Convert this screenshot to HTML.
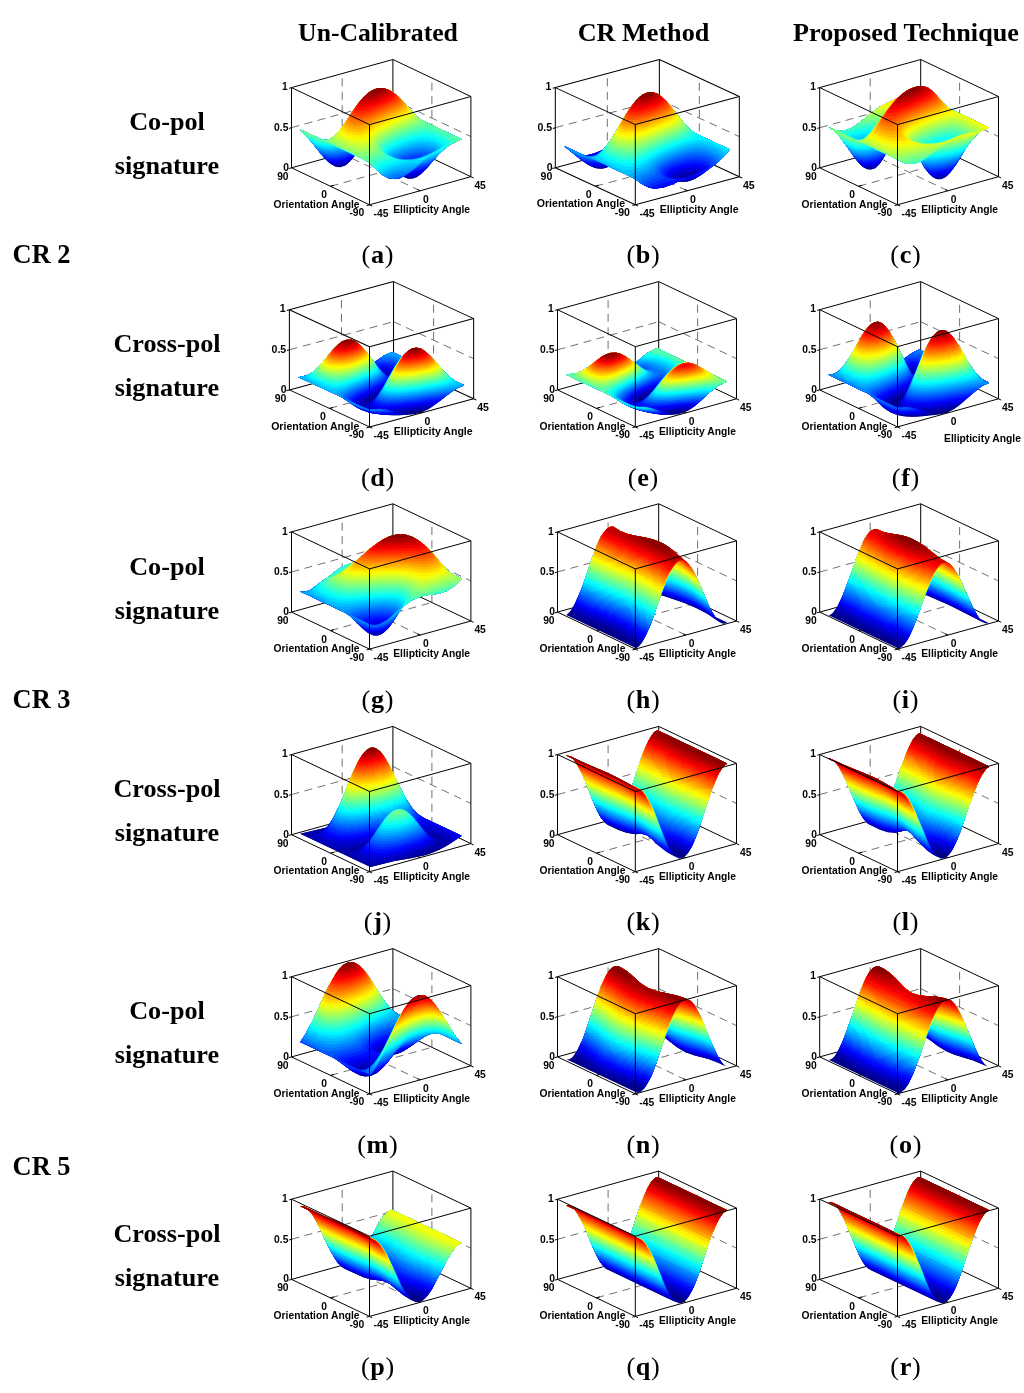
<!DOCTYPE html>
<html><head><meta charset="utf-8"><title>Polarization signatures</title>
<style>
html,body{margin:0;padding:0;background:#fff}
svg{display:block}
.ax path{stroke:#000;stroke-width:1;fill:none}
.ax path.d{stroke:#333;stroke-width:.7;stroke-dasharray:8 5.5}
.tk text{font:bold 10.3px "Liberation Sans",Arial,sans-serif;fill:#000}
.hd text{font:bold 26.2px "Liberation Serif","Times New Roman",serif;fill:#000}
.hd tspan.n{font-weight:normal}
</style></head><body>
<svg width="1024" height="1393" viewBox="0 0 1024 1393">
<rect width="1024" height="1393" fill="#fff"/>

<g class="hd">
<text x="378" y="41.3" text-anchor="middle" style="font-size:25.7px">Un-Calibrated</text>
<text x="643.5" y="41.3" text-anchor="middle">CR Method</text>
<text x="906" y="41.3" text-anchor="middle">Proposed Technique</text>
<text x="167" y="129.9" text-anchor="middle">Co-pol</text>
<text x="167" y="173.8" text-anchor="middle">signature</text>
<text x="167" y="352.3" text-anchor="middle">Cross-pol</text>
<text x="167" y="396.2" text-anchor="middle">signature</text>
<text x="167" y="574.6" text-anchor="middle">Co-pol</text>
<text x="167" y="618.5" text-anchor="middle">signature</text>
<text x="167" y="797" text-anchor="middle">Cross-pol</text>
<text x="167" y="840.9" text-anchor="middle">signature</text>
<text x="167" y="1019.3" text-anchor="middle">Co-pol</text>
<text x="167" y="1063.2" text-anchor="middle">signature</text>
<text x="167" y="1241.7" text-anchor="middle">Cross-pol</text>
<text x="167" y="1285.6" text-anchor="middle">signature</text>
<text x="12.6" y="263.2" style="font-size:26.4px">CR 2</text>
<text x="12.6" y="707.5" style="font-size:26.4px">CR 3</text>
<text x="12.6" y="1175.1" style="font-size:26.4px">CR 5</text>
<text x="377.8" y="263.2" text-anchor="middle" style="letter-spacing:.6px"><tspan class="n">(</tspan>a<tspan class="n">)</tspan></text>
<text x="643.3" y="263.2" text-anchor="middle" style="letter-spacing:.6px"><tspan class="n">(</tspan>b<tspan class="n">)</tspan></text>
<text x="905.8" y="263.2" text-anchor="middle" style="letter-spacing:.6px"><tspan class="n">(</tspan>c<tspan class="n">)</tspan></text>
<text x="377.8" y="485.6" text-anchor="middle" style="letter-spacing:.6px"><tspan class="n">(</tspan>d<tspan class="n">)</tspan></text>
<text x="643.3" y="485.6" text-anchor="middle" style="letter-spacing:.6px"><tspan class="n">(</tspan>e<tspan class="n">)</tspan></text>
<text x="905.8" y="485.6" text-anchor="middle" style="letter-spacing:.6px"><tspan class="n">(</tspan>f<tspan class="n">)</tspan></text>
<text x="377.8" y="707.9" text-anchor="middle" style="letter-spacing:.6px"><tspan class="n">(</tspan>g<tspan class="n">)</tspan></text>
<text x="643.3" y="707.9" text-anchor="middle" style="letter-spacing:.6px"><tspan class="n">(</tspan>h<tspan class="n">)</tspan></text>
<text x="905.8" y="707.9" text-anchor="middle" style="letter-spacing:.6px"><tspan class="n">(</tspan>i<tspan class="n">)</tspan></text>
<text x="377.8" y="930.3" text-anchor="middle" style="letter-spacing:.6px"><tspan class="n">(</tspan>j<tspan class="n">)</tspan></text>
<text x="643.3" y="930.3" text-anchor="middle" style="letter-spacing:.6px"><tspan class="n">(</tspan>k<tspan class="n">)</tspan></text>
<text x="905.8" y="930.3" text-anchor="middle" style="letter-spacing:.6px"><tspan class="n">(</tspan>l<tspan class="n">)</tspan></text>
<text x="377.8" y="1152.6" text-anchor="middle" style="letter-spacing:.6px"><tspan class="n">(</tspan>m<tspan class="n">)</tspan></text>
<text x="643.3" y="1152.6" text-anchor="middle" style="letter-spacing:.6px"><tspan class="n">(</tspan>n<tspan class="n">)</tspan></text>
<text x="905.8" y="1152.6" text-anchor="middle" style="letter-spacing:.6px"><tspan class="n">(</tspan>o<tspan class="n">)</tspan></text>
<text x="377.8" y="1375" text-anchor="middle" style="letter-spacing:.6px"><tspan class="n">(</tspan>p<tspan class="n">)</tspan></text>
<text x="643.3" y="1375" text-anchor="middle" style="letter-spacing:.6px"><tspan class="n">(</tspan>q<tspan class="n">)</tspan></text>
<text x="905.8" y="1375" text-anchor="middle" style="letter-spacing:.6px"><tspan class="n">(</tspan>r<tspan class="n">)</tspan></text>
</g>
<!-- plot a -->
<g>
<g class="ax">
<path d="M291.5 167.8L392.9 139.7"/>
<path d="M392.9 139.7L470.9 176.7"/>
<path d="M392.9 139.7L392.9 59.5"/>
<path d="M291.5 87.6L392.9 59.5"/>
<path d="M392.9 59.5L470.9 96.5"/>
<path d="M291.5 127.7L392.9 99.6" class="d"/>
<path d="M392.9 99.6L470.9 136.6" class="d"/>
<path d="M342.2 153.8L342.2 73.5" class="d"/>
<path d="M431.9 158.2L431.9 78" class="d"/>
<path d="M420.2 190.8L342.2 153.8" class="d"/>
<path d="M330.5 186.3L431.9 158.2" class="d"/>
</g>
<g transform="translate(298 86) scale(.25)" fill-rule="evenodd">
<path fill="#00008c" d="M9 174l45 50 48 60 23 23 20 13 11 4 13 1 18-6 9-6 16-16 16-20 36 17 19 12 55 50 25 13 11 3 23 0 11-3 13-7 20 9 18 0 17-7 17-13 21-21 47-55 30-28 19-13 45-21-162-77-14-10-22-22-37-43-27-26-21-15-28-11-22 0-18 5-19 11-16 13-19 20-17 22-50 75-21 28-20 20-14 9-14 4-18-2z"/>
<path fill="#0000a6" d="M9 174l45 50 48 60 23 23 20 13 8 3 29-3 8-3 22-20 16-20 36 17 19 12 55 50 25 13 11 3 23 0 11-3 13-7 16 8 18-1 21-5 17-13 21-21 47-55 30-28 19-13 45-21-162-77-14-10-22-22-37-43-27-26-21-15-28-11-22 0-18 5-19 11-16 13-19 20-17 22-50 75-21 28-20 20-14 9-14 4-18-2z"/>
<path fill="#0000bf" d="M9 174l45 50 48 60 23 23 11 8 12 3 21-1 32-9 27-31 36 17 19 12 55 50 25 13 11 3 23 0 11-3 13-7 5 3 13 0 31-4 17-5 27-26 47-55 17-17 32-24 45-21-162-77-14-10-22-22-37-43-27-26-21-15-28-11-22 0-18 5-19 11-16 13-19 20-17 22-50 75-21 28-20 20-14 9-14 4-18-2z"/>
<path fill="#0000d9" d="M9 174l45 50 48 60 27 26 30 2 32-6 21-9 16-20 36 17 19 12 55 50 25 13 11 3 23 0 11-3 13-7 4 1 10-4 27-2 35-10 81-89 32-24 45-21-162-77-14-10-22-22-37-43-27-26-21-15-28-11-22 0-18 5-19 11-16 13-19 20-17 22-50 75-21 28-20 20-14 9-14 4-18-2z"/>
<path fill="#0000f2" d="M9 174l45 50 48 60 19 19 12 3 28 0 33-7 25-11 9-11 36 17 19 12 55 50 25 13 11 3 23 0 8-2 16-8 2 1 19-10 40-6 23-8 56-64 30-28 19-13 45-21-162-77-14-10-22-22-37-43-27-26-21-15-28-11-22 0-18 5-19 11-16 13-19 20-17 22-50 75-21 28-20 20-14 9-14 4-18-2z"/>
<path fill="#000dff" d="M9 174l45 50 27 35 32 36 18 5 26 0 15-2 32-9 19-10 2 1 3-3 36 17 19 12 55 50 25 13 11 3 23 0 8-2 29-13 18-11 26-4 36-12 47-55 30-28 19-13 45-21-162-77-14-10-22-22-37-43-27-26-21-15-28-11-22 0-18 5-19 11-16 13-19 20-17 22-50 75-21 28-20 20-14 9-14 4-18-2z"/>
<path fill="#0026ff" d="M9 174l45 50 51 63 17 6 30 1 32-5 31-12 7 0 3 2 3-2 36 17 19 12 55 50 25 13 11 3 23 0 11-3 25-12 28-19 29-5 31-11 40-47 30-28 19-13 45-21-162-77-14-10-22-22-37-43-27-26-21-15-28-11-22 0-18 5-19 11-16 13-19 20-17 22-50 75-21 28-20 20-14 9-14 4-18-2z"/>
<path fill="#0040ff" d="M9 174l45 50 45 56 21 7 29 1 47-9 12-6 16 5 4-1 36 17 19 12 55 50 25 13 11 3 23 0 11-3 27-14 36-25 40-9 19-9 31-37 30-28 19-13 45-21-162-77-14-10-22-22-37-43-27-26-21-15-28-11-22 0-18 5-19 11-16 13-19 20-17 22-50 75-21 28-20 20-14 9-14 4-18-2z"/>
<path fill="#0059ff" d="M503 278l-9 6-4 0-8 4-25 5-28 0-8-3 3-3 18-3 12-5 9 0 16-4 19 0zM9 174l45 50 38 48 14 6 10 1 2 2 6-1 10 2 34-3 31-9 8 0 18 8 3-1 36 17 19 12 55 50 25 13 11 3 23 0 11-3 24-13 44-32 7-3 25-5 27-11 26-30 30-28 19-13 45-21-162-77-14-10-22-22-37-43-27-26-21-15-28-11-22 0-18 5-19 11-16 13-19 20-17 22-50 75-21 28-20 20-14 9-14 4-18-2z"/>
<path fill="#0073ff" d="M523 270l-2 3-27 12-34 8-38 1-20-6 4-1 3-4 6 0 4-4 16-2 4-3 13-2 9-4 25-3 22 0 5 3 5-2zM9 174l45 50 32 40 22 9 4-1 11 3 33-1 30-6 7-3 11 3 21 10 3-1 48 24 27 22 32 31 15 9 24 9 13 0 0-2 4-3 22-6 5 1 32-19 35-27 30-8 26-10 20-23 34-31 15-10 45-21-162-77-14-10-22-22-37-43-27-26-21-15-28-11-22 0-18 5-19 11-16 13-19 20-17 22-50 75-21 28-20 20-14 9-14 4-18-2z"/>
<path fill="#008cff" d="M539 263l-15 10-41 16-25 5-39 0-23-5-7-4 5-4 3 0 2-3 4 0 2-3 8-1 2-4 10 0 8-6 45-9 25-1 3 2 5-1 5 3 5-2 8 6 6-2zM9 174l45 50 25 32 20 7 4 3 7 0 3 2 6-1 18 2 27-3 15-4 11 0 36 16 2-1 48 24 27 22 32 31 31 16-1-2 7-5 19-7 52-11 11-6 40-31 10-4 12-2 32-12 30-32 17-14 15-10 45-21-162-77-14-10-22-22-37-43-27-26-21-15-28-11-22 0-18 5-19 11-16 13-19 20-17 22-50 75-21 28-20 20-14 9-14 4-18-2z"/>
<path fill="#00a6ff" d="M550 257l-8 7-37 18-24 8-20 4-48 0-23-6-12-7 13-9 4 0 2-3 5 0 2-4 6 0 2-3 11-1 4-5 12-1 19-7 6 1 21-5 28 0 4 3 4-2 9 6 7-2zM9 174l45 50 20 25 25 10 8 0 11 3 6-1 10 2 36-6 9 0 14 5 33 16 2-1 48 24 27 22 32 31 18 10 0-2 5-4 21-9 29-8 51-9 46-33 34-10 16-7 23-24 17-14 15-10 45-21-162-77-14-10-22-22-37-43-27-26-21-15-28-11-22 0-18 5-19 11-16 13-19 20-17 22-50 75-21 28-20 20-14 9-14 4-18-2z"/>
<path fill="#00bfff" d="M561 251l-17 13-30 15-31 11-24 5-37 1-12-2-30-9-11-8 11-9 7-2 2-3 7-3 3 1 2-4 7 0 2-4 10 0 0-3 3-2 27-5 15-6 7 0 10-3 33 0 4 3 4-2 9 5 5-2zM9 174l59 67 29 12 9 0 11 3 21 0 30-4 26 10 45 20 37 19 27 22 32 31 7 4 9-9 22-9 54-14 46-6 41-29 33-10 16-7 15-16 32-24 45-21-162-77-14-10-22-22-37-43-27-26-21-15-28-11-22 0-18 5-19 11-16 13-19 20-17 22-50 75-21 28-20 20-14 9-14 4-18-2z"/>
<path fill="#00d9ff" d="M571 244l-8 9-41 23-27 11-37 9-39 0-17-3-26-9-15-10 0-2 7-7 14-8 3 0 2-3 3 1 2-4 5 0 2-3 7 0 2-4 9 0 2-5 15-1 9-6 17-2 11-4 37-3 4 2 6-1 2 2 7-1 5 4 4 0 2-2zM9 174l48 55 11 7 13 6 26 7 23 1 29-3 27 11 90 43 27 22 30 29 1-3 12-10 38-14 51-12 53-6 38-25 42-14 23-21 19-13 45-21-162-77-14-10-22-22-37-43-27-26-21-15-28-11-22 0-18 5-19 11-16 13-19 20-17 22-50 75-21 28-20 20-14 9-14 4-18-2z"/>
<path fill="#00f2ff" d="M9 174l45 50 20 10 13 3 8 4 26 3 26-2 49 20 80 39 27 22 22 22 2-6 4-4 19-10 47-15 43-11-28-3-20-5-23-10-15-10 0-4 14-12 21-10 1-2 6 0 1-4 7 0 2-4 8 0 3-4 12-1 5-5 25-7 10 0 13-4 14 0 6-2 5 2 12-1 5 3 3-2 8 5 6-2 9 6 27 12 4 7-29 19-37 19-39 14 26 1 29-19 44-15 16-14 19-13 45-21-162-77-14-10-22-22-37-43-27-26-21-15-28-11-22 0-18 5-19 11-16 13-19 20-17 22-50 75-21 28-20 20-14 9-14 4-18-2z"/>
<path fill="#0dfff2" d="M9 174l37 41 29 14 11 2 5 3 10 1 3 2 26-1 14 3 53 23 79 39 18 14 24 23 0-7 13-10 68-25-3-3-15-5-23-12-12-12 18-17 14-8 9-2 2-4 5 0 2-3 6 0 2-4 8 0 3-4 12-1 4-5 11-1 32-10 15-1 4-2 35 1 8 5 6-2 29 16 16 6 2 5 4 3-49 31-25 12-2 2 3 0 27-15 38-13 25-19 45-21-162-77-14-10-22-22-37-43-27-26-21-15-28-11-22 0-18 5-19 11-16 13-19 20-17 22-50 75-21 28-20 20-14 9-14 4-18-2z"/>
<path fill="#26ffd9" d="M9 174l18 21 13 12 33 16 30 8 21 0 7 2 67 29 78 39 18 14 16 16-1-8 6-7 23-11 33-12 6-4-4-4-18-10-13-12-1-6 5-6 17-14 11-4 2-3 4 0 1-3 5 0 1-3 6 0 2-4 6 1 2-4 8 0 3-5 10 0 4-5 13-1 7-5 35-8 36-2 4 2 5-1 7 4 5-2 21 12 8-1 7 3 5 7 13 5 9 9 0 3-3 3-38 22 29-10 19-13 45-21-162-77-14-10-22-22-37-43-27-26-21-15-28-11-22 0-18 5-19 11-16 13-19 20-17 22-50 75-21 28-20 20-14 9-14 4-18-2z"/>
<path fill="#40ffbf" d="M9 174l20 23 45 21 17 5 28 4 105 47 6 5 41 19 16 11 15 14 1-1-4-9 6-6 15-8 30-11 9-6 0-2-10-8-13-15 1-8 10-11 9-7 3 0 13-7 3-4 3 1 2-3 5 0 1-3 6 0 2-4 6 0 2-4 8 0 3-4 8 1 3-5 12-1 6-5 11-1 20-7 25-5 29 0 5 3 8 0 18 9 7-1 27 13 5 7 12 5 6 7 0 5-23 14 9-2 9-6 45-21-162-77-14-10-22-22-37-43-27-26-21-15-28-11-22 0-18 5-19 11-16 13-19 20-17 22-50 75-21 28-20 20-14 9-14 4-18-2z"/>
<path fill="#59ffa6" d="M9 174l12 14 51 24 48 14 105 48 5 5 41 19 25 19-7-14 5-5 21-10 8-2 20-11 1-5-11-13-3-9 5-11 9-8 19-12 8-2 2-3 4 0 1-3 6 0 2-4 5 1 1-4 7 0 2-4 7 1 3-5 8 0 2-3 10-1 5-5 11-1 7-5 9-1 35-10 25-1 4 2 8 0 14 7 10 1 52 25 6 7 9 4 4 5-2 6-5 4 32-15-162-77-14-10-22-22-37-43-27-26-21-15-28-11-22 0-18 5-19 11-16 13-19 20-17 22-50 75-21 28-20 20-14 9-14 4-18-2z"/>
<path fill="#73ff8c" d="M515 147l-22-11-14-10-22-22-37-43-19-19-21-17-20-11-12-4-26-1-18 5-13 7-15 11-18 17-33 42-42 64-21 28-20 20-10 7-18 6-18-2-87-40 6 7 29 14 74 29 104 48 8 7 34 15 22 15 4 1-1-3-11-6-4-7 4-4 49-21 4-4 0-6-6-12 0-9 2-4 17-16 4-1 9-7 7-2 2-3 4 0 2-3 3 1 3-4 4 0 3-3 4 1 2-4 7 0 2-4 6 1 2-4 8 0 3-5 9 0 1-3 8-1 20-9 51-16z"/>
<path fill="#8cff73" d="M491 138l-1-4-11-8-22-22-37-43-19-19-21-17-20-11-16-5-29 1-11 4-19 11-27 24-33 42-42 64-21 28-20 20-14 9-9 2-3 3 0 3 40 21 70 31 6 7 2-2 10 3 16-1 38-11 19-10 3-5 0-23 10-12 14-10 9-4 2-3 3 1 12-9 4 1 2-3 5 0 2-4 6 0 2-4 5 1 2-4 7 1 2-4 8-1 2-4 8 0 1-3 9-1 3-3 8-1 2-3 5 0 6-4 17-6 12-7z"/>
<path fill="#a6ff59" d="M479 126l-22-22-37-43-19-19-21-17-20-11-16-5-29 1-11 4-19 11-16 13-19 20-25 33-47 71-16 21-27 25 0 6 4 5 16 7 3 5 8 5 29 13 11 1 19 10 19 3 16 0 18-3 18-6 10-6 4-6 2-13 4-9 16-15 4-1 9-7 11-4 3-4 2 1 8-6 5 0 1-3 5 0 2-3 6 0 2-4 5 1 2-4 7 0 1-3 8 0 1-4 6 0 3-4 7 0 3-3 6-1 3-3 5 0 3-3 11-4 17-11z"/>
<path fill="#bfff40" d="M470 117l-50-56-19-19-21-17-20-11-16-5-29 1-11 4-19 11-16 13-19 20-25 33-47 71-16 21-17 17 2 8 7 7 39 17 22 12 8 0 7 4 5-1 5 2 26 0 13-3 17-8 6-7 9-19 16-14 11-7 7-2 2-3 8-2 1-4 10-2 2-3 5 0 1-4 5 1 2-4 5 1 2-4 6 1 2-4 6 0 3-4 4 1 4-4 6 0 2-4 13-3 2-3 4 0 21-11 8-7z"/>
<path fill="#d9ff26" d="M463 110l-43-49-19-19-21-17-20-11-16-5-29 1-11 4-19 11-16 13-19 20-25 33-47 71-24 29 0 6 3 5 6 3 0 3 20 8 27 14 5-1 11 5 4-1 11 3 30-2 16-7 22-26 24-18 15-6 2-3 9-2 2-4 4 1 1-3 5 0 3-4 4 1 2-4 6 0 1-3 6 0 1-3 7 0 2-4 5 0 2-3 13-3 1-3 6-1 1-2 15-6 14-10 3-6z"/>
<path fill="#f2ff0d" d="M455 101l-35-40-19-19-24-19-17-9-16-5-29 1-11 4-19 11-16 13-19 20-25 33-42 64-21 27 0 7 3 5 6 2 6 8 27 12 6-1 11 6 6-1 11 3 30-2 13-6 24-23 24-17 29-13 2-3 4 1 1-4 6 0 1-3 5 0 2-3 5 0 2-3 6 0 1-3 5 0 2-3 6 0 2-4 5 0 1-2 27-12 13-11 2-4z"/>
<path fill="#fff200" d="M448 93l-47-51-24-19-17-9-16-5-29 1-11 4-19 11-16 13-19 20-25 33-42 64-14 18 0 6 5 8 8 3 6 7 9 4 6-1 13 7 7 0 4 2 5-1 4 2 27-2 14-6 32-25 20-10 3-4 7-2 2-3 3 1 2-3 5 0 1-3 5 0 1-3 5 0 8-6 5 0 1-3 6 0 1-3 6 0 1-3 5 0 3-4 10-2 2-3 10-3 16-9 10-9 2-4z"/>
<path fill="#ffd900" d="M442 86l-41-44-29-22-28-11-29 1-11 4-19 11-16 13-19 20-25 33-49 73 0 7 7 9 30 14 5-1 5 3 27 1 15-3 59-37 8-2 2-3 8-2 8-6 11-2 2-4 5 0 1-3 6 0 1-3 5 0 2-3 5 0 2-3 4 0 2-3 5 0 1-3 10-3 17-9 10-8 4-8z"/>
<path fill="#ffbf00" d="M437 81l-36-39-29-22-28-11-29 1-11 4-19 11-16 13-19 20-25 33-42 63-1 8 9 8 1 3 16 7 4-1 8 4 25 2 21-5 34-20 24-11 7-6 16-5 1-3 5 0 2-3 5 0 8-6 5 0 2-3 5 0 1-3 5 0 2-3 4 0 2-3 4 0 5-2 2-3 7-2 19-13 5-7z"/>
<path fill="#ffa600" d="M430 73l-29-31-29-22-28-11-29 1-11 4-19 11-27 24-33 42-36 54-1 6 4 5 0 3 10 3 14 8 7 0 3 2 29-1 14-5 30-16 3 0 6-5 3 0 7-5 15-6 1-2 5 0 8-6 5 0 2-4 3 1 3-3 5 0 1-3 4 0 3-4 11-2 2-3 4 0 8-6 15-6 16-14z"/>
<path fill="#ff8c00" d="M424 66l-23-24-29-22-28-11-29 1-11 4-19 11-27 24-33 42-30 45-1 4 2 5 8 8 7 3 7 0 5 3 22 1 25-6 32-15 2-3 8-2 3-3 4 0 2-3 10-2 1-3 11-3 2-4 11-2 2-4 5 0 8-5 5 0 1-3 4 0 3-3 4 0 2-3 6-1 19-12 7-7z"/>
<path fill="#ff7300" d="M417 58l-29-27-28-17-16-5-22 0-10 2-27 14-27 24-33 42-24 36 0 6 4 6 15 7 7 0 3 2 22-1 12-3 39-16 2-3 16-5 2-3 11-3 2-3 5 0 2-3 5 0 2-3 4 0 2-3 5 0 1-3 5 0 2-3 4 0 2-3 4 0 1-2 9-3 2-3 7-2 11-7 8-10z"/>
<path fill="#ff5900" d="M411 52l-31-27-20-11-16-5-22 0-10 2-27 14-27 24-25 31-26 38 1 7 12 7 16 4 21-2 21-6 36-17 4 0 3-3 4 0 2-3 5 0 2-3 5 0 8-6 5 0 3-4 3 1 2-3 4 0 3-3 19-8 15-9 8-8z"/>
<path fill="#ff4000" d="M404 45l-24-20-20-11-16-5-22 0-10 2-27 14-27 24-33 42-12 18 1 5 6 6 5 2 29 1 35-10 13-7 5 0 2-3 4 0 4-4 5 0 2-3 5 0 2-3 5 0 2-3 5 0 2-3 11-3 2-3 28-12 15-12 4-7z"/>
<path fill="#ff2600" d="M398 40l-18-15-20-11-16-5-22 0-10 2-21 10-22 17-23 25-21 28-5 10 5 7 15 4 18-1 29-8 7-4 6-1 3-3 6 0 3-4 5 0 3-3 4 0 3-4 14-3 9-6 14-5 2-3 3 0 21-13 6-6z"/>
<path fill="#ff0d00" d="M390 33l-18-13-24-10-26-1-10 2-21 10-22 17-19 20-23 32 2 4 7 5 6-1 11 2 17-3 34-11 2-2 7-1 3-4 13-3 3-4 4 0 19-8 25-14 10-10z"/>
<path fill="#f20000" d="M382 27l-22-13-16-5-22 0-10 2-21 10-22 17-19 20-15 21 2 5 5 3 20 0 41-11 6-4 6 0 4-4 11-3 4-4 5 0 8-6 4 0 20-11 10-9z"/>
<path fill="#d90000" d="M374 22l-14-8-16-5-22 0-10 2-16 7-20 14-18 17-15 20 4 4 6 2 14 0 40-11 4-3 16-5 1-2 5-1 29-15 10-8 2-3z"/>
<path fill="#bf0000" d="M365 17l-21-8-22 0-18 5-19 11-16 13-17 18 1 4 3 2 19 0 43-13 22-10 24-16z"/>
<path fill="#a60000" d="M355 13l-11-4-22 0-10 2-27 14-22 20 4 4 13 0 21-5 40-17 10-7z"/>
<path fill="#8c0000" d="M340 9l-18 0-18 5-19 11-7 6 0 2 2 2 8 0 17-4 27-12 8-7z"/>
</g>
<g class="ax">
<path d="M291.5 167.8L369.5 204.8"/>
<path d="M369.5 204.8L470.9 176.7"/>
<path d="M291.5 167.8L291.5 87.6"/>
<path d="M470.9 176.7L470.9 96.5"/>
<path d="M291.5 87.6L369.5 124.6"/>
<path d="M369.5 124.6L470.9 96.5"/>
<path d="M369.5 204.8L369.5 124.6"/>
<path d="M330.5 186.3L334 185.3"/>
<path d="M420.2 190.8L417.4 189.4"/>
<path d="M369.5 204.8L366.6 205.6"/>
<path d="M369.5 204.8L372.2 206.1"/>
<path d="M291.5 167.8L288.6 168.6"/>
<path d="M470.9 176.7L473.6 178"/>
<path d="M291.5 127.7L289.1 128.4"/>
<path d="M291.5 87.6L289.1 88.3"/>
</g>
<g class="tk"><text x="288.9" y="170.8" text-anchor="end">0</text><text x="288.4" y="130.9" text-anchor="end">0.5</text><text x="287.8" y="90.3" text-anchor="end">1</text><text x="288.6" y="179.6" text-anchor="end">90</text><text x="324.1" y="198.3" text-anchor="middle">0</text><text x="364.3" y="216.2" text-anchor="end">-90</text><text x="373.5" y="216.6">-45</text><text x="425.8" y="202.7" text-anchor="middle">0</text><text x="474.4" y="188.7">45</text><text x="359.6" y="207.5" text-anchor="end">Orientation Angle</text><text x="393.2" y="212.6">Ellipticity Angle</text></g>
</g>
<!-- plot b -->
<g transform="translate(635.3 0) scale(1.028 1) translate(-635.3 0)">
<g class="ax">
<path d="M557.5 167.8L658.7 139.7"/>
<path d="M658.7 139.7L736.5 176.7"/>
<path d="M658.7 139.7L658.7 59.5"/>
<path d="M557.5 87.6L658.7 59.5"/>
<path d="M658.7 59.5L736.5 96.5"/>
<path d="M557.5 127.7L658.7 99.6" class="d"/>
<path d="M658.7 99.6L736.5 136.6" class="d"/>
<path d="M608.1 153.8L608.1 73.5" class="d"/>
<path d="M697.6 158.2L697.6 78" class="d"/>
<path d="M685.9 190.8L608.1 153.8" class="d"/>
<path d="M596.4 186.3L697.6 158.2" class="d"/>
</g>
<g transform="translate(564 90) scale(.25)" fill-rule="evenodd">
<path fill="#00008c" d="M653 237l-67-31-22-12-14-5-35-18-12-9-15-14-17-20-27-37-38-47-29-25-10-6-14-4-20 1-18 8-12 9-15 15-29 39-72 123-27 35-36 15-24 6-14 1-77-37 10 10 60 49 23 16 15 8 16 6 24 2 16-4 9-5 86 41 19 11 22 17 24 13 11 4 17 2 31-3 36-13 25-12 11 2 22-1 28-10 30-19 63-49 32-33z"/>
<path fill="#0000a6" d="M653 237l-67-31-22-12-14-5-35-18-12-9-15-14-17-20-27-37-38-47-29-25-10-6-14-4-20 1-18 8-12 9-15 15-29 39-72 123-27 35-36 15-24 6-14 1-77-37 10 10 60 49 23 16 15 8 16 6 17 2 20-3 12-6 86 41 19 11 22 17 24 13 11 4 17 2 31-3 36-13 25-12 11 2 18-1 15-3 17-7 30-19 63-49 32-33z"/>
<path fill="#0000bf" d="M516 335l-10 6-31 9-18 2-12-1-2-2 11-7 29-8 16-2 10 2 5-1zM653 237l-67-31-22-12-14-5-35-18-12-9-15-14-17-20-27-37-38-47-29-25-10-6-14-4-20 1-18 8-12 9-15 15-29 39-72 123-27 35-36 15-24 6-14 1-77-37 10 10 60 49 23 16 23 11 27 0 18-4 8 2 4-2 86 41 19 11 22 17 24 13 11 4 17 2 31-3 36-13 25-12 4 1 6-3 36-4 22-7 23-15 63-49 32-33z"/>
<path fill="#0000d9" d="M535 327l-6 5-22 10-33 9-28 2-12-1-7-4 6-7 15-8 32-9 18-3 20 0 6 3 4-1zM653 237l-67-31-22-12-14-5-35-18-12-9-15-14-17-20-27-37-38-47-29-25-10-6-14-4-20 1-18 8-12 9-15 15-29 39-72 123-27 35-36 15-24 6-14 1-77-37 57 49 43 30 20 3 39-3 10 4 4-1 86 41 19 11 22 17 24 13 11 4 17 2 31-3 36-13 36-16 39-7 23-6 8-4 73-56 32-33z"/>
<path fill="#0000f2" d="M549 319l-5 7-18 9-35 13-26 5-33 0-13-4-3-3 1-5 6-6 12-7 3 0 15-8 13-2 9-4 30-4 20 0 5 3 9 0zM653 237l-67-31-22-12-14-5-35-18-12-9-15-14-17-20-27-37-38-47-29-25-10-6-14-4-20 1-18 8-12 9-15 15-29 39-72 123-27 35-36 15-24 6-14 1-77-37 57 49 32 23 24 5 38-2 19 8 3-1 86 41 19 11 22 17 24 13 11 4 17 2 31-3 36-13 33-16 17-6 41-9 22-7 66-51 32-33z"/>
<path fill="#000dff" d="M561 314l-8 8-25 13-19 8-32 9-13 2-32 0-15-4-7-4-4-5 3-7 6-6 18-10 23-9 32-8 14 0 4-2 30 2 5 3 7 0 7 3zM653 237l-67-31-22-12-14-5-35-18-12-9-15-14-17-20-27-37-38-47-29-25-10-6-14-4-20 1-18 8-12 9-15 15-29 39-51 89-27 43-21 26-12 5-2 4-11 9-7 4-12 3-11 0-10-4-9 1-77-37 10 10 67 54 33 8 33-1 28 12 2-1 86 41 19 11 22 17 24 13 11 4 17 2 17-1 3-4 30-8 6 1 23-9 18-11 11-3 12-6 69-20 57-44 32-33z"/>
<path fill="#0026ff" d="M653 237l-67-31-22-12-14-5-35-18-12-9-15-14-17-20-27-37-38-47-29-25-10-6-14-4-20 1-18 8-12 9-15 15-29 39-51 89-27 43-18 23-9 5-14 14-13 7-12 3-15-1-9-4-5 1-77-37 10 10 58 47 31 9 33 0 17 6 110 51 19 11 30 22 27 12 6 0 5-6 16-7 74-21-24-5-14-6-8-7-1-7 8-10 12-8 12-5 3-3 19-5 10-5 50-9 7 0 3 2 3-2 4 2 4-1 6 3 5-1 23 11 5 7-5 6-38 21 32-11 46-36 32-33z"/>
<path fill="#0040ff" d="M653 237l-67-31-22-12-14-5-35-18-12-9-15-14-17-20-27-37-38-47-29-25-10-6-14-4-20 1-18 8-12 9-15 15-29 39-51 89-27 43-18 23-8 5-14 14-13 7-10 3-20-1-19-6-70-34 54 46 26 11 17 4 27 1 24 9 111 52 19 11 22 17 24 13 4-6 9-6 51-20 5-7-13-15 2-9 9-10 36-19 6 0 4-4 9-1 28-9 8 0 10-3 26-1 3 2 15 0 7 4 8 0 12 6 8 8 0 8-18 14 8-2 37-29 32-33z"/>
<path fill="#0059ff" d="M653 237l-67-31-22-12-14-5-35-18-12-9-15-14-17-20-27-37-38-47-29-25-10-6-14-4-20 1-18 8-12 9-15 15-29 39-51 89-27 43-18 23-26 22-21 8-12 0-12-3-37-16-46-23 47 40 33 13 37 5 39 16 16 9 1-1 86 41 16 9 22 17 15 9 3-7 6-5 47-22 5-6-2-16 5-10 10-9 20-12 14-6 5 0 5-4 9-1 4-4 27-7 30-5 4 1 15-2 3 2 6-1 2 2 6-1 4 3 7-1 29 14 6 11-8 12 24-19 24-24z"/>
<path fill="#0073ff" d="M653 237l-67-31-22-12-14-5-35-18-12-9-15-14-17-20-27-37-38-47-29-25-10-6-14-4-20 1-18 8-12 9-15 15-29 39-51 89-27 43-18 23-22 20-13 7-11 3-19-1-43-18-46-23 35 30 28 13 23 7 18 2 40 16 39 20 3 0 73 35 19 11 24 18 0-8 7-7 44-22 6-7 2-10 4-8 7-8 19-13 21-9 3-3 4 0 5-4 7 0 5-4 41-10 6-3 22-3 23 0 3 2 5-1 5 3 6-1 11 6 5-2 15 8 2 4 7 4 4 6 0 5-3 6 34-32z"/>
<path fill="#008cff" d="M653 237l-67-31-22-12-14-5-35-18-12-9-15-14-17-20-27-37-38-47-29-25-10-6-14-4-20 1-18 8-12 9-15 15-29 39-51 89-27 43-18 23-26 23-10 5-12 3-11 0-13-3-3-3-33-14-46-23 24 21 42 19 40 11 52 23 25 14 3 0 73 35 16 9 19 14-4-7 0-5 12-9 38-18 7-6 13-21 8-7 24-15 9-3 2-3 5 0 2-3 7-1 2-3 6 0 4-3 11-2 6-5 14-2 20-7 33-4 15 0 3 2 5-1 3 2 8 0 7 4 6-1 31 15 1 3 7 6 2 10 29-30z"/>
<path fill="#00a6ff" d="M653 237l-67-31-22-12-14-5-35-18-12-9-15-14-17-20-27-37-38-47-29-25-10-6-14-4-20 1-18 8-12 9-15 15-29 39-51 89-27 43-18 23-22 21-13 7-10 3-18 0-10-2-3-4-78-37 15 13 5 1 33 17 41 14 63 28 26 15 3 0 73 35 25 16 0-2-8-8 0-4 5-5 48-22 31-31 40-23 11-3 5-4 6 0 2-3 10-2 2-3 15-2 15-7 26-6 23-3 20 0 5 3 5-1 6 4 10 0 17 10 24 10 10 14 18-19z"/>
<path fill="#00bfff" d="M107 269l73 34 6 6 86 41-7-7 0-3 3-3 55-21 13-8 21-20 23-15 15-8 8-2 2-3 5 0 2-3 5 0 4-4 6 0 3-4 6 0 9-5 7 0 6-5 11-1 34-11 41-3 3 2 7 0 5 3 6-1 16 9 7-1 19 9 3 5 13 6 8 9 22-28-138-66-19-15-15-16-58-76-25-28-18-15-13-8-14-4-15 0-11 3-17 9-22 21-12 15-25 37-64 110-29 38-24 20-16 6z"/>
<path fill="#00d9ff" d="M130 269l9 8 70 34 27 9 18 2 21-3 33-10 23-12 11-10 25-17 28-15 4 0 3-3 5-1 2-3 6 0 2-3 7 0 2-4 8 0 2-4 11-1 3-4 12-2 10-5 30-8 21-4 27 0 5 3 5-1 14 7 7-1 45 22 3 5 11 6 13-17-138-66-19-15-15-16-58-76-25-28-18-15-13-8-14-4-15 0-11 3-17 9-22 21-29 39-51 89-27 43-25 32-13 12-13 9z"/>
<path fill="#00f2ff" d="M143 261l4 6 9 4 9 8 37 17 9 1 12 6 6 0 7 3 30 1 25-5 17-6 12-6 41-27 8-3 12-8 10-3 1-3 5 0 2-3 5 0 3-4 6 0 1-3 7 0 4-4 3 1 5-4 7 0 6-5 9-1 5-4 9-1 9-5 41-11 12-2 27 2 7 4 12 2 70 35 2 0 4-6-138-66-19-15-15-16-58-76-25-28-18-15-13-8-14-4-15 0-11 3-17 9-22 21-12 15-25 37-64 110-28 38-14 14z"/>
<path fill="#0dfff2" d="M529 181l-2-4-12-6-27-23-25-30-44-59-21-23-18-15-13-8-14-4-15 0-11 3-17 9-22 21-12 15-25 37-59 102-11 17-18 22-3 7-7 8 0 4 6 8 15 6 8 8 9 4 8 0 17 9 8 0 8 4 5-1 3 2 29 0 16-3 37-15 24-15 15-7 6-5 14-5 2-3 4 0 3-3 4 0 3-4 4 0 2-3 7 0 2-3 6 0 3-4 7 0 3-4 7 0 3-4 9-1 1-2 10-2 5-4 9-1 5-4 38-12 10-5z"/>
<path fill="#26ffd9" d="M512 171l-2-4-14-11-15-16-62-81-31-32-24-15-11-3-20 1-18 8-12 9-15 15-21 27-34 55-25 46-21 34-24 31-2 11 9 10 14 5 31 16 5-1 7 4 5-1 3 2 31 1 18-3 28-10 47-26 26-11 2-3 5 0 2-3 5 0 3-4 5 0 3-3 6 1 3-5 5 1 3-4 6 0 5-4 6 0 4-4 8-1 3-3 4 0 6-4 5 0 6-4 4 0 24-12 4-5z"/>
<path fill="#40ffbf" d="M502 161l-14-13-17-20-57-75-26-26-24-15-11-3-20 1-18 8-12 9-15 15-21 27-34 55-28 51-24 38-13 16-1 4 4 9 4 2 3 5 32 15 7-1 9 5 5-1 13 4 24-1 17-3 30-11 29-16 8-2 2-3 4 0 7-5 11-3 8-6 5 0 2-3 6-1 2-3 6 0 2-3 6 0 2-4 8 0 2-4 7 0 2-3 8-1 1-3 7 0 3-4 7-1 37-18 4-6z"/>
<path fill="#59ffa6" d="M494 154l-31-36-49-65-26-26-24-15-11-3-20 1-18 8-12 9-15 15-21 27-34 55-28 51-30 45-1 7 4 8 7 2 2 5 20 9 7 0 10 5 5-1 5 3 5-1 3 2 19 0 21-3 26-8 36-18 16-6 3-3 4 0 2-3 11-3 2-3 6 0 1-3 7 0 1-3 6 0 2-4 6 0 2-3 7 0 2-4 7 0 3-4 6 0 1-3 6 0 4-4 5 0 3-3 4 0 3-3 21-10 7-7z"/>
<path fill="#73ff8c" d="M485 144l-22-26-44-59-31-32-24-15-11-3-20 1-18 8-12 9-15 15-21 27-34 55-28 51-24 37-1 6 5 7-1 1 10 4 4 6 5 2 8 0 10 6 6-1 6 4 4-2 4 2 15 1 26-3 41-14 16-9 11-3 2-3 12-3 1-3 5 0 2-3 5 0 5-4 2 1 3-4 6 0 2-3 6 0 2-3 6 0 3-5 4 1 4-4 6 0 2-3 6 0 3-3 6-1 2-3 11-3 26-16 4-5z"/>
<path fill="#8cff73" d="M479 137l-60-78-31-32-24-15-11-3-20 1-18 8-12 9-15 15-21 27-34 55-25 46-20 31-2 9 6 9 16 6 13 8 7-1 4 3 6-1 3 2 5-1 10 2 35-5 13-6 18-5 3-3 13-4 3-3 12-3 1-3 6-1 2-3 6 0 2-2 4 0 4-4 6 0 1-3 6 0 2-4 6 1 4-5 3 1 4-4 6 0 1-3 6 0 2-3 6-1 2-3 5 0 3-3 4 0 3-3 9-3 19-13 3-4z"/>
<path fill="#a6ff59" d="M473 130l-54-71-31-32-24-15-11-3-20 1-18 8-12 9-15 15-21 27-76 128 1 6 6 5 0 3 23 11 4-2 8 4 6-1 2 2 28 0 18-3 26-8 4-3 4 0 6-4 14-4 3-3 5 0 2-3 5 0 5-4 4 0 3-4 5 1 2-4 6 0 2-3 5 0 5-4 3 1 4-4 6 0 2-3 5 0 2-3 6-1 2-3 5 0 3-3 4 0 1-2 11-4 18-11 6-6z"/>
<path fill="#bfff40" d="M468 124l-49-65-31-32-24-15-11-3-20 1-18 8-12 9-15 15-21 27-34 55-25 46-11 17 0 5 2 5 6 3-1 3 15 7 7-1 7 4 6-1 11 3 35-3 16-6 12-2 9-5 5 0 2-3 8-1 3-3 5 0 3-4 6 0 2-3 7 0 1-4 6 0 3-3 6 0 2-3 6 0 4-5 5 1 2-4 6 0 1-3 6 0 2-3 6 0 1-3 11-3 2-3 13-5 14-9 6-7z"/>
<path fill="#d9ff26" d="M462 116l-43-57-31-32-24-15-11-3-20 1-23 11-22 21-29 39-56 96-1 7 2 5 7 2 4 6 9 0 9 5 5-1 6 3 21 0 29-5 28-10 9-1 5-4 5 0 4-4 6 0 3-4 6 0 4-4 4 1 3-4 6 0 4-4 4 1 3-4 6 0 2-3 5 0 2-3 6-1 2-3 5 0 3-3 3 1 3-4 8-2 20-12 8-9z"/>
<path fill="#f2ff0d" d="M456 108l-42-55-26-26-24-15-11-3-20 1-23 11-22 21-29 39-26 43-26 47 1 5 3 5 13 4 8 6 8 0 3 2 37-1 24-6 6-3 15-3 5-4 7 0 3-4 8-1 2-3 7 0 3-4 7 0 2-4 7 0 2-3 6 0 2-4 6 0 2-3 6 0 1-3 6 0 2-3 5 0 1-3 10-3 25-15 5-7z"/>
<path fill="#fff200" d="M450 100l-36-47-26-26-24-15-11-3-20 1-23 11-22 21-29 39-47 81 1 6 4 5 18 8 4-2 5 3 5-1 4 2 31-2 27-6 6-4 15-3 4-4 6 0 6-5 7 0 2-3 8-1 1-3 8 0 2-4 6 0 2-3 6 0 2-3 6-1 1-3 5 0 2-3 5 0 8-5 3 0 2-3 7-2 16-12 3-5z"/>
<path fill="#ffd900" d="M445 93l-39-49-26-23-13-8-14-4-20 1-23 11-22 21-29 39-34 57-8 17 6 7 0 3 9 4 7-1 6 4 5-2 3 2 29-1 44-11 2-3 11-1 3-4 10-1 2-4 8 0 2-3 7-1 2-3 7 0 2-4 6 0 2-3 5 0 2-3 5 0 3-4 9-2 7-5 3 0 17-13 4-8z"/>
<path fill="#ffbf00" d="M441 88l-35-44-26-23-13-8-14-4-20 1-23 11-22 21-29 39-37 64 4 7 20 9 34 0 28-6 12-5 14-2 5-5 9 0 3-4 8 0 3-4 7-1 3-3 5 0 3-4 6 0 2-3 5 0 2-3 10-2 2-3 3 0 2-3 7-2 15-10z"/>
<path fill="#ffa600" d="M435 80l-29-36-26-23-13-8-14-4-20 1-23 11-22 21-29 39-32 55 4 7 5 1 10 6 6-1 3 2 25 0 46-10 5-4 13-2 4-5 9 0 3-4 7 0 3-4 6 0 2-3 6 0 1-3 11-3 3-3 9-3 2-3 6-1 16-13z"/>
<path fill="#ff8c00" d="M429 72l-23-28-29-25-10-6-14-4-20 1-23 11-22 21-29 39-26 43 0 4 4 7 9 4 5-1 6 3 21 0 11-3 5 1 31-10 14-2 6-5 8 0 3-4 7 0 3-4 7 0 3-4 5 0 2-3 5 0 2-3 4 0 15-7 16-12 4-7z"/>
<path fill="#ff7300" d="M424 66l-26-30-29-22-16-5-20 1-23 11-22 21-29 39-21 37 3 5 17 8 3-2 5 2 18-1 3-2 6 1 39-9 7-5 11-2 3-4 8 0 2-3 7 0 2-4 6 0 2-3 5 0 2-3 4 0 3-3 14-6 13-10z"/>
<path fill="#ff5900" d="M419 60l-21-24-29-22-16-5-20 1-23 11-22 21-29 39-12 20-3 9 3 4 12 6 22 0 21-3 28-9 14-2 3-4 7 0 5-4 8-1 2-3 6 0 2-3 16-6 12-7 10-8z"/>
<path fill="#ff4000" d="M413 52l-25-25-19-13-16-5-20 1-23 11-22 21-21 27-18 30 6 8 8 0 5 3 30-2 4-2 12-1 17-6 6 0 6-5 9-1 4-4 6 0 3-3 12-3 4-4 13-5 16-12z"/>
<path fill="#ff2600" d="M407 46l-19-19-21-14-14-4-20 1-23 11-22 21-21 27-12 21 3 4 10 5 37-2 16-4 12-5 15-3 4-4 6 0 3-3 5 0 4-4 4 0 10-5 19-13 4-6z"/>
<path fill="#ff0d00" d="M401 39l-13-12-21-14-14-4-20 1-18 8-12 9-15 15-27 37 4 5 10 4 28-1 34-8 7-5 6 0 7-4 5 0 3-3 5-1 2-3 3 0 15-8 9-8z"/>
<path fill="#f20000" d="M395 34l-7-7-21-14-14-4-20 1-18 8-12 9-27 30-7 10 0 5 4 4 18 2 21-3 33-9 4-3 16-5 20-11 5-4z"/>
<path fill="#d90000" d="M386 26l-22-14-11-3-20 1-23 11-22 21-13 17 4 6 10 2 23-2 17-4 8-4 11-2 26-12 11-9z"/>
<path fill="#bf0000" d="M378 20l-11-7-14-4-20 1-23 11-22 21-5 8 5 5 20 0 21-4 10-5 10-2 20-10 9-8z"/>
<path fill="#a60000" d="M370 15l-17-6-20 1-23 11-18 18 6 4 20 0 15-4 29-13 6-5z"/>
<path fill="#8c0000" d="M358 11l-5-2-20 1-18 8-11 9 7 4 23-4 17-7 6-5z"/>
</g>
<g class="ax">
<path d="M557.5 167.8L635.3 204.8"/>
<path d="M635.3 204.8L736.5 176.7"/>
<path d="M557.5 167.8L557.5 87.6"/>
<path d="M736.5 176.7L736.5 96.5"/>
<path d="M557.5 87.6L635.3 124.6"/>
<path d="M635.3 124.6L736.5 96.5"/>
<path d="M635.3 204.8L635.3 124.6"/>
<path d="M596.4 186.3L599.9 185.3"/>
<path d="M685.9 190.8L683.1 189.4"/>
<path d="M635.3 204.8L632.4 205.6"/>
<path d="M635.3 204.8L638 206.1"/>
<path d="M557.5 167.8L554.6 168.6"/>
<path d="M736.5 176.7L739.2 178"/>
<path d="M557.5 127.7L555.1 128.4"/>
<path d="M557.5 87.6L555.1 88.3"/>
</g>
<g class="tk"><text x="554.9" y="170.8" text-anchor="end">0</text><text x="554.4" y="130.9" text-anchor="end">0.5</text><text x="553.8" y="90.3" text-anchor="end">1</text><text x="554.6" y="179.6" text-anchor="end">90</text><text x="590" y="198.3" text-anchor="middle">0</text><text x="630.1" y="216.2" text-anchor="end">-90</text><text x="639.3" y="216.6">-45</text><text x="691.5" y="202.7" text-anchor="middle">0</text><text x="740" y="188.7">45</text><text x="625.4" y="207.5" text-anchor="end">Orientation Angle</text><text x="659" y="212.6">Ellipticity Angle</text></g>
</g>
<!-- plot c -->
<g>
<g class="ax">
<path d="M819.7 167.8L920.7 139.7"/>
<path d="M920.7 139.7L998.5 176.7"/>
<path d="M920.7 139.7L920.7 59.5"/>
<path d="M819.7 87.6L920.7 59.5"/>
<path d="M920.7 59.5L998.5 96.5"/>
<path d="M819.7 127.7L920.7 99.6" class="d"/>
<path d="M920.7 99.6L998.5 136.6" class="d"/>
<path d="M870.2 153.8L870.2 73.5" class="d"/>
<path d="M959.6 158.2L959.6 78" class="d"/>
<path d="M948 190.8L870.2 153.8" class="d"/>
<path d="M858.6 186.3L959.6 158.2" class="d"/>
</g>
<g transform="translate(826 84) scale(.25)" fill-rule="evenodd">
<path fill="#00008c" d="M653 174l-159-76-25-22-32-37-17-16-12-8-20-6-28 2-34 14-20 14-20 18-5 1-57 28-24 15-75 60-15 10-23 11-23 5-19-1-11-3-24-12 23 17 22 23 20 26 36 53 19 24 18 18 17 9 15 2 18-7 16-16 24-38 4-1 68 34 19 5 19 0 32-10 14 24 18 24 21 18 12 5 17 0 19-11 17-17 27-38 39-65 23-31 24-24 13-8z"/>
<path fill="#0000a6" d="M653 174l-159-76-25-22-32-37-17-16-12-8-20-6-28 2-34 14-20 14-20 18-5 1-57 28-24 15-75 60-15 10-23 11-23 5-19-1-11-3-24-12 23 17 22 23 20 26 36 53 19 24 18 18 17 9 29-3 4-2 16-16 24-38 4-1 68 34 19 5 19 0 32-10 14 24 18 24 14 13 16 9 30-4 9-6 17-17 27-38 39-65 23-31 24-24 13-8z"/>
<path fill="#0000bf" d="M653 174l-159-76-25-22-32-37-17-16-12-8-20-6-28 2-34 14-20 14-20 18-5 1-57 28-24 15-75 60-15 10-23 11-23 5-19-1-11-3-24-12 23 17 22 23 62 87 13 16 23 21 31-1 23-7 13-15 18-30 4-1 68 34 19 5 19 0 32-10 14 24 14 19 14 15 9 6 26-1 28-7 23-26 17-25 39-65 23-31 24-24 13-8z"/>
<path fill="#0000d9" d="M653 174l-159-76-25-22-32-37-17-16-12-8-20-6-28 2-34 14-20 14-20 18-5 1-57 28-24 15-75 60-15 10-23 11-23 5-19-1-11-3-24-12 23 17 22 23 62 87 26 29 13 3 22-1 19-4 19-8 22-35 4-1 68 34 19 5 19 0 32-10 14 24 18 24 9 9 7 1 37-2 29-9 27-36 43-71 23-31 24-24 13-8z"/>
<path fill="#0000f2" d="M653 174l-159-76-25-22-32-37-17-16-12-8-20-6-28 2-34 14-20 14-20 18-5 1-57 28-24 15-75 60-15 10-23 11-23 5-19-1-11-3-24-12 23 17 22 23 20 26 36 53 26 31 18 3 14 0 36-8 17-8 16-26 4-1 68 34 19 5 19 0 32-10 14 24 20 26 12 2 19 0 27-4 29-10 24-33 39-65 23-31 24-24 13-8z"/>
<path fill="#000dff" d="M653 174l-159-76-25-22-32-37-17-16-12-8-20-6-28 2-34 14-20 14-20 18-5 1-57 28-24 15-75 60-15 10-23 11-23 5-19-1-11-3-24-12 23 17 22 23 62 87 12 14 6 3 27 3 33-5 33-14 10-17 4-1 68 34 19 5 19 0 32-10 14 24 14 19 16 3 14 0 30-4 24-6 16-7 17-24 39-65 23-31 24-24 13-8z"/>
<path fill="#0026ff" d="M653 174l-159-76-25-22-32-37-17-16-12-8-20-6-28 2-34 14-20 14-20 18-5 1-57 28-24 15-75 60-15 10-23 11-23 5-19-1-11-3-24-12 23 17 22 23 69 95 18 5 5-1 3 2 20-1 23-4 16-5 24-12 5-8 4-1 68 34 19 5 19 0 32-10 21 34 12 5 28 0 24-3 29-7 19-8 12-16 39-65 23-31 24-24 13-8z"/>
<path fill="#0040ff" d="M653 174l-159-76-25-22-32-37-17-16-12-8-20-6-28 2-34 14-20 14-20 18-5 1-57 28-24 15-75 60-15 10-23 11-23 5-19-1-11-3-24-12 10 6 26 24 29 36 39 57 16 9 7 0 3 2 5-1 3 2 32-3 27-7 15-6 13-8 3 1 1-2 3 0 68 34 19 5 19 0 32-10 16 27 16 6 21 0 40-5 6-3 23-5 18-8 44-72 23-31 24-24 13-8z"/>
<path fill="#0059ff" d="M653 174l-159-76-25-22-32-37-17-16-12-8-20-6-28 2-34 14-20 14-20 18-5 1-57 28-24 15-75 60-15 10-23 11-23 5-19-1-11-3-24-12 23 17 22 23 20 26 36 53 19 7 25 2 35-5 28-9 8-5 8 0 3 2 5-1 68 34 19 5 19 0 32-10 14 22 12 2 2 2 27 0 34-4 6-3 13-1 19-6 18-9 39-63 32-41 21-18z"/>
<path fill="#0073ff" d="M653 174l-159-76-25-22-32-37-17-16-12-8-20-6-28 2-34 14-20 14-20 18-5 1-57 28-24 15-75 60-15 10-23 11-23 5-19-1-11-3-24-12 23 17 22 23 50 70 19 9 8 0 2 2 28 0 22-3 17-4 19-9 4 0 14 6 4-1 71 35 16 4 19 0 32-10 9 15 9 3 4-1 3 2 33 0 41-6 32-9 19-9 34-55 32-41 21-18z"/>
<path fill="#008cff" d="M653 174l-159-76-25-22-32-37-17-16-12-8-20-6-28 2-34 14-20 14-20 18-5 1-57 28-24 15-75 60-15 10-23 11-23 5-19-1-11-3-24-12 23 17 22 23 45 63 20 9 8 0 3 2 6-1 3 2 26-1 26-5 23-8 22 9 5 0 71 35 16 4 19 0 32-10 4 7 8 4 15 0 2 2 32-1 5-2 22-2 3-2 8 0 37-10 19-9 29-47 32-41 21-18z"/>
<path fill="#00a6ff" d="M653 174l-159-76-25-22-32-37-17-16-12-8-20-6-28 2-34 14-20 14-20 18-5 1-57 28-24 15-75 60-15 10-23 11-23 5-19-1-11-3-24-12 23 17 22 23 20 26 19 29 14 5 7 5 7 0 6 3 14-1 2 2 36-4 22-7 8 0 28 12 4 0 68 34 19 5 19 0 31-10 9 4 17 2 44-2 2-2 12 0 7-3 23-3 38-12 10-6 23-38 23-31 14-15 16-13z"/>
<path fill="#00bfff" d="M653 174l-159-76-25-22-32-37-17-16-12-8-20-6-28 2-34 14-20 14-20 18-5 1-57 28-24 15-75 60-15 10-23 11-23 5-19-1-11-3-24-12 10 6 26 24 20 24 22 32 9 5 10 3 5 4 9 0 4 3 7-1 3 2 36-2 30-6 29 11 8 5 4 0 68 34 19 5 19 0 42-13 12 2 21 0 26-2 3-2 4 1 4-2 34-5 37-11 16-9 17-29 23-31 14-15 16-13z"/>
<path fill="#00d9ff" d="M156 211l-8 7-13 4-6 0-7-3 1-2 6-2 6 1 9-4 6 0 3-2zM653 174l-159-76-25-22-32-37-17-16-12-8-20-6-28 2-34 14-20 14-20 18-5 1-57 28-24 15-75 60-15 10-23 11-23 5-19-1-11-3-24-12 10 6 26 24 37 48 22 10 3 3 11 1 4 3 37 0 23-4 3-2 8 1 48 20 68 34 19 5 19 0 16-4 33-14 45-1 8-3 6 1 3-2 17-1 2-2 13-1 5-3 23-4 21-8 12-7 12-21 13-18 24-28 16-13z"/>
<path fill="#00f2ff" d="M168 199l-3 6-11 10-8 5-12 3-16-3-12-7 1-2 14-2 12-5 21-2 2-2 6 1 4-3zM653 174l-159-76-25-22-32-37-17-16-12-8-20-6-28 2-34 14-20 14-20 18-5 1-57 28-24 15-75 60-15 10-23 11-23 5-19-1-11-3-24-12 10 6 26 24 31 40 26 13 13 2 3 3 7-1 2 2 27 0 22-4 10 1 55 24 27 14 3 0 38 20 19 5 19 0 28-8 30-16 27-1 3-2 3 1 25-3 2-2 9 0 2-2 29-4 37-12 13-7 8-14 19-26 28-29 13-8z"/>
<path fill="#0dfff2" d="M475 225l-29 8-16 0 23-7 8 1 9-4zM474 224l3-2 1 1-1 2zM178 189l-2 5-17 18-12 8-11 3-18-2-17-8-8-6 3-3 24-7 10 0 5-3 9 0 15-5 3 2 6-3zM653 174l-159-76-25-22-32-37-17-16-12-8-20-6-28 2-34 14-20 14-20 18-5 1-57 28-24 15-75 60-15 10-23 11-23 5-19-1-11-3-24-12 10 6 26 24 24 31 29 15 13 2 4 3 18 2 25-1 5-2 11 1 55 23 9 6 33 14 38 20 19 5 19 0 28-8 39-23 57-6 5-3 24-3 46-14 14-7 26-37 24-24 13-8z"/>
<path fill="#26ffd9" d="M510 212l-7 5-45 15-38 5-13 0-4-2 1-2 8 0 0-2 4-3 12 0 2-5 29-8 3 2 9-4 6 1 23-4 5 2 3-2zM187 178l-9 15-17 18-13 9-9 3-11 1-14-4-28-14-7-6 4-3 5 0 38-11 10 0 6-3 3 1 6-3 6 1 14-4zM653 174l-159-76-25-22-32-37-17-16-12-8-20-6-28 2-34 14-20 14-20 18-5 1-57 28-24 15-75 60-15 10-23 11-23 5-19-1-11-3-24-12 23 17 32 36 33 17 12 2 6 3 4-1 3 2 10 1 25-2 7 1 65 28 80 40 19 5 19 0 28-8 50-31 25-2 4-2 38-5 15-5 15-2 32-11 13-8 19-27 24-24 13-8z"/>
<path fill="#40ffbf" d="M525 205l-3 4-19 9-21 8-31 8-31 4-25-1-8-3 1-3 5 0 2-4 6 1 2-5 9 1 2-5 14-1 1-5 17-2 16-6 4 1 8-3 5 1 8-3 21 1 3-2 3 3 5-2zM195 168l-18 27-19 19-11 7-11 3-10 0-11-3-31-15-18-12 9-5 43-11 7 0 8-3 4 1 17-5 5 1 4-3 5 1 16-3zM653 174l-159-76-25-22-32-37-17-16-12-8-20-6-28 2-34 14-20 14-20 18-5 1-57 28-24 15-75 60-15 10-23 11-23 5-19-1-11-3-24-12 23 17 27 29 34 17 28 7 29 0 7 2 73 32 9 6 29 14 3 0 38 20 19 5 19 0 28-8 6-6 18-9 33-23 45-6 21-6 8 0 49-14 15-7 16-22 24-24 13-8z"/>
<path fill="#59ffa6" d="M542 200l-31 15-28 11-39 10-49 2-20-4-4-3 4-1 2-3 3 0 2-3 3 1 2-4 6 0 1-3 6 1 2-5 10 0 2-5 11 1 6-7 12-1 20-7 7 1 9-4 25 0 2-2 5 2 2-2 6 3 3-2 6 4 5-2zM653 174l-159-76-25-22-32-37-17-16-12-8-20-6-28 2-34 14-20 14-20 18-5 1-57 28-24 15-28 21-35 30-21 14-1 2 4 1 6-3 6 1 17-5 6 1 3-2 5 1 9-3 26-3 5 1-5 11-18 25-18 19-13 9-16 4-16-3-56-28-9-8-17-3-24-12 23 17 19 20 36 18 35 10 17 0 11 3 85 38 4 4 29 14 3 0 38 20 19 5 9 0 2-4 49-14 54-36 61-10 44-11 28-12 20-24 15-14 13-8z"/>
<path fill="#73ff8c" d="M565 194l-14 6-16 4-53 23-36 9-26 3-24 0-22-4-13-6 2-4 5-1 7-6 4 0 1-3 5 0 2-3 5 0 2-4 7 1 1-4 9 0 2-5 13 0 1-5 17-2 26-9 6 1 6-3 12 0 2-2 14 0 10 3 5-2 8 5 4-3 15 10 5-4zM653 174l-159-76-25-22-32-37-17-16-12-8-20-6-28 2-34 14-20 14-20 18-5 1-57 28-24 15-66 53 5 1 11-3 32-3 3-2 24 0-6 13-24 34-21 21-9 6-13 4-19-2-58-28-16-10-9-2-24-12 10 6 24 22 53 25 18 5 17 2 19 7 86 39 9 7 26 11 41 21 4 0 3-4 28-10 55-11 16-9 22-17 14-8 63-11 35-9 30-12 13-16 15-14 13-8z"/>
<path fill="#8cff73" d="M572 192l-4 4-31 8-54 23-35 9-25 3-39-1-23-6-10-6 0-2 7-6 14-6 2-3 4 0 2-3 5 0 1-4 6 1 1-4 8 0 1-4 8 1 3-5 10 0 6-6 11 0 32-11 9 0 7-3 23-1 4 2 4-2 4 3 4-2 8 5 6-2 10 7 15 6zM653 174l-159-76-25-22-32-37-17-16-12-8-20-6-28 2-34 14-20 14-20 18-5 1-57 28-24 15-48 38-2 3 4 1 3-2 12 0 28-5 4 1 13-2 3 3-22 35-15 20-19 20-13 9-15 4-16-2-70-34-8-6-29-13 10 6 15 13 5 1 28 15 27 12 34 10 107 48 10 8 26 11 30 16 5-7 13-6 5 0 27-8 8 0 10-4 52-9 33-23 10-5 68-13 42-12 13-6 13-14 16-13z"/>
<path fill="#a6ff59" d="M594 189l-2 2-18 3-6 3-32 8-33 15-28 10-43 9-36 1-14-2-23-6-17-9 0-2 13-11 3 0 10-8 3 1 2-3 4 0 2-3 5 0 2-4 5 1 3-5 6 1 2-4 8 1 3-6 10 1 3-6 16-1 11-7 13-3 9 0 7-3 31-3 11 3 6-1 5 4 9-1 23 14zM653 174l-154-73-17-12-45-50-21-19-21-10-21-1-21 4-27 12-20 14-20 18-5 1-57 28-24 15-36 28 2 2 44-6 13 0 1 2-17 29-28 39-25 24-7 4-16 4 108 50 7 7 26 11 18 10-4-4 0-3 10-6 82-18 57-9 40-24 48-9 59-16 14-6 21-19z"/>
<path fill="#bfff40" d="M604 187l-5 4-25 4-37 10-54 23-29 8-24 4-36 0-20-3-27-9-10-6-3-4 20-18 16-6 2-4 4 1 2-3 5 0 2-4 5 1 3-5 7 1 0-3 3-2 7 1 3-5 10 0 2-5 13 0 7-6 15-2 21-7 25-4 10 2 6-1 4 3 4-2 9 5 5-2 28 16 28 11zM150 225l11 9 44 19 40 21 26 6 26-1 121-23 34-4 20-12 18-8 77-17 34-11 16-13 36-17-154-73-17-12-45-50-21-19-21-10-21-1-21 4-27 12-20 14-20 18-5 1-57 28-45 31 4 1 11-2 36-1 1 3-13 22-37 53-23 24-8 6z"/>
<path fill="#d9ff26" d="M618 182l-4 5-14 5-22 3-39 10-54 23-26 8-25 5-28 1-31-4-30-10-17-12 2-7 11-11 8-3 7-6 2 1 7-6 4 0 2-3 4 1 2-4 5 1 2-4 6 1 2-5 7 1 2-5 8 1 2-5 10 0 3-5 12 0 3-5 16-2 8-5 36-8 15-1 11 3 6-1 8 5 4-2 4 1 33 18 29 12 2 5zM162 217l2 4 6 2 4 6 41 18 19 11 11 1 20 7 34 0 43-6 86-18 44-4 29-14 50-11 58-16 15-10 29-13-154-73-17-12-45-50-21-19-21-10-21-1-21 4-27 12-20 14-20 18-5 1-57 28-28 18 42 0 1 3-47 72z"/>
<path fill="#f2ff0d" d="M614 190l-18 5-22 2-38 10-12 6 52-12zM171 209l4 6 6 2 5 7 23 9 21 11 8 0 11 6 8 0 5 3 36 1 37-5 36-9-1-2-25-9-11-6-11-10-1-5 10-13 17-12 3 0 3-3 2 1 2-3 3 1 2-4 4 0 2-3 5 0 2-3 5 0 2-4 6 1 2-4 7 0 1-4 9 0 2-4 9 0 2-4 9 0 4-5 11-1 6-5 13-2 18-7 23-5 20 1 9 4 6-1 44 23 37 16 10 9 0 4-3 3-13 5 6 0 31-15-154-73-17-12-45-50-21-19-21-10-21-1-21 4-27 12-20 14-20 18-5 1-65 33 19 3 11-1 2 2-52 79-24 31z"/>
<path fill="#fff200" d="M507 105l-25-16-45-50-27-23-22-7-23 1-12 3-27 12-20 14-20 18-5 1-39 20 2 3 10 1 2 4-76 111 0 5 6 7 8 3 2 5 29 14 8-1 12 7 6-1 7 4 6-1 11 3 26-1 27-4 16-6-22-16-5-8 0-6 5-8 14-12 10-4 3-4 7-1 2-4 9-2 2-4 5 1 1-3 7 0 1-4 6 1 2-5 7 1 2-4 8 0 1-4 9 0 2-4 10-1 2-4 8 0 5-4 9-1 5-4 5 0 18-8 9-2 16-8z"/>
<path fill="#ffd900" d="M490 95l-21-19-39-44-20-16-22-7-23 1-12 3-27 12-20 14-20 18-22 10 3 5-33 45-45 68-2 7 8 10 13 5 5 5 9 2 17 9 8 0 16 5 5-1 11 2 33-3 10-5 0-3-10-13 0-13 16-16 14-9 7-2 2-3 3 1 2-3 4 0 1-3 5 0 2-3 5 0 2-4 6 0 1-3 7 0 1-4 8 0 3-4 5 1 3-4 7 0 2-4 8 0 2-4 8 0 3-4 8-1 13-7 11-3 13-7 5-5z"/>
<path fill="#ffbf00" d="M480 87l-43-48-27-23-22-7-23 1-15 4-24 11-20 14-20 18-7 2-50 66-33 51-2 8 2 4 6 4 0 2 35 16 5-1 7 4 6-1 11 3 25 0 10-3 4-4-1-17 2-6 11-12 11-8 6-2 2-3 6-1 2-3 9-2 2-4 4 0 2-3 4 1 2-4 5 0 2-3 6 0 2-4 6 1 1-4 6 1 3-4 7 0 2-4 8 0 1-4 8 0 2-4 7 0 2-3 6 0 3-4 4 0 19-9 11-8z"/>
<path fill="#ffa600" d="M471 78l-34-39-27-23-22-7-23 1-15 4-24 11-48 37-28 34-24 34-24 38-1 7 4 6 9 4 6 6 12 2 12 6 4-1 7 3 3-1 11 2 18-3 4-3 9-19 22-19 24-11 1-3 4 0 2-3 4 1 2-4 5 0 3-3 4 1 2-4 6 0 1-3 7 0 1-4 6 1 2-4 7 0 2-4 5 0 3-3 8-1 2-3 5 0 3-3 22-9 17-12z"/>
<path fill="#ff8c00" d="M464 70l-34-38-22-17-20-6-23 1-15 4-24 11-20 14-20 18-4 1-39 48-31 47-5 11 9 11 19 8 19 4 15 0 7-2 7-4 8-10 15-13 24-15 3 0 13-8 3 1 2-4 5 0 2-3 4 1 3-4 5 0 1-3 7 0 1-4 7 0 1-3 6 0 2-3 5 0 4-4 6 0 1-3 6 0 2-3 4 0 28-14 12-11z"/>
<path fill="#ff7300" d="M457 62l-27-30-22-17-20-6-23 1-15 4-24 11-44 34-40 49-24 37-4 10 5 7 22 9 2-1 7 3 8 0 17-4 31-23 16-9 7-2 3-3 3 0 3-3 3 0 2-3 10-2 3-4 5 0 2-3 6 0 2-4 5 1 2-4 6 1 1-4 7 0 2-4 5 1 2-4 6 0 3-3 4 0 1-2 21-9 18-13 3-5z"/>
<path fill="#ff5900" d="M449 53l-29-30-10-7-12-5-24-2-24 5-24 11-12 8-36 31-35 43-17 26-5 11 4 6 14 7 23 1 12-4 26-16 16-7 1-2 17-8 4 0 3-4 4 0 3-3 3 1 5-4 3 1 2-4 5 0 3-4 5 1 2-3 6 0 1-3 7-1 1-3 5 0 3-3 5 0 1-3 10-3 21-11 13-12z"/>
<path fill="#ff4000" d="M443 46l-23-23-10-7-15-6-30 0-20 6-19 9-12 8-31 26-40 49-11 17-3 10 3 4 8 4 23 1 12-4 33-17 8-2 8-6 4 0 3-4 11-2 2-3 4 0 4-4 4 1 3-3 5 0 3-4 5 0 2-3 6-1 1-3 6 0 3-3 4 0 3-3 10-3 2-3 8-2 23-16 3-4z"/>
<path fill="#ff2600" d="M436 38l-20-18-21-10-30 0-20 6-19 9-12 8-29 24-37 45-8 12-3 10 9 5 11 2 20-4 36-17 10-3 3-3 13-4 2-3 5 0 3-4 5 0 2-3 5 1 11-7 4 0 3-4 4 1 4-4 4 0 1-2 10-3 20-11 13-12z"/>
<path fill="#ff0d00" d="M429 32l-19-16-15-6-30 0-20 6-19 9-12 8-29 24-36 45-4 10 5 4 20 0 21-6 6-4 30-11 3-3 5 0 2-3 13-3 3-4 5 0 2-3 5 0 3-4 11-2 3-3 16-6 2-3 3 0 14-8 11-11z"/>
<path fill="#f20000" d="M421 25l-13-10-20-6-23 1-20 6-19 9-33 25-26 29-12 17-1 4 6 3 22-2 27-9 6-4 5 0 4-3 6-1 2-3 7-1 2-3 5 0 12-7 11-3 3-3 22-9 19-12 9-11z"/>
<path fill="#d90000" d="M412 19l-2-3-15-6-21-1-21 4-19 8-20 12-21 17-24 28-5 9 3 2 13 0 20-5 30-11 4-3 7-1 3-3 4 0 12-7 4 0 3-3 25-11 13-9 8-9z"/>
<path fill="#bf0000" d="M402 13l-14-4-23 1-15 4-16 7-20 12-21 17-16 20-1 4 7 2 19-4 23-9 7-1 39-17 17-9 15-13 1-4z"/>
<path fill="#a60000" d="M392 12l-4-3-23 1-15 4-16 7-33 22-13 12 1 5 7 1 14-3 39-14 34-18 8-7z"/>
<path fill="#8c0000" d="M377 10l-12 0-20 6-19 9-23 17 2 2 14-1 37-14 14-8 7-7z"/>
</g>
<g class="ax">
<path d="M819.7 167.8L897.5 204.8"/>
<path d="M897.5 204.8L998.5 176.7"/>
<path d="M819.7 167.8L819.7 87.6"/>
<path d="M998.5 176.7L998.5 96.5"/>
<path d="M819.7 87.6L897.5 124.6"/>
<path d="M897.5 124.6L998.5 96.5"/>
<path d="M897.5 204.8L897.5 124.6"/>
<path d="M858.6 186.3L862.1 185.3"/>
<path d="M948 190.8L945.2 189.4"/>
<path d="M897.5 204.8L894.6 205.6"/>
<path d="M897.5 204.8L900.2 206.1"/>
<path d="M819.7 167.8L816.8 168.6"/>
<path d="M998.5 176.7L1001.2 178"/>
<path d="M819.7 127.7L817.3 128.4"/>
<path d="M819.7 87.6L817.3 88.3"/>
</g>
<g class="tk"><text x="817.1" y="170.8" text-anchor="end">0</text><text x="816.6" y="130.9" text-anchor="end">0.5</text><text x="816" y="90.3" text-anchor="end">1</text><text x="816.8" y="179.6" text-anchor="end">90</text><text x="852.2" y="198.3" text-anchor="middle">0</text><text x="892.3" y="216.2" text-anchor="end">-90</text><text x="901.5" y="216.6">-45</text><text x="953.6" y="202.7" text-anchor="middle">0</text><text x="1002" y="188.7">45</text><text x="887.6" y="207.5" text-anchor="end">Orientation Angle</text><text x="921.2" y="212.6">Ellipticity Angle</text></g>
</g>
<!-- plot d -->
<g transform="translate(369.5 0) scale(1.027 1) translate(-369.5 0)">
<g class="ax">
<path d="M291.5 389.9L392.9 361.8"/>
<path d="M392.9 361.8L470.9 398.8"/>
<path d="M392.9 361.8L392.9 281.6"/>
<path d="M291.5 309.7L392.9 281.6"/>
<path d="M392.9 281.6L470.9 318.6"/>
<path d="M291.5 349.8L392.9 321.7" class="d"/>
<path d="M392.9 321.7L470.9 358.7" class="d"/>
<path d="M342.2 375.8L342.2 295.6" class="d"/>
<path d="M431.9 380.3L431.9 300.1" class="d"/>
<path d="M420.2 412.8L342.2 375.8" class="d"/>
<path d="M330.5 408.4L431.9 380.3" class="d"/>
</g>
<g transform="translate(298 337) scale(.25)" fill-rule="evenodd">
<path fill="#00008c" d="M9 161l167 79 59 41 19 10 27 10 20 5 51 6 50 1 39-2 25-3 27-8 30-16 46-35 18-16 35-25 33-15-35-17-21-15-26-26-45-54-25-24-16-10-15-4-20 3-18 11-20 21-3 0-22-12-16-6-32 15-36 26-42-55-25-24-11-7-11-4-18 0-8 2-15 8-10 8-26 27-38 49-29 30-10 8-19 10z"/>
<path fill="#0000a6" d="M311 237l-7 9-13 11-10 2-2-2 4-6 15-10 10-5zM9 161l167 79 59 41 19 10 27 10 20 5 51 6 50 1 34-2-3-3-12-4 6-3 80-11 3 2 45-32 52-42 15-10 33-15-35-17-21-15-26-26-45-54-25-24-16-10-15-4-20 3-18 11-20 21-3 0-22-12-16-6-32 15-36 26-42-55-25-24-11-7-11-4-18 0-8 2-15 8-10 8-26 27-38 49-29 30-10 8-19 10z"/>
<path fill="#0000bf" d="M320 224l-6 12-20 21-26 14-8 0-3-3 0-7 13-13 44-24zM9 161l167 79 59 41 19 10 27 10 20 5 51 6 34 1 30-3 4-2-18-7-2-2 3-2 88-12 5-2 21-2 8 1 82-64 15-10 33-15-35-17-21-15-26-26-45-54-25-24-16-10-15-4-20 3-18 11-20 21-3 0-22-12-16-6-32 15-36 26-42-55-25-24-11-7-11-4-18 0-8 2-15 8-10 8-26 27-38 49-29 30-10 8-19 10z"/>
<path fill="#0000d9" d="M328 211l-2 7-12 19-10 12-22 20-2 8 4 6-1 2-25-8-17-11 5-10 13-11 33-18 19-8 3-3 13-6zM340 138l3-1 19 4 5 3-2 7-6 4-14-9-4-4zM9 161l167 79 59 41 19 10 27 10 20 5 51 6 57-5-3-3-24-8-4-3 1-1 58-6 53-9 18-1 11-3 18 0 70-55 15-10 33-15-35-17-21-15-26-26-45-54-25-24-16-10-15-4-20 3-18 11-20 21-3 0-22-12-16-6-32 15-36 26-42-55-25-24-11-7-11-4-18 0-8 2-15 8-10 8-26 27-38 49-29 30-10 8-19 10z"/>
<path fill="#0000f2" d="M336 201l-17 30-28 33 0 5 5 6 12 6 9 2 2 2-12 3-18 0-10-2-21-8-18-9-9-7 1-4 6-7 27-18 47-22 3-3 18-8zM331 129l16-1 25 5 1 3-7 15-5 6-2 0-11-7-13-13zM9 161l167 79 59 41 19 10 38 13 14 3 29 2 43-2 21-3-40-14-4-3 1-1 49-3 132-19 8 0 2 2 60-48 15-10 33-15-35-17-21-15-26-26-45-54-25-24-16-10-15-4-20 3-18 11-20 21-3 0-22-12-16-6-32 15-36 26-42-55-25-24-11-7-11-4-18 0-8 2-15 8-10 8-26 27-38 49-29 30-10 8-19 10z"/>
<path fill="#000dff" d="M324 120l31 0 4 2 17 2 2 4-12 24-7 7-25-22-8-11zM9 161l167 79 59 41 19 10 28 10 29 4 34 1 44-5-36-12-25-3-21 3-17 0-10-2-47-21-11-9 7-9 15-11 50-26 20-8 27-16 2 3-7 14-17 28-21 28 1 4 12 9 7 0 16 5 6-1 3 2 29-2 10 1 18-3 9 1 12-3 3 1 20-4 5 1 3-2 16-1 3-2 5 1 23-5 4 1 5-2 19-1 8-3 23 0 29-24 35-25 33-15-35-17-21-15-26-26-45-54-25-24-16-10-15-4-20 3-18 11-20 21-3 0-22-12-16-6-32 15-36 26-42-55-25-24-11-7-11-4-18 0-8 2-15 8-10 8-26 27-38 49-29 30-10 8-19 10z"/>
<path fill="#0026ff" d="M319 112l29-1 12 3 4-1 16 4 2 5-15 29-10 12-2-5-28-29-9-13zM9 161l167 79 68 46 32 11 41 6 44-1 18-3-6-3-31-8-20-1-13 2-21 0-9-2-40-17-21-12-4-5 7-9 17-12 83-40 16-9 14-11 1 2-10 21-23 38-12 15-2 8 3 4 16 8 19 3 5-1 4 2 19 0 8-2 10 1 18-3 4 1 18-4 14 0 19-4 5 1 4-2 15-1 3-2 4 1 39-7 14 0 11-3 8 0 2 2 20-17 35-25 33-15-35-17-21-15-26-26-45-54-25-24-16-10-15-4-20 3-18 11-20 21-3 0-22-12-16-6-32 15-36 26-42-55-25-24-11-7-11-4-18 0-8 2-15 8-10 8-26 27-38 49-29 30-10 8-19 10z"/>
<path fill="#0040ff" d="M9 161l167 79 38 27 23 14 40 14 32 5 46-1 13-3-13-5-12-2-23-1-29 2-11-2-52-23-20-12-2-5 12-12 11-7 90-43 19-12 11-11 0-9-27-31-10-16 1-3 42 0 32 6-10 23-20 33-15 30-32 51 1 4 5 5 12 5 4-1 7 4 3-2 13 3 3-2 4 2 3-2 40 0 37-6 8 1 3-2 3 1 21-3 4-2 23-2 3-2 30-3 4-2 19-1 5-2 13 1 44-33 33-15-35-17-21-15-26-26-45-54-25-24-16-10-15-4-20 3-18 11-20 21-3 0-22-12-16-6-32 15-36 26-42-55-25-24-11-7-11-4-18 0-8 2-15 8-10 8-26 27-38 49-29 30-10 8-19 10z"/>
<path fill="#0059ff" d="M655 193l-35-17-21-15-26-26-35-43-29-30-16-12-15-6-13-1-17 5-14 9-20 21-3 0-22-12-16-6-32 15-30 22 46-1 13 3 5-1 6 3 3-1 8 4-49 91-28 46 0 3 4 5 11 5 4-1 6 3 6-1 11 3 55-2 15-3 12 0 11-3 14 0 14-4 5 1 6-3 4 1 25-5 4 1 10-3 9 0 3-2 5 1 9-3 26-3 4 2 34-25zM9 161l167 79 44 31 3 0 29 14 38 11 47 1 21-3-6-3-17-1-5-2-21 2-20 0-10-2-58-26-23-15 3-7 17-13 97-46 20-13 10-11-1-7-19-22-17-27-3 0-4-4-17-25-21-26-25-24-13-8-9-3-18 0-8 2-15 8-27 25-47 59-29 30-10 8-19 10z"/>
<path fill="#0073ff" d="M655 193l-35-17-21-15-26-26-35-43-29-30-16-12-15-6-13-1-17 5-14 9-20 21-3 0-22-12-16-6-23 10-28 18 1 2 8-2 45 2 3 2 7 0 10 5-3 9-5 6-47 87-20 33-1 6 3 4 12 6 5-1 6 3 5-1 3 2 3-2 3 2 6-1 3 2 3-2 22 1 6-2 27-1 13-3 6 1 11-3 5 1 7-3 4 1 14-4 14 0 14-4 4 1 8-3 4 1 55-9 12 1 24-17zM9 161l167 79 33 23 43 20 38 12 33 0 23-3-15-3-23 2-17 0-11-2-23-9-59-30-8-7 2-6 12-10 24-13 34-14 9-6 11-3 3-3 3 0 3-3 22-10 15-9 13-15-1-4-20-25-13-21-6-4-17-25-21-26-25-24-13-8-9-3-18 0-8 2-15 8-27 25-47 59-29 30-10 8-19 10z"/>
<path fill="#008cff" d="M274 288l16 6 41-3-10-1-20 2zM334 80l39 1 14 3 14 6-7 15-10 15-42 78-17 28-1 5 3 5 10 5 6-1 5 3 6-1 2 2 6-1 3 2 4-2 3 2 9-2 21 1 3-2 26-1 40-5 4-2 5 1 3-2 15-1 4-2 6 1 17-5 5 1 3-2 29-3 31-6 18 0 11-8 33-15-35-17-21-15-26-26-45-54-25-24-16-10-15-4-20 3-18 11-20 21-3 0-22-12-16-6-23 10zM9 161l149 70 25 13 18 13 29 14 39 15-79-39-7-6-1-7 7-7 23-13 25-10 5-4 25-9 5-4 36-16 23-16 5-6 0-5-20-27-10-17-1 1-4-4-17-25-21-26-18-18-20-14-9-3-18 0-12 4-21 14-26 27-38 49-29 30-10 8-19 10z"/>
<path fill="#00a6ff" d="M350 70l31 3 11 5 13 3 1 3-11 20-7 9-59 108-1 4 2 4 12 6 7-1 4 3 4-2 5 3 2-2 4 2 28 0 29-4 19 0 11-4 14 0 3-2 6 1 14-4 6 1 6-3 4 1 106-18 11 1 30-14-35-17-21-15-26-26-45-54-25-24-16-10-15-4-20 3-18 11-20 21-3 0-37-18zM332 140l-26-39-5-4-17-25-21-26-18-18-20-14-9-3-18 0-12 4-21 14-26 27-38 49-29 30-10 8-19 10-34 8 79 38 3 0 22 12 20 8 49 25-11-11 1-4 4-4 31-16 35-14 5-4 11-3 3-3 11-3 3-3 26-11 24-15 6-7z"/>
<path fill="#00bfff" d="M332 219l2 4 12 6 6-1 5 3 4-2 4 2 5-1 3 2 16-2 4 2 2-2 26 0 3-2 3 1 11-3 4 2 2-2 6 1 9-3 17-1 15-4 5 1 7-3 4 1 26-6 6 1 18-5 20-2 4-2 58-10 10-4-29-14-21-15-26-26-45-54-25-24-16-10-9-3-13-1-13 3-18 11-20 21-4 0-48 82zM328 135l-44-63-21-26-18-18-20-14-9-3-18 0-12 4-21 14-26 27-38 49-29 30-10 8-19 10-34 8 134 64 5 0 38-14 24-11 6-1 26-11 3-3 20-6 9-6 16-6 27-15 8-8 3-5z"/>
<path fill="#00d9ff" d="M625 182l-4-6-22-15-26-26-35-43-29-30-22-15-9-3-13-1-13 3-18 11-20 21-3 0-23 36-24 43-28 56 1 3 14 7 6-2 5 4 3-2 4 2 6-1 3 2 2-2 23 1 7-2 4 1 2-2 4 2 22-4 4 1 6-3 3 2 13-4 14 0 14-4 10 0 3-2 5 1 34-8 3 1 27-5 39-10 6-3zM324 131l-40-59-21-26-18-18-20-14-9-3-18 0-12 4-21 14-26 27-48 60-29 27-10 6-14 5-2 6 8 8 31 14 39 20 14 3 9 4 22 1 24-6 25-9 6-4 18-5 12-7 12-3 6-4 10-3 3-3 3 0 3-3 14-5 21-13 7-8z"/>
<path fill="#00f2ff" d="M614 173l-15-12-26-26-35-43-29-30-22-15-9-3-13-1-13 3-14 8-24 24-4 2-21 33-27 48-21 41-1 7 17 8 5-2 5 4 2-2 5 2 4-2 3 2 4-2 3 2 15-2 14 1 3-2 18 0 3-2 3 2 12-4 6 1 5-3 2 2 11-2 5-3 4 2 4-2 9 0 6-3 5 1 7-3 5 1 7-3 8 0 3-2 45-9 23-8 3-3zM321 128l-16-27-21-29-21-26-18-18-20-14-9-3-18 0-12 4-21 14-26 27-48 60-29 27-14 7-2 5 1 3 9 8 22 9 39 20 10 1 5 3 7 0 4 2 16 0 44-11 28-12 6-1 6-4 14-4 9-6 11-3 34-19 5-4z"/>
<path fill="#0dfff2" d="M605 165l-32-30-35-43-29-30-22-15-9-3-13-1-13 3-18 11-20 21-2 0-23 35-37 68-9 21 19 9 14 0 3 2 3-2 4 2 13 0 3-2 9 1 7-2 4 1 17-3 14 0 2-2 13 0 3-2 7 1 6-3 4 1 6-3 3 2 7-4 7 1 6-3 19-2 8-3 8 0 15-5 10-1 24-9 4-4zM317 123l-13-23-20-28-21-26-18-18-20-14-9-3-18 0-12 4-21 14-26 27-48 60-19 19-17 12 0 5 5 7 38 17 22 12 7 0 17 5 13 0 15-2 37-10 9-5 8-1 5-4 16-4 5-4 5 0 2-3 4 0 3-3 16-6 18-10 16-13z"/>
<path fill="#26ffd9" d="M598 160l-25-25-35-43-29-30-22-15-9-3-13-1-13 3-18 11-20 21-2 0-24 37-32 59-9 22 4 5 5 2 4-2 6 4 5-2 4 3 4-2 4 3 4-2 3 2 3-2 22 1 2-2 24-1 2-2 7 1 3-2 13 0 2-2 17 0 5-3 19-2 7-3 4 1 7-3 10 0 45-12 10-4 6-6zM313 117l-9-17-20-28-21-26-18-18-20-14-9-3-18 0-8 2-15 8-27 25-47 59-29 30-10 8 0 5 4 6 9 3 9 9 12 6 12 1 14 8 9 0 5 3 5-1 3 2 24-1 38-9 31-11 2-3 8-1 10-4 1-2 6-1 2-3 4 0 3-3 14-5 18-11 8-9z"/>
<path fill="#40ffbf" d="M593 155l-20-20-35-43-29-30-22-15-9-3-13-1-13 3-14 8-27 26-22 34-36 67-2 9 1 4 8 3 7-1 4 3 5-2 4 3 15 0 2-2 3 2 4-2 15 1 3-2 4 1 10-2 5 1 11-3 3 1 2-2 5 2 5-3 14 0 6-3 6 1 5-3 6 1 10-4 5 1 6-3 9 0 18-6 7 0 29-11 3-3zM310 113l-7-14-19-27-21-26-18-18-20-14-9-3-18 0-8 2-15 8-27 25-47 59-29 30-4 2 0 5 3 6 6 2 5 7 26 12 8-1 7 5 10 1 3 2 6-1 4 2 19 0 15-2 34-11 5 0 9-5 19-5 2-3 7-1 3-3 22-8 2-3 7-2 2-3 4-1 12-9z"/>
<path fill="#59ffa6" d="M587 149l-14-14-35-43-29-30-22-15-9-3-13-1-13 3-14 8-26 25-23 35-23 42-12 25 0 5 13 6 4-2 5 3 6-1 3 2 2-2 5 2 3-2 3 2 3-2 29 0 11-3 3 2 13-4 2 2 6-3 4 2 6-3 4 2 16-6 8 1 7-3 6 1 6-3 22-4 27-8 12-6zM307 110l-4-7 0-4-19-27-21-26-18-18-20-14-9-3-18 0-12 4-21 14-26 27-38 49-28 29 2 7 4 2 4 6 20 8 12 7 7-1 9 5 3-2 5 3 32 0 14-2 36-10 6-4 8-1 5-4 6 0 4-4 6 0 2-3 18-6 2-3 3 0 6-5 6-2 9-7z"/>
<path fill="#73ff8c" d="M582 144l-44-52-29-30-22-15-9-3-13-1-13 3-14 8-25 24-32 51-17 31-7 19 10 3 5 4 5-2 5 3 3-2 3 2 28 0 7-2 18 0 3-2 4 1 5-2 6 1 10-3 7 1 6-3 5 1 5-3 8 0 7-3 3 2 13-5 8 0 34-10 9-4 7-7zM302 98l-39-52-25-24-11-7-11-4-18 0-8 2-15 8-27 25-47 59-22 23 0 6 6 7 22 9 13 8 7-1 6 4 7-1 11 3 40-4 31-9 4-3 10-2 3-3 8-1 2-3 7-1 2-3 5 0 3-3 4 0 10-5 21-14 2-4z"/>
<path fill="#8cff73" d="M577 140l-39-48-29-30-22-15-9-3-13-1-13 3-14 8-25 24-28 44-21 39-3 11 16 8 5-2 5 3 3-2 3 2 15 0 28-3 5 1 2-2 12 1 4-3 12 0 6-3 5 2 8-4 6 1 6-3 10 0 9-4 9 0 16-4 25-11 5-5zM301 96l-38-50-25-24-11-7-11-4-18 0-8 2-15 8-27 25-47 59-17 18 0 5 5 7 9 3 6 6 9 1 14 8 5-2 4 3 6-1 2 2 28 0 46-10 8-5 10-1 4-4 8-1 2-3 6 0 2-3 11-3 23-13 6-6z"/>
<path fill="#a6ff59" d="M572 133l-34-41-29-30-22-15-9-3-13-1-13 3-14 8-25 24-24 37-25 50 2 5 7 3 4-3 5 4 5-2 4 3 3-2 4 2 19 0 3-2 26-1 20-4 3 2 7-4 3 2 20-6 7 1 10-4 9 0 21-6 21-10 4-4zM298 92l-35-46-25-24-11-7-11-4-18 0-12 4-21 14-26 27-51 64 3 7 7 4 0 3 16 8 5-2 11 6 5-1 6 3 4-2 3 2 5-1 4 2 23-2 34-7 9-5 13-3 3-3 8-1 3-3 4 0 6-4 3 0 1-2 10-3 16-10 6-7z"/>
<path fill="#bfff40" d="M567 127l-39-46-25-24-16-10-9-3-13-1-13 3-14 8-25 24-27 43-18 35-1 6 10 5 6-2 4 3 7-1 3 2 2-2 4 2 4-2 3 2 2-2 9 1 3-2 14 1 8-3 3 2 5-2 5 1 11-4 7 1 5-3 7 1 6-3 12-1 9-4 7 1 9-2 13-6 7-1 12-7 3-5zM295 88l-32-42-25-24-11-7-11-4-18 0-8 2-15 8-27 25-55 67 0 4 7 10 22 10 5-2 7 5 7-1 2 2 7-1 2 2 4-2 4 2 18-1 31-6 18-8 10-1 4-4 15-4 2-3 4 0 22-12 7-6z"/>
<path fill="#d9ff26" d="M563 123l-25-31-35-35-16-10-9-3-13-1-13 3-11 6-24 22-27 40-18 35-1 6 13 7 4-3 4 3 6-1 2 2 3-2 4 2 2-2 11 1 8-2 19 0 3-2 6 1 3-2 6 1 14-5 5 2 8-4 8 1 9-4 14-1 10-3 8-5 7-1 13-8zM291 83l-28-37-25-24-11-7-11-4-18 0-12 4-21 14-26 27-42 53 1 5 4 5 9 3 18 10 4-2 7 4 6-1 3 2 3-2 4 2 26-3 4 1 8-3 17-2 9-3 3-3 14-3 3-3 8-1 3-3 10-3 24-14 3-3z"/>
<path fill="#f2ff0d" d="M559 118l-31-37-25-24-16-10-9-3-13-1-13 3-11 6-24 22-26 39-17 35 7 2 7 5 5-2 4 3 22 0 2-2 10 1 9-1 3-2 4 2 11-4 4 2 6-3 3 2 5-3 6 1 7-3 7 0 13-4 3 1 21-6 22-11zM288 78l-25-32-25-24-11-7-11-4-18 0-12 4-21 14-26 27-38 48 3 8 10 3 20 11 4-2 7 4 2-2 5 2 29-1 4-2 28-4 11-6 14-2 3-4 5 0 4-3 6-1 2-3 8-2 15-9 5-6z"/>
<path fill="#fff200" d="M555 113l-27-32-25-24-16-10-9-3-13-1-13 3-11 6-24 22-27 41-12 24 1 7 6 1 2-2 7 4 5-1 4 2 3-2 3 2 7 0 2-2 16 1 12-3 4 2 21-5 22-2 10-4 9 0 27-9 9-5 5-5zM285 74l-22-28-25-24-11-7-11-4-18 0-12 4-21 14-26 27-31 39-2 6 3 5 5 2 1 4 9 4 4-2 11 6 3-2 6 3 27 0 16-2 7-3 14-1 49-19 1-2 16-8 5-6z"/>
<path fill="#ffd900" d="M550 107l-22-26-25-24-16-10-9-3-13-1-13 3-11 6-24 22-26 40-9 18-1 6 8 4 5-2 5 3 12-1 3 2 3-2 10 1 23-3 7 1 4-3 4 2 16-5 8 1 9-4 8 0 28-9 12-7 4-5zM282 70l-19-24-25-24-11-7-11-4-18 0-12 4-21 14-26 27-27 34-2 5 7 10 13 6 6-2 6 4 6-1 3 2 38-1 8-3 17-2 9-3 5-4 10-1 4-4 5 0 5-4 8-2 12-7 8-8z"/>
<path fill="#ffbf00" d="M546 102l-18-21-29-27-21-10-13-1-13 3-11 6-24 22-27 42-6 15 10 5 5-2 5 3 11-1 3 2 8-3 21 1 10-3 5 1 6-3 4 2 7-4 7 1 8-4 12 0 15-5 20-10 4-4zM278 65l-15-19-25-24-11-7-11-4-18 0-12 4-21 14-26 27-25 32 4 9 5 1 12 7 7-1 5 3 12-1 3 2 30-2 6-3 10 0 11-3 9-5 10-1 4-4 11-3 18-11 5-5z"/>
<path fill="#ffa600" d="M542 97l-14-16-29-27-21-10-13-1-13 3-11 6-24 22-17 26-12 24 11 6 6-1 3 2 15 0 2-2 26 0 15-4 5 1 4-2 9 0 12-4 9 0 26-10 10-8zM274 60l-11-14-18-18-13-10-16-7-18 0-12 4-21 14-26 27-18 23-2 6 3 5 19 9 6-1 4 3 4-2 4 2 34-2 31-7 2-3 21-6 1-2 18-8 7-7z"/>
<path fill="#ff8c00" d="M537 91l-28-29-10-8-21-10-13-1-13 3-11 6-24 22-25 41 0 3 11 6 7-1 3 2 3-2 3 2 4-2 3 2 9-3 3 2 2-2 9 1 5-2 5 1 3-2 9 0 3-2 5 1 11-4 8 0 16-5 4-3 4 0 13-8 2-3zM271 56l-26-28-13-10-16-7-18 0-12 4-21 14-26 27-15 19-1 4 2 4 21 10 6-1 2 2 6-1 3 2 9-2 20 0 7-3 9 0 7-3 5 0 8-5 24-8 15-10z"/>
<path fill="#ff7300" d="M533 87l-24-25-16-12-15-6-13-1-13 3-11 6-24 22-15 24-6 15 2 3 4-2 6 4 5-2 3 2 15 0 37-4 3-2 6 1 11-4 9 0 23-8 12-9zM267 51l-22-23-18-13-11-4-18 0-12 4-21 14-26 27-12 17 8 10 6-1 10 5 3-2 5 3 20 0 31-5 27-9 23-12 5-5z"/>
<path fill="#ff5900" d="M529 83l-20-21-16-12-15-6-13-1-13 3-18 11-17 17-2 6-12 17-3 11 3 2 5-1 6 3 2-2 5 2 3-2 4 2 24-3 4 1 13-4 6 1 11-4 13-1 13-5 14-8zM263 46l-18-18-18-13-11-4-18 0-12 4-21 14-26 27-8 11 7 9 4 2 7-1 6 4 3-2 5 2 19 0 8-3 6 1 40-11 21-11 5-6z"/>
<path fill="#ff4000" d="M524 77l-15-15-16-12-15-6-13-1-13 3-18 11-17 17-14 27 5 3 6-1 3 2 26 0 13-3 10 0 4-2 4 1 36-10 9-5 4-4zM259 42l-21-20-11-7-11-4-18 0-12 4-21 14-26 27-3 6 4 7 8 3 6-1 5 3 27 0 20-5 7 0 11-5 10-2 19-10 5-6z"/>
<path fill="#ff2600" d="M519 72l-16-15-16-10-15-4-20 3-18 11-19 20 1 2-9 16 6 3 5-1 4 2 3-2 3 2 8 0 7-2 20-1 5-2 5 1 32-9 11-6 3-4zM255 38l-17-16-13-8-9-3-18 0-12 4-21 14-24 25 0 3 3 5 9 4 3-2 5 3 27 0 3-2 9 0 16-4 22-8 11-6 5-5z"/>
<path fill="#ff0d00" d="M515 68l-12-11-16-10-15-4-20 3-18 11-17 17-5 15 4 2 5-1 3 2 15 0 40-5 23-7 10-6zM251 34l-13-12-13-8-9-3-18 0-8 2-15 8-30 29 4 6 6 3 6-1 4 2 5-1 3 2 15-2 4 1 36-9 14-7z"/>
<path fill="#f20000" d="M510 63l-23-16-15-4-20 3-18 11-17 17 0 9 9 1 3 2 4-2 4 2 7-2 5 1 25-3 13-5 5 0 12-6 5-4zM246 29l-21-15-9-3-18 0-8 2-15 8-25 23 4 6 9 1 5 3 4-2 9 2 13-1 22-5 16-6 11-7z"/>
<path fill="#d90000" d="M504 58l-17-11-9-3-13-1-13 3-18 11-14 14 0 2 3 3 9 3 31-2 20-4 18-8zM241 25l-14-10-11-4-18 0-8 2-15 8-19 18 4 4 11 4 25-1 17-4 20-8z"/>
<path fill="#bf0000" d="M497 53l-19-9-13-1-13 3-11 6-16 14 8 5 27 0 29-8 7-4zM235 20l-19-9-18 0-8 2-15 8-13 12 10 6 28-1 29-10z"/>
<path fill="#a60000" d="M490 49l-12-5-18 0-8 2-19 12 0 3 8 3 15 0 16-3 14-5 4-4zM228 16l-12-5-18 0-8 2-15 8-5 6 2 3 7 0 4 2 16-1 26-9z"/>
<path fill="#8c0000" d="M481 45l-9-2-12 1-12 4-5 3-1 3 4 2 23-2 10-4zM180 21l8 3 11-1 18-6 2-5-26 0-12 6z"/>
</g>
<g class="ax">
<path d="M291.5 389.9L369.5 426.9"/>
<path d="M369.5 426.9L470.9 398.8"/>
<path d="M291.5 389.9L291.5 309.7"/>
<path d="M470.9 398.8L470.9 318.6"/>
<path d="M291.5 309.7L369.5 346.7"/>
<path d="M369.5 346.7L470.9 318.6"/>
<path d="M369.5 426.9L369.5 346.7"/>
<path d="M330.5 408.4L334 407.4"/>
<path d="M420.2 412.8L417.4 411.5"/>
<path d="M369.5 426.9L366.6 427.7"/>
<path d="M369.5 426.9L372.2 428.2"/>
<path d="M291.5 389.9L288.6 390.7"/>
<path d="M470.9 398.8L473.6 400.1"/>
<path d="M291.5 349.8L289.1 350.5"/>
<path d="M291.5 309.7L289.1 310.4"/>
</g>
<g class="tk"><text x="288.9" y="392.9" text-anchor="end">0</text><text x="288.4" y="353" text-anchor="end">0.5</text><text x="287.8" y="312.4" text-anchor="end">1</text><text x="288.6" y="401.7" text-anchor="end">90</text><text x="324.1" y="420.4" text-anchor="middle">0</text><text x="364.3" y="438.3" text-anchor="end">-90</text><text x="373.5" y="438.7">-45</text><text x="425.8" y="424.7" text-anchor="middle">0</text><text x="474.4" y="410.8">45</text><text x="359.6" y="429.6" text-anchor="end">Orientation Angle</text><text x="393.2" y="434.7">Ellipticity Angle</text></g>
</g>
<!-- plot e -->
<g>
<g class="ax">
<path d="M557.5 389.9L658.7 361.8"/>
<path d="M658.7 361.8L736.5 398.8"/>
<path d="M658.7 361.8L658.7 281.6"/>
<path d="M557.5 309.7L658.7 281.6"/>
<path d="M658.7 281.6L736.5 318.6"/>
<path d="M557.5 349.8L658.7 321.7" class="d"/>
<path d="M658.7 321.7L736.5 358.7" class="d"/>
<path d="M608.1 375.8L608.1 295.6" class="d"/>
<path d="M697.6 380.3L697.6 300.1" class="d"/>
<path d="M685.9 412.8L608.1 375.8" class="d"/>
<path d="M596.4 408.4L697.6 380.3" class="d"/>
</g>
<g transform="translate(564 346) scale(.25)" fill-rule="evenodd">
<path fill="#00008c" d="M653 143l-55-27-70-41-22-7-15-2-117-57-17 6-23 13-29 22-20 19-33-24-24-13-18-5-27 1-28 12-57 43-23 15-23 10-43 7 176 83 48 30 31 16 20 8 38 11 41 8 34 4 43 0 17-2 19-5 18-8 32-22 55-51 29-23 27-16z"/>
<path fill="#0000a6" d="M338 193l-9 11-13 10-9 4-8 0-2-2 1-4 11-9 25-11zM653 143l-55-27-70-41-22-7-15-2-117-57-17 6-23 13-29 22-20 19-33-24-24-13-18-5-27 1-28 12-57 43-23 15-23 10-43 7 176 83 48 30 31 16 20 8 38 11 41 8 34 4 42 0-19-5-3-3 42-7 35 0 32-22 55-51 29-23 27-16z"/>
<path fill="#0000bf" d="M349 182l-8 11-25 22-18 7-10 0-4-3 1-6 12-11 30-15 18-6zM653 143l-55-27-70-41-22-7-15-2-117-57-17 6-23 13-29 22-20 19-33-24-24-13-18-5-27 1-28 12-57 43-23 15-23 10-43 7 176 83 48 30 31 16 20 8 38 11 41 8 34 4 27-1-19-8-3-3 7-3 57-7 39 0 21-15 55-51 29-23 27-16z"/>
<path fill="#0000d9" d="M358 172l-18 23-26 22-8 4-19 5-8-1-6-5 2-8 8-8 19-12 42-18 11-3zM653 143l-55-27-70-41-22-7-15-2-117-57-17 6-23 13-29 22-20 19-33-24-24-13-18-5-27 1-28 12-57 43-23 15-23 10-43 7 176 83 48 30 31 16 20 8 38 11 64 11 29-2-24-11-2-3 5-2 86-10 34 1 28-23 47-44 21-16 27-16z"/>
<path fill="#0000f2" d="M366 163l-3 6-28 32-23 18-25 10-12 0-10-7-1-5 2-6 17-15 30-16 26-11 19-6zM653 143l-55-27-70-41-22-7-15-2-117-57-17 6-23 13-29 22-20 19-33-24-24-13-18-5-27 1-28 12-57 43-23 15-23 10-43 7 176 83 48 30 31 16 39 14 67 14 37-2-8-5-19-7-5-4 1-2 84-10 14 0 6-2 39-1 3 2 59-54 29-23 27-16z"/>
<path fill="#000dff" d="M373 154l-2 5-17 22-25 26-38 27-6 2-10-1-8-3-9-8-2-4 2-10 6-7 15-11 59-29 31-10zM653 143l-55-27-70-41-22-7-15-2-117-57-17 6-23 13-29 22-20 19-33-24-24-13-18-5-27 1-28 12-57 43-23 15-23 10-43 7 176 83 70 42 48 18 49 11 48-1-40-18-2-2 1-1 147-14 20 0 3 2 52-48 29-23 27-16z"/>
<path fill="#0026ff" d="M653 143l-55-27-70-41-22-7-15-2-117-57-17 6-23 13-29 22-20 19-33-24-24-13-18-5-27 1-28 12-57 43-23 15-23 10-43 7 176 83 70 42 48 18 34 8 13 1 44-1-11-6-36-14-6 0-10-4-18-1-8 2-28-5-25-12-4-9 3-9 10-10 14-10 69-34 26-9 11 0-9 14-22 27-19 20-19 15-3 5 0 4 3 4 9 4 16 2 40 0 60-5 23-4 8 1 14-3 4 1 29-3 18 0 3 2 45-42 29-23 27-16z"/>
<path fill="#0040ff" d="M653 143l-55-27-70-41-22-7-15-2-117-57-17 6-23 13-29 22-20 19-33-24-24-13-18-5-27 1-28 12-57 43-23 15-23 10-43 7 176 83 48 30 31 16 20 8 38 11 29 2 32 0 4-1-4-3-35-14-6 0-12-4-38-1-23-6-22-11-5-5-1-7 4-8 23-19 45-24 44-20 30-8 1 3-34 45-35 36 0 6 3 3 24 7 68-2 7-2 41-3 6-2 4 1 34-4 5 1 7-2 21 0 4 2 38-36 29-23 27-16z"/>
<path fill="#0059ff" d="M653 143l-55-27-70-41-22-7-15-2-117-57-17 6-23 13-29 22-20 19-33-24-24-13-18-5-27 1-28 12-57 43-23 15-23 10-43 7 176 83 48 30 31 16 20 8 28 8 3-1 38 4 27-1-5-4-29-11-26-4-26 0-26-7-28-14-5-5 0-8 11-14 28-19 93-46 22-6 6 0 2 2-35 47-36 40 1 6 4 3 25 6 33 0 8-2 9 1 24-3 3 1 14-3 7 1 7-2 14 0 41-5 9 1 14-2 10 2 40-37 21-16 27-16z"/>
<path fill="#0073ff" d="M305 80l7-1 16 4 10 5 2 4-4 3-10-1-10-5zM653 143l-55-27-70-41-22-7-15-2-117-57-17 6-23 13-29 22-20 19-33-24-24-13-18-5-27 1-28 12-57 43-23 15-23 10-43 7 176 83 70 42 39 15 38 5 41 0 1-1-7-4-38-11-37-1-25-7-35-18-4-5 1-7 15-17 13-9 90-46 32-20 18-1 8 4-41 54-32 37 1 5 4 3 20 6 63-1 77-9 19 0 26-3 11 1 2 2 34-32 21-16 27-16z"/>
<path fill="#008cff" d="M653 143l-55-27-70-41-22-7-15-2-117-57-17 6-23 13-29 22-20 19-33-24-24-13-18-5-27 1-28 12-57 43-23 15-23 10-43 7 176 83 70 42 25 10 50 8 35 0 2-1-4-3-31-9-27 0-31-6-39-18-9-6-4-5 4-12 21-18 95-50 11-8 8-9 1-8-3-3-9-3-22-3-22-13-10-9 1-3 28 3 20 5 35 16 17 5 15 7-1 4-73 91 0 5 3 3 19 6 52 0 48-4 13-3 9 1 12-3 4 1 24-3 9 1 7-2 21 0 2 2 28-26 21-16 27-16z"/>
<path fill="#00a6ff" d="M9 115l176 83 48 30 29 15 29 8 40 5 30-1-14-6-17-4-27 0-30-6-39-18-16-10-2-7 3-7 13-13 29-18 53-26 20-12 13-11 4-7-3-7-19-6-12-6-17-12-13-12-3 2-32-24-24-13-18-5-21 0-17 5-23 12-51 39-23 15-23 10zM290 64l6 2 5-1 32 3 22 5 44 16 21 12-75 93-2 7 5 5 13 4 6-1 3 2 6-1 9 2 25-1 7-2 11 1 103-11 32-1 4 2 22-20 24-18 24-14 16-5-55-27-70-41-22-7-15-2-117-57-17 6-20 11-20 14z"/>
<path fill="#00bfff" d="M9 115l176 83 65 39 40 13 26 3 37 0-7-4-6 0-12-4-26 0-27-5-40-18-23-14-2-4 1-7 13-14 30-19 63-32 15-10 11-13-3-7-24-11-29-23-3 1-32-24-24-13-18-5-21 0-17 5-23 12-51 39-23 15-23 10zM296 59l36 2 5 2 4-1 18 5 6 0 37 13 24 14-4 7-30 34-44 57 0 4 3 3 15 6 65 0 55-7 51-3 4-2 8 1 16-2 9 2 15-14 24-18 24-14 16-5-55-27-70-41-22-7-15-2-117-57-17 6-20 11-20 14z"/>
<path fill="#00d9ff" d="M9 115l176 83 58 35 46 16 49 3 9-1-16-5-27 0-30-6-40-18-22-12-7-6 0-10 16-16 55-31 31-15 21-14 8-10 0-5-3-3-25-14-22-18-2 1-32-24-24-13-18-5-21 0-17 5-23 12-51 39-23 15-23 10zM302 53l13 2 12-1 36 5 39 12 31 17-1 3-40 44-39 52 0 4 15 8 5-1 4 2 4-1 11 2 32-1 7-2 4 1 44-5 3 1 3-2 5 1 37-5 27-2 26 1 30-24 19-12 24-9-55-27-70-41-22-7-15-2-117-57-29 12-24 16z"/>
<path fill="#00f2ff" d="M9 115l176 83 47 29 56 21 48 1-18-4-24 0-27-7-48-23-16-10-5-6 2-10 11-11 29-18 62-31 22-15 6-8 0-5-24-16-20-17-2 1-32-24-24-13-18-5-21 0-17 5-23 12-51 39-23 15-23 10zM309 47l43 3 21 4 7 3 6 0 18 8 9 2 27 16-45 49-36 47-2 7 16 8 53 1 137-14 21 0 2 2 24-19 19-12 24-9-55-27-70-41-22-7-15-2-117-57-29 12z"/>
<path fill="#0dfff2" d="M268 239l21 9 12-2zM9 115l139 65 16 9 3 0 27 14 30 19 41 16-63-32-10-9 0-9 5-7 23-16 87-45 16-13 2-7-4-5-77-55-16-8-13-4-26-1-17 5-17 8-64 48-24 14-19 7-28 3zM316 41l40 3 18 3 3 2 7 0 41 16 14 7 7 6-43 45-41 54 0 5 13 6 8 0 3 2 34 0 7-2 10 1 6-2 26-1 6-2 10 1 11-3 4 1 6-2 50-5 39 0 34-24 24-9-55-27-70-41-22-7-15-2-117-57-29 12z"/>
<path fill="#26ffd9" d="M277 242l11 5 9-1zM9 115l139 65 16 9 3 0 27 14 15 10 30 13-47-25-8-9 2-10 23-17 86-43 18-13 6-6 1-6-34-28-42-29-16-8-13-4-26-1-17 5-17 8-64 48-24 14-19 7-28 3zM325 35l31 2 29 5 7 4 15 3 43 21 3 3-43 42-38 48-6 10 0 3 13 7 14 0 11 3 3-2 15 1 25-3 4 1 14-3 7 1 6-2 15 0 28-5 7 1 40-5 35 0 26-18 24-9-55-27-70-41-22-7-15-2-117-57-29 12z"/>
<path fill="#40ffbf" d="M315 94l-26-22-45-32-16-8-13-4-26-1-17 5-17 8-64 48-24 14-19 7-28 3-11 3 139 65 16 9 3 0 22 12-14-13 0-6 7-7 28-17 15-6 3-3 9-3 58-30 17-13 3-4zM334 28l7 2 7-1 35 5 8 4 5 0 38 16 28 16-25 18-24 24-28 34-15 22 2 5 10 5 15 0 3 2 32 0 3-2 8 1 3-2 30-1 10-3 4 1 4-2 24-1 12-3 5 1 5-2 14 0 17-3 40 0 18-12 24-9-55-27-70-41-22-7-15-2-117-57-17 6z"/>
<path fill="#59ffa6" d="M311 92l-26-23-41-29-16-8-13-4-26-1-17 5-17 8-64 48-24 14-19 7-28 3-11 3 157 74-5-5 0-4 4-4 49-26 63-29 31-21zM345 21l3 2 18 0 28 6 11 6 30 11 35 20-2 3-19 10-18 15-38 42-19 27 0 4 11 5 11 2 5-1 3 2 20 0 20-3 29-1 4-2 5 1 30-5 40-3 13-3 36-3 21 1 15-9 16-5-55-27-70-41-22-7-15-2-117-57z"/>
<path fill="#73ff8c" d="M378 161l14 7 6-1 2 2 5-1 3 2 4-2 4 2 8-2 27 0 28-4 15 0 11-3 25-3 4 1 9-3 12 0 12-3 3 1 33-5 23-2 13 1 14-5-55-27-70-41-22-7-12-1-9-4-29 12-26 20-36 40-14 20zM306 88l-21-19-41-29-16-8-13-4-26-1-17 5-17 8-73 54-27 13-16 3-5 6 7 7 79 38 21 7 16 0 38-14 79-37 25-16 6-6zM363 13l15 2 15 6 6 0-3 0-22-12z"/>
<path fill="#8cff73" d="M382 156l14 7 6-1 4 2 66-3 132-18 17-4 4-3 0-3-6-7-21-10-56-34-22-10-14-4-12-1-6-3-21 6-17 9-13 10-26 26-27 35zM302 85l-17-16-41-29-16-8-13-4-26-1-17 5-17 8-73 54-15 8-17 6-3 7 8 8 65 31 20 5 20 0 49-17 62-29 27-18 4-5z"/>
<path fill="#a6ff59" d="M386 151l12 6 8 0 4 2 32 0 39-5 4 1 12-3 3 1 69-10 29-6 12-5 1-5-6-8-63-37-25-11-30-6-13 3-17 7-16 11-32 32-15 18zM298 82l-17-16-37-26-16-8-13-4-26-1-17 5-17 8-64 48-16 10-17 7-2 7 6 7 34 19 8 1 17 8 9 1 6 3 28 0 46-15 41-18 31-17 16-14z"/>
<path fill="#bfff40" d="M601 123l-7-10-52-31-25-11-28-6-25 7-25 16-29 29-16 20-4 8 4 5 6 0 5 3 5-1 3 2 27 0 19-3 14 0 95-14 26-7zM294 80l-13-14-37-26-16-8-13-4-26-1-17 5-17 8-64 48-25 14-2 8 3 4 16 11 42 17 19 3 19-1 20-4 20-7 53-23 29-17 8-8z"/>
<path fill="#d9ff26" d="M592 117l-5-8-45-27-25-11-27-6-14 3-18 7-20 14-27 27-14 18-3 7 3 4 6 0 5 3 6-1 4 2 3-2 11 2 8-2 10 1 33-3 34-6 9 0 50-10 13-6zM290 77l-9-11-37-26-16-8-18-5-21 0-17 5-17 8-64 48-19 11-2 6 12 12 28 14 7 0 19 6 28 1 31-8 54-22 30-17 10-9z"/>
<path fill="#f2ff0d" d="M584 113l-4-8-52-30-22-7-18-2-25 7-21 13-26 25-13 16-5 9 4 4 6 0 6 3 13-1 14 2 30-4 5 1 84-14 20-8zM286 74l-5-8-37-26-16-8-18-5-21 0-17 5-23 12-51 39-21 14 0 6 9 9 27 13 24 6 23 1 30-6 26-9 32-14 23-12 15-13z"/>
<path fill="#fff200" d="M576 106l-7-8-41-23-22-7-17-2-21 5-23 13-34 33-6 8-2 8 6 3 12 0 3 2 27 0 32-3 18-4 5 1 34-6 22-6 11-5 3-4zM282 67l-30-22-24-13-18-5-21 0-17 5-23 12-51 39-15 10 0 6 7 8 29 14 7 0 6 3 35 1 39-10 35-14 24-12 17-14z"/>
<path fill="#ffd900" d="M570 104l-3-7-39-22-22-7-16-2-21 5-21 11-17 14-16 17-8 11 0 3 6 4 13 0 3 2 37-1 30-4 52-10 17-7zM279 65l-27-20-24-13-18-5-21 0-17 5-17 8-65 48-2 6 6 8 30 14 26 4 19-1 42-11 29-12 20-10 17-13z"/>
<path fill="#ffbf00" d="M563 99l-4-7-31-17-22-7-15-2-22 5-22 12-27 25-9 13 4 4 30 3 51-5 51-11 15-8zM275 62l-23-17-24-13-18-5-21 0-17 5-23 12-55 41 0 7 4 5 31 14 4-1 13 4 25-1 30-7 49-20 17-11 7-7z"/>
<path fill="#ffa600" d="M556 93l-2-4-26-14-18-6-18-3-22 5-24 13-20 18-10 12 0 3 4 3 3-1 7 3 27 0 50-6 39-10 9-6zM271 59l-19-14-24-13-18-5-21 0-17 5-17 8-56 42 0 5 3 5 11 7 10 2 7 4 18 3 29-2 32-8 29-12 27-16 4-4z"/>
<path fill="#ff8c00" d="M550 90l-3-5-19-10-18-6-17-3-25 6-16 8-13 10-15 15-3 6 7 4 11 2 21 0 40-5 37-9 8-4 5-5zM267 56l-23-16-16-8-18-5-21 0-17 5-17 8-50 37-1 4 1 4 9 8 7 3 6 0 8 4 4-1 12 3 25-1 26-6 40-16 21-14z"/>
<path fill="#ff7300" d="M543 85l-3-4-12-6-18-6-12-2-27 4-20 10-21 18-4 8 10 4 38-1 24-3 19-4 20-7 6-5zM263 53l-19-13-16-8-18-5-21 0-17 5-17 8-45 33-1 4 1 4 6 6 8 4 7 0 7 4 37 0 21-4 39-14 20-12 7-7z"/>
<path fill="#ff5900" d="M536 82l-2-4-28-10-14-1-23 5-19 10-17 15-2 5 7 3 22 1 40-5 17-4 15-6 4-4zM259 50l-15-10-25-11-9-2-21 0-17 5-17 8-31 22-9 8-1 3 1 4 9 7 7 2 2-1 8 4 6-1 4 2 15 0 20-2 47-16 21-13z"/>
<path fill="#ff4000" d="M530 80l-2-5-22-7-13-1-12 2-16 5-13 7-14 12-1 4 12 3 36-2 36-9 5-3zM254 47l-10-7-25-11-9-2-21 0-17 5-17 8-31 22-5 7 6 8 19 6 36 0 23-5 26-10 23-14z"/>
<path fill="#ff2600" d="M522 75l-2-3-22-5-20 3-22 9-7 5-5 7 12 3 10 0 35-5 17-6 4-4zM249 44l-21-12-13-4-32 0-28 12-30 22 0 4 5 6 15 4 2 2 37-1 17-4 27-10 18-11 3-4z"/>
<path fill="#ff0d00" d="M513 72l-3-3-12-2-18 3-21 8-7 7 15 3 28-4 16-6 2-2zM244 40l-16-8-18-5-27 1-18 7-16 9-18 13 0 6 6 5 13 4 5-1 12 2 28-4 29-10 13-7 6-5z"/>
<path fill="#f20000" d="M502 70l-1-2-4-1-6 3-12 1-10 3-6 5 22 0 15-5zM239 38l-11-6-18-5-27 1-18 7-16 9-12 9 0 6 15 7 6-1 10 2 33-5 27-11 10-8z"/>
<path fill="#d90000" d="M233 35l-23-8-27 1-28 12-13 9 2 6 11 5 32-1 17-4 18-7 10-8z"/>
<path fill="#bf0000" d="M227 32l-17-5-27 1-28 12-6 4 3 7 6 2 24 1 20-4 16-7 8-6z"/>
<path fill="#a60000" d="M219 29l-9-2-27 1-24 10-1 6 13 4 29-4 19-10z"/>
<path fill="#8c0000" d="M210 29l-1-2-26 1-15 6 0 4 4 2 25-2 11-5z"/>
</g>
<g class="ax">
<path d="M557.5 389.9L635.3 426.9"/>
<path d="M635.3 426.9L736.5 398.8"/>
<path d="M557.5 389.9L557.5 309.7"/>
<path d="M736.5 398.8L736.5 318.6"/>
<path d="M557.5 309.7L635.3 346.7"/>
<path d="M635.3 346.7L736.5 318.6"/>
<path d="M635.3 426.9L635.3 346.7"/>
<path d="M596.4 408.4L599.9 407.4"/>
<path d="M685.9 412.8L683.1 411.5"/>
<path d="M635.3 426.9L632.4 427.7"/>
<path d="M635.3 426.9L638 428.2"/>
<path d="M557.5 389.9L554.6 390.7"/>
<path d="M736.5 398.8L739.2 400.1"/>
<path d="M557.5 349.8L555.1 350.5"/>
<path d="M557.5 309.7L555.1 310.4"/>
</g>
<g class="tk"><text x="554.9" y="392.9" text-anchor="end">0</text><text x="554.4" y="353" text-anchor="end">0.5</text><text x="553.8" y="312.4" text-anchor="end">1</text><text x="554.6" y="401.7" text-anchor="end">90</text><text x="590" y="420.4" text-anchor="middle">0</text><text x="630.1" y="438.3" text-anchor="end">-90</text><text x="639.3" y="438.7">-45</text><text x="691.5" y="424.7" text-anchor="middle">0</text><text x="740" y="410.8">45</text><text x="625.4" y="429.6" text-anchor="end">Orientation Angle</text><text x="659" y="434.7">Ellipticity Angle</text></g>
</g>
<!-- plot f -->
<g>
<g class="ax">
<path d="M819.7 389.9L920.7 361.8"/>
<path d="M920.7 361.8L998.5 398.8"/>
<path d="M920.7 361.8L920.7 281.6"/>
<path d="M819.7 309.7L920.7 281.6"/>
<path d="M920.7 281.6L998.5 318.6"/>
<path d="M819.7 349.8L920.7 321.7" class="d"/>
<path d="M920.7 321.7L998.5 358.7" class="d"/>
<path d="M870.2 375.8L870.2 295.6" class="d"/>
<path d="M959.6 380.3L959.6 300.1" class="d"/>
<path d="M948 412.8L870.2 375.8" class="d"/>
<path d="M858.6 408.4L959.6 380.3" class="d"/>
</g>
<g transform="translate(826 319) scale(.25)" fill-rule="evenodd">
<path fill="#00008c" d="M10 223l161 77 19 15 41 40 27 18 19 8 18 5 17 3 31 2 37-1 81-9 24-6 26-14 23-17 35-32 41-34 15-10 28-13-29-15-26-25-30-44-33-59-21-32-20-23-14-10-9-3-14 1-14 8-24 28-26 50-20-9-28 13-34 25-38-77-22-37-22-25-13-8-8-2-10 1-10 4-9 6-14 14-20 28-45 81-30 44-16 16-14 10-9 4z"/>
<path fill="#0000a6" d="M310 309l-8 15-22 24-13-4-10-8 9-7 42-22zM10 223l161 77 19 15 41 40 27 18 19 8 18 5 17 3 31 2 26-1 5-2 53-5 3-2-13-5-2-2 1-2 10 0 79-12 4 2 25-18 35-32 41-34 15-10 28-13-29-15-26-25-30-44-33-59-21-32-20-23-14-10-9-3-14 1-14 8-24 28-26 50-20-9-28 13-34 25-38-77-22-37-22-25-13-8-8-2-10 1-10 4-9 6-14 14-20 28-45 81-30 44-16 16-14 10-9 4z"/>
<path fill="#0000bf" d="M318 294l-3 9-11 20-13 17 0 7 2 2-2 2-19-4-26-15 0-2 18-12 48-24zM343 208l12 2 0 5-4 8-4-3-4-7zM10 223l161 77 19 15 41 40 27 18 22 8 35 5 38 0 62-7-2-2-18-8-2-2 2-2 30-2 3-2 54-6 34-6 10 1 84-72 15-10 28-13-29-15-26-25-30-44-33-59-21-32-20-23-14-10-9-3-14 1-14 8-24 28-26 50-20-9-28 13-34 25-38-77-22-37-22-25-13-8-8-2-10 1-10 4-9 6-14 14-20 28-45 81-30 44-16 16-14 10-9 4z"/>
<path fill="#0000d9" d="M325 280l-3 11-8 16-16 26 1 8 9 7-1 2-4 2-15 0-22-7-31-18 4-5 15-9 69-34zM336 198l22 1 2 2-3 11-6 12-3-1-9-14-4-10zM10 223l161 77 19 15 33 33 20 16 30 11 38 7 52-1 39-5-2-3-26-11-3-3 4-3 27 0 61-7 8-3 6 1 13-4 7 1 18-4 18-2 5 2 72-62 15-10 28-13-29-15-26-25-30-44-33-59-21-32-20-23-14-10-9-3-14 1-14 8-24 28-26 50-20-9-28 13-34 25-38-77-22-37-22-25-13-8-8-2-10 1-10 4-9 6-14 14-20 28-45 81-30 44-16 16-14 10-9 4z"/>
<path fill="#0000f2" d="M331 188l25 0 7 3-3 15-9 19-4-2-10-16-7-16zM10 223l52 26 3 0 75 37 26 11 24 18 40 39 44 18 19 4 22 2 37-1 38-5-1-2-38-16-15-3-21-1-12 3-14 0-22-7-38-20-4-5 16-11 42-21 16-6 3-3 27-13 2 1-1 6-26 52 0 5 4 5 19 9 6-1 4 3 6-1 3 2 3-2 5 2 11-1 3 2 3-2 4 2 2-2 33 0 11-3 9 1 10-3 6 1 2-2 7 0 3-2 14 0 11-3 5 1 14-4 12 0 4-2 17-1 11-3 4 3 60-52 15-10 28-13-29-15-26-25-30-44-33-59-21-32-20-23-14-10-9-3-14 1-14 8-24 28-26 50-20-9-28 13-34 25-38-77-22-37-22-25-13-8-8-2-10 1-10 4-9 6-14 14-20 28-45 81-30 44-16 16-14 10-9 4z"/>
<path fill="#000dff" d="M326 179l31-1 4 2 4-1 2 2-3 15-13 30-4-2-9-14-12-25zM10 223l52 26 3 0 75 37 26 11 24 18 30 30 15 8 38 15 33 5 44-1 27-3 2-2-26-11-18-4-21-1-22 3-16-4-51-25-10-8 5-5 15-9 43-19 9-6 9-2 2-3 26-12 10-7 2 0 1 3-4 12-24 53 4 6 16 8 4-2 7 4 4-2 5 3 5-2 2 2 12-1 9 2 9-2 10 1 18-3 5 1 16-3 5 1 35-6 5 1 14-4 4 1 3-2 17-1 3-2 14-1 4-2 13 0 6-2 4 2 48-41 15-10 28-13-29-15-26-25-30-44-33-59-21-32-20-23-14-10-9-3-14 1-14 8-24 28-26 50-20-9-28 13-34 25-38-77-22-37-22-25-13-8-8-2-10 1-10 4-9 6-14 14-20 28-45 81-30 44-16 16-14 10-9 4z"/>
<path fill="#0026ff" d="M321 170l30-2 10 2 5-1 5 3 0 4-18 48-4 4-10-15-19-40zM10 223l52 26 3 0 75 37 26 11 24 18 22 22 52 24 33 7 25 1 36-3 9-2-14-7-17-4-24-1-8 2-15 0-8-2-70-34-5-7 20-13 36-17 4 0 3-3 16-6 5-4 8-2 2-3 3 0 3-3 3 0 3-3 14-6 17-14 1 3-11 31-16 33-3 12 4 5 13 6 6-2 6 4 5-2 4 3 4-2 5 3 2-2 8 0 2 2 8 0 3-2 2 2 15-2 10 1 11-3 25-1 3-2 12 0 3-2 6 1 13-4 13 0 15-4 6 1 12-4 6 1 22-5 12-1 3 2 37-31 15-10 28-13-29-15-26-25-30-44-33-59-21-32-20-23-14-10-9-3-14 1-14 8-24 28-26 50-20-9-28 13-34 25-38-77-22-37-22-25-13-8-8-2-10 1-10 4-9 6-14 14-20 28-45 81-30 44-16 16-14 10-9 4z"/>
<path fill="#0040ff" d="M10 223l52 26 3 0 75 37 26 11 17 12 22 21 19 10 44 18 30 6 39-1 18-2-1-2-29-7-19 2-23-1-12-4-47-23-25-14-3-5 15-11 22-11 23-9 10-6 5 0 2-3 4 0 9-6 4 0 2-3 4 0 7-5 3 0 20-11 15-14 1-10-23-44-3-9 1-3 22-3 21 0 15 3-1 8-21 55-5 7-15 40-14 30-1 5 3 5 15 7 5-2 6 4 4-2 4 3 6-2 2 2 12-1 2 2 4-2 7 0 3 2 2-2 20 0 2-2 4 2 7-3 14 0 2-2 13 1 11-4 4 2 3-2 8 0 10-3 7 1 17-5 13 0 6-3 4 1 6-3 3 2 7-3 4 1 15-4 10 0 2 2 17-15 23-16 28-13-29-15-26-25-30-44-33-59-21-32-20-23-14-10-9-3-14 1-14 8-24 28-26 50-20-9-28 13-34 25-38-77-22-37-22-25-13-8-8-2-10 1-10 4-9 6-14 14-20 28-45 81-30 44-16 16-14 10-9 4z"/>
<path fill="#0059ff" d="M653 255l-29-15-26-25-30-44-33-59-21-32-20-23-19-12-18 0-14 8-11 11-20 29-19 38-20-9-28 13-22 16 44-2 4 2 4-1 4 3-2 10-15 41-13 27-27 68 3 5 15 7 6-2 5 4 6-2 3 3 3-2 5 2 2-2 4 2 8 0 2-2 3 2 4-2 3 2 6 0 2-2 5 1 2-2 2 2 8-2 19 0 3-3 4 2 10-3 7 1 11-4 4 2 4-3 15 0 4-3 7 1 17-5 16 0 6-3 4 1 15-4 4 1 14-4 12-1 3 2 27-20zM192 14l-13 8-14 14-12 16-53 93-30 44-16 16-14 10-9 4-21 4 52 26 3 0 75 37 26 11 11 7 19 17 46 23 26 10 21 5 29 1 22-3-13-4-38 2-17-5-78-39-8-7 1-3 7-6 14-8 15-5 3-3 16-7 4 0 2-3 13-4 3-3 4 0 2-3 6 0 2-3 4 0 2-3 4 0 7-5 4 0 2-3 16-7 17-13 4-7-1-7-20-40-4-12-3 0-37-76-22-37-10-13-17-16-16-6z"/>
<path fill="#0073ff" d="M321 355l-7-1-9 2zM281 354l8 3 6-1zM653 255l-29-15-26-25-30-44-33-59-21-32-20-23-16-11-16-2-5 1-14 8-24 28-26 50-20-9-34 17 34 0 10 4-2 11-18 48-16 35-20 52 2 7 6 1 9 6 7-2 5 4 5-2 3 3 3-2 5 2 2-2 4 2 3-2 4 2 4-2 3 2 2-2 16 1 2-2 24 0 2-2 14 0 10-3 5 2 2-2 12-3 6 1 5-3 4 2 16-5 3 2 7-4 8 1 13-4 6 1 5-3 10 0 14-4 29-4 5 2 13-9zM198 12l-19 10-14 14-12 16-53 93-30 44-16 16-14 10-9 4-21 4 52 26 3 0 75 37 26 11 21 16 72 34 17 5-5-1-89-45-6-6 0-4 7-6 17-9 22-9 4 0 3-3 6-1 2-3 5 0 3-3 6-1 4-4 4 0 2-3 6 0 3-3 9-2 3-3 9-3 2-3 4 0 14-7 2-3 7-3 10-8 4-6 0-6-21-46-3-2-37-76-22-37-10-13-17-16-16-6z"/>
<path fill="#008cff" d="M331 286l10 3 10 7 4-3 6 4 4-2 3 2 5-1 2 2 3-2 5 2 2-2 4 2 3-2 4 2 2-2 26 0 7-3 4 2 2-2 4 1 4-2 4 2 4-3 3 2 6-3 4 1 5-3 2 2 6-3 6 2 4-3 5 1 5-3 4 2 6-3 7 1 5-3 6 0 7-3 3 2 6-3 8 0 7-3 3 1 37-8 31-5 7 1 17-8-14-6-19-12-26-27-26-39-33-59-31-45-10-10-14-10-9-3-14 1-14 8-17 18-18 29-15 31-19-9-11 4 18 3 7 6-27 73-30 72zM208 11l-10 1-10 4-9 6-14 14-20 28-45 81-30 44-16 16-14 10-9 4-21 4 154 74-3-4 0-3 3-3 39-17 9-2 4-3 5 0 4-4 5 0 4-3 7-1 1-3 7-1 4-3 5 0 2-3 5 0 2-3 5 0 2-4 5 0 13-8 4 0 1-2 20-10 13-13-1-10-16-35-3-3-49-98-16-23-16-17-13-8z"/>
<path fill="#00a6ff" d="M630 244l-25-21-21-27-29-47-20-37-31-45-10-10-14-10-9-3-14 1-14 8-17 18-18 29-14 30-4 1-28 75-22 51-5 15 0 6 6 1 14 9 6-2 4 3 5-2 2 2 12-1 2 2 3-2 16 1 2-2 10 1 7-2 4 1 3-2 3 2 15-2 3-2 3 1 6-3 3 3 4-3 14 0 3-2 6 1 18-6 3 3 7-4 7 1 7-4 5 1 7-3 8 1 6-3 39-7 23-6 6-3zM327 196l-15-35-51-100-16-23-16-17-13-8-11-2-13 3-9 5-18 17-20 28-45 81-20 31-10 13-16 16-14 10-8 3 0 4 4 5 59 26 35 19 7 0 7 3 16 0 42-12 5-4 5 0 9-5 6 0 3-3 7-1 5-4 5 0 3-4 6 0 2-3 6 0 2-3 4 0 3-3 5 0 3-4 8-2 2-3 8-2 2-3 6-1 2-3 9-5 8-8z"/>
<path fill="#00bfff" d="M618 235l-20-20-14-19-29-47-20-37-31-45-10-10-14-10-9-3-14 1-14 8-17 18-18 29-14 30-3 0-28 74-16 36-7 19-2 11 4 0 0 5 5 3 6-3 7 5 4-3 6 4 2-2 5 2 5-1 2 2 2-2 18 1 2-2 9 1 2-2 4 2 2-2 10 1 10-3 4 2 2-2 5 1 12-4 5 2 4-3 5 1 4-3 5 2 4-3 8 1 6-3 3 2 7-4 7 1 8-4 4 2 9-4 8 0 6-3 10 0 6-3 33-8 9-5zM323 188l-17-39-45-88-16-23-16-17-13-8-11-2-13 3-9 5-18 17-20 28-45 81-20 31-10 13-16 16-10 7 0 5 3 2 1 4 17 6 5 4 2 5 20 10 7 2 4-2 26 13 5-1 5 3 29 0 32-10 5 0 12-6 8-1 2-3 8-1 4-4 7 0 3-4 6 1 3-5 12-2 3-4 10-2 2-3 4 0 7-6 17-8 9-9z"/>
<path fill="#00d9ff" d="M610 228l-16-18-16-23-43-75-31-45-10-10-14-10-9-3-14 1-14 8-17 18-18 29-14 30-3 0-27 72-19 45-3 14 2 5 12 5 3-4 6 5 5-2 4 3 3-2 4 2 8 0 2-2 3 2 4-2 4 2 3-2 3 2 7-3 3 2 3-2 3 2 3-2 9 1 12-4 2 2 7-3 2 2 4-2 4 1 5-3 5 2 6-4 3 3 6-3 5 1 6-4 7 2 7-4 7 1 5-3 7 1 11-5 7 1 14-5 18-3 18-7 5-5zM224 17l-16-6-10 1-15 7-18 17-20 28-45 81-30 44-19 18 4 9 11 4 3 7 38 18 3 0 3-3 16 9 6-1 5 3 4-1 4 2 18-1 29-6 17-7 6 0 6-5 9 0 4-5 8 0 2-3 5 0 4-4 6 0 2-3 6 0 2-3 5 0 2-4 3 1 2-3 4 0 18-12 3 0 10-10 1-6-9-23-46-92-24-35z"/>
<path fill="#00f2ff" d="M602 219l-24-32-43-75-27-40-23-22-10-5-13-1-13 5-17 15-9 11-15 25-14 30-5 6-27 72-14 32-3 12 2 5 6 1 7 5 5-3 5 5 3-3 6 3 3-2 3 2 4-2 5 2 2-2 17 1 6-2 3 2 5-2 2 2 2-2 3 1 4-2 5 1 3-2 10 0 6-3 3 3 5-3 5 1 5-3 4 2 7-4 3 3 7-4 6 1 6-4 7 2 9-5 6 2 8-4 13-1 6-3 19-4 18-8 3-3zM224 17l-16-6-10 1-15 7-18 17-20 28-45 81-30 44-11 11 2 9 6 1 3 3 0 4 21 8 24 13 4-3 12 7 4-2 5 3 23 1 51-11 7-5 10-1 5-5 8 1 4-5 5 1 3-5 6 1 2-4 5 1 3-4 3 1 2-3 5 0 1-3 8-2 24-18 1-8-6-17-45-90-24-35z"/>
<path fill="#0dfff2" d="M596 212l-18-25-43-75-27-40-23-22-10-5-13-1-13 5-17 15-9 11-15 25-14 30-6 9-38 98-2 10 7 1 11 8 5-3 4 4 3-2 5 2 3-2 5 2 7 0 2-2 4 2 2-2 15 1 2-2 3 2 5-2 2 2 11-4 4 2 3-3 2 2 6-2 4 1 5-3 5 2 4-3 5 1 6-3 4 2 6-4 5 2 7-4 6 2 9-5 8 1 15-6 8 1 11-3 26-12zM229 21l-16-9-15 0-15 7-18 17-20 28-45 81-20 31-15 18 1 6 6 4 1 4 21 7 25 15 7-2 7 5 5-2 5 3 11-1 4 2 20-2 8-3 20-3 11-6 14-2 0-2 4-3 8 0 2-3 9-1 1-3 7 0 1-4 6 0 3-3 3 1 2-3 4 0 2-3 11-4 16-12 3-5-3-16-37-75-22-37z"/>
<path fill="#26ffd9" d="M591 205l-23-34-33-59-31-45-10-10-14-10-9-3-9 0-13 5-17 15-9 11-15 25-25 52-27 70-4 16 5 2-1 5 4 0 3-3 8 6 6-3 4 4 3-2 3 2 4-2 3 2 4-2 4 2 2-2 16 1 2-2 4 2 2-2 10 1 10-3 4 2 5-3 4 2 4-3 4 1 5-3 4 2 6-4 5 2 8-4 3 3 9-5 6 2 10-5 8 1 15-6 26-6 12-6zM224 17l-16-6-10 1-15 7-18 17-20 28-45 81-20 31-10 12 2 6 3 2 0 3 15 4 3 3-1 4 9 4 2-3 4 0 17 11 6-2 6 4 7-1 2 2 5-1 10 2 23-3 36-11 11-1 2-4 11-1 2-4 8 0 2-3 7 0 2-4 4 1 3-4 9-2 2-3 7-2 18-13 3-4 0-10-45-90-24-35z"/>
<path fill="#40ffbf" d="M586 198l-18-27-33-59-31-45-10-10-14-10-9-3-14 1-14 8-17 18-14 22-23 45-34 91 2 6 5 1 3 3 2 0 3-4 7 6 3-3 5 3 4-2 4 3 2-2 5 1 2-2 22 1 2-2 19 0 2-2 4 1 3-2 4 2 5-3 4 2 4-3 5 1 6-4 2 3 3 0 5-4 7 2 7-4 7 1 8-4 9 1 18-7 15-3 16-7 6-6zM224 17l-16-6-10 1-15 7-18 17-20 28-45 81-25 37 3 8 10 3-1 5 26 12 4-4 12 8 5-2 6 4 5-2 4 3 2-2 27 0 5-2 8 0 19-7 14-3 3 1 6-6 9 0 3-4 8 0 2-4 6 0 2-3 6 0 1-3 4 1 3-4 8-2 19-14 5-9-44-88-24-35z"/>
<path fill="#59ffa6" d="M581 191l-26-42-20-37-31-45-10-10-14-10-9-3-14 1-14 8-17 18-14 22-18 37-2 1-25 64-9 30 4 0 11 7 2-3 3 0 5 4 2-3 5 3 3-2 3 2 3-2 4 2 3-2 3 2 5-2 3 2 7-3 11 1 10-3 4 2 2-2 4 1 6-3 3 3 5-4 4 2 5-3 5 1 7-4 4 3 9-5 4 3 12-6 6 2 15-6 16-3 23-12zM306 149l-41-81-14-22-10-13-17-16-11-5-8-1-13 3-9 5-18 17-20 28-45 81-20 31 2 6 6 2 1 5 18 6 12 8 7-3 8 6 5-2 3 3 32 0 10-3 11 0 19-7 13-1 6-6 10 0 2-4 6 0 4-4 7 0 1-3 5 0 2-3 4 1 3-4 7-2 16-12z"/>
<path fill="#73ff8c" d="M576 183l-41-71-31-45-10-10-14-10-9-3-14 1-14 8-24 28-27 51-19 47-12 36 8 2 9 7 5-3 3 3 5-2 3 3 4-3 4 3 2-2 7 0 3 2 2-2 5 1 9-2 2 2 2-2 12 0 4-3 2 3 4-2 6 1 4-3 5 1 4-3 3 2 3 0 3-3 8 1 7-4 7 2 10-6 4 3 17-6 17-4 18-9 4-6zM302 141l-37-73-14-22-10-13-17-16-11-5-8-1-13 3-9 5-18 17-20 28-60 105 1 4 4 3 0 3 13 3 23 14 4-3 8 5 3-3 7 4 2-2 4 2 14 0 12-3 13 0 25-8 9-1 5-5 10 0 4-5 8 0 2-4 5 1 2-3 5 0 1-3 4 0 2-3 11-4 9-7 6-8z"/>
<path fill="#8cff73" d="M572 176l-17-27-20-37-31-45-10-10-14-10-9-3-9 0-13 5-17 15-9 11-15 25-18 37-17 43-8 24 2 4-1 5 6 2 3-4 2 0 6 5 5-2 4 3 3-2 4 2 3-2 5 2 8-2 21 0 3-2 21 0 4-3 3 3 6-4 3 2 6-4 4 3 8-5 7 2 11-5 8 1 15-6 14-2 4-4 6-1 7-4 4-4zM224 17l-16-6-16 3-13 8-14 14-12 16-63 108 0 5 3 2 0 3 8 1 2 2 0 6 11 5 3-4 3 0 10 8 3 0 3-3 5 4 5-2 4 3 20 0 3-2 4 1 10-1 3-2 9 0 14-5 17-3 0-2 4-3 10 0 1-4 9 0 1-3 6 0 2-4 5 0 6-5 6-1 16-12 3-8-34-68-24-35z"/>
<path fill="#a6ff59" d="M567 168l-32-56-31-45-10-10-14-10-9-3-14 1-14 8-24 28-30 59-20 53-1 10 10 4 5-3 6 5 3-3 5 3 2-2 5 2 3-3 4 3 2-2 10 1 2-2 3 2 7 0 11-4 4 2 11-4 4 3 6-4 3 3 4-3 7 0 7-4 3 3 3 0 11-6 4 3 12-5 19-4 4-4 6-1 9-5 4-6zM297 132l-32-64-20-30-21-21-11-5-8-1-13 3-9 5-18 17-20 28-45 81-6 8 2 8 6 2 0 5 20 9 5-3 9 6 5-2 4 3 5-2 4 3 3-2 5 2 7-2 4 1 3-2 3 2 2-2 8 0 4-2 6 1 17-6 15-2 2-5 10 0 3-4 8 0 1-4 6 0 1-2 5 0 1-3 8-2 16-12z"/>
<path fill="#bfff40" d="M564 163l-29-51-31-45-10-10-14-10-9-3-14 1-14 8-24 28-29 57-15 39-4 17 5 0 8 6 5-3 5 4 3-3 4 3 3-2 4 2 3-2 16 1 2-2 4 2 2-2 6 1 7-1 2-2 5 2 11-4 4 2 6-4 5 3 8-5 4 2 11-5 7 2 9-4 20-4 20-11zM293 124l-28-56-20-30-21-21-11-5-8-1-13 3-9 5-18 17-20 28-47 84 1 5 3 1 1 4 10 2 17 11 4-4 7 5 5-2 3 3 4-2 4 2 24-1 2-2 7 1 5-3 7 1 13-5 14-2 4-5 12-1 1-3 7 0 3-4 5 0 2-3 3 1 2-3 3 0 2-3 11-5z"/>
<path fill="#d9ff26" d="M560 156l-25-44-31-45-10-10-14-10-9-3-14 1-14 8-24 28-26 50-19 53 7 1 10 8 3-3 5 3 3-3 4 3 2-2 5 2 3-3 2 2 8 0 7-2 13 1 3-2 11 0 3-2 5 1 5-3 6 1 5-3 7 2 9-5 7 2 30-9 3-3 6-1 8-5zM290 117l-29-56-20-28-17-16-11-5-8-1-13 3-9 5-18 17-20 28-44 78 5 7 6 0 10 4 13 10 5-3 6 4 4-2 4 3 3-2 4 2 3-2 17 1 15-4 7 1 14-6 16-2 2-5 10 0 2-4 6 1 2-4 6 0 1-2 3 0 13-8 8-7z"/>
<path fill="#f2ff0d" d="M555 148l-20-36-31-45-10-10-14-10-9-3-14 1-14 8-24 28-25 48-16 43 0 8 8 3 3-4 6 5 3-2 5 2 4-2 4 3 2-2 16 1 3-2 3 1 11-2 4 2 4-3 3 2 5-3 4 2 6-4 2 2 7-3 5 2 9-5 8 2 11-5 19-4 4-4 4 0 8-4 5-5zM286 109l-25-48-20-28-12-12-13-8-8-2-10 1-19 10-14 14-12 16-35 59-12 24 3 5 5 1 1 6 12 5 5-3 9 6 3-3 5 4 4-2 4 2 8 0 2-2 15 1 3-2 15 0 19-7 12-1 4-5 11 0 2-5 6 1 2-3 8-2 15-10 7-8z"/>
<path fill="#fff200" d="M551 141l-16-29-31-45-10-10-14-10-9-3-14 1-14 8-24 28-22 41-17 48 11 6 5-3 4 3 5-2 3 2 5-1 2 2 3-2 10 1 2-2 4 2 19-3 1 2 4-3 7 0 2-2 5 2 7-4 4 3 11-6 3 3 19-7 14-2 3-4 12-4 5-5zM283 103l-22-42-20-28-12-12-13-8-8-2-10 1-15 7-18 17-20 28-35 64 1 3 4 2 0 4 6 1 12 7 4-3 4 1 4 4 3-2 5 2 4-2 4 2 19 0 5-2 5 1 7-3 4 2 18-7 15-2 1-4 9 0 4-5 6 1 1-3 9-2 17-13z"/>
<path fill="#ffd900" d="M547 134l-12-22-31-45-10-10-14-10-9-3-14 1-14 8-24 28-22 41-12 33-1 7 4 0 8 6 5-3 4 4 3-2 5 2 2-2 5 2 2-2 9 1 3-2 13 1 8-3 7 1 4-3 4 2 4-3 6 2 8-4 8 1 12-5 20-4 2-3 13-5zM280 97l-19-36-20-28-12-12-13-8-8-2-10 1-15 7-18 17-20 28-27 47-4 10 3 3 0 3 10 2 12 9 4-3 7 4 3-2 4 2 9 0 2-2 3 2 8-2 12 1 6-3 6 1 18-7 12-1 4-5 8 0 2-3 6 0 1-3 4 0 2-3 6-1 8-6z"/>
<path fill="#ffbf00" d="M543 127l-8-15-31-45-10-10-14-10-9-3-14 1-14 8-20 22-26 47-10 30 15 8 5-2 3 3 3-2 4 2 2-2 27 0 2-2 3 2 12-4 4 2 5-3 5 1 9-4 4 3 17-7 16-3 5-4 8-2 5-5zM277 91l-16-30-20-28-17-16-11-5-8-1-13 3-9 5-18 17-20 28-27 49 2 5 5 0 7 3 13 9 4-3 6 4 2-2 4 2 5-2 3 2 3-2 11 1 12-3 8 1 21-8 9 0 4-5 8 1 2-5 10-2 14-9z"/>
<path fill="#ffa600" d="M539 119l-25-39-20-23-19-12-18 0-14 8-24 28-25 48 1 4-4 9 0 7 6 2 4-3 6 5 3-3 4 3 3-2 4 2 2-2 6 1 17-3 3 2 3-2 13 0 5-3 5 2 7-4 7 2 13-6 18-3 4-4 11-4 3-4zM273 83l-22-37-22-25-16-9-15 0-15 7-18 17-20 28-23 41 1 4 5 2 0 4 7 4 7-3 7 5 5-2 4 3 3-2 3 2 14 0 3-2 2 2 4-2 4 1 4-2 12-1 16-6 12-1 1-4 8 0 2-3 5 0 2-4 13-5 4-4z"/>
<path fill="#ff8c00" d="M535 112l-21-32-20-23-16-11-16-2-5 1-14 8-20 22-26 47-3 18 7 3 6-2 5 4 3-3 2 2 5-2 3 2 3-2 4 2 7-2 10 1 2-2 4 1 4-2 5 2 4-3 5 1 7-4 7 2 13-6 18-3 2-3 12-5zM270 78l-19-32-22-25-16-9-15 0-15 7-18 17-20 28-19 36 4 2 0 4 13 6 3-3 7 4 5-2 4 3 15 0 21-4 6 1 11-5 18-3 6-5 5 0 2-3 4 0 1-2 11-4z"/>
<path fill="#ff7300" d="M531 107l-17-27-20-23-16-11-16-2-5 1-14 8-17 18-18 29-11 22-1 7 11 7 4-3 5 3 3-2 3 2 8 0 2-2 4 2 7-3 4 2 3-2 12 0 3-2 5 2 8-4 6 1 9-4 21-4 3-3 10-4zM266 70l-21-32-16-17-16-9-15 0-15 7-18 17-20 28-15 28 2 5 9 2 7 5 4-2 7 3 2-2 4 2 20 0 2-2 5 1 4-2 5 1 16-6 16-2 2-4 13-3 13-8 4-5z"/>
<path fill="#ff5900" d="M527 100l-19-28-14-15-16-11-16-2-5 1-14 8-17 18-18 29-9 21 10 4 3 3 3-2 4 2 4-2 4 2 3-2 21 1 6-3 4 2 2-2 8 0 5-3 5 2 11-5 19-4 13-7zM262 63l-21-30-17-16-16-6-10 1-15 7-18 17-20 28-11 20 2 4 6 1 11 7 3-2 5 2 6-1 2 2 3-2 3 2 10-2 9 1 3-2 5 1 15-6 14-2 3-4 6 0 3-3 7-2 11-9z"/>
<path fill="#ff4000" d="M523 94l-15-22-14-15-16-11-16-2-13 5-17 15-13 17-17 32 6 1 7 5 5-2 3 2 5-1 2 2 3-2 11 1 11-3 3 2 5-3 15 0 36-11zM259 58l-18-25-17-16-16-6-10 1-15 7-18 17-20 28-7 13 1 3 5 0 13 8 3-2 5 2 21 0 12-3 6 1 16-6 10-1 3-4 6 0 3-3 3 0 13-10z"/>
<path fill="#ff2600" d="M518 86l-14-19-19-17-10-5-13-1-13 5-17 15-13 17-13 23 14 7 5-2 4 3 2-2 27 0 2-2 8 0 5-2 6 1 13-5 9-1 3-3 5-1 7-5zM255 52l-14-19-17-16-16-6-10 1-15 7-18 17-20 28-2 6 18 9 4-2 4 3 4-2 4 2 2-2 16 1 4-2 9 0 6-3 13-2 3-4 13-4 8-5z"/>
<path fill="#ff0d00" d="M513 79l-9-12-19-17-10-5-13-1-13 5-17 15-13 17-8 16 13 6 4-2 4 3 2-2 4 1 3-2 3 2 4-2 9 1 5-3 4 2 7-3 16-2 15-6 8-6zM250 45l-9-12-17-16-16-6-10 1-15 7-18 17-16 22-1 5 17 8 4-2 4 3 3-2 11 1 9-1 3-2 11 0 7-3 6 0 5-5 5 0 3-3 7-2 6-5z"/>
<path fill="#f20000" d="M509 74l-5-7-19-17-10-5-13-1-5 1-14 8-17 18-11 17 12 6 5-1 3 2 3-2 29-1 7-3 10 0 9-5 6-1zM246 40l-5-7-17-16-16-6-10 1-19 10-14 14-12 18 14 8 12-1 4 2 13-3 17-1 29-13z"/>
<path fill="#d90000" d="M503 66l-9-9-14-10-9-3-14 1-14 8-17 18-5 9 10 6 40-3 27-9 5-5zM241 33l-12-12-13-8-8-2-10 1-19 10-14 14-7 11 12 6 6-1 3 2 23-2 10-4 13-2 11-6z"/>
<path fill="#bf0000" d="M497 60l-19-14-16-2-5 1-14 8-17 18 3 4 5 2 20 0 11-3 9 0 19-8zM235 27l-11-10-8-4-8-2-10 1-19 10-15 16 8 6 6-1 10 2 14-3 4 1 21-8 6-4z"/>
<path fill="#a60000" d="M490 54l-12-8-16-2-13 5-16 14 9 5 27-2 15-5zM228 21l-4-4-11-5-15 0-15 7-12 11 12 6 14-1 21-5 8-5z"/>
<path fill="#8c0000" d="M481 48l-10-4-9 0-13 5-7 6 7 3 17-1 11-4zM220 15l-12-4-10 1-10 4-7 6 6 3 19-1 11-5z"/>
</g>
<g class="ax">
<path d="M819.7 389.9L897.5 426.9"/>
<path d="M897.5 426.9L998.5 398.8"/>
<path d="M819.7 389.9L819.7 309.7"/>
<path d="M998.5 398.8L998.5 318.6"/>
<path d="M819.7 309.7L897.5 346.7"/>
<path d="M897.5 346.7L998.5 318.6"/>
<path d="M897.5 426.9L897.5 346.7"/>
<path d="M858.6 408.4L862.1 407.4"/>
<path d="M948 412.8L945.2 411.5"/>
<path d="M897.5 426.9L894.6 427.7"/>
<path d="M897.5 426.9L900.2 428.2"/>
<path d="M819.7 389.9L816.8 390.7"/>
<path d="M998.5 398.8L1001.2 400.1"/>
<path d="M819.7 349.8L817.3 350.5"/>
<path d="M819.7 309.7L817.3 310.4"/>
</g>
<g class="tk"><text x="817.1" y="392.9" text-anchor="end">0</text><text x="816.6" y="353" text-anchor="end">0.5</text><text x="816" y="312.4" text-anchor="end">1</text><text x="816.8" y="401.7" text-anchor="end">90</text><text x="852.2" y="420.4" text-anchor="middle">0</text><text x="892.3" y="438.3" text-anchor="end">-90</text><text x="901.5" y="438.7">-45</text><text x="953.6" y="424.7" text-anchor="middle">0</text><text x="1002" y="410.8">45</text><text x="887.6" y="429.6" text-anchor="end">Orientation Angle</text><text x="944.1" y="442.1">Ellipticity Angle</text></g>
</g>
<!-- plot g -->
<g>
<g class="ax">
<path d="M291.5 612.1L392.9 584"/>
<path d="M392.9 584L470.9 621"/>
<path d="M392.9 584L392.9 503.8"/>
<path d="M291.5 531.9L392.9 503.8"/>
<path d="M392.9 503.8L470.9 540.8"/>
<path d="M291.5 572L392.9 543.9" class="d"/>
<path d="M392.9 543.9L470.9 580.9" class="d"/>
<path d="M342.2 598.1L342.2 517.9" class="d"/>
<path d="M431.9 602.5L431.9 522.3" class="d"/>
<path d="M420.2 635.1L342.2 598.1" class="d"/>
<path d="M330.5 630.6L431.9 602.5" class="d"/>
</g>
<g transform="translate(298 532) scale(.25)" fill-rule="evenodd">
<path fill="#00008c" d="M655 186l-36-17-17-12-24-25-42-50-27-27-28-22-25-14-25-8-37-1-27 7-40 21-37 27-65 57-30 8-36 20-39 31-16 10-53 40-22 8-20-1 178 84 12 7 18 15 44 44 18 15 23 11 19 0 18-8 24-23 23-32 30-49 17-14 23-15 35-15 21-5 43-5 25-6 15-6 29-19z"/>
<path fill="#0000a6" d="M655 186l-36-17-17-12-24-25-42-50-27-27-28-22-25-14-25-8-37-1-27 7-40 21-37 27-65 57-30 8-36 20-39 31-16 10-53 40-22 8-20-1 178 84 12 7 18 15 44 44 18 15 23 11 15 0 12-3 10-5 24-23 23-32 30-49 17-14 23-15 35-15 21-5 43-5 25-6 15-6 29-19z"/>
<path fill="#0000bf" d="M655 186l-36-17-17-12-24-25-42-50-27-27-28-22-25-14-25-8-37-1-27 7-40 21-37 27-65 57-30 8-36 20-39 31-16 10-53 40-22 8-20-1 141 66 16 9 3 0 30 16 18 15 55 54 12 8 10 3 23 0 28-8 18-18 14-19 39-62 32-24 24-13 19-7 21-5 43-5 25-6 15-6 29-19z"/>
<path fill="#0000d9" d="M655 186l-36-17-17-12-24-25-42-50-27-27-28-22-25-14-25-8-37-1-27 7-40 21-37 27-65 57-30 8-36 20-39 31-16 10-53 40-22 8-20-1 141 66 16 9 3 0 30 16 18 15 58 56 23 5 13 0 19-3 23-9 10-10 14-19 39-62 32-24 24-13 19-7 21-5 43-5 25-6 15-6 29-19z"/>
<path fill="#0000f2" d="M329 363l-17 7-14 0-6-3 2-2 10-2 4 1 19-3zM655 186l-36-17-17-12-24-25-42-50-27-27-28-22-25-14-25-8-37-1-27 7-40 21-37 27-65 57-30 8-36 20-39 31-16 10-53 40-22 8-20-1 185 88 23 18 49 48 22 7 23 1 20-3 14-5 17-9 24-32 30-49 17-14 23-15 35-15 21-5 43-5 25-6 15-6 29-19z"/>
<path fill="#000dff" d="M346 353l-2 4-12 7-20 7-15 0-7-2-15-9 4-3 32-5 32-1zM655 186l-36-17-17-12-24-25-42-50-27-27-28-22-25-14-25-8-37-1-27 7-40 21-37 27-65 57-30 8-36 20-39 31-16 10-53 40-22 8-20-1 185 88 23 18 40 40 29 10 28 1 29-7 25-13 18-24 30-49 17-14 23-15 35-15 21-5 43-5 25-6 15-6 29-19z"/>
<path fill="#0026ff" d="M362 343l-1 3-18 13-15 8-19 5-21-3-13-6-15-10 2-2 25-6 5 1 3-2 6 1 3-2 3 1 19-3 27 0 2 2 4-2zM655 186l-36-17-17-12-24-25-42-50-27-27-28-22-25-14-25-8-37-1-27 7-40 21-37 27-65 57-30 8-36 20-39 31-16 10-53 40-22 8-20-1 185 88 23 18 32 32 27 11 15 3 24 0 28-7 32-17 41-64 17-14 23-15 35-15 21-5 43-5 25-6 15-6 29-19z"/>
<path fill="#0040ff" d="M369 335l2-2 2 1-1 2zM370 336l-11 13-10 7-22 12-15 4-16 0-7-2-33-16-10-7 5-4 31-7 4 1 15-4 3 1 3-2 3 2 7-2 4 1 2-2 4 2 2-2 27 0 3 2 4-2zM655 186l-36-17-17-12-24-25-42-50-27-27-28-22-25-14-25-8-37-1-27 7-40 21-37 27-65 57-30 8-36 20-39 31-16 10-53 40-22 8-20-1 178 84 16 10 40 37 20 9 19 6 35 1 31-9 33-18 35-56 17-14 23-15 35-15 21-5 43-5 25-6 15-6 29-19z"/>
<path fill="#0059ff" d="M381 327l0 2-12 12-19 15-24 13-15 4-12 0-12-3-55-29 0-2 5-3 27-7 27-3 2-2 26-1 6-2 11 1 2-2 3 2 18-1 2 2 4-2 6 4 5-2zM655 186l-36-17-17-12-24-25-42-50-27-27-28-22-25-14-25-8-37-1-27 7-40 21-37 27-65 57-30 8-36 20-39 31-16 10-53 40-22 8-20-1 178 84 16 10 30 28 19 9 29 10 30 2 21-4 17-6 18-9 20-13 29-47 17-14 23-15 35-15 21-5 43-5 25-6 15-6 29-19z"/>
<path fill="#0073ff" d="M389 320l0 3-29 27-32 19-15 4-18 0-7-2-44-21-22-12-4-4 0-2 5-3 24-7 8 0 7-3 3 1 6-2 5 1 10-3 4 1 11-4 4 2 2-2 4 1 7-2 9 2 8-3 14 0 3 2 3-2 2 2 6-1 2 2 5-2 4 3 5-2zM655 186l-36-17-17-12-24-25-42-50-27-27-28-22-25-14-25-8-37-1-27 7-40 21-37 27-65 57-30 8-36 20-39 31-16 10-53 40-22 8-20-1 178 84 16 10 21 19 29 14 35 11 25 1 32-9 37-20 12-10 22-36 17-14 23-15 35-15 21-5 43-5 25-6 15-6 29-19z"/>
<path fill="#008cff" d="M655 186l-36-17-17-12-24-25-42-50-27-27-28-22-25-14-25-8-37-1-27 7-40 21-37 27-65 57-30 8-36 20-39 31-16 10-53 40-22 8-20-1 178 84 12 7 15 13 3 0 35 18 30 11 4 0-71-35-12-9 1-3 19-7 6 0 15-5 17-1 3-2 7 0 2-2 4 2 3-2 14-2 5 1 39-5 4 2 3-2 3 2 3-2 3 2 5-2 3 3 4-2 4 3 3-3 5 4 6-2 14 10-38 37-27 17 35-16 29-19 19-31 17-14 23-15 35-15 21-5 43-5 25-6 15-6 29-19z"/>
<path fill="#00a6ff" d="M655 186l-36-17-17-12-24-25-42-50-27-27-28-22-25-14-25-8-37-1-27 7-40 21-37 27-65 57-30 8-36 20-39 31-16 10-53 40-22 8-20-1 141 66 16 9 3 0 22 12-6-7 3-4 44-10 8 0 11-3 4 1 11-3 14-1 3-2 2 2 15-2 2-2 4 2 3-3 2 2 3-2 7 0 2 2 8-3 3 2 3-3 2 2 14 0 2-2 4 3 5-2 2 2 4-1 3 2 4-3 6 5 4-3 4 4 15 8-6 8-36 35 2 0 35-23 19-28 36-25 35-15 21-5 43-5 25-6 15-6 29-19z"/>
<path fill="#00bfff" d="M655 186l-36-17-17-12-24-25-42-50-27-27-28-22-25-14-25-8-37-1-27 7-40 21-37 27-65 57-30 8-36 20-97 74-16 9-3 8 9 9 47 21 43 22 29 7 43-3 39-6 4 1 17-4 14 0 3-2 8 1 3-2 7 1 14-3 15 1 3-2 3 2 3-2 3 2 3-2 4 2 3-2 4 2 3-2 3 3 4-2 3 3 4-3 5 4 6-2 13 9 5 1 2 6-2 4-31 32 26-18 15-21 36-25 35-15 21-5 43-5 25-6 15-6 29-19z"/>
<path fill="#00d9ff" d="M655 186l-36-17-17-12-24-25-42-50-27-27-28-22-25-14-25-8-37-1-27 7-40 21-37 27-65 57-30 8-36 20-39 31-27 18-32 25-3 8 4 8 6 3 4 5 59 29 9 0 12 6 7 0 6 3 56 0 3-2 14 0 3-2 9-1 10 1 3-2 12 0 3-2 8 1 2-2 10-1 9 1 8-3 9 1 2-2 6 0 3 2 2-2 4 2 4-2 3 2 8-3 4 3 3-2 4 2 4-2 3 3 4-3 4 3 4-2 4 4 5-3 9 7 11 4 2 11-4 7-19 19 14-10 8-11 17-14 23-15 16-8 19-7 21-5 43-5 17-4 29-11 23-16z"/>
<path fill="#00f2ff" d="M655 186l-36-17-17-12-24-25-42-50-27-27-28-22-25-14-25-8-37-1-27 7-29 14-48 34-65 57-30 8-39 22-36 29-16 10-30 23-4 8 0 5 6 9 10 4 4 6 35 17 10 0 12 7 7-1 7 4 4-1 5 3 31 1 8-2 9 2 8-3 10 1 22-4 3 2 3-2 4 1 22-4 4 1 2-2 4 2 7-3 3 2 3-2 5 1 6-2 9 1 2-2 3 2 3-2 3 2 8 0 2-2 3 2 3-2 5 2 2-2 4 3 3-3 4 3 5-2 3 3 3-3 6 5 4-3 8 6 14 6 2 10-8 16 18-16 23-15 16-8 23-8 17-4 43-5 25-6 15-6 29-19z"/>
<path fill="#0dfff2" d="M655 186l-36-17-17-12-24-25-42-50-27-27-28-22-25-14-25-8-37-1-27 7-29 14-48 34-65 57-30 8-39 22-36 29-31 21-8 11 0 8 8 10 14 6 2 4 13 7 11 1 17 9 7-1 8 5 4-2 5 3 5-1 3 2 48 1 7-2 26-1 13-3 4 2 8-3 3 2 2-2 4 1 6-2 5 1 23-3 11 1 7-2 8 0 2 2 2-2 5 2 2-2 4 2 4-2 2 2 5-1 2 2 5-3 4 4 4-3 6 5 4-3 8 6 14 6 2 5 0 9-7 15 35-25 32-14 24-6 43-5 25-6 15-6 29-19z"/>
<path fill="#26ffd9" d="M655 186l-36-17-17-12-24-25-42-50-27-27-28-22-25-14-25-8-37-1-27 7-29 14-48 34-65 57-30 8-39 22-36 29-24 16-5 9 0 7 10 12 24 10 17 10 9 0 8 5 6-1 6 4 5-2 3 2 6-1 11 3 3-2 4 2 7 0 3-2 10 2 8-2 9 1 9-3 3 2 7-2 10 1 17-3 15 0 7-3 2 2 4-2 15 1 3-2 10 2 7-2 4 1 3-2 2 2 9 0 2-2 3 3 4-2 3 3 3-3 3 2 5-2 4 4 4-3 5 4 7-2 7 6 13 5 4 7 0 11-9 18 31-22 32-14 24-6 43-5 25-6 15-6 29-19z"/>
<path fill="#40ffbf" d="M655 186l-36-17-17-12-24-25-42-50-27-27-28-22-25-14-25-8-37-1-27 7-40 21-37 27-65 57-30 8-36 20 1 3 4 2 10-2 1 1-5 5-17 9-37 15-11 10-3 5-1 7 4 5 0 3 5 2 7 7 5 1 20 11 5 1 4-2 11 7 4-2 6 4 6-2 4 3 4-2 5 3 18-1 3 2 4-2 3 2 2-2 39 0 2-2 16 0 6-2 4 2 2-2 4 1 7-3 3 2 3-2 9 1 2-2 3 2 3-2 6 0 3 2 2-2 16 1 2-2 3 2 3-2 3 2 3-2 12 2 2-2 4 3 4-3 3 3 4-2 5 4 4-3 5 4 5-3 7 6 17 8 0 3 4 5-1 22 2 1 14-10 35-15 21-5 43-5 25-6 15-6 29-19z"/>
<path fill="#59ffa6" d="M655 186l-36-17-17-12-24-25-42-50-27-27-28-22-25-14-25-8-37-1-27 7-40 21-37 27-65 57-18 4-16 6 16-2 1 1-6 6-36 26-46 21-7 7-1 7 5 9 9 4 2 4 14 7 7-1 11 7 7-1 6 4 7-1 4 3 5-2 4 3 2-2 5 2 12-1 3 2 2-2 7 0 4 2 3-2 21 1 3-2 15 1 2-2 9 1 2-2 9 1 2-2 9 1 3-2 25 0 2-2 3 2 3-2 3 2 3-2 10 1 2-2 4 3 2-2 4 2 3-2 3 2 3-2 4 2 4-2 3 3 3-3 6 3 2-3 4 4 3 0 2-3 6 5 4-3 10 7 14 5 2 5 3 2 6 16 3 3 10 2 26-11 21-5 32-4 2-5 46-13 5 0 2 3 25-17z"/>
<path fill="#73ff8c" d="M655 186l-36-17-17-12-24-25-42-50-27-27-28-22-25-14-25-8-37-1-21 5-35 16-20 13-28 21-65 57-6 1-16 15-32 23-43 21-4 4-1 5 1 4 6 7 31 15 7-1 7 4 5-1 4 3 8-1 11 3 4-2 2 2 25-1 3 2 3-2 32 0 2-2 5 1 24-3 32 0 8-3 4 3 2-2 10 1 2-2 4 3 3-3 2 2 4-2 5 2 2-2 3 3 3-2 5 2 4-2 3 3 4-3 4 4 6-2 5 4 4-3 8 6 19 8 8 12 5 4 15 3 59-15 49-16 30-6 9 1z"/>
<path fill="#8cff73" d="M135 182l1 7 8 8 15 8 8-1 10 6 4-2 7 4 4-2 4 3 5-2 4 3 5-2 2 2 5-1 3 2 2-2 5 2 3-2 3 2 4-2 4 2 2-2 15 1 4-2 3 2 2-2 9 1 2-2 4 2 7-3 4 2 13-3 2 2 5-2 14 1 3-2 13 0 2 2 3-3 2 2 4-2 12 0 3 2 2-2 5 1 3-2 3 3 4-2 4 3 2-3 4 3 4-2 4 3 3-3 5 4 5-2 5 4 5-3 12 8 5-2 4 6 8 3 5 6 16 7 17-1 33-8 35-12 5 0 39-12 19-3 9 0 3 2 18-19-36-17-17-12-24-25-42-50-27-27-18-15-16-11-19-10-32-9-30 0-27 7-29 14-48 34-65 57-5 1-11 11-22 17-25 16-23 11z"/>
<path fill="#a6ff59" d="M147 177l0 4 4 5 26 13 5-2 8 5 5-2 4 3 4-2 5 3 4-2 3 2 12-1 3 2 4-2 4 2 2-2 3 2 6 0 3-2 4 2 2-2 33 0 2-2 10 1 2-2 6 0 3 2 7-3 3 2 3-2 4 2 3-3 12 0 2 2 4-2 3 2 3-3 7 2 5-2 2 3 4-3 3 2 8 0 2-2 4 4 4-3 4 3 4-2 3 3 4-4 5 5 3-3 7 5 2-3 3 0 10 7 4-3 10 5 4 6 17 8 8 1 42-7 88-27 27-2 7 3 6-7-36-17-17-12-24-25-42-50-27-27-18-15-16-11-19-10-32-9-30 0-27 7-29 14-48 34-65 57-4 1-33 28z"/>
<path fill="#bfff40" d="M621 171l-19-14-11-11-55-64-27-27-18-15-29-18-24-9-14-3-30 0-21 5-35 16-20 13-28 21-82 71-19 15-28 18-3 5 5 6 13 7 7-1 7 5 6-2 6 4 4-2 4 3 5-2 3 2 12-1 2 2 8 0 2-2 4 2 3-2 3 2 3-2 8 0 3 2 7-3 3 2 4-2 21 1 2-2 9 1 3-2 3 2 7-3 3 2 3-2 4 2 2-2 11 1 2-2 3 2 2-2 3 2 3-2 7 0 3 2 3-2 3 2 7 0 3-2 3 3 5-3 2 3 5-2 3 3 2-2 7 2 2-3 5 5 5-3 5 4 5-2 7 5 6-2 32 16 17 1 20-3 54-15 7-4 27-8 12-6 3-3z"/>
<path fill="#d9ff26" d="M606 159l-4-2-24-25-42-50-27-27-18-15-29-18-24-9-14-3-30 0-21 5-35 16-20 13-28 21-84 73-35 26-1 4 1 2 21 10 5-2 6 4 4-2 6 4 5-2 3 2 6-1 2 2 8 0 2-2 3 2 21 0 2-2 23 1 6-2 16 1 8-2 10 1 2-2 3 2 2-2 17 1 2-2 7 0 2 2 2-2 8 0 2 2 3-2 7 0 3 2 3-3 3 3 4-2 4 3 3-3 4 3 4-2 3 3 5-2 3 3 6-2 5 4 4-3 7 5 6-2 18 10 7 0 9 4 10 1 31-4 60-19 16-9 3-4z"/>
<path fill="#f2ff0d" d="M596 151l-60-69-27-27-28-22-25-14-25-8-37-1-21 5-35 16-20 13-28 21-109 94 7 7 9 1 8 5 5-2 4 3 15 0 2 2 4-2 3 2 6-1 2 2 3-2 35 1 3-2 4 2 7-3 3 2 3-2 4 2 2-2 10 1 3-2 3 2 8-2 3 1 2-2 3 2 8-2 27 0 3 2 8-3 3 2 4-2 4 3 4-2 11 3 3-3 4 4 3-3 4 3 5-2 5 4 6-2 6 5 5-3 11 7 5-2 10 6 5-1 3 2 17 1 29-5 39-13 17-9 4-4z"/>
<path fill="#fff200" d="M587 141l-51-59-27-27-28-22-25-14-25-8-37-1-21 5-35 16-27 18-21 16-55 49-12 8-5 7-25 21 0 4 13 7 4-2 7 4 4-2 5 3 6-1 2 2 4-2 4 3 3-2 14 0 5 2 2-2 51 0 2-2 17 1 7-2 4 2 8-3 10 2 2-2 3 2 7 0 2-2 4 2 3-2 7 0 4 2 3-2 3 3 3-2 3 2 5-2 3 3 4-3 4 3 4-2 3 3 5-3 4 4 5-2 5 4 6-2 7 5 7-1 7 4 5-1 5 3 17 1 24-3 40-13 15-9 3-5z"/>
<path fill="#ffd900" d="M579 133l-43-51-35-34-26-19-19-10-25-8-37-1-21 5-35 16-20 13-28 21-66 57-1 3-20 18 0 2 16 8 5-2 4 3 6-1 2 2 7-1 3 2 2-2 8 0 2 2 15 0 2-2 4 2 3-2 3 2 2-2 17 1 2-2 3 2 3-2 4 2 7-3 3 2 7 0 2-2 16 1 2-2 4 2 2-2 13 0 2 2 3-2 20 0 3 2 3-2 4 2 4-2 2 2 5-1 2 2 4-2 4 2 5-1 4 3 5-2 4 3 5-2 4 3 5-2 7 5 4-2 5 3 6-1 5 3 19 1 30-4 26-9 16-11z"/>
<path fill="#ffbf00" d="M571 123l-35-41-27-27-34-26-19-10-25-8-37-1-21 5-35 16-20 13-28 21-60 52-16 17 0 2 17 8 6-1 4 2 3-2 4 3 4-2 11 3 2-2 12 1 2-2 3 2 7 0 3-2 3 2 2-2 7 0 3 2 2-2 11 1 2-2 6 0 3 2 2-2 4 1 8-2 3 2 7 0 2-2 4 2 8-3 3 2 3-2 3 2 4-2 4 2 2-2 3 2 10-1 3 2 3-2 9 0 2 2 4-2 11 3 4-2 3 3 3-2 7 3 4-2 4 3 5-2 5 4 5-2 4 3 6-1 11 3 16 0 23-3 21-7 11-6 5-5z"/>
<path fill="#ffa600" d="M564 115l-28-33-27-27-34-26-19-10-25-8-37-1-21 5-35 16-20 13-28 21-64 56-2 8 7 4 4-2 7 4 6-1 4 2 4-2 2 2 5-1 2 2 3-2 5 2 3-2 3 2 3-2 4 2 2-2 5 2 2-2 16 1 2-2 22 1 2-2 4 2 7-3 4 3 2-2 11 1 7-2 3 2 3-2 4 2 3-2 4 2 2-2 4 2 3-2 6 0 3 2 4-2 5 2 2-2 5 2 2-2 4 3 2-2 5 2 3-2 5 3 4-2 3 2 6-1 4 3 5-1 3 2 6-1 3 2 5-1 3 2 5-1 3 2 25-1 27-7 11-6 6-6z"/>
<path fill="#ff8c00" d="M556 105l-47-50-34-26-19-10-25-8-37-1-27 7-40 21-37 27-58 52 2 3 9 4 5-1 5 3 5-2 2 2 6-1 3 2 3-2 3 2 9 0 2-2 3 2 8 0 1-2 7 0 3 2 2-2 11 1 2-2 6 0 3 2 2-2 8 0 3 2 7-3 3 2 3-2 4 2 3-2 9 1 2-2 3 2 8 0 2-2 3 2 14 0 3-2 2 2 5-1 3 2 2-2 4 2 3-2 4 2 4-2 2 2 6-1 4 3 2-2 5 2 4-2 4 3 5-2 4 3 4-2 2 2 6-1 3 2 22 0 22-3 17-7 6-5z"/>
<path fill="#ff7300" d="M548 96l-39-41-34-26-19-10-25-8-37-1-27 7-40 21-37 27-48 43 12 7 6-1 3 2 6-1 3 2 3-2 3 2 4-2 4 2 2-2 3 2 21 0 3-2 3 2 3-2 15 1 2-2 4 2 8-2 10 1 2-2 3 2 3-2 9 2 3-2 3 2 3-2 8 0 2 2 3-2 8 0 2 2 3-2 4 2 2-2 8 0 2 2 5-1 3 2 2-2 5 2 4-2 4 3 2-2 5 2 3-2 11 3 35 1 18-3 17-7 5-5z"/>
<path fill="#ff5900" d="M252 99l14 7 3-2 6 3 3-2 5 2 2-2 11 3 2-2 29 1 3-2 3 2 2-2 5 1 2-2 3 2 6 0 2-2 11 2 2-2 22 1 2-2 4 2 2-2 4 2 10-2 2 2 17-1 4 2 2-2 8 0 3 2 19-1 2 2 41 0 16-3 9-4 6-5 1-8-39-39-20-15-19-11-31-11-37-1-27 7-29 14-48 34z"/>
<path fill="#ff4000" d="M262 90l14 7 5-2 11 3 2-2 5 2 2-2 4 2 4-2 3 2 3-2 3 2 7 0 3-2 15 1 3-2 3 2 3-2 15 1 2-2 4 2 6 0 2-2 3 2 3-2 8 0 2 2 3-2 7 0 3 2 9-3 3 2 4-2 2 2 11-1 3 2 3-2 5 2 2-2 3 2 25-1 9 2 32-5 9-6 2-8-23-23-18-15-16-11-19-10-25-8-37-1-27 7-29 14-48 34z"/>
<path fill="#ff2600" d="M273 81l13 6 12-1 3 2 14 0 3-2 3 2 9-2 7 0 4 2 2-2 15 1 3-2 3 2 3-2 28 1 2-2 13 0 2 2 4-2 7 0 3 2 2-2 4 2 2-2 5 2 2-2 11 2 26 0 33-4 7-3 4-4 1-4-1-3-13-13-18-15-16-11-19-10-25-8-37-1-27 7-29 14-35 24z"/>
<path fill="#ff0d00" d="M284 71l11 6 13-1 3 2 3-2 3 2 26 0 3-2 4 2 2-2 64 0 3-2 3 2 3-2 10 2 2-2 42 1 24-4 9-6 1-6-22-19-16-11-19-10-25-8-37-1-27 7-29 14-27 18z"/>
<path fill="#f20000" d="M295 62l10 5 11-1 4 2 39 0 2-2 22 1 3-2 9 2 2-2 23 1 2-2 34 1 8-2 9 1 15-2 11-4 4-6-1-3-27-20-19-10-25-8-37-1-27 7-29 14z"/>
<path fill="#d90000" d="M307 52l5 4 13 0 4 2 27 0 13-2 12 1 13-2 3 2 3-2 28 1 7-2 22 0 24-3 9-5 1-6-29-18-24-9-14-3-30 0-21 5-35 16z"/>
<path fill="#bf0000" d="M321 43l9 4 58 0 9-2 20 1 50-5 8-3 3-3 0-4-22-12-25-8-37-1-21 5-35 16z"/>
<path fill="#a60000" d="M337 33l6 3 42 1 8-2 15 1 45-5 9-3 2-4-8-5-25-8-37-1-27 7-29 14z"/>
<path fill="#8c0000" d="M357 23l13 3 44-2 22-3 6-2 2-4-20-5-30 0-27 7-9 4z"/>
</g>
<g class="ax">
<path d="M291.5 612.1L369.5 649.1"/>
<path d="M369.5 649.1L470.9 621"/>
<path d="M291.5 612.1L291.5 531.9"/>
<path d="M470.9 621L470.9 540.8"/>
<path d="M291.5 531.9L369.5 568.9"/>
<path d="M369.5 568.9L470.9 540.8"/>
<path d="M369.5 649.1L369.5 568.9"/>
<path d="M330.5 630.6L334 629.6"/>
<path d="M420.2 635.1L417.4 633.8"/>
<path d="M369.5 649.1L366.6 649.9"/>
<path d="M369.5 649.1L372.2 650.4"/>
<path d="M291.5 612.1L288.6 612.9"/>
<path d="M470.9 621L473.6 622.3"/>
<path d="M291.5 572L289.1 572.7"/>
<path d="M291.5 531.9L289.1 532.6"/>
</g>
<g class="tk"><text x="288.9" y="615.1" text-anchor="end">0</text><text x="288.4" y="575.2" text-anchor="end">0.5</text><text x="287.8" y="534.6" text-anchor="end">1</text><text x="288.6" y="623.9" text-anchor="end">90</text><text x="324.1" y="642.6" text-anchor="middle">0</text><text x="364.3" y="660.5" text-anchor="end">-90</text><text x="373.5" y="660.9">-45</text><text x="425.8" y="647" text-anchor="middle">0</text><text x="474.4" y="633">45</text><text x="359.6" y="651.8" text-anchor="end">Orientation Angle</text><text x="393.2" y="656.9">Ellipticity Angle</text></g>
</g>
<!-- plot h -->
<g>
<g class="ax">
<path d="M557.5 612.1L658.7 584"/>
<path d="M658.7 584L736.5 621"/>
<path d="M658.7 584L658.7 503.8"/>
<path d="M557.5 531.9L658.7 503.8"/>
<path d="M658.7 503.8L736.5 540.8"/>
<path d="M557.5 572L658.7 543.9" class="d"/>
<path d="M658.7 543.9L736.5 580.9" class="d"/>
<path d="M608.1 598.1L608.1 517.9" class="d"/>
<path d="M697.6 602.5L697.6 522.3" class="d"/>
<path d="M685.9 635.1L608.1 598.1" class="d"/>
<path d="M596.4 630.6L697.6 602.5" class="d"/>
</g>
<g transform="translate(564 524) scale(.25)" fill-rule="evenodd">
<path fill="#00008c" d="M9 364l280 133 10-7 11-13 19-35 20-46 39-112 89 30 50 21 47 24 49 34 10 5 10 1 10-5-49-23-20-33-44-104-27-54-25-30-9-6-39-35-37-27-24-12-25-9-24-6-48-8-28-7-31-13-26-16-11 0-14 8-23 29-27 61-45 132-20 50-21 43-10 15z"/>
<path fill="#0000a6" d="M23 352l1 2 64 30 22 7 10 6 24 7 15 8 16 4 58 28 12 9 46 25 11 8 16-22 29-63 41-117 89 30 50 21 47 24 51 35-13-14-4-7-4-2-17-27-27-60-20-50-23-47-16-23-13-14-9-6-55-48-32-20-38-15-100-21-31-13-26-16-11 0-14 8-23 29-15 31-15 38-49 143-28 63z"/>
<path fill="#0000bf" d="M30 342l65 32 13 2 25 13 13 2 21 11 9 1 13 5 9 6 48 22 7 7 16 7 6 6 22 10 7 7 6 3 19-34 18-41 41-117 2 1 4-2 59 20 64 25 57 31 41 28-31-49-44-104-23-47-16-23-13-14-9-6-55-48-32-20-38-15-100-21-31-13-26-16-11 0-14 8-23 29-15 31-15 38-49 143-21 49-13 25z"/>
<path fill="#0000d9" d="M37 331l89 43 6-1 24 13 10 0 33 17 6-1 25 12 12 10 24 10 4 6 21 9 4 6 22 10 12-23 20-46 37-109 2-3 2 1 3-5 60 19 61 24 44 23 46 32 4 1-24-41-44-104-23-47-16-23-13-14-9-6-55-48-32-20-38-15-100-21-31-13-26-16-11 0-14 8-23 29-15 31-15 38-49 143-21 49z"/>
<path fill="#0000f2" d="M42 322l1 2 20 8 53 27 9-1 23 13 15 2 23 13 11 0 13 8 38 17 9 9 22 9 3 6 24 10 2 5 14 6 25-55 39-114 2-3 1 1 5-9 8 1 5 3 56 18 51 21 43 23 43 30 4 1 0-3-20-32-44-104-23-47-16-23-13-14-9-6-55-48-32-20-38-15-100-21-31-13-26-16-11 0-14 8-23 29-11 22-27 69-41 121z"/>
<path fill="#000dff" d="M46 314l66 32 13 1 25 14 8-1 23 13 6 2 4-2 4 1 29 16 37 16 4 7 23 9 3 6 23 9 4 3 2 5 6 3 23-52 37-109 2-3 1 1 7-14 30 9 10 5 8 1 65 26 33 17 54 37 7 3-19-31-44-104-23-47-16-23-13-14-9-6-55-48-32-20-38-15-100-21-31-13-26-16-11 0-14 8-23 29-11 22-27 69-41 121z"/>
<path fill="#0026ff" d="M50 305l63 31 6 1 1-2 3 0 30 17 3 0 3-3 28 16 8-2 35 19 38 16 2 2 0 4 25 10 2 2-1 3 4 3 21 7 5 4 2 5 3-1 16-36 39-114 2-3 1 1 9-19 36 13 9 1 6 4 20 6 37 16 38 20 55 37-15-25-44-104-23-47-16-23-13-14-9-6-55-48-32-20-38-15-100-21-31-13-26-16-11 0-14 8-23 29-27 61-49 143z"/>
<path fill="#0040ff" d="M54 296l48 22 15 9 13 0 28 16 6-3 30 17 5-3 40 21 28 11 7 5-1 3 2 2 23 8 3 3-1 3 2 2 27 10 0 5 3 2 3-1 12-27 39-114 2-3 1 1 5-15 5-8 20 5 6 4 14 2 10 6 17 4 10 6 26 10 31 16 62 41-11-18-44-104-23-47-16-23-13-14-9-6-55-48-32-20-38-15-100-21-31-13-26-16-11 0-14 8-23 29-27 61-45 132z"/>
<path fill="#0059ff" d="M58 287l28 12 41 21 5-3 32 18 3-3 3 0 31 17 2-3 6 1 39 21 25 10 4 8 25 9 0 5 4 3 24 8 2 2-1 4 7 4 19-47 29-87 15-30 10 1 9 6 14 2 10 6 15 3 15 8 33 13 40 23 43 30-18-37-32-78-23-47-16-23-13-14-9-6-55-48-32-20-38-15-100-21-31-13-26-16-11 0-14 8-23 29-27 61-45 132z"/>
<path fill="#0073ff" d="M62 277l13 7 19 7 29 15 8 6 6 1 2-3 5 1 26 16 4-3 6 1 25 16 4 1 3-3 3 0 24 13 31 13 5 4 0 5 26 9 3 3 0 5 25 8 3 3-1 4 11 5 7-15 37-109 13-30 6-7 9 6 13 2 7 5 22 5 6 5 22 7 47 24 55 37-14-29-32-78-27-54-25-30-9-6-39-35-37-27-24-12-25-9-24-6-48-8-28-7-31-13-26-16-11 0-14 8-23 29-27 61-45 132z"/>
<path fill="#008cff" d="M66 269l22 8 29 14 25 15 3 0 3-3 5 1 21 14 7 2 2-3 3 0 32 19 6-4 45 21 4 4-1 4 4 3 25 8 3 3 0 5 25 8 2 2-1 4 3 3 14 4 39-114 11-27 8-13 17 3 6 5 20 4 6 5 35 12 43 24 51 35-43-101-27-54-25-30-9-6-39-35-37-27-24-12-25-9-24-6-48-8-28-7-31-13-26-16-11 0-14 8-23 29-27 61-45 132z"/>
<path fill="#00a6ff" d="M70 258l57 26 23 15 5 1 3-4 28 17 3 1 3-4 2 0 37 21 5 1 4-3 17 7 8 6-1 4 2 2 34 12 3 3 0 6 22 6 5 4-1 5 19 7 3-1 44-126 12-23 7 0 7 6 19 3 5 5 19 5 22 9 33 18 40 28 21 12-8-15-32-78-27-54-25-30-9-6-45-40-31-22-29-14-44-13-48-8-28-7-31-13-26-16-11 0-14 8-23 29-27 61z"/>
<path fill="#00bfff" d="M74 247l13 7 1 7 26 12 3 0 2-3 8 2 37 22 3-4 5 1 25 16 3 0 1-3 3-1 49 28 45 17 3 3 0 6 22 6 5 3-1 5 2 2 25 8 40-115 10-23 6-8 6 4 16 2 5 5 23 6 15 9 31 13 29 18 36 26 5 1-36-85-27-54-25-30-9-6-45-40-31-22-29-14-44-13-48-8-28-7-31-13-26-16-11 0-14 8-23 29-27 61z"/>
<path fill="#00d9ff" d="M77 239l0 5 2 2 22 9 24 13 10 2 2-3 5 1 29 19 4 1 3-4 2 0 28 17 3 0 2-3 4 0 36 21 42 16 3 3-1 5 2 2 26 8 0 7 32 11 36-103 17-37 14 1 4 5 24 6 10 7 22 8 26 13 63 42-33-79-27-54-25-30-9-6-45-40-31-22-29-14-44-13-48-8-28-7-31-13-26-16-11 0-14 8-23 29-27 61z"/>
<path fill="#00f2ff" d="M79 235l29 11 40 21 3-4 2 0 31 19 2 0 2-4 4 0 31 19 3-4 6 1 39 21 20 7 2 2 0 7 28 9 2 2 0 6 28 9 2 2-2 5 6 3 3-2 34-100 10-24 10-17 2 0 4 5 13 1 9 3 9 7 32 11 29 16 58 40-30-73-27-54-25-30-9-6-55-48-28-18-30-13-36-10-48-8-28-7-31-13-26-16-11 0-14 8-23 29-27 61z"/>
<path fill="#0dfff2" d="M82 224l33 13 41 24 5 1 2-4 4 0 22 15 8 3 3-4 2 0 35 21 4 0 2-4 7 2 32 16 3 3 0 6 33 11 2 2 0 7 25 7 3 3 0 6 13 5 4-6 22-68 12-31 13-28 4-4 16 3 8 7 24 6 21 10 29 17 54 37-28-66-27-54-25-30-9-6-55-48-28-18-30-13-36-10-48-8-28-7-31-13-26-16-11 0-14 8-23 29-27 61z"/>
<path fill="#26ffd9" d="M86 213l53 24 34 20 2-4 3-1 29 19 2 0 3-4 3 0 17 11 44 23 30 11 4 0 6 4 0 7 25 7 2 2 0 7 21 7 3-1 28-84 15-35 8-13 4 0 5 6 23 5 25 14 13 4 76 50-24-58-27-54-25-30-9-6-55-48-28-18-30-13-36-10-48-8-28-7-31-13-26-16-11 0-14 8-23 29-27 61z"/>
<path fill="#40ffbf" d="M90 203l6 4 0 6 43 20 3 0 2-4 5 1 34 21 3 0 1-3 3-1 30 19 2 0 3-5 4 1 39 23 41 16 2 2-1 5 2 2 26 7 2 2-1 7 25 7 5 3 29-83 13-30 9-13 20 4 9 7 22 8 30 15 52 37 7 3-20-50-27-54-25-30-9-6-55-48-28-18-30-13-36-10-48-8-28-7-31-13-26-16-11 0-14 8-23 29-27 61z"/>
<path fill="#59ffa6" d="M91 198l1 2 30 12 35 19 4-5 2 0 30 19 5 1 3-5 34 21 2 0 3-5 6 2 20 12 32 13 6 4 0 7 29 9 3 3-2 4 1 2 30 9 2 2-1 6 3 2 3-2 25-75 12-28 14-24 8 2 4 5 27 8 42 23 54 37-18-44-27-54-25-30-9-6-55-48-28-18-30-13-36-10-48-8-28-7-31-13-26-16-11 0-14 8-23 29-27 61z"/>
<path fill="#73ff8c" d="M94 189l40 16 36 21 3 0 3-5 32 20 2 0 2-4 4 0 24 16 14 7 3 0 3-4 26 11 6 4-1 5 3 3 35 12 2 2 0 7 27 8 3 3-2 4 2 2 13 5 24-70 22-48 4-4 23 5 22 10 18 10 7 6 11 5 51 36-16-38-27-54-25-30-9-6-55-48-28-18-30-13-36-10-48-8-28-7-31-13-26-16-11 0-14 8-23 29-27 61z"/>
<path fill="#8cff73" d="M98 177l48 22 36 22 4 0 1-3 3-1 31 19 2 0 2-4 4 0 27 17 25 13 22 9 18 5 5 3-1 6 2 2 25 7 4 3-1 6 23 8 9-25-1-3 11-29 18-41 12-20 11 2 15 10 30 12 57 40 12 6-12-29-23-47-16-23-13-14-9-6-55-48-28-18-30-13-36-10-48-8-28-7-31-13-26-16-11 0-14 8-23 29-27 61z"/>
<path fill="#a6ff59" d="M102 168l7 3-1 6 41 20 3 0 3-4 4 1 39 23 3-5 3 0 31 20 7-5 21 13 26 13 28 10 4 3-2 5 2 2 29 9 0 7 2 2 28 9 3-2 4-19 21-52 17-33 5-4 23 7 37 19 52 37 6 2-8-21-23-47-16-23-13-14-9-6-55-48-28-18-30-13-36-10-48-8-28-7-31-13-26-16-11 0-14 8-23 29-27 61z"/>
<path fill="#bfff40" d="M103 163l30 13 34 18 3 0 2-3 4 0 33 20 2 0 2-4 5 1 34 21 5-5 34 17 14 5 7 4-1 6 2 2 32 10 2 2 0 7 29 9 4 4-2 4 5 3 3-8-1-5 25-62 15-29 9-10 19 7 24 13 69 47-6-16-23-47-16-23-13-14-9-6-55-48-28-18-30-13-36-10-48-8-28-7-31-13-26-16-11 0-14 8-23 29-15 31z"/>
<path fill="#d9ff26" d="M107 151l1 3 24 9 47 26 5 1 3-4 2 0 32 20 3 0 2-4 3 0 24 14 4 4 23 11 4 0 18 11 34 11 6 4 0 7 29 9 3 3-2 4 12 6 30-73 10-19 14-17 13 8 21 9 71 49-26-56-20-28-73-63-28-18-30-13-36-10-48-8-28-7-31-13-26-16-11 0-14 8-23 29-15 31z"/>
<path fill="#f2ff0d" d="M110 142l56 26 30 18 4-5 11 5 23 15 3 0 0-2 4-2 54 30 37 13 5 4 0 6 30 10 2 2-1 6 15 6 5 0 21-51 14-28 15-20 11 3 16 9 7 2 60 42 8 3-27-54-16-21-63-55-31-22-24-12-25-9-34-8-43-7-32-9-22-10-26-16-11 0-14 8-23 29-15 31z"/>
<path fill="#fff200" d="M114 131l1 2 12 5 3 3-1 4 12 7 12 5 8-3 27 14 18 12 3 0 3-4 2 0 34 21 2 0 4-5 41 22 34 14 2 2-1 5 2 2 29 9 3 3 0 6 25 9 4-3 27-61 14-22 8-9 34 17 55 39 5 1-23-46-16-21-63-55-31-22-24-12-25-9-34-8-43-7-32-9-22-10-26-16-11 0-14 8-23 29-15 31z"/>
<path fill="#ffd900" d="M117 123l0 5 3 3 55 25 3-4 6 2 36 21 4-4 5 1 34 21 4 1 3-5 51 24 2 2-1 5 2 2 35 12 2 2-1 6 31 11 4 0 2-2 10-25 16-32 14-21 9-9 35 20 32 24 20 12-20-40-16-21-63-55-31-22-24-12-25-9-34-8-43-7-32-9-22-10-26-16-11 0-14 8-23 29-15 31z"/>
<path fill="#ffbf00" d="M119 119l38 16 29 16 4 0 1-3 4 0 33 20 5 1 3-4 2 0 46 27 14 5 27 14 23 7 9 6-1 4 2 2 32 11 3 3-1 4 3 2 6-9 20-44 14-22 13-14 6 1 24 15 52 37-17-34-16-21-63-55-31-22-24-12-25-9-34-8-43-7-32-9-22-10-26-16-11 0-7 3-17 16-13 18-11 22z"/>
<path fill="#ffa600" d="M123 109l42 18 30 17 6 1 4-3 38 22 4-4 3 0 52 29 49 19 3 3 0 6 32 11 3 3-1 4 9 5 3 0 19-40 23-35 9-8 13 6 63 44-14-27-16-21-63-55-31-22-24-12-25-9-34-8-43-7-32-9-22-10-26-16-14 1-11 7-7 7-16 22-15 31z"/>
<path fill="#ff8c00" d="M126 99l38 16 39 22 8 3 3-4 6 2 32 19 4 1 2-3 6 1 41 22 37 15 8 5-1 5 33 12 5 4 0 5 14 6 3 0 18-36 21-31 10-9 11 4 42 31 17 10-10-19-25-30-9-6-45-40-31-22-24-12-25-9-34-8-43-7-32-9-22-10-26-16-14 1-11 7-7 7-16 22z"/>
<path fill="#ff7300" d="M130 89l41 18 45 25 4 1 2-3 4 0 38 22 4 0 2-3 3 0 34 18 37 16 2 2-1 4 3 3 29 10 9 6-1 4 22 9 14-26 17-26 11-13 9-5 19 11 42 30-6-12-25-30-9-6-55-48-28-18-42-17-34-8-43-7-32-9-22-10-26-16-14 1-11 7-7 7-16 22z"/>
<path fill="#ff5900" d="M134 79l65 31 24 14 5 1 5-3 43 24 4 1 2-3 3 0 55 26 3 8 39 15 4 3-1 4 2 2 23 9 3-1 10-19 19-28 10-10 8-4 5 0 38 29 12 7-14-21-13-14-9-6-55-48-28-18-42-17-34-8-43-7-32-9-22-10-26-16-14 1-11 7-7 7-16 22z"/>
<path fill="#ff4000" d="M138 70l45 22 3 0 45 24 4 0 2-2 4 1 48 26 8-2 38 18 3 3 0 4 11 6 32 12 7 5 2 5 24 10 3-1 28-42 15-11 11 1 28 22 12 7-14-19-9-9-9-6-55-48-28-18-42-17-34-8-43-7-32-9-22-10-26-16-11 0-14 8-23 29z"/>
<path fill="#ff2600" d="M142 62l39 17 55 28 3-2 6 1 50 27 6 2 8-1 23 11 4 7 55 24 2 2-1 2 6 5 19 8 5-2 19-28 11-11 9-5 9-1 6 3 17 14 12 7-17-20-9-6-55-48-28-18-42-17-34-8-43-7-32-9-22-10-26-16-11 0-14 8-23 29z"/>
<path fill="#ff0d00" d="M147 52l84 42 9-1 65 33 17 3 11 6 3 5 6 4 57 25 7 8 17 8 3-1 10-15 15-17 12-6 8-1 6 2 18 14 5 2-12-13-9-6-45-40-38-26-42-17-34-8-43-7-32-9-22-10-26-16-11 0-14 8-7 7z"/>
<path fill="#f20000" d="M153 43l7 5 48 23 16 4 27 12 50 26 10 0 32 15 11 10 52 23 24 13 18-20 13-8 14-1 19 11-70-60-28-18-42-17-100-21-31-13-26-16-11 0-10 5-11 10z"/>
<path fill="#d90000" d="M160 33l110 54 19 8 4-1 59 27 16 8 8 8 61 28 9-10 13-9 15-2 11 4-61-52-28-18-30-13-36-10-48-8-28-7-31-13-26-16-11 0-7 3-7 5z"/>
<path fill="#bf0000" d="M168 23l269 129 9 2 11-8 6-2 17 0-56-48-28-18-22-10-44-13-48-8-28-7-31-13-26-16-14 1z"/>
<path fill="#a60000" d="M254 44l2 4 16 11 102 50 57 25 21 6 9-1 0-3-5-8-16-19-37-27-24-12-25-9-24-6-48-8-13-4z"/>
<path fill="#8c0000" d="M301 54l9 9 52 27 45 18 12 3 6 0 3-2-2-6-11-13-19-12-17-8-25-9-46-10z"/>
</g>
<g class="ax">
<path d="M557.5 612.1L635.3 649.1"/>
<path d="M635.3 649.1L736.5 621"/>
<path d="M557.5 612.1L557.5 531.9"/>
<path d="M736.5 621L736.5 540.8"/>
<path d="M557.5 531.9L635.3 568.9"/>
<path d="M635.3 568.9L736.5 540.8"/>
<path d="M635.3 649.1L635.3 568.9"/>
<path d="M596.4 630.6L599.9 629.6"/>
<path d="M685.9 635.1L683.1 633.8"/>
<path d="M635.3 649.1L632.4 649.9"/>
<path d="M635.3 649.1L638 650.4"/>
<path d="M557.5 612.1L554.6 612.9"/>
<path d="M736.5 621L739.2 622.3"/>
<path d="M557.5 572L555.1 572.7"/>
<path d="M557.5 531.9L555.1 532.6"/>
</g>
<g class="tk"><text x="554.9" y="615.1" text-anchor="end">0</text><text x="554.4" y="575.2" text-anchor="end">0.5</text><text x="553.8" y="534.6" text-anchor="end">1</text><text x="554.6" y="623.9" text-anchor="end">90</text><text x="590" y="642.6" text-anchor="middle">0</text><text x="630.1" y="660.5" text-anchor="end">-90</text><text x="639.3" y="660.9">-45</text><text x="691.5" y="647" text-anchor="middle">0</text><text x="740" y="633">45</text><text x="625.4" y="651.8" text-anchor="end">Orientation Angle</text><text x="659" y="656.9">Ellipticity Angle</text></g>
</g>
<!-- plot i -->
<g>
<g class="ax">
<path d="M819.7 612.1L920.7 584"/>
<path d="M920.7 584L998.5 621"/>
<path d="M920.7 584L920.7 503.8"/>
<path d="M819.7 531.9L920.7 503.8"/>
<path d="M920.7 503.8L998.5 540.8"/>
<path d="M819.7 572L920.7 543.9" class="d"/>
<path d="M920.7 543.9L998.5 580.9" class="d"/>
<path d="M870.2 598.1L870.2 517.9" class="d"/>
<path d="M959.6 602.5L959.6 522.3" class="d"/>
<path d="M948 635.1L870.2 598.1" class="d"/>
<path d="M858.6 630.6L959.6 602.5" class="d"/>
</g>
<g transform="translate(826 527) scale(.25)" fill-rule="evenodd">
<path fill="#00008c" d="M10 353l280 133 10-4 15-14 16-26 27-62 40-109 107 47 120 62 15 6 13-1-39-19-10-14-19-35-41-92-19-38-16-25-11-12-41-24-64-50-47-28-17-7-28-8-46-7-25-6-25-11-11 0-14 6-11 11-15 23-27 61-42 118-23 58-17 34-9 13-12 13-7 5z"/>
<path fill="#0000a6" d="M32 337l0 2 53 25 59 32 79 37 9 2 28 12 51 25 14-19 21-43 52-139 86 37 143 72-15-16-20-33-67-144-16-25-11-12-41-24-64-50-47-28-17-7-28-8-46-7-25-6-25-11-11 0-14 6-11 11-15 23-27 61-21 61-40 106-21 43z"/>
<path fill="#0000bf" d="M39 328l67 32 8 7 119 57 17 4 69 34 12-20 15-32 52-139 3 1 2-2 75 33 140 71-3-8-11-14-19-35-41-92-19-38-16-25-11-12-41-24-64-50-47-28-17-7-28-8-46-7-25-6-25-11-11 0-14 6-11 11-15 23-27 61-21 61-40 106-21 43z"/>
<path fill="#0000d9" d="M46 317l32 15 22 15 51 23 14 10 29 14 14 3 52 26 19 8 3-1 44 21 12-23 20-48 38-107 7-6 83 36 126 65 2-2-10-14-19-35-41-92-19-38-16-25-11-12-41-24-64-50-47-28-17-7-28-8-46-7-25-6-25-11-11 0-14 6-11 11-15 23-27 61-21 61-40 106z"/>
<path fill="#0000f2" d="M51 307l0 2 58 27 6 7 84 38 50 26 12 5 6-1 10 4 9 6 5 1 39 20 8-14 20-48 38-107 4-2 2-6 3-2 79 35 99 52 29 13-8-11-19-35-41-92-19-38-16-25-11-12-41-24-64-50-47-28-17-7-28-8-46-7-25-6-25-11-11 0-14 6-11 11-15 23-27 61-53 147-12 29z"/>
<path fill="#000dff" d="M55 299l1 2 69 31 3 6 9 5 51 22 54 28 12 5 6-2 75 38 23-54 38-107 3-2 7-12 89 40 61 33 51 24-22-39-41-92-19-38-16-25-11-12-41-24-64-50-47-28-17-7-28-8-46-7-25-6-25-11-11 0-14 6-11 11-15 23-27 61-45 126-16 41z"/>
<path fill="#0026ff" d="M59 291l32 16 41 17 4 4 0 3 9 5 47 20 61 31 5-2 6 1 75 39 36-90 21-62 3-2 8-16 73 32 41 22 5 1 37 21 40 19-18-33-41-92-19-38-16-25-11-12-41-24-64-50-47-28-17-7-28-8-46-7-25-6-25-11-11 0-14 6-11 11-15 23-27 61-45 126z"/>
<path fill="#0040ff" d="M63 282l32 16 42 17 3 3-1 2 10 7 45 19 63 32 3 0 2-3 6 2 73 38 2 0 15-35 38-107 3-2 5-14 5-6 69 30 74 38 12 8 35 16-14-26-41-92-19-38-16-25-11-12-41-24-64-50-47-28-17-7-28-8-46-7-25-6-25-11-11 0-14 6-11 11-15 23-27 61-42 118z"/>
<path fill="#0059ff" d="M67 273l17 9 53 22 3 3 1 5 50 21 37 18 26 15 10 4 9-2 72 38 3-1 10-25 38-107 3-2 5-15 6-9 4 0 48 21 75 38 33 19 26 12-11-20-41-92-19-38-16-25-11-12-41-24-64-50-47-28-17-7-28-8-46-7-25-6-25-11-11 0-14 6-11 11-15 23-27 61-21 61z"/>
<path fill="#0073ff" d="M71 263l1 2 64 27 3 3-1 4 4 3 63 26 67 35 5 1 3-3 70 36 28-70 18-54 11-24 5-7 16 5 37 17 48 26 19 8 40 23 19 8-47-104-19-38-16-25-11-12-41-24-64-50-47-28-17-7-28-8-46-7-25-6-25-11-11 0-14 6-11 11-15 23-27 61-21 61z"/>
<path fill="#008cff" d="M75 252l0 3 57 24 3 3-1 4 9 5 37 14 39 18 67 36 3 0 2-4 4 1 58 31 3-2 19-50 21-62 14-31 5-6 37 16 115 61 21 9-63-135-16-25-11-12-41-24-64-50-47-28-17-7-28-8-46-7-25-6-25-11-11 0-14 6-11 11-15 23-27 61-21 61z"/>
<path fill="#00a6ff" d="M78 244l50 22 2 2-1 4 12 7 48 19 7 5-1 3 3 3 28 13 4-3 10 3 55 30 7 2 4-3 51 26 2 0 16-42 21-62 13-30 8-12 27 14 31 13 64 35 5 1 28 16 13 5-60-128-16-25-11-12-41-24-64-50-47-28-17-7-28-8-46-7-25-6-25-11-11 0-14 6-11 11-15 23-27 61-21 61z"/>
<path fill="#00bfff" d="M82 234l38 17 3 3-1 4 2 2 54 22 2 2-1 5 69 33 4 1 3-4 9 3 42 25 9 4 4-4 6 1 36 19 2-1 37-103 17-35 8 2 66 32 5 1 29 18 56 26-56-120-16-25-11-12-41-24-64-50-47-28-17-7-28-8-46-7-25-6-25-11-11 0-14 6-11 11-15 23-27 61z"/>
<path fill="#00d9ff" d="M86 223l1 2 24 11 2 2-1 4 3 3 53 21 2 2-1 5 4 3 38 15 51 27 8 2 3-4 10 4 38 23 12 5 7-3 25 12 13-30 25-72 14-30 3-3 40 18 24 14 16 6 48 27 29 12-33-74-19-38-16-25-11-12-41-24-64-50-47-28-17-7-28-8-46-7-25-6-25-11-11 0-14 6-11 11-15 23-27 61z"/>
<path fill="#00f2ff" d="M87 220l36 17 29 10 8 4 0 6 10 6 44 17 70 37 3 0 3-4 47 26 30 14 11-26 24-70 9-21 11-19 3 0 39 19 78 43 33 15-50-107-16-25-11-12-41-24-64-50-47-28-17-7-28-8-46-7-25-6-25-11-11 0-14 6-11 11-15 23-27 61z"/>
<path fill="#0dfff2" d="M91 210l4 3 54 21 4 3-1 6 5 3 44 16 28 13 38 21 5 1 4 4 22 12 5 1 3-4 4 1 61 33 32-90 16-35 6-7 45 21 37 22 11 4 35 20 18 8-27-62-19-38-16-25-11-12-41-24-64-50-47-28-17-7-28-8-46-7-25-6-25-11-11 0-14 6-11 11-11 16-23 48z"/>
<path fill="#26ffd9" d="M94 200l46 19 5 4-1 5 5 3 46 17 3 3-1 5 8 5 53 24 3-4 3 0 51 29 4 1 3-5 4 1 48 26 4-6 24-71 11-26 12-21 4 0 34 17 12 4 39 23 21 9 26 15 7 2-43-92-19-29-12-11-37-21-64-50-47-28-17-7-28-8-46-7-25-6-25-11-11 0-14 6-11 11-11 16-23 48z"/>
<path fill="#40ffbf" d="M98 189l35 16 2 2 0 6 47 18 3 3-1 5 4 3 38 15 46 25 7 2 3-4 3 0 49 28 3 0 4-4 36 18 3-1 17-49 0-4 23-53 8-12 25 11 20 12 13 4 38 23 40 18-20-46-19-38-19-29-12-11-37-21-64-50-47-28-17-7-28-8-46-7-25-6-25-11-11 0-14 6-11 11-11 16-23 48z"/>
<path fill="#59ffa6" d="M103 177l0 3 14 6 4 4-1 4 4 3 50 19 0 7 4 3 54 21 60 33 5 1 2-4 5 1 49 28 7 1 4-3 19 8 15-47 15-36 12-24 6-8 21 10 19 12 28 13 34 20 27 11-16-38-19-38-19-29-12-11-37-21-64-50-47-28-17-7-28-8-46-7-25-6-25-11-11 0-14 6-11 11-11 16-23 48z"/>
<path fill="#73ff8c" d="M104 176l23 11 38 14 2 2-1 5 4 3 47 17 19 11 29 12 44 26 4 1 4-5 47 27 20 9 13-37 0-5 17-41 15-29 5-4 38 19 11 8 19 8 33 20 24 11-15-34-27-52-11-15-12-11-37-21-64-50-47-28-17-7-28-8-46-7-25-6-25-11-11 0-14 6-11 11-11 16-23 48z"/>
<path fill="#8cff73" d="M108 165l4 3 45 18 2 2-1 5 2 2 42 15 4 3-1 6 9 5 27 11 30 16 3 0 3-4 20 9 26 17 6 1 2-4 4 0 23 14 30 14 8-23 1-9 18-43 14-27 6-7 13 7 17 6 25 16 19 8 17 11 29 14-30-64-19-29-15-13-15-7-19-12-64-50-37-23-27-12-28-8-60-10-14-4-22-10-11 0-14 6-11 11-11 16-23 48z"/>
<path fill="#a6ff59" d="M111 154l39 18 0 6 8 5 34 11 3 3-1 6 46 19 50 27 4 0 2-4 3 0 44 26 2 0 4-5 42 22 5-13 0-7 17-41 17-34 7-9 38 18 25 16 23 10 22 13 7 2-27-56-19-29-15-13-15-7-19-12-64-50-37-23-27-12-28-8-60-10-14-4-22-10-11 0-14 6-11 11-11 16-23 48z"/>
<path fill="#bfff40" d="M115 145l25 11 2 2 0 6 43 16 2 2-1 6 60 24 61 34 3 0 3-5 46 26 4 0 4-3 26 13 3-2-1-6 20-47 15-30 10-13 30 17 22 10 11 8 45 21-23-48-19-29-15-13-15-7-19-12-67-52-34-21-27-12-28-8-60-10-14-4-22-10-11 0-11 4-17 17-19 33z"/>
<path fill="#d9ff26" d="M118 135l5 4 0 4 6 4 51 20 1 2-2 4 2 2 28 9 18 8 4 3-1 5 11 7 20 9 5 0 2-3 6 1 48 28 2 0 4-5 41 24 18 8 10-5 31-69 7-12 8-8 22 11 4 4 22 10 6 5 31 17 17 7-20-42-19-29-15-13-15-7-19-12-67-52-34-21-27-12-28-8-60-10-14-4-22-10-11 0-11 4-17 17-19 33z"/>
<path fill="#f2ff0d" d="M120 129l1 3 53 21 0 7 40 15 2 2-1 6 10 5 17 6 44 23 3 0 2-4 4 0 40 24 3 0 2-4 5 1 50 28 8-12 11-27 17-34 13-17 6 0 32 20 61 31-26-50-19-23-41-24-64-50-28-18-28-14-20-7-76-14-14-4-22-10-11 0-11 4-17 17-19 33z"/>
<path fill="#fff200" d="M123 121l46 19 0 6 2 2 35 12 2 3-1 5 45 18 50 27 3 0 2-4 5 1 37 22 4-4 3 0 43 24 2 0 29-62 8-13 9-10 18 8 15 10 56 30 3 0-22-42-19-23-41-24-64-50-28-18-28-14-20-7-76-14-14-4-22-10-11 0-11 4-17 17-19 33z"/>
<path fill="#ffd900" d="M127 110l37 16 3 3-1 5 5 3 29 9 3 3-2 4 6 4 22 7 28 12 28 14 28 17 6 1 1-3 6 1 34 20 4-3 6 1 34 18 29-58 17-21 21 10 45 26 19 8-18-34-19-23-41-24-64-50-28-18-28-14-20-7-76-14-14-4-22-10-11 0-7 2-7 4-11 11-15 23z"/>
<path fill="#ffbf00" d="M131 100l28 13 4 3 0 5 34 13 2 2 0 6 43 16 3 3-1 4 11 7 18 8 3 0 3-4 46 26 5 1 1-3 3-1 36 21 4 0 3-3 30 15 2 0 25-50 13-18 5-4 10 3 28 17 41 20-14-27-19-23-41-24-64-50-28-18-28-14-20-7-76-14-14-4-22-10-11 0-7 2-7 4-11 11-11 16z"/>
<path fill="#ffa600" d="M135 90l1 2 24 11 2 7 33 12 2 2 0 6 34 12 3 3-1 5 24 10 38 19 3-4 5 1 36 21 3-4 3 0 36 21 3 0 3-3 25 12 26-48 17-19 5 1 51 29 17 7-19-31-15-15-37-21-64-50-28-18-28-14-20-7-76-14-14-4-22-10-15 1-10 5-14 15-12 19z"/>
<path fill="#ff8c00" d="M139 81l18 9 4 4 0 4 33 13 3 3-1 3 2 2 27 9 4 4-2 3 2 2 37 15 39 21 4 0 4-3 31 18 5 1 2-3 4 1 35 20 6-3 21 9 22-40 19-20 4 0 34 20 28 13-18-28-12-11-37-21-64-50-28-18-28-14-20-7-76-14-14-4-22-10-11 0-14 6-11 11-15 23z"/>
<path fill="#ff7300" d="M143 72l19 10 3 7 31 12 2 2 0 5 26 9 3 3-1 4 5 3 35 13 50 27 7-3 32 18 4-4 37 20 5-2 20 8 19-33 6-8 15-13 4 0 34 20 21 9-14-21-8-8-41-24-64-50-37-23-39-16-76-14-14-4-22-10-11 0-14 6-11 11-15 23z"/>
<path fill="#ff5900" d="M147 63l21 11 1 5 29 12 3 7 25 9 0 5 6 4 33 12 60 32 3-3 4 0 28 16 3-3 3 0 32 18 6-2 21 9 7-13 17-23 10-9 7-3 38 21 12 4-18-22-41-24-64-50-37-23-39-16-76-14-14-4-22-10-11 0-14 6-11 11-11 16z"/>
<path fill="#ff4000" d="M151 55l22 10 5 4 1 4 25 10 0 4 2 2 20 7 3 3 0 4 53 22 47 26 9-2 24 14 3 0 1-2 5 1 23 13 11 0 20 11 4 0 16-23 13-13 8-4 7 0 18 11 20 9-13-16-41-24-67-52-34-21-39-16-76-14-14-4-22-10-11 0-14 6-11 11z"/>
<path fill="#ff2600" d="M156 46l31 15 3 6 17 6 4 3 0 4 20 8 2 5 4 3 21 7 24 14 19 6 34 19 7-2 23 13 6-2 21 12 5 1 2-2 32 16 4-2 10-14 11-11 10-6 10-1 19 11 11 4-12-12-37-21-67-52-34-21-39-16-76-14-14-4-22-10-11 0-14 6-11 11z"/>
<path fill="#ff0d00" d="M162 36l18 12 19 8 3 5 13 5 4 3 2 5 16 6 3 6 34 14 9 9 5 2 6-1 11 4 28 16 6 1 2-2 21 12 11 0 17 10 8-1 19 11 6 1 7 4 10 1 19-19 12-5 8 0 21 9-9-7-15-7-19-12-67-52-34-21-27-12-28-8-60-10-14-4-22-10-11 0-11 4-14 13z"/>
<path fill="#f20000" d="M169 26l2 3 24 11 5 6 10 4 6 7 11 4 2 5 15 6 3 3 0 3 30 12 58 30 9-1 17 10 10 0 14 8 8 0 15 8 8 0 27 13 3 0 13-11 12-5 11 0 10 4-35-20-67-52-34-21-27-12-28-8-60-10-14-4-22-10-11 0-7 2-7 4z"/>
<path fill="#d90000" d="M180 15l23 15 16 14 6 2 5 6 9 4 3 5 14 6 4 6 48 21 24 13 9 0 14 8 11 1 10 6 11 1 6 4 6 2 3-1 14 6 8 1 31 12 15-6 9-1-22-14-64-50-28-18-28-14-36-11-60-10-14-4-22-10-11 0z"/>
<path fill="#bf0000" d="M226 24l0 3 5 7 26 23 12 5 10 9 22 9 27 14 7-1 19 10 6-1 11 6 7 0 23 8 27 5 9-2 0-3-9-13-38-29-44-26-17-7-28-8-46-7-15-4-9 0z"/>
<path fill="#a60000" d="M254 30l0 4 10 12 14 10 16 7 14 9 14 4 22 11 4-1 13 6 6 0 9 4 19 3 11 0 3-2-4-11-12-10-28-18-28-14-20-7-50-10-6 0z"/>
<path fill="#8c0000" d="M280 36l2 4 9 8 27 15 9 2 20 9 6 0 12 4 13 1 5-2 0-3-7-9-39-21-20-7-27-6-8 2z"/>
</g>
<g class="ax">
<path d="M819.7 612.1L897.5 649.1"/>
<path d="M897.5 649.1L998.5 621"/>
<path d="M819.7 612.1L819.7 531.9"/>
<path d="M998.5 621L998.5 540.8"/>
<path d="M819.7 531.9L897.5 568.9"/>
<path d="M897.5 568.9L998.5 540.8"/>
<path d="M897.5 649.1L897.5 568.9"/>
<path d="M858.6 630.6L862.1 629.6"/>
<path d="M948 635.1L945.2 633.8"/>
<path d="M897.5 649.1L894.6 649.9"/>
<path d="M897.5 649.1L900.2 650.4"/>
<path d="M819.7 612.1L816.8 612.9"/>
<path d="M998.5 621L1001.2 622.3"/>
<path d="M819.7 572L817.3 572.7"/>
<path d="M819.7 531.9L817.3 532.6"/>
</g>
<g class="tk"><text x="817.1" y="615.1" text-anchor="end">0</text><text x="816.6" y="575.2" text-anchor="end">0.5</text><text x="816" y="534.6" text-anchor="end">1</text><text x="816.8" y="623.9" text-anchor="end">90</text><text x="852.2" y="642.6" text-anchor="middle">0</text><text x="892.3" y="660.5" text-anchor="end">-90</text><text x="901.5" y="660.9">-45</text><text x="953.6" y="647" text-anchor="middle">0</text><text x="1002" y="633">45</text><text x="887.6" y="651.8" text-anchor="end">Orientation Angle</text><text x="921.2" y="656.9">Ellipticity Angle</text></g>
</g>
<!-- plot j -->
<g>
<g class="ax">
<path d="M291.5 834.7L392.9 806.6"/>
<path d="M392.9 806.6L470.9 843.6"/>
<path d="M392.9 806.6L392.9 726.4"/>
<path d="M291.5 754.5L392.9 726.4"/>
<path d="M392.9 726.4L470.9 763.4"/>
<path d="M291.5 794.6L392.9 766.5" class="d"/>
<path d="M392.9 766.5L470.9 803.5" class="d"/>
<path d="M342.2 820.7L342.2 740.5" class="d"/>
<path d="M431.9 825.1L431.9 744.9" class="d"/>
<path d="M420.2 857.7L342.2 820.7" class="d"/>
<path d="M330.5 853.2L431.9 825.1" class="d"/>
</g>
<g transform="translate(298 745) scale(.25)" fill-rule="evenodd">
<path fill="#00008c" d="M9 355l281 133 96-24 80-13 13-4 20-3 27-8 32-13 31-16 66-44-155-73-21-14-18-18-32-48-67-135-24-38-14-15-10-7-10-4-12 0-16 8-17 18-16 25-31 65-46 114-24 49-22 34-6 6z"/>
<path fill="#0000a6" d="M9 355l281 133 96-24 60-10 5-5 109-34 6 4 47-27 42-29-155-73-21-14-18-18-32-48-67-135-24-38-14-15-10-7-10-4-12 0-16 8-17 18-16 25-31 65-46 114-24 49-22 34-6 6z"/>
<path fill="#0000bf" d="M54 366l10 9 47 24 28 11 19 5 28-2 85-21 1 1-5 8-10 9-12 8-25 10-3 3-1 5 13 12 33 16 22 7 21 3 29-3 66-17 28-10 15-3 44-16 8-1 4-3 7-1 6-4 14-4 22-11 10-9 2-4-1-6-6-6-23-12-12-12 1-2 12 1 15 4 36 15 11 7 7 8 2 8-3 7 56-37-96-46-3 0-22-12-34-15-21-14-22-23-21-31-20-36-54-111-21-34-17-19-10-7-10-4-12 0-16 8-13 13-24 37-27 58-46 114-24 49-18 29-10 11-3 0-10 12-10 6-30 10-7 5z"/>
<path fill="#0000d9" d="M87 355l2 9 10 8 29 14 38 9 27 0 30-4 60-13 1 3-8 11-18 19-14 10-2 6 10 11 23 11 9 1 5 3 25 3 33-2 68-16 35-10 10-5 14-3 6-4 29-9 25-13 7-6 3-5 0-4-5-7-9-6-16-16-11-15 1-2 31 2 37 11 25 12 17 11 7 8 1 8 33-22-155-73-21-14-18-18-32-48-67-135-24-38-14-15-10-7-10-4-12 0-16 8-13 13-11 15-24 44-58 141-28 58-22 34-12 13z"/>
<path fill="#0000f2" d="M100 347l2 8 14 11 19 8 7 0 10 5 5-1 5 3 4-1 4 2 47-2 17-4 8 0 7-3 9 0 7-3 12-1 14-4 2 2-2 6-11 16-24 26 0 5 4 5 13 8 8 1 7 4 13 3 24 2 34-3 14-4 12-1 20-7 10-1 15-6 24-5 10-5 12-2 4-4 6 0 6-4 4 0 31-17 6-7 0-6-18-18-17-21-6-10 2-3 37-1 36 11 49 23 12 9 7 3 6 7 5-1 9-7-155-73-21-14-18-18-32-48-67-135-24-38-14-15-10-7-10-4-12 0-16 8-13 13-11 15-24 44-58 141-28 58-18 29z"/>
<path fill="#000dff" d="M279 17l-20 20-20 32-27 58-46 114-24 49-18 29-9 10-5 10 1 6 5 6 9 3 18 10 8 0 8 4 5-1 3 2 6-1 4 2 38-1 20-4 4 1 8-3 18-2 11-4 5 1 17-6 4 3 0 2-21 32-10 11-5 10 10 10 6 3 7 0 9 5 5-1 6 3 5-1 10 2 30-2 58-11 25-7 11-6 16-3 9-5 5 0 31-14 15-12 1-5-28-34-14-21 1-3 22-8 1-4-2-4-26-16-18-18-25-36-20-36-54-111-24-38-14-15-16-10-16-1z"/>
<path fill="#0026ff" d="M279 17l-20 20-20 32-27 58-46 114-24 49-18 29-7 8 2 10 5 2 3 6 15 7 5-2 10 6 16 0 11 3 3-2 4 2 13 0 3-2 8 1 18-4 13 0 17-5 8 1 8-4 8 1 11-5 12 0 1 2-8 14-28 40 0 4 5 6 12 6 9 0 6 4 52 0 14-4 9 0 7-3 16-2 18-7 30-6 7-5 10-1 4-4 8-1 2-3 4 0 18-9 11-10 0-5-44-59 15-10 0-5-27-26-25-36-20-36-54-111-13-22-21-27-14-11-10-4-12 0z"/>
<path fill="#0040ff" d="M279 17l-23 24-28 50-62 150-24 49-19 30 4 10 19 7 11 7 6-2 4 4 7-1 11 3 21 0 14-3 19 0 5-3 4 2 8-4 5 2 5-3 6 1 10-5 7 1 12-5 6 2 11-4 1 2-9 17-26 39-1 5 1 3 21 10 7 0 3 2 7-1 3 2 19 0 34-4 4-2 4 1 14-5 9 0 13-3 9-4 12-2 6-5 13-2 3-3 17-5 20-11 8-8-1-6-44-59 11-10 0-7-19-20-28-43-67-135-13-22-21-27-14-11-10-4-12 0z"/>
<path fill="#0059ff" d="M279 17l-23 24-28 50-62 150-24 49-13 21 4 10 9 3 17 10 5-3 8 5 4-2 4 3 4-2 3 2 6-1 9 2 2-2 10 1 2-2 11 1 8-1 2-2 13 0 7-3 6 1 5-3 6 2 9-5 6 2 12-6 7 2 18-7 1 2-4 9-33 54 5 8 9 4 7-1 7 4 3-2 3 2 6-1 12 2 7-2 3 2 3-2 25-2 8-3 7 1 11-5 38-10 10-1 5-5 8 0 3-3 25-11 9-9-1-4-47-63 10-7 2-4-1-5-15-18-23-36-67-135-13-22-21-27-14-11-10-4-12 0z"/>
<path fill="#0073ff" d="M279 17l-23 24-28 50-62 150-24 49-8 12 2 6 3 2 0 3 8 2 16 9 4-3 6 4 5-2 4 3 4-2 5 3 14 0 8-2 25 0 11-4 4 2 6-3 5 1 5-3 4 2 9-5 8 2 8-5 4-1 3 3 18-8 3 0 3 3 4-1 1 3-19 29-18 32 2 4 5 1 13 8 6-2 3 2 6-1 3 2 14 0 29-3 3-2 5 1 7-3 12 0 14-6 25-5 6-5 10-1 5-4 4 0 18-9 9-7 0-7-17-25-30-36 0-2 10-9 1-7-31-46-67-135-13-22-21-27-14-11-10-4-12 0z"/>
<path fill="#008cff" d="M279 17l-23 24-28 50-58 141-30 60 1 7 4 5 5 1 14 8 6-2 6 4 5-2 4 3 4-2 4 3 3-2 4 2 3-2 4 2 3-2 4 2 2-2 9 1 3-2 2 2 10-3 6 1 12-4 3 2 9-4 5 2 8-5 7 2 9-5 7 2 13-7 4 0 4 3 17-7 0 4-27 41-13 24 1 5 12 6 7-1 5 3 3-2 4 2 5-1 3 2 2-2 11 1 31-5 3 1 10-4 11 0 22-6 10-6 10-1 3-3 15-5 14-8 5-6-5-11-23-30-24-26 11-7 3-4 1-6-18-26-20-36-54-111-13-22-21-27-14-11-10-4-12 0z"/>
<path fill="#00a6ff" d="M279 17l-23 24-28 50-58 141-25 51 1 7 4 5 6 1 13 8 4-4 7 5 5-2 3 3 5-2 4 3 2-2 8 0 4 2 2-2 10 1 6-2 3 1 3-2 9 1 4-2 5 2 5-3 5 1 7-4 3 2 7-4 3 0 3 3 10-6 8 2 13-7 8 3 16-8 14-4 1 2-5 9-6 6-23 35-11 21 0 3 5 5 5-1 8 5 4-2 5 3 3-2 4 2 4-2 20 1 12-3 4 1 5-3 7 1 40-13 11-1 4-4 8-1 2-3 4 0 11-6 8-8-4-9-25-31-15-15-12-9 1-3 8-3 8-7 2-8-12-17-20-36-54-111-13-22-21-27-14-11-10-4-12 0z"/>
<path fill="#00bfff" d="M279 17l-23 24-28 50-58 141-20 41 0 6 3 2 0 4 7 1 13 8 5-3 5 4 5-2 3 3 4-2 4 2 4-2 3 2 20 0 2-2 9 1 3-2 14 0 4-3 3 3 7-4 4 2 7-4 7 1 9-5 5 3 15-7 2 3 4 0 14-7 13-4 3 3 14-3 1 2-23 27-25 40-1 6 13 7 5-2 5 3 15 0 7-2 10 1 11-3 5 1 8-3 6 1 30-10 10-1 3-4 9-1 1-2 5-1 14-8 5-6-1-3-19-25-25-24-20-10 22-11 4-4 3-7-27-46-54-111-13-22-21-27-14-11-10-4-12 0z"/>
<path fill="#00d9ff" d="M472 307l-20-26-19-17-11-6-11-3-18 1-22 13-17 18-22 31-8 14 0 5 8 5 2-2 7 3 5-2 4 3 2-2 15 1 3-2 5 1 19-2 9-4 6 1 25-7 4-4 10-1 2-3 4 0 14-8 4-4zM308 12l-16-1-16 8-17 18-16 25-31 65-42 105-17 35 4 4 0 4 9 2 10 7 5-3 6 5 4-3 4 3 4-2 3 2 4-2 3 2 9 0 2-2 2 2 3-2 9 2 2-2 4 1 8-3 14 0 6-3 3 2 6-4 3 0 3 3 9-6 2 0 3 4 11-7 4 0 4 3 21-10 4 0 2 3 39-10 4-6 17-2 4-5 7 0 2-3 15-6 5-5 2-6-22-38-54-111-24-38-14-15z"/>
<path fill="#00f2ff" d="M466 301l-2-5-10-12-22-20-15-7-18-1-20 8-17 15-19 23-13 24 12 6 6-1 3 2 3-2 10 2 9-2 4 1 15-4 5 1 31-10 11-1 5-4 14-5zM314 15l-10-4-12 0-13 6-16 15-11 15-24 44-58 141-12 24 4 10 9 1 9 7 6-2 5 4 5-3 3 3 5-2 2 2 5-1 3 2 2-2 16 1 2-2 4 2 2-2 4 1 10-2 2-2 4 2 5-3 5 2 7-4 4 2 8-5 3 3 3 0 12-7 3 5 23-11 3 5 20-7 26-6 3-6 14-1 3-4 7 0 3-4 4 0 11-6 4-5 1-7-16-28-54-111-24-38-14-15z"/>
<path fill="#0dfff2" d="M459 292l-13-16-15-12-12-6-18-2-13 4-16 10-24 26-11 21 7 4 4-2 11 3 13 0 3-2 30-3 25-6 4-4 6-1 14-7zM314 15l-10-4-12 0-13 6-16 15-11 15-13 22-27 58-42 105-8 16 2 7 9 1 12 9 5-3 5 4 5-2 4 3 3-3 11 3 2-2 5 1 24-3 3 2 11-4 4 2 6-4 6 2 8-5 4 3 11-6 3 3 3 0 15-8 4 0 1 4 28-10 25-5 3-5 12 0 2-4 14-4 13-9 3-8-12-21-54-111-24-38-14-15z"/>
<path fill="#26ffd9" d="M452 285l-9-11-18-13-13-4-13 0-12 4-14 9-17 17-12 18 10 6 3-2 4 2 38-3 42-13 8-5zM308 12l-16-1-13 6-16 15-11 15-13 22-27 58-46 112 2 6 11 2 11 9 5-3 5 4 4-3 4 3 2-2 4 2 3-2 5 2 2-2 9 1 2-2 4 2 8-3 3 2 2-2 8 0 2-2 4 2 6-4 4 3 8-5 5 3 9-6 2 0 3 4 15-8 7 3 29-11 26-4 2-5 12-1 2-4 6 0 10-5 9-8 2-8-7-11-54-111-24-38-14-15z"/>
<path fill="#40ffbf" d="M444 277l-8-8-12-8-15-4-12 1-15 6-12 9-12 13-5 10 9 4 14 0 35-5 26-10 7-5zM314 15l-10-4-12 0-13 6-16 15-11 15-24 44-58 139 2 5 5 1 0 6 6 1 4-3 8 6 4-3 4 4 4-2 4 2 4-2 3 2 3-2 8 0 3 2 7-3 4 2 2-2 13 0 2-2 4 2 7-4 3 3 6-4 7 1 7-5 3 4 2 0 13-8 2 0 2 5 38-15 26-3 2-5 10 0 2-4 5 0 10-5 8-8 2-6-57-115-24-38-14-15z"/>
<path fill="#59ffa6" d="M435 270l-15-10-20-2-20 8-10 8-8 12 8 3 22-1 7-3 13-1 12-6 4 0 7-5zM314 15l-10-4-12 0-13 6-16 15-11 15-24 44-54 129 0 4 5 2 0 5 8 4 3 0 3-4 6 5 6-2 3 3 3-2 4 2 5-2 3 2 2-2 26 0 2-2 4 2 11-4 4 3 7-5 4 3 8-5 4 3 10-6 9 2 16-8 24-7 23-2 4-5 8 0 2-3 10-3 12-10 2-5-53-108-24-38-14-15z"/>
<path fill="#73ff8c" d="M424 264l-12-5-14 0-15 6-10 9 0 2 10 1 18-2 16-5zM320 19l-16-8-15 1-13 7-20 22-17 28-27 58-35 87 4 2 0 4 12 5 6-3 5 5 3-2 5 2 5-2 3 3 2-2 5 1 2-2 3 2 4-2 12 1 4-3 2 2 3-2 5 2 5-3 3 2 7-5 4 3 5-4 3 0 2 4 11-7 3 0 1 4 2 0 19-10 3 0 3 4 25-7 0-4 2-2 18-1 1-4 8 0 2-4 9-2 10-8 2-8-48-98-21-34z"/>
<path fill="#8cff73" d="M320 19l-16-8-15 1-13 7-20 22-17 28-27 58-31 76 3 6 6 1 9 6 5-3 5 5 3-3 3 2 6-2 3 3 2-2 11 1 7-2 3 2 3-3 4 2 11-4 3 3 6-4 5 2 6-4 4 3 9-6 2 0 1 4 2 0 17-9 3 2 0 3 3 0 17-7 17-3 3-6 13-1 3-4 6 1 3-4 7-2 9-7 3-6-45-92-21-34z"/>
<path fill="#a6ff59" d="M324 22l-16-10-16-1-16 8-17 18-16 25-15 29-42 100 1 8 6 0 11 8 5-3 4 4 3-3 5 3 2-2 5 2 2-2 11 1 3-2 2 2 2-2 13 0 3-2 3 2 3-3 7 2 6-4 4 3 6-5 3 0 3 3 12-7 4 0 1 3 4 0 16-7 25-4 3-6 11 0 1-4 12-2 12-10 2-8-40-81-21-34z"/>
<path fill="#bfff40" d="M324 22l-16-10-16-1-16 8-13 13-20 30-15 29-39 93 1 5 8 0 10 8 5-3 4 4 4-3 4 3 3-2 4 2 2-2 12 1 14-2 3-2 3 3 4-3 4 1 4-3 6 2 8-5 3 5 11-7 3 0 3 4 27-12 24-3 1-5 10 0 1-3 5 0 2-3 3 0 11-8 3-5-1-4-36-72-21-34z"/>
<path fill="#d9ff26" d="M324 22l-16-10-16-1-16 8-17 18-20 32-27 58-20 50 6 2-1 6 6 1 0-2 4-2 7 6 3-3 4 3 4-2 3 2 6-2 2 2 3-3 2 2 12 0 2-2 17 0 5-3 4 3 6-5 5 3 11-6 3 4 27-12 13-3 16 0 3-6 7 1 1-4 6 0 13-9 3-7-33-66-21-34z"/>
<path fill="#f2ff0d" d="M324 22l-16-10-16-1-16 8-13 13-20 30-15 29-31 73 0 3 3 3-1 4 8 3 6-3 6 5 3-4 3 3 4-2 3 2 8 0 2-2 4 2 6-2 5 1 3-3 2 3 3-2 5 1 5-4 3 4 7-5 3 4 10-6 5 3 18-9 3 0 2 3 16-3 0-4 4-3 16 0 2-5 5 1 17-10 5-9-29-58-21-34z"/>
<path fill="#fff200" d="M387 125l-25-50-24-38-14-15-10-7-10-4-12 0-16 8-13 13-11 15-24 44-28 66 2 2 0 4 5 1 5 4 2 0 3-4 6 5 3-3 4 3 3-2 5 2 8-3 4 2 2-2 10 1 2-2 13 0 5-3 4 3 7-5 3 0 3 4 16-9 4 5 13-5 9-1 5-3 2-5 13 0 2-4 4 1 3-4 4 0 11-9z"/>
<path fill="#ffd900" d="M383 117l-21-42-24-38-14-15-10-7-10-4-12 0-16 8-13 13-11 15-24 44-24 57 2 5 4 0 8 6 3-3 5 2 5-1 3 2 4-3 2 2 20 0 11-4 4 3 4-3 6 1 7-4 4 3 12-7 4 5 17-7 18-3 1-5 10 0 5-5 3 1 5-2 9-7z"/>
<path fill="#ffbf00" d="M379 109l-17-34-24-38-14-15-10-7-10-4-12 0-16 8-13 13-11 15-24 44-20 46 0 5 7 1 8 6 4-3 4 3 4-2 4 3 8-3 11 1 10-1 2-2 3 2 5-3 5 2 7-5 3 4 10-6 2 0 1 3 4 0 20-8 17-2 2-5 9 0 2-3 4 0 1-2 9-4 5-6z"/>
<path fill="#ffa600" d="M376 103l-27-50-21-27-20-14-16-1-16 8-20 22-17 28-28 62 6 1 10 7 3-2 5 2 4-2 4 3 8-3 4 2 7-3 2 2 4-2 4 2 5-3 5 1 4-3 4 3 8-5 4 0 2 3 23-10 19-1 3-6 7 1 1-3 4 0z"/>
<path fill="#ff8c00" d="M371 93l-22-40-21-27-20-14-16-1-16 8-20 22-17 28-23 52 11 4 4 4 5-2 4 3 3-3 4 3 8-3 4 2 2-2 4 1 3-2 2 2 6-3 4 2 5-3 4 2 8-5 2 3 3 0 14-7 14-4 15 0 2-4 6 0 3-4 6-1 4-3z"/>
<path fill="#ff7300" d="M367 85l-26-44-17-19-16-10-16-1-16 8-20 22-17 28-20 43 5 1 1 2 3-1 7 5 5-2 3 3 3-2 11 1 2-2 3 2 3-2 8 1 2-2 4 1 3-2 5 2 6-4 3 0 3 3 18-9 14-4 13 0 1-4 6 0 7-5 3 0z"/>
<path fill="#ff5900" d="M362 75l-21-34-17-19-16-10-16-1-16 8-20 22-17 28-15 33 3 2 1 4 6-3 4 4 7-1 3 2 8-3 3 2 8-2 4 1 3-2 2 2 4-2 6 1 6-4 5 3 14-7 5-1 2 3 3 0 5-6 15-1 2-4 6 0 2-3 6-2 4-4z"/>
<path fill="#ff4000" d="M358 69l-17-28-17-19-16-10-16-1-16 8-17 18-20 32-11 23 4 3-1 3 7-2 5 4 3-2 4 2 4-2 7 0 3 2 2-2 4 1 2-2 4 1 4-2 5 2 6-4 4 2 16-6 7 2 5-2 3-5 12 0 3-4 5 0 8-5z"/>
<path fill="#ff2600" d="M353 60l-15-23-14-15-16-10-16-1-16 8-13 13-11 15-20 36 5 2-1 3 6-2 5 4 4-3 10 3 2-2 15 0 11-3 4 2 15-6 8 2 7-6 10-1 13-6 6-5z"/>
<path fill="#ff0d00" d="M348 52l-10-15-18-18-12-7-16-1-16 8-13 13-11 15-15 27 6 1 7 5 3-2 5 2 4-2 3 2 8-3 2 2 4-2 6 1 3-2 6 1 7-4 21-6 9 0 14-8z"/>
<path fill="#f20000" d="M343 44l-15-18-14-11-10-4-12 0-16 8-13 13-21 32 12 6 2-2 4 2 4-2 20 0 6-3 5 2 18-7 15-2 2-3 10-4z"/>
<path fill="#d90000" d="M338 37l-14-15-10-7-10-4-12 0-16 8-13 13-11 15-4 9 8 4 3-2 12 1 12-2 4 1 3-2 7 1 15-6 10-1 2-3 11-4z"/>
<path fill="#bf0000" d="M331 30l-7-8-16-10-16-1-16 8-13 13-9 13 3 3 6-1 3 2 24-2 7-3 8 1 22-9z"/>
<path fill="#a60000" d="M323 22l-15-10-16-1-16 8-15 16 7 3 27-2 18-5 6-3z"/>
<path fill="#8c0000" d="M314 15l-10-4-12 0-13 6-8 7 3 2 26-2 10-4z"/>
</g>
<g class="ax">
<path d="M291.5 834.7L369.5 871.7"/>
<path d="M369.5 871.7L470.9 843.6"/>
<path d="M291.5 834.7L291.5 754.5"/>
<path d="M470.9 843.6L470.9 763.4"/>
<path d="M291.5 754.5L369.5 791.5"/>
<path d="M369.5 791.5L470.9 763.4"/>
<path d="M369.5 871.7L369.5 791.5"/>
<path d="M330.5 853.2L334 852.2"/>
<path d="M420.2 857.7L417.4 856.4"/>
<path d="M369.5 871.7L366.6 872.5"/>
<path d="M369.5 871.7L372.2 873"/>
<path d="M291.5 834.7L288.6 835.5"/>
<path d="M470.9 843.6L473.6 844.9"/>
<path d="M291.5 794.6L289.1 795.3"/>
<path d="M291.5 754.5L289.1 755.2"/>
</g>
<g class="tk"><text x="288.9" y="837.7" text-anchor="end">0</text><text x="288.4" y="797.8" text-anchor="end">0.5</text><text x="287.8" y="757.2" text-anchor="end">1</text><text x="288.6" y="846.5" text-anchor="end">90</text><text x="324.1" y="865.2" text-anchor="middle">0</text><text x="364.3" y="883.1" text-anchor="end">-90</text><text x="373.5" y="883.5">-45</text><text x="425.8" y="869.6" text-anchor="middle">0</text><text x="474.4" y="855.6">45</text><text x="359.6" y="874.4" text-anchor="end">Orientation Angle</text><text x="393.2" y="879.5">Ellipticity Angle</text></g>
</g>
<!-- plot k -->
<g>
<g class="ax">
<path d="M557.5 834.7L658.7 806.6"/>
<path d="M658.7 806.6L736.5 843.6"/>
<path d="M658.7 806.6L658.7 726.4"/>
<path d="M557.5 754.5L658.7 726.4"/>
<path d="M658.7 726.4L736.5 763.4"/>
<path d="M557.5 794.6L658.7 766.5" class="d"/>
<path d="M658.7 766.5L736.5 803.5" class="d"/>
<path d="M608.1 820.7L608.1 740.5" class="d"/>
<path d="M697.6 825.1L697.6 744.9" class="d"/>
<path d="M685.9 857.7L608.1 820.7" class="d"/>
<path d="M596.4 853.2L697.6 825.1" class="d"/>
</g>
<g transform="translate(564 728) scale(.25)" fill-rule="evenodd">
<path fill="#00008c" d="M9 110l27 13 14 19 24 45 56 139 15 29 19 24 12 9 45 21 29 10 25 4 41 1 13 4 17 11 32 30 32 26 49 27 13 0 9-5 15-17 15-25 28-69 50-154 20-49 11-23 12-19 14-15 7-4-279-133-12 7-18 24-11 21-24 58-31 97-6 14-95-49-87-37-65-31z"/>
<path fill="#0000a6" d="M9 110l27 13 14 19 24 45 56 139 15 29 19 24 12 9 45 21 29 10 25 4 41 1 13 4 17 11 32 30 32 26 37 21-12-17-4-8 1-4 20 4 38 16 10-13 11-19 28-69 50-154 20-49 11-23 12-19 14-15 7-4-279-133-12 7-18 24-11 21-24 58-31 97-6 14-95-49-87-37-65-31z"/>
<path fill="#0000bf" d="M9 110l27 13 14 19 24 45 56 139 15 29 19 24 5 4 8 2 44 21 28 10 26 7 32 0 22 5 17 11 32 30 32 26 29 15 0-3-17-28-2-6 2-3 15 3 8 4 13 2 14 8 26 10 18-32 15-37 58-176 20-49 11-23 12-19 14-15 7-4-279-133-12 7-18 24-11 21-24 58-31 97-6 14-95-49-87-37-65-31z"/>
<path fill="#0000d9" d="M9 110l27 13 14 19 24 45 56 139 15 29 16 20 62 28 29 10 40 10 24 1 13 4 17 11 47 43 39 21 2 0-1-4-10-16-10-23 2-5 8 3 7 0 9 5 6-1 15 8 10 0 34 17 12-22 15-37 58-176 20-49 11-23 12-19 14-15 7-4-279-133-12 7-18 24-11 21-24 58-31 97-6 14-95-49-87-37-65-31z"/>
<path fill="#0000f2" d="M9 110l27 13 18 26 20 38 56 139 15 29 11 14 4 0 43 21 35 14 29 9 62 15 17 11 36 33 46 25 1-3-10-17-12-32 1-4 11 4 5-1 11 6 7-1 15 8 5-2 46 24 3-4 28-69 50-154 20-49 11-23 12-19 14-15 7-4-279-133-12 7-18 24-11 21-24 58-31 97-6 14-95-49-87-37-65-31z"/>
<path fill="#000dff" d="M9 110l27 13 18 26 20 38 56 139 19 35 11 3 54 26 36 13 51 14 28 11 17 11 25 22 53 29-23-57 0-4 2-2 6 1 8 5 5-2 12 7 5-2 16 9 4-2 4 1 26 15 25 10 25-63 50-154 20-49 11-23 12-19 14-15 7-4-279-133-12 7-18 24-11 21-24 58-31 97-6 14-95-49-87-37-65-31z"/>
<path fill="#0026ff" d="M9 110l27 13 18 26 20 38 48 121 22 45 68 31 106 36 66 45 33 17 2 0 0-3-23-58 0-6 2-2 3 0 15 8 5-2 11 7 10 0 15 9 3-3 4 1 20 12 22 10 14 1 19-50 50-154 20-49 11-23 12-19 14-15 7-4-279-133-12 7-18 24-11 21-24 58-31 97-6 14-95-49-87-37-65-31z"/>
<path fill="#0040ff" d="M9 110l27 13 18 26 20 38 40 102 27 58 4 0 49 24 36 13 6 4 15 3 8 5 12 2 35 13 20 10 54 37 34 17 1-4-25-65 1-8 3 0 17 10 10 0 13 8 7-2 18 11 6-3 23 14 21 10 14 2 16-42 50-154 20-49 11-23 12-19 14-15 7-4-279-133-12 7-18 24-11 21-24 58-31 97-6 14-95-49-87-37-65-31z"/>
<path fill="#0059ff" d="M9 110l27 13 18 26 20 38 40 102 23 50 60 28 22 7 13 7 14 3 12 6 11 2 36 14 27 15 38 26 40 21 2 0-19-51-8-24-1-10 29 15 7-2 17 10 6-2 20 12 4-3 5 1 32 19 18 8 4 0 13-35 50-154 20-49 11-23 12-19 14-15 7-4-279-133-12 7-18 24-11 21-24 58-31 97-6 14-95-49-87-37-65-31z"/>
<path fill="#0073ff" d="M9 110l27 13 18 26 20 38 40 102 19 43 59 27 22 7 9 6 23 6 4 4 18 4 32 13 16 8 49 32 41 22 2 0 0-5-23-60-7-22 1-4 22 9 13 8 4 1 5-2 18 11 6-3 21 13 3 0 2-3 4 1 25 15 27 13 60-181 20-49 11-23 12-19 14-15 7-4-279-133-12 7-18 24-11 21-24 58-31 97-6 14-95-49-87-37-65-31z"/>
<path fill="#008cff" d="M9 110l27 13 18 26 20 38 40 102 16 36 3 0 43 21 33 12 8 6 21 5 9 6 18 4 8 5 27 10 25 14 33 22 46 24 0-7-21-55-10-34 2-1 22 9 23 13 3-3 3 0 21 13 3-4 2 0 24 15 6-4 28 16 23 10 56-170 20-49 11-23 12-19 14-15 7-4-279-133-12 7-18 24-11 21-24 58-31 97-6 14-95-49-87-37-65-31z"/>
<path fill="#00a6ff" d="M9 110l27 13 18 26 20 38 52 130 12 4 32 16 29 11 6 5 9 4 15 3 14 8 16 3 10 6 21 7 33 18 35 23 44 22-37-108 5-1 6 4 0 5 32 13 12 8 7 1 1-2 3 0 20 13 4 0 4-3 26 16 3 0 3-4 45 23 53-160 20-49 11-23 12-19 14-15 7-4-279-133-12 7-18 24-11 21-24 58-31 97-6 14-95-49-87-37-65-31z"/>
<path fill="#00bfff" d="M9 110l27 13 14 19 24 45 49 122 53 23 23 13 28 8 5 5 24 6 9 6 30 11 57 35 46 23-3-14-35-95 0-4 2-1 14 4 2 3 0 5 18 6 35 19 6-4 24 15 3-4 2 0 32 19 3 0 3-4 36 17 49-149 20-49 11-23 12-19 14-15 7-4-279-133-12 7-18 24-11 21-24 58-31 97-6 14-95-49-87-37-65-31z"/>
<path fill="#00d9ff" d="M350 305l4-1 1 4-2 1zM9 110l27 13 14 19 24 45 46 114 38 17 24 14 35 11 7 6 24 6 6 5 38 14 73 44 27 12 3 0-2-9-27-76-12-28 0-4 2-1 18 5 4 3-1 4 2 2 23 8 36 20 6-4 25 16 4-4 3 0 38 23 8 2 1-3 3-1 18 8 45-139 20-49 11-23 12-19 14-15 7-4-279-133-12 7-18 24-11 21-24 58-31 97-6 14-95-49-87-37-65-31z"/>
<path fill="#00f2ff" d="M9 110l27 13 14 19 24 45 44 109 58 27 31 10 6 6 22 5 13 8 18 5 21 9 40 23 9 7 54 29 2 0-1-8-18-52-26-66-6-9 4-1 6 2 2 2 0 7 20 5 5 4-1 5 33 12 23 12 11 8 4 1 2-4 3 0 25 16 3 0 4-4 30 18 30 14 44-135 20-49 11-23 12-19 14-15 7-4-279-133-12 7-18 24-11 21-24 58-31 97-6 14-95-49-87-37-65-31z"/>
<path fill="#0dfff2" d="M9 110l27 13 14 19 24 45 40 101 48 22 33 12 11 8 25 6 6 6 35 11 22 11 43 27 51 27 2-1-27-78-12-29-18-36 1-1 13 5 2 2 0 7 26 8 2 2-2 4 4 3 16 4 25 11 36 21 6-4 28 18 3 0 4-5 29 17 23 10 40-124 20-49 11-23 12-19 14-15 7-4-279-133-12 7-18 24-11 21-24 58-31 97-6 14-95-49-87-37-65-31z"/>
<path fill="#26ffd9" d="M9 110l27 13 14 19 24 45 36 92 69 30 10 8 32 9 6 6 26 7 18 10 16 6 56 34 13 5 28 15 2 0-2-10-22-62-11-26-21-42-9-12 1-1 17 7 2 2-1 5 10 6 23 6 2 3-2 4 2 2 19 5 15 8-1 4 12 7 5 1 2-3 4 0 9 4 26 17 5-5 34 21 4 0 2-4 3 0 38 19 37-113 24-58 11-21 11-16 11-11 7-4-279-133-12 7-18 24-11 21-24 58-31 97-6 14-95-49-87-37-65-31z"/>
<path fill="#40ffbf" d="M9 110l27 13 14 19 24 45 33 84 26 11 40 22 35 11 9 7 29 8 14 9 39 17 56 34 28 11-13-42-24-58-16-30-19-25-36-19-4 3-59-32-57-27-65-27-65-31zM369 11l-10 8-15 21-24 50-11 29-33 103 42 19 7 6-1 4 3 3 13 6 29 9 2 2 0 7 29 9 2 2-1 5 4 3 33 15 3 0 3-4 33 20 2 0 4-5 46 27 4 0 3-4 20 9 33-103 24-58 11-21 11-16 11-11 7-4-151-71-16-9-20-8-22-12-20-8-39-20-3 0-8-5z"/>
<path fill="#59ffa6" d="M9 110l27 13 14 19 24 45 32 80 55 25 31 10 12 9 30 8 9 7 25 9 113 62-10-34-21-53-23-43-16-19-37-20-3 2-94-49-87-37-65-31zM369 11l-10 8-15 21-24 50-11 29-32 100 57 26 30 10 3 3 0 7 28 8 2 2 0 7 31 12 20 12 5 1 3-4 3 0 31 20 4-5 3 0 25 16 35 18 32-100 24-58 11-21 11-16 11-11 7-4-151-71-16-9-20-8-22-12-20-8-39-20-3 0-8-5z"/>
<path fill="#73ff8c" d="M9 110l27 13 14 19 24 45 28 71 43 20 39 15 4 5 34 10 11 8 18 5 16 7 44 24 20 13 4 0 31 18 3 0 5 4 4 0-9-29-18-45-22-42-15-20-6-5-33-17-4 1-94-49-87-37-65-31zM362 16l-10 12-19 33-24 58-29 88 42 20 36 14 2 2-1 6 2 2 30 9 2 2 0 7 36 13 35 20 4-5 2 0 35 22 3-5 6 1 46 25 29-88 24-58 11-21 11-16 11-11 7-4-151-71-16-9-20-8-22-12-20-8-39-20-3 0-8-5z"/>
<path fill="#8cff73" d="M9 110l27 13 14 19 24 45 25 62 64 29 8 7 39 12 8 7 37 12 46 26 12 5 27 17 6 1 24 13 5 1-13-39-17-39-23-40-16-16-32-16-3 1-94-49-87-37-65-31zM362 16l-10 12-19 33-24 58-25 77 64 29 2 2-1 6 4 3 34 11 2 2-2 5 5 3 38 13 47 27 3-5 7 2 25 17 11 5 5-5 31 16 5 1 25-76 24-58 11-21 11-16 11-11 7-4-151-71-16-9-20-8-22-12-20-8-39-20-3 0-8-5z"/>
<path fill="#a6ff59" d="M9 110l27 13 14 19 24 45 22 56 4 0 13 6 24 14 26 12 30 9 15 10 24 6 28 15 19 7 26 17 14 6 41 24 10 4 1-6-10-29-18-40-20-35-16-17-33-17-3 1-94-49-87-37-65-31zM362 16l-10 12-19 33-20 47-26 77 31 15 3 3-1 4 13 8 49 18 2 2 0 7 37 13 3 3-1 4 12 7 7 2 3-4 20 9 22 15 4 0 2-4 3 0 32 20 32 15 2 0 2-4 3 1 22-67 24-58 11-21 11-16 11-11 7-4-151-71-16-9-20-8-22-12-20-8-39-20-3 0-8-5z"/>
<path fill="#bfff40" d="M9 110l24 11 9 9 32 57 20 50 55 25 32 11 10 8 34 10 11 8 49 21 21 14 63 32-8-27-16-37-18-33-18-21-36-19-2 1-94-49-87-37-65-31zM366 13l-14 15-19 33-20 47-24 73 36 18 50 19 3 3-2 5 2 2 34 11 2 3-1 5 7 4 16 6 23 12 2 0 4-5 38 23 2 0 4-5 38 22 22 10 20-62 24-58 11-21 11-16 11-11 7-4-279-133z"/>
<path fill="#d9ff26" d="M9 110l24 11 9 9 32 57 16 41 55 25 13 4 10 5 5 5 38 12 11 8 32 12 41 21 25 16 8 2 38 20-13-38-22-44-9-14-16-16-33-17-2 1-94-49-87-37-65-31zM366 13l-14 15-19 33-17 39-24 70 76 34 2 2-2 4 2 3 34 11 3 3-1 5 2 2 34 13 29 17 4 1 3-5 3 0 34 22 7 1 2-4 5 1 43 23 20-59 28-64 15-23 11-11 7-4-279-133z"/>
<path fill="#f2ff0d" d="M9 110l24 11 9 9 27 47 18 43 44 19 26 15 42 14 8 7 20 6 26 11 9 6 7 2 9 7 22 10 29 18 17 6 17 9-14-39-15-29-13-21-14-14-34-18-2 1-94-49-87-37-65-31zM362 16l-18 24-11 21-17 39-20 59 53 24 7 5-1 5 9 6 35 11 3 3 0 7 39 14 22 11 24 15 2 0 1-4 3-1 44 26 6 1 2-4 3 0 28 14 16-48 28-64 15-23 11-11 7-4-279-133z"/>
<path fill="#fff200" d="M9 110l24 11 9 9 27 47 16 38 6 1 50 25 41 14 13 9 27 8 27 12 43 25 11 4 40 24 16 7 0-6-24-54-12-20-16-17-46-22-84-44-87-37-65-31zM362 16l-18 24-11 21-17 39-19 55 56 27 40 14 3 3-1 5 2 2 30 10 29 13 44 26 7-5 38 23 32 15 15-44 28-64 15-23 11-11 7-4-279-133z"/>
<path fill="#ffd900" d="M9 110l24 11 6 5 11 16 19 35 13 30 52 24 36 13 11 8 32 10 19 11 45 20 18 12 11 4 44 25 7 2-9-26-26-47-17-17-128-65-87-37-65-31zM362 16l-18 24-11 21-17 39-15 45 58 27 28 10 3 3-1 5 2 2 31 10 10 5 2 3 0 5 30 14 3-4 5 0 44 26 3-5 3 0 59 32 11-34 28-64 15-23 11-11 7-4-279-133z"/>
<path fill="#ffbf00" d="M9 110l24 11 6 5 15 23 20 38 4 11 35 17 40 16 16 10 35 11 8 6 60 27 24 15 57 28-5-17-18-35-9-14-15-15-129-66-87-37-65-31zM362 16l-18 24-11 21-17 39-12 34 77 34 2 2-1 6 39 14 4 3-1 5 10 6 23 9 23 12 4-4 5 1 42 25 4-5 4 1 45 24 8-23 28-64 15-23 11-11 7-4-279-133z"/>
<path fill="#ffa600" d="M9 110l24 11 6 5 15 23 22 42 52 23 25 14 31 10 17 10 34 13 29 16 11 4 33 20 42 19-3-10-19-37-8-12-14-14-129-66-87-37-65-31zM362 16l-10 12-12 19-20 43-12 33 61 28 4 4-1 5 5 3 40 14 3 3-1 4 5 4 36 14 33 18 6-4 45 26 6 2 4-5 34 17 21-53 11-23 15-23 11-11 7-4-279-133z"/>
<path fill="#ff8c00" d="M9 110l24 11 6 5 11 16 23 42 24 10 40 21 37 13 15 9 44 17 58 30 29 18 26 11 0-4-22-42-20-21-127-65-87-37-65-31zM359 19l-15 21-11 21-21 50 1 3 41 19 3 3-1 4 21 11 36 13 3 3-1 5 51 21 39 22 3 0 3-4 57 31 7 1 1-2 6 0 10 5 17-43 15-30 11-16 11-11 7-4-279-133z"/>
<path fill="#ff7300" d="M9 110l24 11 6 5 11 16 19 36 3 0 59 28 36 13 12 8 41 15 28 15 5 1 24 15 66 34-8-20-10-18-10-13-10-9-128-66-87-37-65-31zM359 19l-15 21-11 21-20 47 1 2 49 23 44 17 5 3-1 5 2 2 51 20 52 29 3 0 3-4 4 1 53 30 13 6 2-1 15-38 15-30 11-16 11-11 7-4-279-133z"/>
<path fill="#ff5900" d="M9 110l24 11 6 5 11 16 15 29 4 0 50 24 35 13 18 10 24 8 25 11 118 62-13-28-12-16-9-8-128-66-87-37-65-31zM359 19l-19 28-23 51 1 2 40 19 43 17 8 5 1 6 57 23 57 31 14 0 34 19 26 12 11-29 15-30 11-16 11-11 7-4-279-133z"/>
<path fill="#ff4000" d="M9 110l24 11 6 5 11 16 11 21 4 0 36 18 36 14 20 11 38 14 37 17 103 55-10-22-12-16-7-6-129-67-87-37-65-31zM359 19l-19 28-19 42 28 14 42 17 16 8 0 5 2 2 32 12 29 15 16 6 51 28 7-3 58 29 11-28 11-21 11-16 11-11 7-4-279-133z"/>
<path fill="#ff2600" d="M9 110l27 13 14 19 7 13 76 33 14 8 45 17 28 13 111 58-11-21-13-14-30-15-10-7-55-29-57-27-65-27-65-31zM326 80l80 36 3 3-1 3 2 2 52 22 5 4 0 3 10 5 8-1 12 5 47 26 3 0 3-3 54 27 2 0 14-32 12-19 14-15 7-4-279-133-12 7-10 12-12 19z"/>
<path fill="#ff0d00" d="M9 110l27 13 17 25 95 43 57 23 122 63-9-16-13-13-93-50-66-31-76-32-45-22zM329 70l82 38 1 5 51 22 15 11 5 0 16 6 49 26 4 1 4-2 9 3 43 23 2-1 10-22 12-19 14-15 7-4-279-133-12 7-10 12-12 19z"/>
<path fill="#f20000" d="M9 110l27 13 13 18 100 45 58 24 102 54 13 5-11-16-6-5-27-13-11-8-55-29-66-31-76-32-45-22zM333 61l82 37 4 4 0 3 12 6 19 7 55 27 5 1 42 22 2-2 4 0 55 28 11-21 11-16 11-11 7-4-279-133-12 7-18 24z"/>
<path fill="#d90000" d="M9 110l27 13 9 12 4 0 45 22 95 41 127 64-4-7-8-7-108-58-126-55-45-22zM338 51l1 2 90 41 8 9 52 22 52 27 18 3 59 30 17-28 11-11 7-4-279-133-15 10z"/>
<path fill="#bf0000" d="M9 110l24 11 8 8 3 0 125 58 141 68-7-7-26-13-10-8-71-37-126-55-45-22zM344 40l35 16 22 15 47 21 12 10 73 34 11 1 61 30 9 1 10 5 11-16 11-11 7-4-279-133-15 10z"/>
<path fill="#a60000" d="M9 110l24 11 8 6 171 79 74 37 7 1-17-9-9-8-90-46-87-37-65-31zM350 31l72 34 12 9 27 14 5 1 99 48 11 2 54 26 5-8 11-11 7-4-279-133-12 7z"/>
<path fill="#8c0000" d="M9 110l280 132-16-8-6-7-90-46-87-37-65-31zM358 21l58 27 34 20 120 57 33 12 34 17 16-12-279-133-8 4z"/>
</g>
<g class="ax">
<path d="M557.5 834.7L635.3 871.7"/>
<path d="M635.3 871.7L736.5 843.6"/>
<path d="M557.5 834.7L557.5 754.5"/>
<path d="M736.5 843.6L736.5 763.4"/>
<path d="M557.5 754.5L635.3 791.5"/>
<path d="M635.3 791.5L736.5 763.4"/>
<path d="M635.3 871.7L635.3 791.5"/>
<path d="M596.4 853.2L599.9 852.2"/>
<path d="M685.9 857.7L683.1 856.4"/>
<path d="M635.3 871.7L632.4 872.5"/>
<path d="M635.3 871.7L638 873"/>
<path d="M557.5 834.7L554.6 835.5"/>
<path d="M736.5 843.6L739.2 844.9"/>
<path d="M557.5 794.6L555.1 795.3"/>
<path d="M557.5 754.5L555.1 755.2"/>
</g>
<g class="tk"><text x="554.9" y="837.7" text-anchor="end">0</text><text x="554.4" y="797.8" text-anchor="end">0.5</text><text x="553.8" y="757.2" text-anchor="end">1</text><text x="554.6" y="846.5" text-anchor="end">90</text><text x="590" y="865.2" text-anchor="middle">0</text><text x="630.1" y="883.1" text-anchor="end">-90</text><text x="639.3" y="883.5">-45</text><text x="691.5" y="869.6" text-anchor="middle">0</text><text x="740" y="855.6">45</text><text x="625.4" y="874.4" text-anchor="end">Orientation Angle</text><text x="659" y="879.5">Ellipticity Angle</text></g>
</g>
<!-- plot l -->
<g>
<g class="ax">
<path d="M819.7 834.7L920.7 806.6"/>
<path d="M920.7 806.6L998.5 843.6"/>
<path d="M920.7 806.6L920.7 726.4"/>
<path d="M819.7 754.5L920.7 726.4"/>
<path d="M920.7 726.4L998.5 763.4"/>
<path d="M819.7 794.6L920.7 766.5" class="d"/>
<path d="M920.7 766.5L998.5 803.5" class="d"/>
<path d="M870.2 820.7L870.2 740.5" class="d"/>
<path d="M959.6 825.1L959.6 744.9" class="d"/>
<path d="M948 857.7L870.2 820.7" class="d"/>
<path d="M858.6 853.2L959.6 825.1" class="d"/>
</g>
<g transform="translate(826 731) scale(.25)" fill-rule="evenodd">
<path fill="#00008c" d="M10 110l25 12 16 20 23 44 60 138 16 27 18 20 49 24 31 10 32 1 30-7 16 0 13 9 34 38 33 32 24 17 29 15 13 0 10-5 12-12 15-24 27-62 36-107 37-97 23-41 10-12 11-8-279-133-8 4-10 10-8 11-19 36-24 64-5 9-29 86-62-35-29-14-108-44-56-26z"/>
<path fill="#0000a6" d="M10 110l25 12 16 20 23 44 60 138 16 27 18 20 49 24 31 10 32 1 30-7 16 0 13 9 60 64 23 18 26 15-14-18-2-5 2-4 21 3 36 15 18-27 27-62 36-107 37-97 23-41 10-12 11-8-279-133-8 4-10 10-8 11-19 36-24 64-5 9-29 86-62-35-29-14-108-44-56-26z"/>
<path fill="#0000bf" d="M10 110l25 12 16 20 23 44 60 138 16 27 18 20 63 27 33 8 16 0 38-8 8 1 13 9 60 64 13 11 24 15 3 0 0-2-5-6-12-23 1-4 14 1 4 2 4-1 8 4 9 1 18 9 10 2 8 4 3-2 21-41 14-35 36-107 37-97 23-41 10-12 11-8-279-133-8 4-10 10-8 11-19 36-24 64-5 9-29 86-62-35-29-14-108-44-56-26z"/>
<path fill="#0000d9" d="M10 110l25 12 16 20 23 44 57 132 15 27 15 19 59 26 37 11 33 3 20-5 16 0 13 9 60 64 11 9 23 11-18-38 0-3 5-2 22 3 7 4 5-1 13 7 8 0 30 14 17-34 14-35 36-107 37-97 23-41 10-12 11-8-279-133-8 4-10 10-8 11-19 36-24 64-5 9-29 86-62-35-29-14-108-44-56-26z"/>
<path fill="#0000f2" d="M10 110l25 12 16 20 23 44 57 132 15 27 9 12 55 25 44 14 42 6 22-4 8 1 13 9 57 61 32 17 1-2-19-39 0-9 18 2 6 3 6-1 5 4 7-1 11 6 6-1 39 20 2-1 26-60 36-107 37-97 23-41 10-12 11-8-279-133-8 4-10 10-8 11-19 36-24 64-5 9-29 86-62-35-29-14-108-44-56-26z"/>
<path fill="#000dff" d="M10 110l25 12 16 20 23 44 57 132 19 32 59 27 39 13 58 10 12-2 8 1 13 9 48 52 35 19 2 0-19-45-2-7 2-4 5 2 6-1 4 3 6-1 6 3 5-1 9 5 4-2 12 7 6-2 27 15 9 3 5-1 5 3 2-1 23-56 33-99 37-97 23-41 10-12 11-8-279-133-8 4-10 10-8 11-19 36-24 64-5 9-29 86-62-35-29-14-108-44-56-26z"/>
<path fill="#0026ff" d="M10 110l25 12 16 20 23 44 49 115 22 42 59 27 17 5 9 5 44 11 34 5 9 3 9 0 13 9 34 38 20 13 25 13 2-1-3-9-9-18-10-27 1-6 9 2 6-1 6 4 5-2 8 5 4-2 10 6 6-2 11 7 6-2 22 13 7 2 7-1 14 6 19-47 33-99 37-97 23-41 10-12 11-8-279-133-8 4-10 10-8 11-19 36-24 64-5 9-29 86-62-35-29-14-108-44-56-26z"/>
<path fill="#0040ff" d="M10 110l25 12 16 20 23 44 49 115 18 35 63 29 18 5 3 3 16 3 4 3 10 1 18 6 35 7 14 6 4 0 13 9 30 31 23 15 24 12 0-4-19-45-5-16 1-3 8 0 7 4 6-1 7 4 5-1 7 4 6-1 8 5 4 0 2-2 15 9 5-3 27 16 6 1 4-2 14 6 19-49 29-88 37-97 23-41 10-12 11-8-279-133-8 4-10 10-8 11-19 36-24 64-5 9-29 86-62-35-29-14-108-44-56-26z"/>
<path fill="#0059ff" d="M10 110l25 12 16 20 23 44 41 97 23 47 6 1 51 25 23 7 3 3 94 26 18 11 29 27 31 20 16 8 3 0 0-3-26-68 1-2 9 0 12 6 6-1 6 4 7-1 10 6 4-3 11 7 6-2 14 9 3-3 3 0 33 19 17 1 15-39 29-88 37-97 23-41 10-12 11-8-279-133-8 4-10 10-8 11-19 36-24 64-5 9-29 86-62-35-29-14-108-44-56-26z"/>
<path fill="#0073ff" d="M10 110l25 12 16 20 23 44 60 138 5 0 47 23 23 7 7 5 16 3 8 5 11 1 4 3 28 6 30 11 15 9 13 13 21 16 20 13 26 13-2-11-25-66 1-4 11 1 15 8 4-2 11 6 7-1 9 6 6-2 10 7 5-3 16 10 5-3 32 18 14 7 3-1 13-34 29-88 37-97 23-41 10-12 11-8-279-133-8 4-10 10-8 11-19 36-24 64-5 9-29 86-62-35-29-14-108-44-56-26z"/>
<path fill="#008cff" d="M10 110l25 12 16 20 23 44 20 49 37 82 4 0 43 21 27 9 7 5 16 3 7 5 12 1 5 4 11 1 5 3 34 10 16 8 43 34 44 25 0-6-33-86 4-1 31 16 6-2 13 8 4-3 12 8 5-3 14 9 3-3 3 0 14 10 4 0 2-3 4 1 30 18 12 5 39-114 37-97 23-41 10-12 11-8-279-133-8 4-10 10-8 11-19 36-24 64-5 9-29 86-62-35-29-14-108-44-56-26z"/>
<path fill="#00a6ff" d="M10 110l25 12 16 20 23 44 53 123 30 14 40 15 5 5 19 4 8 5 11 1 5 4 10 1 10 5 12 2 28 11 19 12 41 31 35 19 2 0-1-7-36-94 7 0 3 2-1 3 2 2 17 6 16 9 6-2 15 9 4-3 12 8 6-3 13 9 6-3 21 13 3-4 2 0 40 21 35-104 37-97 23-41 10-12 11-8-279-133-8 4-10 10-8 11-19 36-24 64-5 9-29 86-62-35-29-14-108-44-56-26z"/>
<path fill="#00bfff" d="M10 110l25 12 16 20 23 44 49 115 41 19 20 7 10 7 20 5 9 6 13 1 7 5 7 0 10 5 10 1 27 11 21 12 52 37 28 14 1-2-9-27-33-82 2-2 7 2 2 2-1 3 12 4 2 2 0 4 30 14 6-2 17 10 5-3 12 8 5-3 17 11 3-4 2 0 21 14 4 0 3-4 34 18 32-94 37-97 23-41 10-12 11-8-279-133-8 4-10 10-8 11-19 36-24 64-5 9-29 86-62-35-29-14-108-44-56-26z"/>
<path fill="#00d9ff" d="M10 110l25 12 16 20 23 44 46 107 47 21 14 9 28 8 7 6 13 1 6 5 16 2 4 4 10 1 27 11 19 10 52 37 30 15 3 0-6-20-41-102 8 0 3 8 6 0 5 3-1 4 14 4 1 6 30 14 6-2 16 10 6-3 15 10 3-4 2 0 16 11 6-4 29 18 3 0 1-3 3-1 23 12 28-84 37-97 23-41 10-12 11-8-279-133-8 4-10 10-8 11-19 36-24 64-5 9-29 86-62-35-29-14-108-44-56-26z"/>
<path fill="#00f2ff" d="M339 279l7 3-3 6-5-6zM10 110l25 12 16 20 23 44 44 102 6 1 47 24 30 9 7 6 14 2 7 5 14 2 6 4 15 3 11 6 15 5 17 9 50 35 34 18 1-6-37-94-12-24 0-5 16 3 2 2-1 5 11 2 3 3 0 4 13 4 3 7 14 5 16 9 6-3 17 11 2 0 3-4 16 11 2 0 3-4 19 12 5-4 39 23 14 5 26-79 37-97 23-41 10-12 11-8-279-133-8 4-10 10-8 11-19 36-24 64-5 9-29 86-62-35-29-14-108-44-56-26z"/>
<path fill="#0dfff2" d="M10 110l25 12 16 20 23 44 41 95 50 23 25 8 9 7 16 2 9 7 13 1 6 5 11 1 9 3 7 5 11 3 22 11 44 31 40 22 3 0-1-7-11-30-6-11-21-53-23-44 2-1 12 4 2 2-1 6 18 5 0 6 15 5-1 5 15 4 1 6 29 14 8 2 2-3 19 12 6-4 15 11 3 0 3-4 21 14 7-4 19 12 26 13 23-70 37-97 23-41 10-12 11-8-279-133-8 4-10 10-8 11-19 36-24 64-5 9-29 86-62-35-29-14-108-44-56-26z"/>
<path fill="#26ffd9" d="M10 110l25 12 16 20 23 44 37 87 39 18 23 8 13 9 23 5 5 5 18 3 5 5 11 1 13 7 19 6 32 18 39 27 35 18 1-2-9-27-36-83-19-32-17-15 1-1 31 12 2 2 0 7 21 5 0 8 15 3 0 6 13 3 4 4-1 4 15 5 26 14 4-4 19 12 7-3 15 11 3 0 1-3 3-1 24 16 2 0 2-4 6 1 33 18 20-59 37-97 23-41 10-12 11-8-279-133-8 4-10 10-8 11-19 36-24 64-5 9-29 86-62-35-29-14-108-44-56-26z"/>
<path fill="#40ffbf" d="M10 110l25 12 16 20 23 44 34 79 50 22 16 10 26 7 8 6 17 3 6 5 15 2 8 6 16 4 15 7 71 46 27 11-5-19-32-75-13-25-11-16-9-9-41-24-1 3-78-43-121-50-56-26zM369 11l-13 12-8 11-19 36-24 64-5 9-24 72 53 25 3 3 0 6 28 9 1 7 14 3 3 3-2 4 2 2 14 3 1 7 19 6 27 15 7-3 18 12 6-4 16 12 3 1 3-4 3 0 29 18 3 0 2-4 3 0 24 13 16-49 37-97 23-41 10-12 11-8-279-133z"/>
<path fill="#59ffa6" d="M10 110l25 12 16 20 23 44 32 74 7 1 44 23 33 10 6 6 21 4 4 5 20 4 7 5 10 2 24 10 50 33 48 26-2-13-28-67-18-35-17-22-11-8-29-14-3-3-1 2-78-43-121-50-56-26zM369 11l-13 12-8 11-19 36-24 64-5 9-23 68 5 1 2-3 17 7 4 4 0 4 27 14 26 8 1 8 17 4 2 2-1 5 16 4 0 7 6 1 23 9 25 15 7-3 18 12 6-4 18 13 4 0 0-2 4-2 22 14 31 16 15-45 37-97 23-41 10-12 11-8-279-133z"/>
<path fill="#73ff8c" d="M10 110l25 12 16 20 23 44 29 67 39 18 35 12 8 7 20 4 10 7 15 2 8 6 26 7 20 10 48 32 46 25-1-8-16-40-21-46-19-30-12-11-37-20-2 1-77-43-121-50-56-26zM369 11l-13 12-8 11-19 36-24 64-5 9-19 58 33 17 40 15 2 2-1 5 2 2 19 5 0 7 17 4 0 7 13 3 26 11 23 15 6-4 20 13 3-4 3 0 22 15 2 0 2-4 4 0 44 25 11-35 37-97 23-41 10-12 11-8-279-133z"/>
<path fill="#8cff73" d="M10 110l25 12 16 20 23 44 24 58 66 28 9 7 22 5 9 7 18 3 7 6 25 6 30 15 50 33 41 21-18-49-20-42-17-26-14-12-34-18-2 1-50-29-40-20-108-44-56-26zM369 11l-13 12-8 11-19 36-24 64-5 9-16 48 43 20 20 7 4 4-2 5 12 5 14 3 0 8 17 4 2 2-1 5 26 8 7 9 7-2 31 18 5-4 19 13 3 0 4-4 29 18 3-5 3 0 34 19 45-121 23-41 10-12 11-8-279-133z"/>
<path fill="#a6ff59" d="M10 110l25 12 12 14 27 50 21 50 41 18 22 13 29 8 5 5 11 4 13 2 5 5 24 6 7 5 33 15 58 37 28 12-11-32-21-46-14-23-18-18-35-19-2 1-50-29-40-20-108-44-56-26zM369 11l-13 12-8 11-19 36-24 64-5 9-12 37 49 23 3 3 0 6 11 5 22 6 1 8 18 4 0 8 12 2 10 4 2 2-1 5 25 12 8-3 23 15 3 0 1-3 3-1 23 15 4-5 36 21 2 0 2-4 4 0 19 10 41-110 23-41 10-12 11-8-279-133z"/>
<path fill="#bfff40" d="M10 110l25 12 12 14 27 50 19 46 5 0 51 25 27 8 7 6 19 4 13 8 17 3 13 8 28 11 44 28 50 28 0-7-6-17-25-54-15-23-13-12-35-19-7-2-73-41-121-50-56-26zM366 13l-18 21-19 36-24 64-5 9-11 34 47 22 33 11 2 2 0 7 20 5 0 7 21 6 2 2-2 4 4 3 21 8 16 9 3-4 3 0 23 15 4-5 25 16 4-5 2 0 52 30 40-107 23-41 10-12 11-8-279-133z"/>
<path fill="#d9ff26" d="M10 110l25 12 12 14 27 50 16 38 3 0 39 19 29 10 11 8 26 6 8 7 15 2 7 3 4 4 28 10 66 40 7 2 6 5 26 13-8-25-18-39-13-22-17-18-116-63-121-50-56-26zM366 13l-18 21-19 36-24 64-5 9-7 23 39 19 33 12 2 2 0 7 22 6 2 2-1 6 20 5 0 6 4 3 29 11 18 11 8-3 21 14 7-4 24 16 3 0 3-4 4 1 42 23 28-77 19-41 19-28 14-11-279-133z"/>
<path fill="#f2ff0d" d="M10 110l25 12 12 14 27 50 12 29 43 20 13 4 20 12 22 5 9 7 20 4 10 7 16 4 21 9 68 42 7 2 23 13 4 0-9-25-22-44-12-17-16-13-37-18-46-27-40-20-108-44-56-26zM366 13l-18 21-19 36-33 85 26 13 35 14 4 4-2 4 3 3 25 7 2 2-1 6 20 5 2 2 0 6 24 8 17 8 20 13 7-4 20 14 4 1 3-4 2 0 29 18 3 0 3-4 35 17 24-66 19-41 19-28 14-11-279-133z"/>
<path fill="#fff200" d="M10 110l25 12 12 14 12 20 24 52 42 18 23 13 27 8 10 7 22 5 5 5 30 9 39 21 46 29 31 15 1-1-10-26-18-36-10-14-20-17-20-9-72-41-29-14-108-44-56-26zM366 13l-10 10-16 25-15 31-25 66 46 21 3 3 0 6 3 2 33 11 2 2 0 6 20 6 2 2-1 5 14 4 22 9 36 21 6-4 25 16 5-5 36 22 6 1 3-4 20 9 20-56 19-41 19-28 14-11-279-133z"/>
<path fill="#ffd900" d="M10 110l25 12 9 10 15 24 22 47 8 2 45 22 28 9 12 8 24 6 5 5 26 7 35 17 43 27 48 26 0-5-4-11-21-42-10-14-16-14-38-19-73-41-121-50-56-26zM366 13l-10 10-16 25-15 31-20 55-4 7 43 21 38 14 2 2 0 6 22 6 2 3-1 5 28 9 4 3 1 6 10 4 4-3 7 2 29 18 6-4 25 16 2 0 2-4 3 0 41 24 13 5 19-52 19-41 19-28 14-11-279-133z"/>
<path fill="#ffbf00" d="M10 110l25 12 9 10 15 24 19 40 4 0 41 20 31 11 12 8 18 4 13 8 24 6 8 6 35 15 45 28 44 23-6-17-16-32-12-17-17-14-29-14-80-45-121-50-56-26zM366 13l-10 10-16 25-15 31-19 53 50 23 23 8 2 2-1 6 25 8 2 2-1 5 25 8 2 2 0 5 6 4 24 11 3 0 3-3 6 2 24 15 2 0 2-4 4 1 25 16 3 0 2-4 5 1 22 14 22 10 15-42 19-41 19-28 14-11-279-133z"/>
<path fill="#ffa600" d="M10 110l25 12 5 5 19 29 15 32 65 27 12 8 25 7 13 8 20 5 10 6 30 12 62 37 38 19-6-17-16-30-14-17-13-9-18-8-89-50-121-50-56-26zM366 13l-10 10-16 25-15 31-16 42 65 29 4 9 26 8 2 2-1 6 25 8 0 6 38 17 5 4 4 0 4-3 26 16 8-3 25 16 6 2 4-4 39 20 20-51 11-22 19-28 14-11-279-133z"/>
<path fill="#ff8c00" d="M10 110l25 12 16 20 20 38 48 21 17 10 31 10 11 7 23 6 11 7 23 8 31 16 50 31 29 13-2-8-13-26-10-14-17-15-27-13-83-47-121-50-56-26zM356 23l-8 11-19 36-16 41 56 26 3 8 31 11 2 2-1 5 24 8 3 8 26 10 27 15 4-3 4 0 26 16 5-4 34 20 4 1 4-4 23 12 6 0 15-39 15-29 15-21 14-11-279-133-8 4z"/>
<path fill="#ff7300" d="M10 110l25 12 16 20 16 31 37 16 26 14 28 9 14 8 20 5 12 7 34 13 74 43 30 14-8-19-11-18-12-13-10-7-27-13-81-46-121-50-56-26zM356 23l-8 11-19 36-12 29 1 3 43 20 3 8 38 15 2 2 0 5 24 8 3 8 29 11 33 18 3-4 2 0 28 17 6-4 42 24 7-3 16 7 12-31 15-29 15-21 14-11-279-133-8 4z"/>
<path fill="#ff5900" d="M10 110l25 12 16 20 13 25 10 3 44 22 32 11 11 7 27 8 5 4 35 13 110 61-1-6-7-14-11-16-20-16-18-8-88-50-121-50-56-26zM356 23l-16 25-20 45 12 4 19 11 0 4 13 7 37 14 3 3 0 5 24 8 2 2 0 5 31 12 38 21 4-3 5 1 27 16 5-4 47 26 12 4 10-26 15-29 15-21 14-11-279-133-8 4z"/>
<path fill="#ff4000" d="M10 110l25 12 12 14 14 25 4 0 36 18 42 16 10 6 23 7 11 6 33 12 114 63-5-14-14-19-7-6-33-17-6-5-49-28-49-24-71-28-84-38zM356 23l-16 25-18 40 47 22 32 12 3 3 1 5 24 9 3 3-1 3 5 3 27 10 43 23 6-3 27 16 4 1 3-3 4 1 50 27 3-1 17-38 12-19 10-12 11-8-279-133-8 4z"/>
<path fill="#ff2600" d="M10 110l25 12 12 14 10 18 4 0 32 16 41 16 15 8 25 8 8 5 33 12 30 15 43 26 42 22-1-6-7-11-16-16-33-17-9-7-55-31-52-24-85-34-56-26zM326 77l3 3 31 15 44 18 3 7 26 10 2 2-1 3 4 3 29 11 32 16 6 5 5 2 8-2 29 17 4-2 7 1 47 25 2-1 13-29 12-19 10-12 11-8-279-133-8 4-18 21z"/>
<path fill="#ff0d00" d="M10 110l25 12 12 14 6 11 4 0 52 25 92 36 26 12 86 49 14 6-10-16-10-9-27-14-16-11-55-31-52-24-85-34-56-26zM330 68l3 3 34 16 41 17 3 7 26 10 3 3-1 2 8 5 28 11 37 20 9-1 30 16 11 0 47 25 23-40 10-12 11-8-279-133-8 4-10 10-8 11z"/>
<path fill="#f20000" d="M10 110l25 12 14 18 3 0 50 24 69 27 43 19 30 15 53 31 25 12-4-7-10-10-9-6-18-8-17-12-55-31-52-24-85-34-56-26zM334 60l57 27 23 9 4 7 27 11 2 5 6 4 19 7 41 21 9-1 31 17 7-2 54 28 10-19 18-24 11-8-279-133-8 4-10 10-8 11z"/>
<path fill="#d90000" d="M10 110l25 12 11 12 178 79 92 48-5-7-11-8-21-10-15-11-71-39-121-50-56-26zM340 48l37 17 4 3 0 2 10 6 34 15 4 6 26 11 5 7 44 21 9 3 5-1 31 16 9 0 47 23 5-1 10 5 19-28 14-11-279-133-8 4-10 10z"/>
<path fill="#bf0000" d="M10 110l25 12 7 7 3 0 145 67 117 57-8-7-26-13-9-8-71-39-121-50-56-26zM346 38l1 2 57 27 5 6 30 14 5 6 30 13 19 12 20 6 27 15 14 2 34 17 4-1 11 4 21 11 2 0 13-19 14-11-279-133-8 4-10 10z"/>
<path fill="#a60000" d="M10 110l25 12 4 4 3 0 135 63 112 55 4 0-21-11-3-5-76-42-121-50-56-26zM351 30l75 36 11 9 24 11 9 8 54 26 18 4 18 10 17 4 53 26 12-14 11-8-279-133-8 4z"/>
<path fill="#8c0000" d="M10 110l263 124-9-9-71-39-121-50-56-26zM360 19l1 2 74 36 11 8 21 10 18 12 42 20 23 7 24 12 15 4 50 24 14-12-279-133-8 4z"/>
</g>
<g class="ax">
<path d="M819.7 834.7L897.5 871.7"/>
<path d="M897.5 871.7L998.5 843.6"/>
<path d="M819.7 834.7L819.7 754.5"/>
<path d="M998.5 843.6L998.5 763.4"/>
<path d="M819.7 754.5L897.5 791.5"/>
<path d="M897.5 791.5L998.5 763.4"/>
<path d="M897.5 871.7L897.5 791.5"/>
<path d="M858.6 853.2L862.1 852.2"/>
<path d="M948 857.7L945.2 856.4"/>
<path d="M897.5 871.7L894.6 872.5"/>
<path d="M897.5 871.7L900.2 873"/>
<path d="M819.7 834.7L816.8 835.5"/>
<path d="M998.5 843.6L1001.2 844.9"/>
<path d="M819.7 794.6L817.3 795.3"/>
<path d="M819.7 754.5L817.3 755.2"/>
</g>
<g class="tk"><text x="817.1" y="837.7" text-anchor="end">0</text><text x="816.6" y="797.8" text-anchor="end">0.5</text><text x="816" y="757.2" text-anchor="end">1</text><text x="816.8" y="846.5" text-anchor="end">90</text><text x="852.2" y="865.2" text-anchor="middle">0</text><text x="892.3" y="883.1" text-anchor="end">-90</text><text x="901.5" y="883.5">-45</text><text x="953.6" y="869.6" text-anchor="middle">0</text><text x="1002" y="855.6">45</text><text x="887.6" y="874.4" text-anchor="end">Orientation Angle</text><text x="921.2" y="879.5">Ellipticity Angle</text></g>
</g>
<!-- plot m -->
<g>
<g class="ax">
<path d="M291.5 1056.9L392.9 1028.8"/>
<path d="M392.9 1028.8L470.9 1065.8"/>
<path d="M392.9 1028.8L392.9 948.6"/>
<path d="M291.5 976.7L392.9 948.6"/>
<path d="M392.9 948.6L470.9 985.6"/>
<path d="M291.5 1016.8L392.9 988.7" class="d"/>
<path d="M392.9 988.7L470.9 1025.7" class="d"/>
<path d="M342.2 1042.9L342.2 962.7" class="d"/>
<path d="M431.9 1047.3L431.9 967.1" class="d"/>
<path d="M420.2 1079.9L342.2 1042.9" class="d"/>
<path d="M330.5 1075.4L431.9 1047.3" class="d"/>
</g>
<g transform="translate(298 960) scale(.25)" fill-rule="evenodd">
<path fill="#00008c" d="M9 328l127 60 28 17 51 39 32 17 20 5 24-2 25-12 31-29 35-44 20-5 19-9 38-25 29-22 20-12 22-10 15-3 11 0 14 3 85 40-23-28-71-113-18-24-21-20-13-8-11-3-13 0-15 6-9 6-20 21-17 24-12 22-2 1-10-4-24-16-22-24-21-30-51-82-20-25-24-22-20-9-19 2-15 8-22 22-12 17-32 56-61 133-31 57z"/>
<path fill="#0000a6" d="M9 328l127 60 28 17 51 39 32 17 20 5 24-2 25-12 31-29 35-44 20-5 19-9 38-25 29-22 20-12 22-10 15-3 11 0 14 3 85 40-23-28-71-113-18-24-21-20-13-8-11-3-13 0-15 6-9 6-20 21-17 24-12 22-2 1-10-4-24-16-22-24-21-30-51-82-20-25-24-22-20-9-19 2-15 8-22 22-12 17-32 56-61 133-31 57z"/>
<path fill="#0000bf" d="M280 428l-4 4-14 5-13-1-3-2 5-3 24-4zM333 361l-1 5-3 2 0-4zM9 328l140 67 66 49 32 17 36 0 5 2 4-1 6-5 13-3 8-4 41-42 19-26 10-8 19-3 13-6 38-25 29-22 20-12 22-10 15-3 11 0 14 3 85 40-23-28-71-113-18-24-21-20-13-8-11-3-13 0-15 6-9 6-20 21-17 24-12 22-2 1-10-4-24-16-22-24-21-30-51-82-20-25-24-22-20-9-19 2-15 8-22 22-12 17-32 56-61 133-31 57z"/>
<path fill="#0000d9" d="M298 413l0 2-13 13-12 7-11 3-13 0-15-5-9-7 5-3 28-7 30-4zM344 343l-8 19-6 8-11-2-4-4 1-5 10-9 13-7zM9 328l140 67 66 49 16 9 26 5 21 0 10 4 4-1 9-9 8-2 21-10 30-32 19-26 13-12 33-8 8-4 55-40 20-12 22-10 15-3 11 0 14 3 85 40-23-28-71-113-18-24-21-20-13-8-11-3-13 0-15 6-9 6-20 21-17 24-12 22-2 1-10-4-24-16-22-24-21-30-51-82-20-25-24-22-20-9-19 2-15 8-22 22-12 17-32 56-61 133-31 57z"/>
<path fill="#0000f2" d="M310 399l-9 15-16 15-20 9-6 1-16-2-27-12-8-6 6-5 38-10 30-5zM352 329l-10 23-12 19-11-1-13-7-2-7 2-4 10-9 24-12 9-3zM9 328l140 67 65 48 35 10 16 0 22 8 4 0 12-14 38-18 19-21 19-26 16-16 45-13 48-35 20-12 22-10 15-3 11 0 14 3 85 40-23-28-71-113-18-24-21-20-13-8-11-3-13 0-15 6-9 6-20 21-17 24-12 22-2 1-10-4-24-16-22-24-21-30-51-82-20-25-24-22-20-9-19 2-15 8-22 22-12 17-32 56-61 133-31 57z"/>
<path fill="#000dff" d="M322 381l-4 10-16 23-15 14-19 10-20 1-14-4-24-12-19-12 2-3 11-5 41-11 59-11zM358 316l-7 19-15 29-6 8-9 1-11-3-15-10-2-4 1-6 12-13 30-16 7-1 10-5zM9 328l140 67 44 33 14 8 27 10 28 4 26 11 6-4 15-18 13-5 29-16 32-39 0-2 17-17 50-14 38-28 20-12 22-10 15-3 11 0 14 3 85 40-23-28-71-113-18-24-21-20-13-8-11-3-13 0-15 6-9 6-20 21-17 24-12 22-2 1-10-4-24-16-22-24-21-30-51-82-20-25-24-22-20-9-19 2-15 8-22 22-12 17-32 56-61 133-31 57z"/>
<path fill="#0026ff" d="M365 303l-20 45-22 37-19 27-16 16-9 6-18 6-11 0-12-3-46-22-18-12 4-4 17-7 52-13 30-10 6-7 0-16 11-13 17-11 20-8 3-3 26-9zM9 328l127 60 28 17 27 20 33 14 37 9 26 12 3 0 22-27 20-9 28-17 24-32 16-17 13-6 48-14 40-28 29-14 15-3 11 0 14 3 85 40-23-28-71-113-18-24-21-20-13-8-11-3-13 0-15 6-9 6-20 21-17 24-12 22-2 1-10-4-24-16-22-24-21-30-51-82-20-25-24-22-20-9-19 2-15 8-22 22-12 17-32 56-61 133-31 57z"/>
<path fill="#0040ff" d="M371 290l-22 51-26 45-20 28-13 13-16 10-10 3-17 0-15-4-58-29-13-8-3-4 2-4 10-5 79-22 13-7 4-4 8-15 11-11 19-13 7-2 15-9 15-4 4-3 24-7zM9 328l140 67 25 18 3 0 16 9 28 12 30 9 38 17 28-35 29-14 22-14 17-24 21-21 5-3 61-19 29-20 29-14 15-3 11 0 14 3 85 40-23-28-71-113-18-24-21-20-13-8-11-3-13 0-15 6-9 6-20 21-17 24-12 22-2 1-10-4-24-16-22-24-21-30-51-82-20-25-24-22-20-9-19 2-15 8-22 22-12 17-32 56-61 133-31 57z"/>
<path fill="#0059ff" d="M9 328l71 33 22 12 20 8 24 13-8-8 4-6 18-6 59-14 19-7 14-8 19-20 9-7 28-17 24-9 2-3 8-1 4-3 7-1 11-5 12-2 1 3-34 73-31 50-10 13-21 18-17 7-12 0 1 2 36 16 9-10 16-24 8-8 25-12 30-20 8-13 24-24 18-8 55-17 26-17 22-10 15-3 11 0 14 3 85 40-23-28-71-113-18-24-21-20-13-8-11-3-13 0-15 6-9 6-20 21-17 24-12 22-2 1-10-4-24-16-22-24-21-30-51-82-20-25-24-22-20-9-19 2-15 8-22 22-12 17-32 56-61 133-31 57z"/>
<path fill="#0073ff" d="M13 322l55 25 24 13 22 5 32-1 48-10 41-14 14-9 19-17 25-16 17-7 17-10 55-18 2 2-8 20-41 83-30 45-18 18-13 9 0 2 7 7 10 5 8-8 27-37 16-7 30-18 35-36 7-5 21-10 57-17 16-10 22-10 15-3 11 0 14 3 85 40-23-28-71-113-18-24-21-20-13-8-11-3-13 0-15 6-9 6-20 21-17 24-12 22-2 1-10-4-24-16-22-24-21-30-51-82-20-25-24-22-20-9-19 2-15 8-22 22-12 17-32 56-61 133-31 57z"/>
<path fill="#008cff" d="M20 311l4 5 52 25 8 0 12 6 8 0 15 4 19 0 31-4 31-7 32-13 28-20 43-25 9-2 2-3 5-1 3-3 4 0 3-3 15-4 3-3 36-12 5 0 1 4-7 18-45 92-24 38-24 28 0 5 2 3 7 4 8-8 22-32 52-30 28-27 12-9 29-13 56-16 25-12 15-3 11 0 14 3 85 40-23-28-71-113-18-24-21-20-13-8-11-3-13 0-15 6-9 6-20 21-17 24-12 22-2 1-10-4-24-16-22-24-21-30-51-82-20-25-24-22-20-9-19 2-15 8-22 22-12 17-32 56-61 133-23 43z"/>
<path fill="#00a6ff" d="M26 302l9 4 4 6 28 13 9 0 15 8 4-1 8 4 6-1 3 2 5-1 4 2 21 0 25-3 46-12 22-11 15-11 42-24 3 0 2-3 9-2 11-7 4 0 10-6 14-4 5-4 4 0 12-6 30-9 1 4-50 107-22 39-27 38 1 4 5 5 5-4 18-28 7-7 44-25 44-36 31-15 33-10 36-8 17-6 24 0 21 8 16 9 55 25-23-28-71-113-18-24-21-20-13-8-11-3-13 0-15 6-9 6-20 21-17 24-12 22-2 1-10-4-24-16-22-24-21-30-51-82-20-25-24-22-20-9-19 2-15 8-22 22-12 17-29 50-59 129z"/>
<path fill="#00bfff" d="M650 331l-18-23-56-91-33-46-21-20-13-8-11-3-17 1-20 11-16 16-21 29-12 22-4 0-64 134-21 37-13 18-3 10 3 5 4-3 17-27 8-8 53-31 39-30 21-10 39-12 40-8 32 0 34 12zM392 211l-16-11-22-24-21-30-51-82-20-25-16-16-11-8-13-6-15-1-8 2-19 11-18 19-12 17-29 50-59 129-30 55 2 4 25 12 6 1 22 12 4-2 9 5 5-1 5 3 5-1 4 2 3-2 6 2 33-2 18-3 39-13 65-37 3 0 13-8 4 0 2-3 5 0 8-6 4 0 9-4 1-2 13-4 3-3 38-16 8-7z"/>
<path fill="#00d9ff" d="M645 324l-13-16-56-91-33-46-21-20-13-8-11-3-17 1-20 11-16 16-21 29-12 22-3 0-62 129-33 57 0 5 2 3 5-5 17-27 11-8 44-25 45-32 44-17 47-9 29 0 33 9zM381 204l-27-28-21-30-51-82-20-25-16-16-11-8-13-6-15-1-8 2-19 11-18 19-12 17-29 50-59 129-25 46 5 3 0 3 24 9 18 10 6-1 8 5 6-1 5 3 4-2 12 3 15 0 8-2 8 1 26-5 27-8 29-14 32-19 7-2 19-11 3 0 3-3 8-2 47-22 19-11 5-7z"/>
<path fill="#00f2ff" d="M638 316l-18-26-44-73-33-46-21-20-13-8-11-3-17 1-20 11-16 16-21 29-12 22-3 0-51 107-38 71 0 5 6-4 13-21 10-10 52-30 38-26 14-7 33-11 35-7 39 0 31 8zM372 196l-23-27-67-105-20-25-16-16-11-8-13-6-15-1-8 2-19 11-18 19-12 17-29 50-59 129-20 37 5 1 4 7 20 7 11 7 7-1 8 5 7-1 4 3 38 1 21-2 18-4 44-17 7-5 7-2 23-13 3 0 2-3 8-2 3-3 19-8 4-4 9-2 9-6 20-8 23-14 5-6z"/>
<path fill="#0dfff2" d="M633 309l-57-92-33-46-21-20-13-8-11-3-17 1-20 11-16 16-21 29-12 22-3 1-21 41-35 76-27 51 1 5 15-23 9-10 47-27 43-28 17-8 29-10 32-6 41 0 31 8 26 11zM364 187l-10-11-21-30-51-82-20-25-16-16-11-8-13-6-15-1-8 2-19 11-18 19-12 17-32 56-40 89-31 62 7 2 3 6 16 6 10 6 6-2 9 6 6-1 5 3 3-2 4 2 6-1 3 2 50-4 38-12 30-14 7-5 3 0 3-3 8-2 14-9 3 0 8-5 4 0 2-3 4 0 1-2 5-1 7-5 4 0 2-3 21-9 22-15 3-6z"/>
<path fill="#26ffd9" d="M628 301l-52-84-33-46-21-20-13-8-11-3-17 1-20 11-16 16-21 29-12 22-5 5-57 120-16 29-2 9 17-24 10-9 80-48 26-12 21-7 42-7 31 1 30 7 28 12 10 7zM358 180l-25-34-51-82-20-25-16-16-11-8-13-6-15-1-8 2-19 11-18 19-12 17-32 56-40 89-25 50 1 4 8 2 1 5 19 9 5-2 10 6 7-1 4 3 7-1 2 2 5-1 4 2 26-1 35-6 21-7 26-13 3 0 3-3 4 0 2-3 9-2 2-3 9-3 2-3 10-2 2-3 4 0 1-2 11-4 2-3 2 1 3-3 4 0 2-3 19-8 24-15 5-7z"/>
<path fill="#40ffbf" d="M623 294l-47-77-33-46-21-20-13-8-11-3-17 1-20 11-16 16-21 29-12 22-3 2-21 41-51 110 3-2 15-23 7-6 90-52 35-13 24-5 22-2 30 2 30 8zM351 171l-18-25-51-82-20-25-16-16-11-8-13-6-15-1-8 2-19 11-18 19-12 17-32 56-60 130 3 5 8 2 1 5 10 5 6-2 12 7 7-1 4 3 7-1 2 2 6-1 22 2 41-7 45-17 3-3 3 0 9-6 4 0 9-6 9-2 1-3 11-3 8-6 2 1 3-3 4 0 2-3 14-5 28-17 7-7 2-4z"/>
<path fill="#59ffa6" d="M619 287l-43-70-33-46-21-20-13-8-11-3-17 1-20 11-16 16-21 29-12 22-4 4-17 33-46 98-2 8 15-22 13-11 62-36 29-14 20-7 38-8 32 0 5 2 15 1 9 4 8 1zM345 162l-12-16-51-82-20-25-16-16-21-13-7-2-19 2-15 8-15 14-15 19-36 62-55 121 2 1 1 4 7 1 7 6 5 0 14 8 6-1 5 3 6-1 3 2 6-1 22 2 38-7 23-7 6-4 4 0 3-3 5 0 12-7 9-2 2-3 11-3 2-3 4 0 8-6 4 0 8-5 9-2 7-6 8-2 3-4 6-1 24-18 2-5z"/>
<path fill="#73ff8c" d="M614 279l-38-62-33-46-21-20-13-8-11-3-17 1-20 11-16 16-21 29-14 23-22 43-40 89 14-21 17-13 52-30 22-11 30-11 33-7 34-1 5 2 16 1 5 3 8 1 11 4 18 11zM340 155l-58-91-20-25-16-16-21-13-7-2-19 2-15 8-15 14-15 19-36 62-51 112 2 0 1 4 16 5 14 9 6-2 6 5 6-2 2 2 5-1 4 2 3-2 3 2 7 0 41-6 26-8 7-4 4 0 4-3 4 0 2-3 4 0 5-4 4 0 3-3 11-3 2-3 4 0 8-6 16-5 2-3 8-2 2-3 13-5 22-15 5-7z"/>
<path fill="#8cff73" d="M611 274l-35-57-33-46-21-20-13-8-11-3-17 1-20 11-16 16-21 29-14 23-20 39-37 83 14-21 10-8 72-40 40-15 40-6 32 2 28 7zM335 148l-53-84-20-25-16-16-21-13-7-2-19 2-19 11-18 19-12 17-29 50-50 108 4 2 1 4 10 2 17 10 5-2 4 3 6-1 3 2 6-1 4 2 21-2 8 1 25-5 21-8 6 0 4-4 16-4 1-3 7-1 1-2 6-1 2-3 5 0 3-3 9-2 3-4 4 0 1-2 4 0 2-3 4 0 5-2 2-3 8-2 23-14 11-12z"/>
<path fill="#a6ff59" d="M606 267l-30-50-33-46-21-20-13-8-11-3-17 1-20 11-16 16-21 29-36 67-30 68 10-16 7-7 23-15 55-29 44-15 29-4 32 1 29 8zM330 140l-48-76-20-25-16-16-11-8-13-6-15-1-8 2-19 11-18 19-12 17-32 56-42 93 4 2 0 3 13 4 10 7 7-2 5 4 5-2 5 3 34-1 40-8 7-5 11-1 2-3 7-1 3-3 6-1 2-3 5 0 2-3 6 0 2-3 5 0 2-3 4 0 2-3 16-5 7-6 3 0 3-3 14-6 17-13 3-4z"/>
<path fill="#bfff40" d="M601 258l-40-63-18-24-15-15-15-11-10-4-22 0-20 11-16 16-21 29-35 65-26 59 16-21 25-16 37-20 48-18 31-6 28 0 3 2 16 1 8 4 8 1zM325 133l-43-69-20-25-16-16-11-8-13-6-15-1-8 2-19 11-18 19-12 17-29 50-41 90 4 1 1 4 10 3 12 7 5-2 4 3 7-1 3 2 5-1 15 2 3-2 3 1 27-4 23-7 5 0 5-4 9-1 2-3 8-1 2-3 5 0 4-4 5 0 2-3 6 0 1-3 5 0 2-3 7-3 2 1 33-18 16-13z"/>
<path fill="#d9ff26" d="M597 252l-36-57-18-24-15-15-15-11-10-4-22 0-20 11-16 16-21 29-30 55-25 58 13-18 24-16 50-25 36-12 21-4 34-1 32 7 9 4zM320 124l-46-71-28-30-11-8-13-6-15-1-8 2-19 11-18 19-12 17-29 50-37 80 4 1 2 5 17 8 4-3 9 5 4-2 3 2 5-1 2 2 45-4 22-8 13-2 3-3 10-2 2-3 6 0 3-3 5 0 3-4 5 0 2-3 5 0 2-3 16-5 2-3 13-5 24-17 4-7z"/>
<path fill="#f2ff0d" d="M593 245l-40-61-25-28-15-11-10-4-22 0-20 11-16 16-17 23-15 25-23 45-16 39 12-17 18-12 48-25 35-12 23-5 35-1 32 7zM315 116l-41-63-28-30-11-8-13-6-15-1-8 2-19 11-18 19-12 17-32 56-28 60 0 5 5 2 0 4 13 6 5-3 8 5 5-1 3 2 27 0 46-9 8-5 22-6 2-3 6 0 2-3 7-1 1-3 5 0 2-3 10-2 33-18 12-11z"/>
<path fill="#fff200" d="M588 237l-35-53-25-28-19-13-11-3-13 0-7 2-17 10-16 16-10 13-22 35-23 46-10 25 3-5 16-14 36-20 35-15 29-8 29-4 17 2 5-1 26 7zM310 108l-36-55-28-30-11-8-13-6-15-1-8 2-19 11-26 30-33 56-27 59 1 3 5 2 2 5 7 3 7-2 7 5 5-2 3 2 5-1 4 2 12 0 43-8 18-5 5-4 8-1 5-4 6 0 2-3 5 0 4-4 5 0 2-3 10-2 20-11 18-12 5-6z"/>
<path fill="#ffd900" d="M583 229l-36-53-19-20-19-13-11-3-13 0-7 2-17 10-16 16-10 13-22 35-20 40-8 21 11-13 28-17 29-14 35-12 27-5 25-1 4 2 5-1 3 2 7 0 12 4zM306 102l-32-49-28-30-11-8-13-6-15-1-8 2-19 11-26 30-33 56-23 49 2 4 7 3-1 2 2 2 9-1 7 5 5-2 4 3 4-2 4 2 24-1 36-7 10-6 8 0 6-4 8-1 4-4 5 0 4-4 10-2 2-3 4 0 8-6 11-4 21-16z"/>
<path fill="#ffbf00" d="M579 222l-32-46-19-20-19-13-11-3-13 0-7 2-17 10-16 16-10 13-22 35-2 7-18 34-3 10 9-11 26-16 27-13 38-13 24-4 25-1 20 3zM301 94l-27-41-28-30-11-8-13-6-15-1-8 2-19 11-26 30-33 56-19 40 2 3 6 1 16 9 6-1 3 2 5-1 15 2 3-2 3 1 9-1 3-2 11 0 14-6 17-3 6-4 18-5 2-3 5 0 2-3 5 0 3-3 4 0 2-3 3 0 1-2 12-5 16-11 6-9z"/>
<path fill="#ffa600" d="M574 215l-27-39-19-20-19-13-11-3-13 0-7 2-17 10-20 21-28 43-19 41 11-11 23-14 32-15 36-11 21-3 21 0 18 3zM296 86l-22-33-28-30-11-8-13-6-15-1-8 2-19 11-26 30-33 56-14 31 3 4 6 1 12 7 5-2 4 3 3-2 4 2 20-1 7-2 4 1 8-3 17-2 11-6 13-2 4-4 6 0 3-3 14-4 1-3 4 0 3-3 12-4 23-18z"/>
<path fill="#ff8c00" d="M569 207l-26-36-21-20-19-10-18-1-7 2-17 10-16 16-24 34-9 16 0 4-12 24 8-8 32-19 28-11 33-9 13-2 23 0 18 3zM292 80l-18-27-28-30-11-8-13-6-15-1-8 2-19 11-18 19-20 30-31 58 4 2 0 3 14 6 6-2 4 3 11-1 4 2 2-2 17 0 15-3 6-3 24-5 5-4 7 0 3-4 6 0 2-3 6-1 14-8 3 0 20-13 5-6z"/>
<path fill="#ff7300" d="M565 201l-22-30-21-20-19-10-18-1-7 2-17 10-16 16-24 34-9 16 0 5-7 14 10-10 35-19 43-14 27-4 15 1 21 4zM287 72l-25-33-24-22-20-9-19 2-19 11-18 19-20 30-21 37-5 12 11 8 5 1 3-2 5 3 5-1 3 2 7 0 3-2 10 1 16-4 19-2 13-7 7 0 5-4 8-1 2-3 11-3 3-3 18-8 13-10z"/>
<path fill="#ff5900" d="M560 194l-17-23-21-20-19-10-18-1-7 2-17 10-16 16-24 34-9 16 1 4-2 4 8-7 22-13 51-18 16-3 32 0 13 4zM282 64l-20-25-16-16-11-8-17-7-19 2-19 11-18 19-20 30-21 39 5 2 4 5 6-1 6 4 4-2 3 2 15 0 5-2 6 1 11-2 25-8 7 0 5-4 8-1 2-3 7-1 1-2 5-1 22-12 10-9z"/>
<path fill="#ff4000" d="M554 186l-11-15-21-20-19-10-18-1-7 2-17 10-16 16-21 29-11 19 0 3 24-17 16-8 32-11 39-5 17 2zM277 58l-15-19-16-16-11-8-17-7-19 2-19 11-18 19-20 30-15 30 17 8 3-2 3 2 21 0 40-8 5-4 10-1 2-3 14-4 2-3 3 0 13-7 13-10z"/>
<path fill="#ff2600" d="M549 179l-21-23-15-11-15-5-17 1-20 11-16 16-17 23-15 25 12-12 10-7 17-9 25-9 38-7 23 2zM271 50l-25-27-11-8-17-7-19 2-19 11-18 19-30 48 3 5 7 3 7-1 4 3 20-1 11-3 4 1 18-6 12-2 3-3 8-1 4-4 5 0 1-2 13-5 15-11z"/>
<path fill="#ff0d00" d="M544 173l-16-17-15-11-15-5-17 1-20 11-16 16-26 38 23-19 44-17 30-4 14 1zM266 44l-20-21-11-8-17-7-19 2-15 8-15 14-15 19-17 28 15 7 6-1 3 2 25-2 7-3 9-1 9-4 12-2 3-3 4 0 20-10 12-9z"/>
<path fill="#f20000" d="M538 166l-16-15-13-8-11-3-17 1-20 11-16 16-21 29 25-20 40-14 12-2 21 0zM260 37l-14-14-21-13-7-2-19 2-15 8-15 14-15 19-10 17 4 5 13 3 19-1 24-4 13-6 7-1 25-13 6-5z"/>
<path fill="#d90000" d="M531 159l-22-16-11-3-17 1-20 11-16 16-13 18 20-16 38-13 27-2zM253 30l-15-13-13-7-7-2-19 2-19 11-18 19-13 19 12 5 5-1 3 2 16-1 22-5 31-13 14-12z"/>
<path fill="#bf0000" d="M524 153l-11-8-10-4-22 0-20 11-22 24 17-13 26-10 14-3 19 0zM246 23l-11-8-13-6-15-1-8 2-19 11-18 19-5 8 11 5 14 0 29-6 22-10 11-9z"/>
<path fill="#a60000" d="M516 147l-18-7-17 1-20 11-14 14 14-10 23-9 11-2zM237 17l-19-9-19 2-19 11-14 16 6 4 30-3 16-5 18-12z"/>
<path fill="#8c0000" d="M503 141l-22 0-21 12 24-10zM226 11l-8-3-19 2-15 8-7 7 5 3 20-2 19-8z"/>
</g>
<g class="ax">
<path d="M291.5 1056.9L369.5 1093.9"/>
<path d="M369.5 1093.9L470.9 1065.8"/>
<path d="M291.5 1056.9L291.5 976.7"/>
<path d="M470.9 1065.8L470.9 985.6"/>
<path d="M291.5 976.7L369.5 1013.7"/>
<path d="M369.5 1013.7L470.9 985.6"/>
<path d="M369.5 1093.9L369.5 1013.7"/>
<path d="M330.5 1075.4L334 1074.4"/>
<path d="M420.2 1079.9L417.4 1078.6"/>
<path d="M369.5 1093.9L366.6 1094.7"/>
<path d="M369.5 1093.9L372.2 1095.2"/>
<path d="M291.5 1056.9L288.6 1057.7"/>
<path d="M470.9 1065.8L473.6 1067.1"/>
<path d="M291.5 1016.8L289.1 1017.5"/>
<path d="M291.5 976.7L289.1 977.4"/>
</g>
<g class="tk"><text x="288.9" y="1059.9" text-anchor="end">0</text><text x="288.4" y="1020" text-anchor="end">0.5</text><text x="287.8" y="979.4" text-anchor="end">1</text><text x="288.6" y="1068.7" text-anchor="end">90</text><text x="324.1" y="1087.4" text-anchor="middle">0</text><text x="364.3" y="1105.3" text-anchor="end">-90</text><text x="373.5" y="1105.7">-45</text><text x="425.8" y="1091.8" text-anchor="middle">0</text><text x="474.4" y="1077.8">45</text><text x="359.6" y="1096.6" text-anchor="end">Orientation Angle</text><text x="393.2" y="1101.7">Ellipticity Angle</text></g>
</g>
<!-- plot n -->
<g>
<g class="ax">
<path d="M557.5 1056.9L658.7 1028.8"/>
<path d="M658.7 1028.8L736.5 1065.8"/>
<path d="M658.7 1028.8L658.7 948.6"/>
<path d="M557.5 976.7L658.7 948.6"/>
<path d="M658.7 948.6L736.5 985.6"/>
<path d="M557.5 1016.8L658.7 988.7" class="d"/>
<path d="M658.7 988.7L736.5 1025.7" class="d"/>
<path d="M608.1 1042.9L608.1 962.7" class="d"/>
<path d="M697.6 1047.3L697.6 967.1" class="d"/>
<path d="M685.9 1079.9L608.1 1042.9" class="d"/>
<path d="M596.4 1075.4L697.6 1047.3" class="d"/>
</g>
<g transform="translate(564 964) scale(.25)" fill-rule="evenodd">
<path fill="#00008c" d="M9 381l283 134 7 0 9-4 14-14 28-50 19-50 34-103 48 38 35 21 37 13 55 14 39 15 36 17-9-5-9-8-19-28-26-54-42-104-23-44-15-18-18-11-34-12-82-18-42-15-29-19-49-44-25-16-18-8-7 0-11 5-13 12-12 18-20 41-19 51-50 151-9 23-18 36-11 17-12 13-8 5-8 2z"/>
<path fill="#0000a6" d="M39 366l2 3 19 9 41 32 41 23 54 25 31 11 11 2 9 5 5 0 13 5 6 0 11 6 10 1 26 13 12-16 20-38 19-50 34-103 48 38 35 21 37 13 55 14 39 15 30 14-12-10-19-28-26-54-42-104-23-44-15-18-18-11-34-12-82-18-42-15-29-19-49-44-25-16-18-8-7 0-11 5-13 12-12 18-11 22-21 50-60 179-24 51z"/>
<path fill="#0000bf" d="M46 357l23 11 4 5 9 4 5 6 7 3 3 5 8 3 5 6 10 4 11 9 72 34 11 2 17 8 7 0 13 7 5-1 14 7 10 1 12 6 4-1 30 15 16-28 16-36 45-133 48 38 20 12 44 16 71 21 53 21-11-12-12-19-26-54-42-104-23-44-15-18-18-11-34-12-82-18-42-15-29-19-49-44-25-16-18-8-7 0-11 5-13 12-12 18-11 22-21 50-60 179-24 51z"/>
<path fill="#0000d9" d="M182 25l-12 18-20 41-19 51-50 151-9 23-19 37 12 6 7 7 11 4 5 7 5 1 7 7 8 3 4 6 11 5 5 6 18 7 8 8 22 11 13 5 12 2 22 12 7-1 17 9 3-2 15 8 4-2 16 8 9 0 17 9 9 0 12 7 10-16 16-36 45-133 34 27 32 18 36 14 87 26 40 17-16-25-26-54-42-104-23-44-15-18-18-11-34-12-82-18-42-15-29-19-49-44-25-16-15-7-13 0-11 6z"/>
<path fill="#0000f2" d="M182 25l-12 18-24 51-65 192-9 23-15 29 19 7 4 3 2 5 13 5 1 4 11 5 2 5 9 3 2 5 15 6 2 5 50 22 25 14 8 3 6-1 18 10 6-2 14 8 7-1 14 8 5-2 15 9 10 0 22 12 13-24 11-28 42-125 2 2 3-2 35 27 31 16 33 12 38 10 43 14 40 16-12-18-26-54-42-104-23-44-15-18-18-11-34-12-82-18-42-15-29-19-49-44-25-16-15-7-13 0-11 6z"/>
<path fill="#000dff" d="M182 25l-12 18-24 51-57 170-17 45-10 20 22 9 4 3 2 5 12 4 2 6 9 2 3 6 11 4 0 4 2 2 13 4 2 5 7 4 28 11 37 20 11 0 17 10 6-2 16 9 5-2 13 8 6-2 17 10 7-2 28 16 8-16 19-50 33-102 3 0 2-3 5 2 17 14 17 11 32 15 16 4 7 4 8 1 11 5 6 0 10 5 7 0 11 5 12 2 58 23-8-12-26-54-42-104-23-44-15-18-18-11-34-12-82-18-42-15-29-19-49-44-25-16-15-7-13 0-11 6z"/>
<path fill="#0026ff" d="M182 25l-12 18-24 51-57 170-17 45-6 11 27 11 1 6 12 3 3 3 0 4 10 2 2 2 0 5 10 2 3 3 0 4 15 5 2 2 0 4 45 19 24 14 7-2 19 11 7-2 14 9 7-2 15 9 4-3 16 10 5-2 5 1 27 15 4-6 19-50 33-102 2 0 4-6 25 18 45 22 8 1 13 6 12 2 4 3 13 2 6 4 7 0 11 5 12 2 6 4 19 5 31 14-30-60-42-104-23-44-15-18-18-11-34-12-82-18-42-15-29-19-49-44-25-16-15-7-13 0-11 6z"/>
<path fill="#0040ff" d="M182 25l-12 18-24 51-57 170-17 43 0 5 25 10 1 6 14 4 1 6 10 2 2 2-1 4 13 4 0 5 2 2 8 1 8 5 0 4 29 11 40 22 8-2 18 11 6-3 15 10 5-3 15 9 7-2 15 10 8-2 29 16 19-47 33-102 2 0 5-9 25 17 35 17 20 5 5 4 13 2 6 4 11 1 6 4 10 1 6 4 14 2 6 4 19 5 31 14-26-53-42-104-23-44-11-14-9-8-13-7-34-12-82-18-42-15-29-19-49-44-25-16-15-7-13 0-11 6z"/>
<path fill="#0059ff" d="M182 25l-12 18-24 51-57 170-15 38 24 9 3 3-1 4 15 4 0 6 11 3 3 7 11 2 0 6 16 5 1 6 36 14 38 21 6-3 19 12 3-3 3 0 14 9 5-3 15 10 6-3 17 11 3 0 2-3 4 1 25 14 3-2 13-35 33-102 2 0 6-12 15 10 39 20 18 4 8 5 11 1 7 5 10 0 7 5 12 1 4 4 14 2 6 4 18 4 12 7 21 7-22-45-42-104-23-44-11-14-9-8-13-7-34-12-82-18-42-15-29-19-49-44-25-16-15-7-13 0-11 6z"/>
<path fill="#0073ff" d="M182 25l-12 18-24 51-57 170-11 28 22 9 2 2 0 5 14 3 3 8 10 2 2 2 0 5 11 2 2 7 13 3 2 2-1 4 5 3 20 6 15 7 39 22 7-3 18 12 4-4 15 10 7-3 14 10 2 0 3-4 21 13 4-4 26 14 11-28 33-102 2 0 0-3 7-12 49 26 16 3 9 6 12 1 7 5 10 0 7 5 9 0 7 5 12 1 7 5 19 4 7 5 26 9-18-38-42-104-23-44-11-14-9-8-13-7-34-12-82-18-42-15-29-19-49-44-25-16-15-7-13 0-11 6z"/>
<path fill="#008cff" d="M182 25l-12 18-24 51-64 187 17 8 3 3-1 5 18 5 0 6 13 3 1 7 10 1 3 8 13 3 1 7 29 10 2 2-1 4 8 5 9 3 2-3 4 0 32 19 3-4 2 0 18 12 3-4 2 0 14 10 3 0 3-4 16 11 2 0 3-4 21 14 6-4 19 10 3-1 39-118 2-1 1-5 8-13 32 18 16 6 11 2 6 5 13 1 5 5 12 0 5 5 14 1 3 4 13 1 9 6 13 1 8 6 32 11-15-31-42-104-23-44-11-14-9-8-13-7-34-12-82-18-42-15-29-19-49-44-25-16-15-7-13 0-11 6z"/>
<path fill="#00a6ff" d="M182 25l-12 18-24 51-60 178 10 4 3 3 0 6 21 6 0 7 12 2 2 2-1 5 8 1 6 3 0 6 13 2 0 7 22 6 3 3 0 6 36 16 4-4 27 16 5-4 18 12 3-4 2 0 14 10 3 0 3-4 15 11 7-3 24 15 4-4 3 0 13 6 36-109 12-23 28 15 11 4 9 1 7 6 16 2 5 5 11 0 6 5 14 1 6 5 11 0 5 5 15 2 9 6 14 3 20 8-11-23-42-104-23-44-11-14-9-8-13-7-34-12-82-18-42-15-29-19-49-44-25-16-15-7-13 0-11 6z"/>
<path fill="#00bfff" d="M182 25l-12 18-24 51-59 174 12 6 21 6 0 7 13 2 2 2 0 6 10 1 3 2 0 6 12 2 0 7 20 5 1 8 26 10 25 14 4-5 24 15 3-4 3 0 15 11 6-4 14 10 7-3 15 11 3 0 1-3 3-1 19 13 16 8 4-3 33-102 13-27 3 0 22 12 17 4 4 5 15 2 7 6 13 0 4 5 12 0 8 6 11 0 5 5 14 1 7 6 25 6 17 9-9-18-42-104-23-44-11-14-9-8-13-7-34-12-82-18-42-15-29-19-49-44-25-16-15-7-13 0-11 6z"/>
<path fill="#00d9ff" d="M182 25l-12 18-24 51-55 164 16 7 12 3 1 8 13 2 3 3-1 5 11 1 3 3-1 5 12 2 2 2-2 4 2 2 15 3 2 2-1 5 36 14 27 16 6-4 19 13 3 0 3-4 16 11 3 0 2-4 17 12 5-5 17 12 3 0 3-4 32 19 32-96 15-32 28 11 7 6 18 3 8 6 12 0 4 5 12 0 5 5 12 0 6 6 13 0 7 6 19 3 9 7 19 7-6-11-34-86-25-52-17-24-9-8-13-7-34-12-82-18-42-15-29-19-49-44-25-16-15-7-13 0-11 6z"/>
<path fill="#00f2ff" d="M182 25l-12 18-24 51-52 153 22 8 3 3-1 6 15 3 3 3 0 6 12 1 1 8 12 1 0 7 15 3 2 2-2 5 3 2 10 2 23 9 16 8 23 15 2 0 2-4 3 0 17 12 6-4 15 11 6-4 14 11 3 0 1-3 3-1 19 13 2 0 2-4 3 0 25 14 30-91 15-31 17 7 8 6 20 4 4 5 15 1 4 5 13 0 4 5 14 0 4 5 15 1 6 6 14 1 9 7 26 9-36-89-25-52-17-24-9-8-13-7-34-12-82-18-42-15-29-19-49-44-25-16-15-7-13 0-11 6z"/>
<path fill="#0dfff2" d="M182 25l-12 18-20 41-19 51-33 102 15 6 2 2-1 5 2 2 18 4 2 2-2 6 14 2 0 7 11 1 3 3-2 4 2 2 11 1 4 3-1 5 19 5 8 4 0 6 3 3 17 8 3 0 4-4 11 5 19 13 6-4 17 12 2 0 3-5 16 12 2 0 2-4 3 0 14 11 3 0 0-2 4-2 20 14 4 0 4-4 16 9 3-2 26-81 10-24 5-7 17 7 16 3 9 7 13 0 4 5 14 1 5 5 13 0 4 5 12 0 7 6 14 1 10 7 11 2 19 7-32-80-25-52-17-24-9-8-13-7-34-12-82-18-42-15-29-19-49-44-25-16-15-7-13 0-11 6z"/>
<path fill="#26ffd9" d="M99 232l15 8 19 5 2 2-2 4 2 2 13 2 1 8 10 0 2 2-1 6 14 2 2 2-2 4 1 2 20 5 2 2-2 5 19 8 27 14 5-5 24 16 5-5 17 12 6-4 15 11 4-5 18 13 4-5 2 0 18 13 19 9 2-1 24-76 11-27 7-12 24 7 5 6 17 2 4 5 13 0 6 6 12-1 6 6 13 0 3 5 18 2 3 5 18 3 22 10-30-74-25-52-17-24-9-8-13-7-34-12-82-18-42-15-29-19-49-44-25-16-18-8-7 0-14 7-10 10-12 18-20 41-12 31z"/>
<path fill="#40ffbf" d="M103 220l0 3 28 9 2 2-1 7 14 2 2 2 0 6 11 1 2 2-1 6 13 2 2 2-2 4 2 2 16 3 2 2-1 6 28 10 33 19 3-5 3 0 20 14 5-5 16 12 5-5 16 12 2 0 3-5 18 13 2 0 2-4 6 1 26 17 3 0 20-65 12-30 10-17 10 3 6 6 19 3 7 6 10-1 5 6 14 0 4 5 13 0 6 6 14 0 4 6 21 3 8 7 17 6-27-68-25-52-17-24-9-8-13-7-34-12-82-18-42-15-29-19-49-44-25-16-18-8-7 0-14 7-10 10-12 18-20 41-12 31z"/>
<path fill="#59ffa6" d="M106 211l21 8 3 3-1 6 18 4 0 7 12 2 2 2-1 6 13 2 0 7 16 3 0 8 20 5 21 9 32 20 3 0 2-4 3 0 15 12 4 1 4-5 16 12 5-5 15 12 2 0 4-5 19 14 4 0 2-4 3 0 22 13 2-1 17-56 15-37 7-10 14 5 12 1 3 5 16 1 4 5 13 0 6 6 13 0 4 5 13 0 5 6 19 2 5 6 27 9-24-60-25-52-17-24-9-8-13-7-34-12-82-18-42-15-29-19-49-44-25-16-18-8-7 0-14 7-10 10-12 18-24 51z"/>
<path fill="#73ff8c" d="M110 199l1 2 13 6-1 6 2 2 20 5 2 2-1 6 13 2 2 2 0 6 12 2 0 7 14 2 1 8 25 7 2 2 0 7 22 10 3 0 2-4 3 0 24 16 5 2 4-5 19 13 4-5 17 12 4-5 16 12 2 0 4-5 25 17 2 0 4-5 15 7 12-36 2-11 15-37 9-15 13 2 9 7 13 0 4 6 14 0 4 5 13 0 7 6 12 0 3 5 17 1 8 7 12 2 19 7-20-51-25-52-17-24-9-8-13-7-34-12-82-18-42-15-29-19-49-44-25-16-18-8-7 0-14 7-10 10-12 18-24 51z"/>
<path fill="#8cff73" d="M111 196l10 6 23 6 0 8 15 3 0 7 13 2 1 8 7 0 7 3-1 6 20 5 2 2-1 6 21 8 26 14 4-5 2 0 23 16 3-5 3 0 16 12 4-5 3 1 13 11 2 0 4-5 18 13 5-5 24 16 13 6 11-33 1-9 21-51 7-10 3 0 4 6 15 1 7 6 12 0 7 6 12-1 4 6 14 0 3 5 16 1 5 6 13 1 12 4 6 6 11 4-19-47-25-52-17-24-9-8-13-7-34-12-82-18-42-15-29-19-49-44-25-16-18-8-7 0-14 7-10 10-12 18-24 51z"/>
<path fill="#a6ff59" d="M115 184l0 3 26 9 2 2-1 6 16 3 0 8 12 1 3 3-2 4 2 2 12 1 0 8 17 3 2 2-1 6 3 2 16 4 16 7 26 16 4 0 0-2 4-2 20 14 2-4 3-1 16 12 2 0 1-4 2-1 16 12 2 0 3-5 20 14 2 0 1-4 3-1 18 12 11 5 8-22 0-7 21-52 9-14 13 1 9 7 10-1 9 7 10-1 4 5 13 0 5 6 15 0 5 6 15 1 11 8 21 7-24-57-17-34-17-24-9-8-13-7-34-12-82-18-42-15-29-19-49-44-25-16-18-8-7 0-14 7-10 10-12 18-24 51z"/>
<path fill="#bfff40" d="M118 174l8 5 10 3 3 3-1 6 18 4 3 3 0 6 11 1 2 2-1 6 12 1 2 2-1 6 16 3 0 7 3 2 20 5 20 9 32 20 3 0 1-3 3-1 19 13 2-4 3-1 16 12 5-5 15 12 3 0 4-5 21 15 3 0 2-4 3 0 20 11 3-8 1-11 16-40 15-30 4-3 6 6 15 1 4 5 5 1 7-1 7 6 12 0 4 5 14 0 5 6 16 1 9 7 27 8-20-48-17-34-17-24-9-8-13-7-34-12-82-18-42-15-29-19-49-44-25-16-18-8-7 0-14 7-10 10-12 18-24 51z"/>
<path fill="#d9ff26" d="M122 162l0 3 8 5 0 6 26 8 0 8 15 2 1 8 11 1 2 2-1 6 15 3 0 7 23 6 4 4-1 5 25 12 3 0 1-3 3-1 29 18 5-5 19 13 4-5 17 12 4-5 19 13 4-5 20 14 10 4 3-4 9 2 22-57 14-25 13 0 6 6 14 0 3 5 14 0 5 6 12-1 5 6 16 1 5 6 14 2 22 8-17-40-17-34-17-24-9-8-13-7-34-12-82-18-42-15-29-19-49-44-25-16-18-8-7 0-14 7-10 10-12 18-20 41z"/>
<path fill="#f2ff0d" d="M123 161l5 3 26 8 2 2-2 4 1 2 14 2 3 3 0 6 11 1 2 2-1 6 14 2 1 8 19 4 2 2-1 6 5 3 13 4 27 15 4 0 1-3 3-1 23 15 6-4 17 12 4-5 17 12 5-5 17 13 3 0 3-5 31 19 2 0 22-54 18-32 3 0 7 6 10-1 6 6 12 0 4 5 14 0 4 5 15 1 4 5 19 3 11 8 14 5-15-36-17-34-17-24-9-8-13-7-34-12-82-18-42-15-29-19-49-44-25-16-18-8-7 0-14 7-10 10-12 18-20 41z"/>
<path fill="#fff200" d="M126 150l26 10 1 8 17 4 0 7 13 2 2 2 0 6 11 1 3 3-2 4 2 2 16 3 1 8 33 12 29 17 4-5 22 14 3-4 3 0 15 11 6-4 15 11 3 0 3-4 21 14 4-5 25 14 2 0 16-39 17-35 4-4 13 0 4 5 12 0 7 6 10-1 7 6 13 0 3 5 20 3 6 6 24 8-29-62-17-24-9-8-13-7-34-12-82-18-42-15-29-19-49-44-25-16-18-8-7 0-14 7-10 10-12 18-20 41z"/>
<path fill="#ffd900" d="M130 138l3 3 14 5 2 2 0 7 20 5 2 2-2 4 1 2 13 2 2 2-2 4 2 2 12 2 0 6 2 2 14 2 2 2-1 6 31 10 20 10 21 14 7-4 19 13 6-4 15 11 2 0 2-4 3 0 16 12 6-4 24 15 1-3 4-2 15 8 3-1 21-49 11-21 4-4 7 5 12 0 4 5 13 0 4 5 12 0 7 6 14 1 7 6 31 9-8-19-23-44-11-14-12-10-44-17-82-18-42-15-29-19-49-44-25-16-18-8-7 0-14 7-10 10-12 18-20 41z"/>
<path fill="#ffbf00" d="M134 129l7 5 0 6 28 9 0 7 14 3 2 2 0 6 11 1 2 2-1 6 14 2 3 2-1 6 3 2 9 1 16 6 5 4 0 5 8 4 11-2 30 19 3 0 3-4 19 13 4-5 18 12 3-4 3 0 17 12 3-4 3 0 16 11 15 7 3-3 6 0 2-2 28-61 5-5 11 0 5 5 12 0 5 5 13 0 4 5 14 1 9 7 11 1 23 9-28-56-11-14-12-10-44-17-82-18-42-15-29-19-49-44-25-16-18-8-7 0-14 7-10 10-12 18-20 41z"/>
<path fill="#ffa600" d="M135 126l32 11 2 2 0 6 14 3 2 2-1 5 14 3 0 7 15 3 0 7 23 7 2 2-1 5 34 16 3 0 2-3 7 2 21 14 2 0 2-4 4 1 15 11 6-4 15 11 3 0 3-4 19 13 6-4 32 19 30-61 9-12 6 5 12 0 4 5 13 0 4 5 15 1 7 6 18 3 8 6 14 5-26-51-11-14-12-10-44-17-82-18-42-15-29-19-49-44-25-16-18-8-7 0-11 5-13 12-12 18-11 22z"/>
<path fill="#ff8c00" d="M139 115l5 3 23 8 0 6 2 2 16 4 1 7 13 3 0 6 13 3 2 2 0 5 20 6 2 2-1 5 22 9 23 13 4 0 2-3 5 1 19 13 3 0 3-4 18 12 2 0 3-4 18 12 3-4 3 0 19 13 6-4 26 15 3-1 24-50 10-14 11 0 5 5 11 0 5 5 12 0 5 5 21 4 5 5 22 8-23-44-11-14-12-10-44-17-82-18-42-15-29-19-49-44-25-16-18-8-7 0-11 5-13 12-12 18-11 22z"/>
<path fill="#ff7300" d="M142 105l23 9 2 2 0 6 19 5 0 7 14 3 0 7 15 3 0 7 19 5 2 2-1 5 28 11 26 15 4 0 1-3 3 0 18 12 5 1 4-3 16 11 8-3 15 11 2 0 3-4 23 14 6-4 21 12 4-2 25-50 9-10 5 4 10 0 6 5 11 0 9 6 13 1 7 6 26 8-18-35-11-14-12-10-44-17-82-18-42-15-29-19-49-44-25-16-18-8-7 0-11 5-13 12-12 18-20 41z"/>
<path fill="#ff5900" d="M146 94l19 9 1 7 21 7 0 5 2 2 13 3 0 5 2 2 11 2 3 3-1 4 18 6 2 2-1 4 40 17 20 12 7-3 21 13 7-3 17 11 4-4 19 12 3-3 3 0 23 14 4-3 4 0 14 8 3 0 22-43 11-13 9 1 4 4 13 1 6 5 13 1 7 5 30 10-15-28-11-14-12-10-44-17-82-18-42-15-29-19-49-44-25-16-18-8-7 0-11 5-13 12-12 18z"/>
<path fill="#ff4000" d="M150 86l13 5 2 2 0 5 24 9 1 6 12 3 4 3-1 4 13 4 3 7 16 5 3 7 26 10 33 18 6 1 4-2 20 12 8-2 15 10 8-2 17 11 3-3 4 0 16 11 9 4 7-3 12 6 22-40 11-12 8 3 8 0 8 5 12 1 9 6 30 9-14-24-8-10-12-10-44-17-82-18-42-15-29-19-49-44-25-16-18-8-7 0-11 5-13 12-12 18z"/>
<path fill="#ff2600" d="M154 76l8 4 5 8 22 8 4 3 0 4 15 5 0 5 2 2 11 2 3 3 0 4 17 6 2 2 0 4 36 15 24 14 6 1 4-2 20 12 8-2 16 10 7-2 18 11 3-3 5 1 26 15 9-1 6 3 2-1 17-31 14-15 8 0 6 4 14 2 6 4 18 5 16 7-10-18-8-10-12-10-44-17-82-18-42-15-29-19-49-44-25-16-18-8-7 0-11 5-13 12-12 18z"/>
<path fill="#ff0d00" d="M159 65l0 3 6 3 2 5 11 6 16 5 3 3 0 4 15 5 1 6 15 5 1 5 18 7 3 3 0 3 26 11 33 17 7-2 20 12 7-2 16 10 4 1 1-2 4 0 16 10 4 0 2-2 4 1 28 16 4 0 2-2 7 3 2-1 14-24 18-19 5 3 14 2 6 4 35 12-19-25-18-11-45-15-82-18-37-15-23-16-49-44-25-16-18-8-7 0-11 5-13 12-12 18z"/>
<path fill="#f20000" d="M163 57l0 2 9 4 5 7 23 9 5 8 11 3 3 3 0 3 15 6 5 7 18 7 4 6 44 21 11 0 20 12 8-1 18 10 5-2 20 11 7-2 29 16 8-1 5 3 5 0 17-25 13-12 14 2 36 15 4 0-11-14-9-8-23-11-39-12-78-17-37-15-23-16-49-44-25-16-18-8-7 0-14 7-10 10z"/>
<path fill="#d90000" d="M167 49l17 9 4 6 20 8 3 3 0 3 15 6 4 6 15 6 4 6 66 30 20 11 7-1 20 11 4-2 4 1 18 10 3-2 5 1 23 13 7-1 19 8 13-18 17-15 6 0 38 14-14-15-23-11-39-12-78-17-37-15-23-16-49-44-25-16-18-8-7 0-14 7-10 10z"/>
<path fill="#bf0000" d="M172 40l1 2 26 12 4 6 20 9 3 5 13 5 8 8 17 7 19 13 32 15 14 3 21 11 13 2 19 10 11 1 21 11 6-1 28 14 23-24 6-3 9-1 28 11-12-11-20-9-39-12-78-17-31-12-29-19-49-44-25-16-15-7-10-1-14 7-10 10z"/>
<path fill="#a60000" d="M178 31l25 15 13 5 11 9 14 6 12 9 51 26 60 27 14 3 23 11 7 0 34 17 14 3 15-14 11-5 7 0 18 6-15-9-34-12-82-18-42-15-30-19-21-21-27-23-25-16-15-7-10-1-11 5-13 12z"/>
<path fill="#8c0000" d="M381 114l12 9 68 30 20-11 15 0-53-18-47-10zM186 21l1 2 63 32 18 7 7-1-5-11-17-20-30-18-10-4-7 0-11 5z"/>
</g>
<g class="ax">
<path d="M557.5 1056.9L635.3 1093.9"/>
<path d="M635.3 1093.9L736.5 1065.8"/>
<path d="M557.5 1056.9L557.5 976.7"/>
<path d="M736.5 1065.8L736.5 985.6"/>
<path d="M557.5 976.7L635.3 1013.7"/>
<path d="M635.3 1013.7L736.5 985.6"/>
<path d="M635.3 1093.9L635.3 1013.7"/>
<path d="M596.4 1075.4L599.9 1074.4"/>
<path d="M685.9 1079.9L683.1 1078.6"/>
<path d="M635.3 1093.9L632.4 1094.7"/>
<path d="M635.3 1093.9L638 1095.2"/>
<path d="M557.5 1056.9L554.6 1057.7"/>
<path d="M736.5 1065.8L739.2 1067.1"/>
<path d="M557.5 1016.8L555.1 1017.5"/>
<path d="M557.5 976.7L555.1 977.4"/>
</g>
<g class="tk"><text x="554.9" y="1059.9" text-anchor="end">0</text><text x="554.4" y="1020" text-anchor="end">0.5</text><text x="553.8" y="979.4" text-anchor="end">1</text><text x="554.6" y="1068.7" text-anchor="end">90</text><text x="590" y="1087.4" text-anchor="middle">0</text><text x="630.1" y="1105.3" text-anchor="end">-90</text><text x="639.3" y="1105.7">-45</text><text x="691.5" y="1091.8" text-anchor="middle">0</text><text x="740" y="1077.8">45</text><text x="625.4" y="1096.6" text-anchor="end">Orientation Angle</text><text x="659" y="1101.7">Ellipticity Angle</text></g>
</g>
<!-- plot o -->
<g>
<g class="ax">
<path d="M819.7 1056.9L920.7 1028.8"/>
<path d="M920.7 1028.8L998.5 1065.8"/>
<path d="M920.7 1028.8L920.7 948.6"/>
<path d="M819.7 976.7L920.7 948.6"/>
<path d="M920.7 948.6L998.5 985.6"/>
<path d="M819.7 1016.8L920.7 988.7" class="d"/>
<path d="M920.7 988.7L998.5 1025.7" class="d"/>
<path d="M870.2 1042.9L870.2 962.7" class="d"/>
<path d="M959.6 1047.3L959.6 967.1" class="d"/>
<path d="M948 1079.9L870.2 1042.9" class="d"/>
<path d="M858.6 1075.4L959.6 1047.3" class="d"/>
</g>
<g transform="translate(826 964) scale(.25)" fill-rule="evenodd">
<path fill="#00008c" d="M10 383l280 134 11-3 15-14 11-16 23-48 17-49 8-18 25-75 22 14 24 19 37 23 31 13 75 23 64 27-12-6-10-9-23-36-64-149-19-37-11-16-12-12-17-8-26-7-74-6-25-5-18-7-23-16-49-50-17-15-20-14-20-10-14 0-11 6-10 10-16 25-26 61-33 100-41 109-15 30-11 16-11 11-10 5z"/>
<path fill="#0000a6" d="M35 368l61 33 16 11 26 12 28 16 38 15 31 15 16 4 24 12 13 3 26 13 17-25 19-41 17-49 8-18 25-75 22 14 24 19 37 23 31 13 75 23 55 23-17-16-19-31-64-149-19-37-11-16-12-12-17-8-26-7-74-6-25-5-18-7-23-16-49-50-17-15-20-14-20-10-14 0-11 6-18 21-11 20-27 66-29 89-5 10-24 70-27 59z"/>
<path fill="#0000bf" d="M42 358l24 11 12 9 29 14 11 9 31 14 7 6 35 17 16 4 39 19 7 0 30 15 12 2 26 13 10-14 19-41 17-49 8-18 25-75 22 14 24 19 32 19 39 15 65 20 53 21-15-19-15-27-55-130-21-43-15-23-12-12-17-8-26-7-74-6-25-5-18-7-23-16-49-50-17-15-20-14-20-10-14 0-11 6-18 21-11 20-27 66-29 89-5 10-24 70-12 29z"/>
<path fill="#0000d9" d="M178 26l-16 25-15 33-15 39-50 148-16 41-18 38 50 23 6 7 27 12 7 7 59 27 18 10 15 6 7 0 26 14 21 5 43 22 23-47 17-49 8-18 25-75 2 2 2-2 21 17 19 13 41 21 91 30 54 21-10-13-15-27-55-130-21-43-15-23-12-12-17-8-26-7-74-6-25-5-18-7-23-16-49-50-17-15-20-14-20-10-14 0-11 6z"/>
<path fill="#0000f2" d="M178 26l-16 25-23 53-57 167-16 41-12 24 2 3 16 7 9 9 34 15 4 6 32 14 5 6 8 5 50 23 9 0 38 20 11 0 36 19 10 0 15 8 11-21 14-35 9-28 8-18 25-75 2 2 2-4 41 29 33 17 26 10 76 24 45 18-17-28-11-23-47-113-21-43-15-23-12-12-17-8-26-7-74-6-25-5-18-7-23-16-49-50-17-15-20-14-20-10-14 0-11 6z"/>
<path fill="#000dff" d="M178 26l-16 25-23 53-57 167-24 58 31 14 4 7 33 14 3 6 41 18 5 6 10 6 21 9 6-1 8 3 39 21 5-2 6 2 32 17 7-1 29 14 12-26 17-49 8-18 24-74 2 0 4-5 33 23 37 19 29 11 13 3 7 4 12 2 5 3 34 10 45 18-23-44-47-113-21-43-15-23-12-12-17-8-26-7-74-6-25-5-18-7-23-16-49-50-17-15-20-14-20-10-14 0-11 6z"/>
<path fill="#0026ff" d="M178 26l-16 25-23 53-57 167-20 48 2 2 34 15 3 7 31 12 3 3-1 3 7 4 33 13 19 11 36 15 31 17 8-1 35 19 5-2 5 1 29 15 8-17 17-49 8-18 24-74 2 0 5-8 29 20 37 19 50 18 12 2 5 3 11 2 10 5 19 5 8 5 30 11-20-38-47-113-21-43-15-23-12-12-17-8-26-7-74-6-25-5-18-7-23-16-49-50-17-15-20-14-20-10-14 0-11 6z"/>
<path fill="#0040ff" d="M178 26l-16 25-23 53-36 108-37 99 33 14 5 4-1 3 2 2 33 13 1 5 8 5 36 14 20 11 34 15 28 16 5-3 37 20 4 0 2-2 7 2 24 13 3-1 14-35 38-112 2 0 6-11 32 21 30 15 19 5 10 6 13 2 6 4 13 2 8 5 13 2 8 5 16 3 10 6 28 10-20-40-49-117-19-37-11-16-12-12-17-8-26-7-74-6-25-5-18-7-23-16-49-50-17-15-20-14-20-10-14 0-11 6z"/>
<path fill="#0059ff" d="M178 26l-16 25-23 53-36 108-5 10-16 49-12 30 31 14 4 4 0 4 34 13 3 3-1 4 48 20 8 9 8 4 11 0 10 4 41 23 5 1 2-2 4 0 37 21 6-3 28 14 2-1 24-64 24-74 2 0 1-5 6-9 29 18 28 14 22 6 6 5 15 2 4 4 14 2 8 5 14 2 6 5 14 2 10 6 30 10-64-149-19-37-11-16-12-12-17-8-26-7-74-6-25-5-18-7-23-16-49-50-17-15-20-14-20-10-14 0-11 6z"/>
<path fill="#0073ff" d="M178 26l-16 25-23 53-36 108-28 75 0 5 26 12 3 8 37 14 3 8 21 7 22 10 3 7 33 16 7-3 47 26 4-3 4 0 38 22 4 1 4-4 21 11 2 0 13-37 8-18 24-74 2 0 2-8 6-10 17 11 38 19 17 4 4 4 15 3 9 5 11 1 7 5 15 2 4 4 16 3 12 7 31 10-61-142-19-37-11-16-12-12-17-8-26-7-74-6-25-5-18-7-23-16-49-50-17-15-20-14-20-10-14 0-11 6z"/>
<path fill="#008cff" d="M178 26l-16 25-23 53-36 108-25 67 2 4 15 8 0 5 11 6 34 12 2 2 0 6 38 14 5 9 51 24 3 0 2-3 5 1 37 22 5 1 2-3 6 1 46 25 2-3 4 0 9 5 18-46 24-74 2-1 3-10 7-11 28 17 20 9 13 3 9 6 16 3 4 4 15 2 7 5 12 1 6 5 15 2 11 7 12 2 22 9-57-135-19-37-11-16-12-12-17-8-26-7-74-6-25-5-18-7-23-16-49-50-17-15-20-14-20-10-14 0-11 6z"/>
<path fill="#00a6ff" d="M178 26l-16 25-23 53-36 108-5 10-18 52 0 4 32 15 26 9 2 2 0 6 34 12 5 4-1 4 6 4 23 9 36 19 9 2 3-3 41 23 2 0 3-4 58 31 16-42 24-74 12-25 5 1 32 18 15 4 9 6 19 4 6 5 13 1 6 5 14 1 4 5 18 3 4 4 26 7 17 9-55-130-19-37-11-16-12-12-17-8-26-7-74-6-25-5-18-7-23-16-49-50-17-15-20-14-20-10-14 0-11 6z"/>
<path fill="#00bfff" d="M170 37l-11 20-23 55-33 100-5 10-15 44 1 3 49 19 3 3 0 6 32 11 6 4 0 6 52 22 34 19 4 1 2-4 6 1 37 22 3-4 6 1 44 25 13-32 24-74 9-22 6-8 11 7 32 13 11 7 15 2 5 5 13 1 9 6 13 1 6 5 13 1 7 6 23 5 6 5 18 7-52-123-19-37-11-16-12-12-17-8-26-7-74-6-25-5-18-7-23-16-49-50-17-15-20-14-20-10-14 0-8 4-13 12z"/>
<path fill="#00d9ff" d="M170 37l-11 20-20 47-36 108-16 42 0 4 41 17 3 3-1 5 8 4 30 10 2 3-1 4 9 5 6 1 40 17 47 26 6 1 4-3 38 22 10-3 36 20 2-1 8-20 27-82 6-15 7-11 32 14 12 8 18 3 5 5 14 1 7 6 11 0 8 6 14 1 5 5 21 4 9 7 22 7-43-102-21-43-15-23-12-12-17-8-26-7-74-6-25-5-18-7-23-16-49-50-17-15-20-14-20-10-14 0-8 4-13 12z"/>
<path fill="#00f2ff" d="M170 37l-11 20-20 47-49 143 32 14 0 6 3 3 37 13 3 3 0 6 36 13 31 14 55 31 2 0 3-4 5 1 37 22 5 1 3-4 28 14 31-91 8-20 8-12 11 4 21 12 20 4 4 5 17 2 4 5 15 1 4 5 14 1 7 6 15 2 9 6 31 10-39-94-21-43-15-23-12-12-17-8-26-7-74-6-25-5-18-7-23-16-49-50-17-15-20-14-20-10-14 0-8 4-13 12z"/>
<path fill="#0dfff2" d="M170 37l-11 20-20 47-36 108-10 25 9 4 3 3 0 5 21 10 30 10 3 3-1 5 2 2 43 15 6 5-1 4 18 10 15 7 4 0 2-3 3 0 14 6 34 21 5 1 2-4 3 0 40 24 17 7 3-4 7 1 27-83 13-31 3-3 21 11 22 5 7 6 13 1 7 6 12 0 6 6 13 0 7 6 17 2 5 6 14 2 24 9-36-86-21-43-15-23-15-14-23-9-17-4-74-6-25-5-18-7-23-16-49-50-17-15-20-14-20-10-14 0-8 4-13 12z"/>
<path fill="#26ffd9" d="M95 231l1 3 56 22 2 2 0 7 38 13 5 4-1 5 36 16 28 15 6 1 2-4 4 1 41 24 4 1 3-5 38 22 18 8 25-78 13-32 5-8 16 7 17 4 5 5 18 3 4 5 15 1 4 5 15 1 7 6 12 0 7 6 23 5 7 6 15 6-34-82-21-43-15-23-12-12-17-8-26-7-74-6-25-5-18-7-23-16-49-50-17-15-20-14-20-10-14 0-11 6-10 10-16 25-26 61-33 100z"/>
<path fill="#40ffbf" d="M98 222l46 19 2 2-1 6 41 15 2 2-1 5 12 7 23 8 58 30 2 0 3-4 4 1 43 25 3-5 3 0 41 22 20-58 1-7 16-40 5-7 20 6 7 6 18 3 7 6 15 1 3 5 14 0 6 6 15 1 4 5 18 3 5 2 4 5 24 7-9-18-22-55-21-43-15-23-12-12-17-8-26-7-74-6-25-5-18-7-23-16-49-50-17-15-20-14-20-10-14 0-11 6-10 10-16 25-26 61-33 100z"/>
<path fill="#59ffa6" d="M103 210l1 2 28 12 3 3-1 5 2 2 43 16 2 2-1 5 7 4 53 21 52 29 6 1 2-3 4 0 45 26 2 0 3-4 3 0 26 13 19-60 14-35 8-12 10 4 6 5 20 4 4 5 15 1 4 5 15 1 4 5 16 1 6 6 17 2 5 6 15 3 16 6-27-65-21-43-15-23-12-12-17-8-26-7-74-6-25-5-18-7-23-16-49-50-17-15-20-14-20-10-14 0-11 6-10 10-16 25-26 61z"/>
<path fill="#73ff8c" d="M104 207l33 16 33 11 4 4-1 5 7 4 12 3 43 18 37 18 40 23 3-4 6 1 42 25 20 9 2-1 21-66 10-25 8-14 15 5 10 1 9 7 13 0 6 6 13 0 6 6 13 0 6 6 16 1 5 6 26 6 13 8-25-60-21-43-15-23-12-12-17-8-26-7-74-6-25-5-18-7-23-16-49-50-17-15-20-14-20-10-14 0-11 6-10 10-16 25-26 61z"/>
<path fill="#8cff73" d="M108 195l1 3 19 9 34 12 4 3-1 6 2 2 25 8 23 10 2 2-1 5 6 4 5 1 37 19 5 1 4-4 53 29 3 0 2-4 9 3 30 18 17 8 12-33 1-9 14-36 10-21 3-3 16 4 7 6 15 1 4 5 14 1 4 5 13 0 6 6 16 1 5 6 20 3 8 7 17 6-22-53-21-43-15-23-12-12-17-8-26-7-74-6-25-5-18-7-23-16-49-50-17-15-20-14-20-10-14 0-11 6-10 10-16 25-23 53z"/>
<path fill="#a6ff59" d="M111 186l41 17 5 4 0 7 38 13 10 6-1 5 2 2 36 15 41 22 6 2 3-5 4 1 44 26 6 1 3-4 2 0 40 21 14-45 15-36 9-16 5 1 8 6 14 1 7 6 12 0 6 6 13 0 7 6 13 0 3 5 17 2 5 2 4 5 25 8-18-44-21-43-15-23-12-12-17-8-26-7-74-6-25-5-18-7-23-16-49-50-17-15-20-14-20-10-14 0-8 4-13 12-8 11-11 20-20 47z"/>
<path fill="#bfff40" d="M115 173l1 3 24 11 3 3 0 6 50 19 3 3-1 5 9 5 47 19 50 27 6 1 2-3 6 1 49 28 4 1 2-4 3 0 21 10 5-11-1-4 17-45 12-26 3-3 17 2 7 6 15 1 4 5 15 1 4 5 13 0 6 6 14 1 7 6 32 9-14-35-21-43-15-23-12-12-17-8-26-7-74-6-25-5-18-7-23-16-49-50-17-15-20-14-20-10-14 0-8 4-13 12-8 11-23 47z"/>
<path fill="#d9ff26" d="M116 172l23 11 47 18 2 2-1 5 4 3 54 21 44 22 29 17 5 1 2-4 9 3 37 22 24 12 3-5-1-4 3-11 27-64 7-9 9 2 6 5 13 1 5 5 12 0 4 5 15 1 4 5 17 2 4 5 24 5 9 7 7 2-34-74-15-23-12-12-17-8-26-7-74-6-25-5-18-7-23-16-49-50-17-15-20-14-20-10-14 0-8 4-13 12-8 11-23 47z"/>
<path fill="#f2ff0d" d="M119 161l53 22 8 6-1 4 2 2 38 14 58 27 55 31 7 2 4-5 54 29 33-79 6-6 3 2 14 1 8 6 12 0 5 5 11 0 7 6 12 0 7 6 17 2 11 8 16 5-9-23-21-43-15-23-12-12-17-8-26-7-74-6-25-5-18-7-23-16-49-50-17-15-20-14-20-10-14 0-8 4-13 12-8 11-23 47z"/>
<path fill="#fff200" d="M123 150l43 19 4 4-1 5 10 5 6 1 45 19 4 3 1 6 47 22 5-3 7 2 59 32 4 1 3-4 38 19 4-1 23-57 12-20 10 0 5 5 14 1 5 5 13 0 4 5 14 1 7 6 13 1 8 6 26 8-12-28-19-37-11-16-12-12-17-8-26-7-74-6-25-5-18-7-23-16-49-50-17-15-20-14-20-10-14 0-8 4-13 12-8 11-23 47z"/>
<path fill="#ffd900" d="M127 140l26 12 2 3-1 4 8 5 50 19 9 5 3 8 45 20 24 13 11 3 2-3 5 1 61 34 7 2 3-3 5 0 16 8 3-2 19-47 9-17 7-9 5 4 13 1 6 5 12 0 5 5 11 0 8 6 13 1 7 6 13 2 18 7-8-20-19-37-11-16-15-14-23-9-17-4-74-6-25-5-18-7-23-16-49-50-17-15-20-14-20-10-14 0-8 4-13 12-8 11-23 47z"/>
<path fill="#ffbf00" d="M128 137l31 14 18 6 36 16 2 2 0 4 11 7 38 16 51 26 5 1 2-3 3 0 78 41 2 0 6-11 17-41 11-20 4-3 10 1 6 5 11 0 5 5 11 0 6 5 16 2 5 5 18 3 19 10-25-52-11-16-15-14-23-9-17-4-74-6-25-5-18-7-23-16-49-50-17-15-20-14-20-10-14 0-8 4-13 12-8 11-23 47z"/>
<path fill="#ffa600" d="M131 126l72 31 5 4 0 4 6 4 45 19 71 36 5 1 4-3 14 6 54 29 3-1 14-33 13-26 8-11 3 0 5 4 10 0 6 5 11 0 6 5 14 1 7 6 15 2 11 7 14 4-22-44-11-16-15-14-23-9-17-4-74-6-25-5-18-7-23-16-49-50-17-15-20-14-20-10-14 0-8 4-13 12-8 11-23 47z"/>
<path fill="#ff8c00" d="M135 115l62 28 4 3 1 6 74 33 69 35 5 1 2-3 5 1 55 28 25-51 10-14 12 1 4 4 13 1 4 4 13 1 6 5 15 2 8 6 22 7-15-30-12-19-18-18-23-9-17-4-74-6-25-5-18-7-23-16-49-50-17-15-20-14-20-10-14 0-11 6-10 10-19 31z"/>
<path fill="#ff7300" d="M139 104l9 6 39 17 7 6 1 4 11 6 66 29 90 45 3 0 3-3 48 23 26-51 9-10 3 0 6 4 9 0 7 5 10 0 6 5 15 2 7 5 26 8-23-41-18-18-23-9-17-4-74-6-25-5-18-7-23-16-49-50-17-15-20-14-20-10-14 0-11 6-10 10-16 25z"/>
<path fill="#ff5900" d="M143 96l40 19 4 7 89 41 104 51 5-3 34 16 3-2 20-40 12-13 11 1 5 4 12 1 4 4 14 2 7 5 29 8-11-21-11-16-12-12-7-4-36-11-86-8-13-3-20-8-21-15-49-50-17-15-20-14-20-10-14 0-11 6-10 10-16 25z"/>
<path fill="#ff4000" d="M147 84l0 3 26 13 1 4 4 3 222 105 4-2 20 8 18-34 15-18 4 0 5 4 12 1 5 4 11 1 7 5 31 9-7-14-11-16-12-12-17-8-40-9-51-3-34-6-20-8-21-15-49-50-17-15-20-14-20-10-14 0-11 6-10 10-16 25z"/>
<path fill="#ff2600" d="M149 80l1 2 102 48 11 2 57 27 8 7 95 46 2 0 6-7 15-28 8-10 7-5 12 2 10 5 7 0 6 4 13 3 20 8-15-24-12-12-17-8-40-9-51-3-34-6-20-8-21-15-49-50-17-15-20-14-20-10-14 0-11 6-10 10-16 25z"/>
<path fill="#ff0d00" d="M153 71l1 2 53 25 12 2 104 50 48 22 11 9 47 22 6-7 4-9 15-21 10-9 23 6 38 14-11-17-12-12-17-8-40-9-51-3-34-6-20-8-21-15-49-50-17-15-20-14-20-10-14 0-11 6-10 10-16 25z"/>
<path fill="#f20000" d="M158 60l53 24 47 24 17 4 60 29 12 9 87 41 3-1 17-25 13-12 18 4 36 13-7-10-12-12-26-11-31-6-51-3-34-6-20-8-21-15-49-50-17-15-20-14-20-10-14 0-11 6-18 21z"/>
<path fill="#d90000" d="M163 50l75 37 7 0 23 11 26 7 30 11 31 23 16 8 7 7 61 28 3-1 14-19 14-12 15 2 31 12-14-16-26-11-31-6-51-3-21-3-20-6-7 0-18-7-20-19-15-21-32-31-28-21-20-10-14 0-11 6-10 10z"/>
<path fill="#bf0000" d="M375 129l1 5 11 10 12 5 9 8 36 17 22-23 8-4 9 0 28 10-9-9-7-4-36-11-75-7zM168 41l2 3 42 20 12 2 21 10 35 8 8-3 0-6-6-13-12-13-28-23-29-16-14 0-11 6-10 10z"/>
<path fill="#a60000" d="M403 132l1 4 10 9 23 11 12 8 5-2 12-12 10-5 12 0 16 5-5-4-14-6-26-7-37-4-14 0zM174 32l5 4 21 7 24 12 30 8 9 0 6-4-1-7-7-11-28-21-20-10-14 0-8 4-13 12z"/>
<path fill="#8c0000" d="M431 134l0 2 7 7 19 11 18-10 20 0-36-11-22-2zM182 22l3 3 16 5 19 9 6 0 8 3 12 0 2-2 0-5-6-9-29-16-14 0-11 6z"/>
</g>
<g class="ax">
<path d="M819.7 1056.9L897.5 1093.9"/>
<path d="M897.5 1093.9L998.5 1065.8"/>
<path d="M819.7 1056.9L819.7 976.7"/>
<path d="M998.5 1065.8L998.5 985.6"/>
<path d="M819.7 976.7L897.5 1013.7"/>
<path d="M897.5 1013.7L998.5 985.6"/>
<path d="M897.5 1093.9L897.5 1013.7"/>
<path d="M858.6 1075.4L862.1 1074.4"/>
<path d="M948 1079.9L945.2 1078.6"/>
<path d="M897.5 1093.9L894.6 1094.7"/>
<path d="M897.5 1093.9L900.2 1095.2"/>
<path d="M819.7 1056.9L816.8 1057.7"/>
<path d="M998.5 1065.8L1001.2 1067.1"/>
<path d="M819.7 1016.8L817.3 1017.5"/>
<path d="M819.7 976.7L817.3 977.4"/>
</g>
<g class="tk"><text x="817.1" y="1059.9" text-anchor="end">0</text><text x="816.6" y="1020" text-anchor="end">0.5</text><text x="816" y="979.4" text-anchor="end">1</text><text x="816.8" y="1068.7" text-anchor="end">90</text><text x="852.2" y="1087.4" text-anchor="middle">0</text><text x="892.3" y="1105.3" text-anchor="end">-90</text><text x="901.5" y="1105.7">-45</text><text x="953.6" y="1091.8" text-anchor="middle">0</text><text x="1002" y="1077.8">45</text><text x="887.6" y="1096.6" text-anchor="end">Orientation Angle</text><text x="921.2" y="1101.7">Ellipticity Angle</text></g>
</g>
<!-- plot p -->
<g>
<g class="ax">
<path d="M291.5 1279.4L392.9 1251.3"/>
<path d="M392.9 1251.3L470.9 1288.3"/>
<path d="M392.9 1251.3L392.9 1171.1"/>
<path d="M291.5 1199.2L392.9 1171.1"/>
<path d="M392.9 1171.1L470.9 1208.1"/>
<path d="M291.5 1239.3L392.9 1211.2" class="d"/>
<path d="M392.9 1211.2L470.9 1248.2" class="d"/>
<path d="M342.2 1265.4L342.2 1185.2" class="d"/>
<path d="M431.9 1269.8L431.9 1189.6" class="d"/>
<path d="M420.2 1302.4L342.2 1265.4" class="d"/>
<path d="M330.5 1297.9L431.9 1269.8" class="d"/>
</g>
<g transform="translate(298 1204) scale(.25)" fill-rule="evenodd">
<path fill="#00008c" d="M9 9l34 16 16 19 27 50 28 62 20 39 24 39 14 15 11 8 81 37 29 8 38 4 21 5 17 10 55 45 25 16 22 11 15 0 13-6 20-21 19-29 47-93 24-43 19-26 11-11 16-9-281-133-15 9-19 19-16 24-31 60-3 2-50-27-60-29-81-34-75-36z"/>
<path fill="#0000a6" d="M9 9l34 16 16 19 27 50 28 62 20 39 24 39 14 15 11 8 81 37 29 8 38 4 21 5 17 10 55 45 38 23-14-14-5-10 3-2 13 0 21 5 27 11 12-13 15-22 51-100 24-43 19-26 11-11 16-9-281-133-15 9-19 19-16 24-31 60-3 2-50-27-60-29-81-34-75-36z"/>
<path fill="#0000bf" d="M9 9l34 16 16 19 27 50 28 62 20 39 24 39 14 15 19 12 70 31 32 10 38 4 21 5 17 10 55 45 27 17-15-23-6-14 11-1 23 4 41 13 12 6 21-31 47-93 24-43 19-26 11-11 16-9-281-133-15 9-19 19-16 24-31 60-3 2-50-27-60-29-81-34-75-36z"/>
<path fill="#0000d9" d="M9 9l34 16 16 19 27 50 28 62 20 39 24 39 14 15 12 4 36 18 40 17 57 17 20 2 15 4 17 10 55 45 19 10 2 0-16-26-10-21 13 0 3 2 7 0 6 3 8 0 5 3 10 1 9 5 8 0 22 11 14 4 14-21 47-93 24-43 19-26 11-11 16-9-281-133-15 9-19 19-16 24-31 60-3 2-50-27-60-29-81-34-75-36z"/>
<path fill="#0000f2" d="M9 9l34 16 16 19 27 50 28 62 32 60 19 26 97 43 90 26 17 10 42 35 27 14 0-4-24-42-4-10 1-4 14 5 6 0 5 3 10 1 11 5 4-1 10 5 8 0 16 8 12 2 23 12 79-149 19-26 11-11 16-9-281-133-15 9-19 19-16 24-31 60-3 2-50-27-60-29-81-34-75-36z"/>
<path fill="#000dff" d="M9 9l34 16 16 19 27 50 38 82 22 40 14 20 3 0 53 26 38 16 80 25 15 8 3 0 17 10 31 25 32 18 3-1-21-37-11-25-1-10 26 12 7 0 14 7 8 0 9 5 8 0 14 8 6-1 28 14 14 3 73-138 19-26 11-11 16-9-281-133-15 9-19 19-16 24-31 60-3 2-50-27-60-29-81-34-75-36z"/>
<path fill="#0026ff" d="M9 9l34 16 16 19 27 50 38 82 22 40 10 14 12 4 29 15 50 22 76 25 22 9 59 40 25 13 2 0-19-35-20-48 1-2 50 23 4-1 16 8 6-1 16 8 6-1 23 12 8 0 19 9 68-129 19-26 11-11 16-9-281-133-15 9-19 19-16 24-31 60-3 2-50-27-60-29-81-34-75-36z"/>
<path fill="#0040ff" d="M9 9l34 16 16 19 27 50 38 82 27 47 80 37 101 36 18 9 41 28 34 19 0-5-13-23-22-50-7-19 1-3 5 2 3 5 11 4 9 8 12 6 17 4 17 9 11 1 12 7 7-1 20 11 12 1 26 13 39-78 24-43 19-26 11-11 16-9-281-133-15 9-19 19-16 24-31 60-3 2-50-27-60-29-81-34-75-36z"/>
<path fill="#0059ff" d="M9 9l34 16 16 19 27 50 38 82 23 41 6 1 80 38 94 34 28 15 32 22 34 19 2 0-12-23-37-87 1-2 7 2 5 7 13 5 4 6 16 6 32 17 10 0 16 9 9 0 22 11 7-1 34 18 35-70 24-43 19-26 11-11 16-9-281-133-15 9-19 19-16 24-31 60-3 2-50-27-60-29-81-34-75-36z"/>
<path fill="#0073ff" d="M9 9l34 16 16 19 27 50 38 82 20 35 6 1 66 32 113 43 25 14 38 25 25 13-1-6-51-116 1-2 5 2 5 7 17 7 2 5 16 6 7 8 30 14 9 0 18 10 9 0 24 12 4-2 8 3 34 18 47-91 16-25 22-25 16-9-281-133-15 9-19 19-16 24-31 60-3 2-50-27-60-29-81-34-75-36z"/>
<path fill="#008cff" d="M9 9l34 16 16 19 16 28 39 84 26 48 71 33 114 44 66 40 22 11-1-6-29-68-24-51 0-4 22 8 3 6 19 8 2 5 43 19 28 15 7-1 21 11 13 1 12 8 30 13 42-82 16-25 22-25 16-9-281-133-15 9-19 19-16 24-31 60-3 2-50-27-60-29-81-34-75-36z"/>
<path fill="#00a6ff" d="M9 9l34 16 16 19 16 28 39 84 22 41 104 47 21 6 8 5 18 5 26 11 31 16 32 21 34 18-27-67-33-69 0-6 4 5 34 15 3 6 20 8 2 5 28 12 32 17 10 0 25 13 3-2 5 1 20 12 17 7 7-1 4 3 37-71 16-25 22-25 16-9-281-133-15 9-19 19-16 24-31 60-3 2-50-27-60-29-81-34-75-36z"/>
<path fill="#00bfff" d="M9 9l34 16 16 19 16 28 39 84 18 34 3 0 57 28 26 10 14 8 21 6 11 6 21 6 27 12 94 53-2-9-28-66-23-48-17-28 1-2 24 11 2 5 4 3 29 12 3 6 22 9 3 6 47 22 14 2 20 11 10 0 32 17 9 0 14 6 31-62 16-25 22-25 16-9-281-133-15 9-19 19-16 24-31 60-3 2-50-27-60-29-81-34-75-36z"/>
<path fill="#00d9ff" d="M9 9l34 16 16 19 16 28 39 84 14 26 79 36 18 10 24 7 7 5 24 7 36 16 64 38 22 11 1-2-5-14-43-96-26-42-9-9 1-1 48 22 5 7 30 13 4 7 23 9 11 10 28 13 8-1 28 15 10 0 33 17 7-1 18 8 27-53 16-25 22-25 16-9-281-133-15 9-19 19-16 24-31 60-3 2-50-27-60-29-81-34-75-36z"/>
<path fill="#00f2ff" d="M340 50l-24 38-19 38 80 37 4 3 2 5 27 11 8 9 25 10 7 7 9 5 7 2 4-1 39 19 4-2 33 17 9 0 22 11 24-45 16-25 22-25 16-9-281-133-15 9zM9 9l34 16 16 19 27 50 38 81 90 43 28 9 12 7 19 5 40 18 70 41 16 7-2-10-14-34-30-64-23-36-15-15-21-12-4 2-99-51-92-39-68-33-12-4z"/>
<path fill="#0dfff2" d="M301 117l87 41 3 3 0 3 27 11 4 3 2 5 53 23 28 15 9 0 35 17 4-2 28 14 6-8 14-28 19-29 19-21 16-9-281-133-15 9-19 19-16 24zM9 9l34 16 16 19 27 50 36 77 7 1 74 36 25 8 11 7 24 7 13 7 24 9 14 8 5 1 27 17 27 14 6 5 5 1 12 7 0-5-10-25-34-73-23-36-16-15-20-11-3 2-99-51-92-39-68-33-12-4z"/>
<path fill="#26ffd9" d="M305 109l93 43 2 5 4 3 27 11 2 5 9 5 17 6 46 23 9 0 31 16 8-1 32 17 2 0 22-41 19-26 11-11 16-9-281-133-15 9-19 19-16 24zM9 9l34 16 16 19 27 50 32 69 3 0 65 32 33 12 11 7 29 9 7 5 30 11 97 53-11-32-29-62-24-37-17-16-19-10-3 1-99-51-92-39-68-33-12-4z"/>
<path fill="#40ffbf" d="M310 100l45 23 51 22 7 8 28 12 4 6 57 27 10 0 31 17 4-2 4 1 39 20 19-33 19-26 11-11 16-9-281-133-15 9-19 19-16 24zM9 9l34 16 16 19 27 50 28 62 6 1 52 26 38 15 11 7 29 9 7 5 19 6 31 14 54 32 29 14-8-24-30-64-23-36-16-15-20-11-3 1-50-27-60-29-81-34-75-36z"/>
<path fill="#59ffa6" d="M314 92l37 14 23 15 46 20 5 7 32 14 5 6 32 15 11 1 34 18 6-1 49 24 2 0 13-24 19-26 11-11 16-9-281-133-15 9-19 19zM9 9l34 16 16 19 16 28 36 76 81 37 15 9 29 9 11 7 17 5 29 12 71 41 23 10-6-19-29-62-25-38-17-15-18-9-2 1-99-51-92-39-68-33-12-4z"/>
<path fill="#73ff8c" d="M321 80l5 4 3 0 60 29 12 10 34 15 3 5 74 34 17 10 6 2 5-1 46 22 8 0 6 4 3-2 14-23 11-14 11-11 16-9-281-133-15 9-19 19zM9 9l34 16 16 19 27 50 21 47 57 26 30 16 28 9 16 9 18 5 43 19 79 45 6 1-10-27-23-48-22-34-18-17-19-10-2 1-50-27-60-29-81-34-75-36z"/>
<path fill="#8cff73" d="M326 71l5 5 3 0 20 11 59 27 5 6 35 16 4 5 41 19 18 10 9 3 7 0 26 14 13 5 7 0 27 14 2 0 10-17 11-14 11-11 16-9-281-133-15 9-19 19zM9 9l34 16 16 19 16 28 31 65 12 4 57 28 41 15 13 8 31 10 13 8 39 17 15 10 54 29-1-7-28-61-24-37-16-15-132-66-81-34-75-36z"/>
<path fill="#a6ff59" d="M331 64l31 13 24 14 46 21 14 11 18 7 36 19 31 13 16 9 25 7 39 20 17-23 11-11 16-9-281-133-15 9-19 19zM9 9l34 16 16 19 16 28 27 57 59 28 42 16 10 7 29 9 16 9 27 11 25 12 20 13 48 25-5-16-20-43-25-39-15-14-21-12-2 1-50-27-60-29-81-34-75-36z"/>
<path fill="#bfff40" d="M338 53l9 6 77 36 14 10 26 12 12 9 37 18 3 0 13 7 16 4 27 14 11 4 5 0 30 14 21-23 16-9-281-133-15 9zM9 9l34 16 16 19 16 28 23 49 61 29 25 10 16 9 33 11 16 9 31 12 42 22 6 5 47 23-17-40-13-24-18-27-17-15-130-65-81-34-75-36z"/>
<path fill="#d9ff26" d="M346 44l77 37 9 7 30 14 14 10 67 32 20 6 33 16 15 4 15 8 13-14 16-9-281-133-15 9zM9 9l26 13 3 0 9 7 20 28 28 57 78 36 13 8 33 11 18 10 19 6 29 13 52 30 34 16-10-26-15-29-17-26-21-19-128-64-81-34-75-36z"/>
<path fill="#f2ff0d" d="M356 34l5 4 75 35 74 41 73 32 23 8 29 14 20-13-281-133zM9 9l26 13 3 0 9 7 20 28 26 53 4 0 74 36 34 12 18 10 35 12 110 59-6-18-15-30-19-29-17-16-131-66-81-34-75-36z"/>
<path fill="#fff200" d="M504 84l17 11 26 13 33 12zM9 9l26 13 3 0 9 7 20 28 23 46 69 32 42 16 8 6 31 10 26 12 99 53-12-30-26-41-18-16-129-65-81-34-75-36z"/>
<path fill="#ffd900" d="M9 9l26 13 3 0 9 7 20 28 19 38 52 25 45 18 18 10 33 11 15 9 29 12 36 19 6 5 41 20-6-17-16-28-12-18-18-16-129-65-81-34-75-36z"/>
<path fill="#ffbf00" d="M9 9l26 13 3 0 9 7 20 28 16 31 59 28 21 8 22 12 35 12 12 7 27 11 53 27 6 5 40 19-9-21-18-29-10-12-11-9-119-61-92-39-75-36z"/>
<path fill="#ffa600" d="M9 9l26 13 3 0 9 7 12 15 20 37 97 46 32 11 21 11 28 11 40 20 30 18 27 12-3-10-23-37-18-17-119-61-92-39-75-36z"/>
<path fill="#ff8c00" d="M9 9l34 16 16 19 17 31 89 42 36 13 14 8 47 19 63 35 26 12-6-14-18-28-19-17-117-60-92-39-75-36z"/>
<path fill="#ff7300" d="M9 9l34 16 16 19 14 26 5 0 65 32 108 45 96 51-2-7-19-30-14-13-26-15-95-48-92-39-68-33-12-4z"/>
<path fill="#ff5900" d="M9 9l34 16 16 19 11 19 3 0 68 33 103 43 38 19 40 23 21 9-11-20-12-15-11-9-15-7-8-6-95-48-92-39-68-33-12-4z"/>
<path fill="#ff4000" d="M9 9l34 16 16 19 8 13 8 2 48 24 116 49 94 50 5 1-11-20-13-13-28-17-95-48-92-39-68-33-12-4z"/>
<path fill="#ff2600" d="M9 9l34 16 16 19 3 6 10 3 62 30 102 43 98 51-9-16-14-13-71-39-60-29-103-44-46-23-12-4z"/>
<path fill="#ff0d00" d="M9 9l34 16 15 18 68 32 117 50 87 46-4-8-15-15-71-39-60-29-103-44-46-23-12-4z"/>
<path fill="#f20000" d="M9 9l34 16 10 12 10 3 64 31 101 44 97 49-3-5-13-12-13-6-10-8-76-39-111-48-75-36z"/>
<path fill="#d90000" d="M9 9l26 13 3 0 10 9 151 69 119 57-7-8-17-9-8-7-76-39-111-48-75-36z"/>
<path fill="#bf0000" d="M9 9l26 13 3 0 9 7 188 87 54 27 10 1 10 5-17-10-6-6-95-48-92-39-75-36z"/>
<path fill="#a60000" d="M9 9l26 13 3 0 8 6 4 0 239 114 7 0-10-9-95-48-92-39-75-36z"/>
<path fill="#8c0000" d="M9 9l71 32 209 100 4 0-7-8-95-48-92-39-75-36z"/>
</g>
<g class="ax">
<path d="M291.5 1279.4L369.5 1316.4"/>
<path d="M369.5 1316.4L470.9 1288.3"/>
<path d="M291.5 1279.4L291.5 1199.2"/>
<path d="M470.9 1288.3L470.9 1208.1"/>
<path d="M291.5 1199.2L369.5 1236.2"/>
<path d="M369.5 1236.2L470.9 1208.1"/>
<path d="M369.5 1316.4L369.5 1236.2"/>
<path d="M330.5 1297.9L334 1296.9"/>
<path d="M420.2 1302.4L417.4 1301.1"/>
<path d="M369.5 1316.4L366.6 1317.2"/>
<path d="M369.5 1316.4L372.2 1317.7"/>
<path d="M291.5 1279.4L288.6 1280.2"/>
<path d="M470.9 1288.3L473.6 1289.6"/>
<path d="M291.5 1239.3L289.1 1240"/>
<path d="M291.5 1199.2L289.1 1199.9"/>
</g>
<g class="tk"><text x="288.9" y="1282.4" text-anchor="end">0</text><text x="288.4" y="1242.5" text-anchor="end">0.5</text><text x="287.8" y="1201.9" text-anchor="end">1</text><text x="288.6" y="1291.2" text-anchor="end">90</text><text x="324.1" y="1309.9" text-anchor="middle">0</text><text x="364.3" y="1327.8" text-anchor="end">-90</text><text x="373.5" y="1328.2">-45</text><text x="425.8" y="1314.3" text-anchor="middle">0</text><text x="474.4" y="1300.3">45</text><text x="359.6" y="1319.1" text-anchor="end">Orientation Angle</text><text x="393.2" y="1324.2">Ellipticity Angle</text></g>
</g>
<!-- plot q -->
<g>
<g class="ax">
<path d="M557.5 1279.4L658.7 1251.3"/>
<path d="M658.7 1251.3L736.5 1288.3"/>
<path d="M658.7 1251.3L658.7 1171.1"/>
<path d="M557.5 1199.2L658.7 1171.1"/>
<path d="M658.7 1171.1L736.5 1208.1"/>
<path d="M557.5 1239.3L658.7 1211.2" class="d"/>
<path d="M658.7 1211.2L736.5 1248.2" class="d"/>
<path d="M608.1 1265.4L608.1 1185.2" class="d"/>
<path d="M697.6 1269.8L697.6 1189.6" class="d"/>
<path d="M685.9 1302.4L608.1 1265.4" class="d"/>
<path d="M596.4 1297.9L697.6 1269.8" class="d"/>
</g>
<g transform="translate(564 1174) scale(.25)" fill-rule="evenodd">
<path fill="#00008c" d="M9 126l33 15 12 17 24 45 40 97 15 32 16 27 19 20 246 118 48 21 15-4 12-11 11-15 11-20 24-57 54-163 16-38 15-31 12-18 10-10 11-6-279-133-8 3-15 14-18 30-28 67-38 115-18-7-223-107-7-2z"/>
<path fill="#0000a6" d="M9 126l33 15 12 17 24 45 40 97 15 32 16 27 19 20 276 132 2 0-11-13-12-19-1-6 4 0 61 30 2 0 7-9 15-26 13-28 15-40 50-152 20-47 11-22 12-18 10-10 11-6-279-133-8 3-15 14-18 30-28 67-38 115-18-7-223-107-7-2z"/>
<path fill="#0000bf" d="M9 126l33 15 12 17 24 45 40 97 15 32 16 27 17 18 81 37 20 11 22 9 20 11 22 9 107 52 0-3-15-22-11-26 5 0 79 39 15-26 13-28 15-40 50-152 20-47 11-22 12-18 10-10 11-6-279-133-8 3-15 14-18 30-28 67-38 115-18-7-223-107-7-2z"/>
<path fill="#0000d9" d="M9 126l33 15 12 17 24 45 52 123 15 27 15 18 10 3 261 125 1-3-10-15-11-23-7-22 6 1 93 45 15-28 14-35 57-171 20-47 11-22 12-18 10-10 11-6-279-133-8 3-15 14-18 30-28 67-38 115-18-7-223-107-7-2z"/>
<path fill="#0000f2" d="M9 126l33 15 12 17 24 45 52 123 15 27 9 11 29 12 244 117 1-2-7-10-9-19-15-39 4-1 107 51 10-19 17-43 54-163 16-38 15-31 12-18 10-10 11-6-279-133-8 3-15 14-18 30-28 67-38 115-18-7-223-107-7-2z"/>
<path fill="#000dff" d="M9 126l33 15 12 17 24 45 44 106 25 47 33 14 242 116-23-54-7-22 3-1 114 55 4 0 26-64 42-129 24-61 15-31 12-18 10-10 11-6-279-133-8 3-15 14-18 30-28 67-38 115-18-7-223-107-7-2z"/>
<path fill="#0026ff" d="M9 126l33 15 12 17 24 45 44 106 21 40 274 130 1-2-18-41-14-40 3-1 128 61 22-56 50-152 16-38 15-31 12-18 10-10 11-6-279-133-8 3-15 14-18 30-28 67-38 115-18-7-223-107-7-2z"/>
<path fill="#0040ff" d="M9 126l33 15 12 17 24 45 40 97 21 42 5 1 270 129-5-16-14-31-14-39 1-5 123 59 16 6 18-46 50-152 16-38 15-31 12-18 10-10 11-6-279-133-8 3-15 14-18 30-28 67-38 115-18-7-223-107-7-2z"/>
<path fill="#0059ff" d="M9 126l33 15 12 17 24 45 40 97 17 35 31 13 242 116 2 0-3-11-13-30-19-55 2-1 124 60 24 10 14-37 50-152 16-38 15-31 12-18 10-10 11-6-279-133-8 3-15 14-18 30-28 67-38 115-18-7-223-107-7-2z"/>
<path fill="#0073ff" d="M9 126l33 15 12 17 24 45 40 97 13 27 273 130 3 0-24-62-14-41 3-1 156 74 11-27 50-152 16-38 15-31 12-18 10-10 11-6-279-133-8 3-15 14-18 30-28 67-38 115-18-7-223-107-7-2z"/>
<path fill="#008cff" d="M9 126l33 15 12 17 24 45 40 97 11 22 10 3 261 125 3 0-3-12-38-99 3-1 167 79 57-169 20-47 11-22 12-18 10-10 11-6-279-133-8 3-15 14-18 30-28 67-38 115-18-7-223-107-7-2z"/>
<path fill="#00a6ff" d="M9 126l33 15 12 17 24 45 47 112 14 5 260 125 1-4-40-104-4-14 1-1 179 85 53-159 20-47 11-22 12-18 10-10 11-6-279-133-8 3-15 14-18 30-28 67-38 115-18-7-223-107-7-2z"/>
<path fill="#00bfff" d="M9 126l33 15 12 17 24 45 44 105 27 11 246 118 2 0-9-29-29-75-6-11 0-4 5 0 179 85 52-155 20-47 11-22 12-18 10-10 11-6-279-133-8 3-15 14-18 30-28 67-38 115-18-7-223-107-7-2z"/>
<path fill="#00d9ff" d="M9 126l33 15 12 17 24 45 40 97 25 10 251 120-5-18-22-58-24-52 3-1 195 93 48-146 20-47 11-22 12-18 10-10 11-6-279-133-8 3-15 14-18 30-28 67-38 115-18-7-223-107-7-2z"/>
<path fill="#00f2ff" d="M9 126l33 15 12 17 24 45 38 89 271 129 3 0 0-4-23-62-16-37-18-34 4 0 207 99 45-135 20-47 11-22 12-18 10-10 11-6-279-133-8 3-15 14-18 30-28 67-38 115-18-7-223-107-7-2z"/>
<path fill="#0dfff2" d="M9 126l33 15 12 17 24 45 35 84 21 8 253 121-2-13-27-69-29-56-12-14 2-1 229 109 41-124 20-47 11-22 12-18 10-10 11-6-279-133-8 3-15 14-18 30-28 67-38 115-18-7-223-107-7-2z"/>
<path fill="#26ffd9" d="M9 126l33 15 12 17 24 45 32 77 4 0 271 129-10-32-27-64-20-35-14-15-7-5-36-17-3-3-1 3-5-1-236-113-7-2zM369 13l-18 16-7 10-24 48-15 39-36 109 280 133 40-120 20-47 11-22 12-18 10-10 11-6-156-75-20-8-22-12-20-8-22-12-20-8-16-9z"/>
<path fill="#40ffbf" d="M9 126l33 15 4 5 32 57 28 68 276 130-17-49-19-42-20-34-14-14-44-23-3 2-239-114-7-2zM369 13l-18 16-7 10-24 48-15 39-32 100 280 132 36-110 20-47 11-22 12-18 10-10 11-6-156-75-20-8-22-12-20-8-22-12-20-8-16-9z"/>
<path fill="#59ffa6" d="M9 126l33 15 4 5 32 57 25 60 274 130 2-1-13-37-22-48-17-29-17-17-42-21-3 1-239-114-7-2zM369 13l-18 16-7 10-24 48-15 39-29 88 280 133 33-99 20-47 11-22 12-18 10-10 11-6-156-75-20-8-22-12-20-8-22-12-20-8-16-9z"/>
<path fill="#73ff8c" d="M9 126l33 15 4 5 32 57 23 56 5 0 269 128 0-6-10-28-20-44-19-32-15-15-43-22-3 1-239-114-7-2zM369 13l-18 16-18 30-24 56-29 88 280 133 29-88 20-47 11-22 12-18 10-10 11-6-156-75-20-8-22-12-20-8-22-12-20-8-16-9z"/>
<path fill="#8cff73" d="M9 126l33 15 4 5 32 57 20 48 35 15 240 115-1-8-7-19-22-48-16-27-18-18-40-20-7-1-236-113-7-2zM369 13l-18 16-18 30-24 56-28 84 280 134 28-85 20-47 11-22 12-18 10-10 11-6-156-75-20-8-22-12-20-8-22-12-20-8-16-9z"/>
<path fill="#a6ff59" d="M9 126l33 15 27 44 26 58 18 7 257 122-13-37-12-25-19-32-16-16-284-135-7-2zM369 13l-18 16-18 30-21 48-28 82 280 133 28-82 28-61 12-18 10-10 11-6-156-75-20-8-22-12-20-8-22-12-20-8-16-9z"/>
<path fill="#bfff40" d="M9 126l34 16 26 43 22 49 275 130 0-4-9-24-14-29-17-29-15-15-43-22-19-7-223-107-7-2zM366 15l-15 14-18 30-21 48-24 71 280 132 24-70 28-61 12-18 10-10 11-6-156-75-20-8-22-12-20-8-22-12-20-8-16-9-5-1z"/>
<path fill="#d9ff26" d="M9 126l34 16 26 43 20 45 4 0 270 129 0-6-7-19-18-36-11-18-9-11-10-8-282-134-7-2zM366 15l-15 14-18 30-21 48-20 61 280 132 20-60 28-61 12-18 10-10 11-6-156-75-20-8-22-12-20-8-22-12-20-8-16-9-5-1z"/>
<path fill="#f2ff0d" d="M9 126l34 16 26 43 17 37 275 130-5-17-21-42-15-21-14-12-280-133-7-2zM366 15l-15 14-18 30-21 48-19 57 280 133 19-57 28-61 12-18 10-10 11-6-156-75-20-8-22-12-20-8-22-12-20-8-16-9-5-1z"/>
<path fill="#fff200" d="M9 126l34 16 26 43 13 29 39 17 237 113-10-26-15-28-14-19-12-10-281-134-7-2zM362 18l-14 15-15 26-21 48-16 46 280 133 16-46 28-61 12-18 10-10 11-6-156-75-20-8-22-12-20-8-22-12-20-8-16-9-5-1z"/>
<path fill="#ffd900" d="M9 126l34 16 15 23 21 41 275 130-6-17-14-27-9-14-18-17-281-134-7-2zM362 18l-14 15-12 20-16 34-20 55 280 133 12-35 28-61 12-18 10-10 11-6-156-75-20-8-22-12-20-8-22-12-20-8-16-9-5-1z"/>
<path fill="#ffbf00" d="M9 126l34 16 11 16 22 41 274 130 0-4-6-14-16-28-11-14-12-9-279-133-7-2zM362 18l-14 15-12 20-16 34-17 45 281 133 8-25 28-61 12-18 10-10 11-6-156-75-20-8-22-12-20-8-22-12-20-8-16-9-5-1z"/>
<path fill="#ffa600" d="M9 126l34 16 11 16 19 36 17 6 257 123-3-11-13-24-12-16-11-10-282-135-7-2zM362 18l-14 15-12 20-16 34-15 41 280 134 7-22 28-61 12-18 10-10 11-6-156-75-20-8-22-12-20-8-22-12-20-8-16-9-5-1z"/>
<path fill="#ff8c00" d="M9 126l33 15 12 17 15 28 56 25 219 105-19-37-19-18-280-134-7-2zM351 29l-18 30-25 59 280 133 17-41 15-31 12-18 10-10 10-5 0-2-97-45-16-9-3 0-39-20-20-8-22-12-20-8-22-12-20-8-16-9-8 0z"/>
<path fill="#ff7300" d="M9 126l33 15 12 17 11 21 6 1 268 128-1-5-12-22-12-14-14-9-274-131-7-2zM351 29l-18 30-21 48 279 133 8-13 6-17 15-31 12-18 10-10 11-6-156-75-20-8-22-12-20-8-22-12-20-8-16-9-8 0z"/>
<path fill="#ff5900" d="M9 126l33 15 12 17 7 14 4 0 270 128-10-20-18-18-38-18-5-4-238-113-7-2zM351 29l-15 24-20 45 3 0 22 12 20 8 22 12 20 8 22 12 20 8 22 12 20 8 110 53 23-52 12-18 10-10 11-6-156-75-20-8-22-12-20-8-22-12-20-8-16-9-8 0z"/>
<path fill="#ff4000" d="M9 126l33 15 16 24 8 2 16 9 249 117-4-9-9-12-15-12-277-133-7-2zM320 87l280 134 20-42 12-18 10-10 11-6-279-133-5 1-7 5-14 15-12 20z"/>
<path fill="#ff2600" d="M9 126l33 15 12 17 3 0 269 128-2-6-15-16-39-19-6-5-238-113-7-2zM324 79l280 133 16-33 12-18 10-10 11-6-279-133-5 1-7 5-14 15-12 20z"/>
<path fill="#ff0d00" d="M9 126l33 15 9 11 20 8 250 119-4-7-10-9-39-19-4-4-238-113-7-2zM329 68l0 3 279 132 12-24 12-18 10-10 11-6-279-133-8 3-15 14-15 24z"/>
<path fill="#f20000" d="M9 126l33 15 8 7 236 112 6 1 23 11-9-9-37-18-5-5-238-113-7-2zM333 59l0 2 4 3 274 130 2 0 7-15 12-18 10-10 11-6-279-133-8 3-15 14z"/>
<path fill="#d90000" d="M9 126l278 133 6 0 11 4-11-7-26-12-3-4-238-113-7-2zM337 52l280 134 15-25 10-10 11-6-279-133-8 3-15 14z"/>
<path fill="#bf0000" d="M9 126l276 131 9 1-28-14-2-4-238-113-7-2zM342 43l11 7 267 127 2 0 10-16 10-10 11-6-279-133-5 1-7 5-11 11z"/>
<path fill="#a60000" d="M9 126l29 14 15 4 237 113-24-12-3-5-237-113-7-2zM348 33l5 4 236 111 39 20 4-7 10-10 11-6-156-75-20-8-22-12-20-8-22-12-20-8-16-9-5-1-6 3z"/>
<path fill="#8c0000" d="M356 24l279 134 7-7 11-6-156-75-20-8-22-12-20-8-22-12-20-8-16-9-8 0z"/>
</g>
<g class="ax">
<path d="M557.5 1279.4L635.3 1316.4"/>
<path d="M635.3 1316.4L736.5 1288.3"/>
<path d="M557.5 1279.4L557.5 1199.2"/>
<path d="M736.5 1288.3L736.5 1208.1"/>
<path d="M557.5 1199.2L635.3 1236.2"/>
<path d="M635.3 1236.2L736.5 1208.1"/>
<path d="M635.3 1316.4L635.3 1236.2"/>
<path d="M596.4 1297.9L599.9 1296.9"/>
<path d="M685.9 1302.4L683.1 1301.1"/>
<path d="M635.3 1316.4L632.4 1317.2"/>
<path d="M635.3 1316.4L638 1317.7"/>
<path d="M557.5 1279.4L554.6 1280.2"/>
<path d="M736.5 1288.3L739.2 1289.6"/>
<path d="M557.5 1239.3L555.1 1240"/>
<path d="M557.5 1199.2L555.1 1199.9"/>
</g>
<g class="tk"><text x="554.9" y="1282.4" text-anchor="end">0</text><text x="554.4" y="1242.5" text-anchor="end">0.5</text><text x="553.8" y="1201.9" text-anchor="end">1</text><text x="554.6" y="1291.2" text-anchor="end">90</text><text x="590" y="1309.9" text-anchor="middle">0</text><text x="630.1" y="1327.8" text-anchor="end">-90</text><text x="639.3" y="1328.2">-45</text><text x="691.5" y="1314.3" text-anchor="middle">0</text><text x="740" y="1300.3">45</text><text x="625.4" y="1319.1" text-anchor="end">Orientation Angle</text><text x="659" y="1324.2">Ellipticity Angle</text></g>
</g>
<!-- plot r -->
<g>
<g class="ax">
<path d="M819.7 1279.4L920.7 1251.3"/>
<path d="M920.7 1251.3L998.5 1288.3"/>
<path d="M920.7 1251.3L920.7 1171.1"/>
<path d="M819.7 1199.2L920.7 1171.1"/>
<path d="M920.7 1171.1L998.5 1208.1"/>
<path d="M819.7 1239.3L920.7 1211.2" class="d"/>
<path d="M920.7 1211.2L998.5 1248.2" class="d"/>
<path d="M870.2 1265.4L870.2 1185.2" class="d"/>
<path d="M959.6 1269.8L959.6 1189.6" class="d"/>
<path d="M948 1302.4L870.2 1265.4" class="d"/>
<path d="M858.6 1297.9L959.6 1269.8" class="d"/>
</g>
<g transform="translate(826 1174) scale(.25)" fill-rule="evenodd">
<path fill="#00008c" d="M10 113l30 14 11 13 27 53 53 128 15 29 11 16 11 11 13 8 263 125 18 7 10 0 10-5 12-13 11-17 15-31 11-28 41-124 5-10 24-69 15-33 16-26 10-10 11-6-279-133-8 3-14 13-12 18-11 22-29 74-28 87-2 2-247-118z"/>
<path fill="#0000a6" d="M10 113l30 14 11 13 27 53 53 128 15 29 11 16 11 11 13 8 268 127-15-19-9-20 4 0 62 29 6-7 19-35 12-29 19-53 25-79 5-10 24-69 12-27 19-32 10-10 11-6-279-133-8 3-14 13-12 18-11 22-29 74-28 87-2 2-247-118z"/>
<path fill="#0000bf" d="M10 113l30 14 11 13 27 53 53 128 15 29 11 16 11 11 14 5 255 122 2 0 0-2-18-31-5-13 1-3 81 38 18-33 15-37 41-124 5-10 24-69 15-33 16-26 10-10 11-6-279-133-8 3-14 13-12 18-11 22-29 74-28 87-2 2-247-118z"/>
<path fill="#0000d9" d="M10 113l30 14 11 13 27 53 53 128 15 29 15 20 33 14 238 114 2 0-1-4-16-30-9-24 1-2 3 0 35 18 58 26 15-31 11-28 41-124 5-10 24-69 15-33 16-26 10-10 11-6-279-133-8 3-14 13-12 18-11 22-29 74-28 87-2 2-247-118z"/>
<path fill="#0000f2" d="M10 113l30 14 11 13 27 53 53 128 15 29 10 14 1-1 271 129 1-3-17-35-10-29 2-1 105 50 11-23 19-50 33-102 5-10 24-69 15-33 16-26 10-10 11-6-279-133-8 3-14 13-12 18-11 22-29 74-28 87-2 2-247-118z"/>
<path fill="#000dff" d="M10 113l30 14 11 13 27 53 53 128 20 36 17 6 255 122 2 0-24-57-4-12 1-5 115 55 26-65 33-102 5-10 24-69 15-33 16-26 10-10 11-6-279-133-8 3-14 13-12 18-11 22-29 74-28 87-2 2-247-118z"/>
<path fill="#0026ff" d="M10 113l30 14 11 13 23 44 45 110 27 56 4 0 268 128 2 0 0-4-20-47-9-27 2-2 120 57 5 0 21-54 33-102 5-10 24-69 15-33 16-26 10-10 11-6-279-133-8 3-14 13-12 18-11 22-29 74-28 87-2 2-247-118z"/>
<path fill="#0040ff" d="M10 113l30 14 11 13 23 44 45 110 23 49 4 0 270 129 0-6-16-38-14-43 2-1 133 63 18-46 33-102 5-10 24-69 15-33 16-26 10-10 11-6-279-133-8 3-14 13-12 18-11 22-29 74-28 87-2 2-247-118z"/>
<path fill="#0059ff" d="M10 113l30 14 11 13 23 44 45 110 20 42 18 7 255 122 2 0-4-13-10-23-20-57 4-1 141 67 22-60 25-79 5-10 24-69 15-33 16-26 10-10 11-6-279-133-8 3-14 13-12 18-11 22-29 74-28 87-2 2-247-118z"/>
<path fill="#0073ff" d="M10 113l30 14 11 13 23 44 61 145 23 9 250 120 2 0-1-7-35-94 3-1 147 71 5 1 18-50 25-79 5-10 24-69 15-33 16-26 10-10 11-6-279-133-8 3-14 13-12 18-11 22-29 74-28 87-2 2-247-118z"/>
<path fill="#008cff" d="M10 113l30 14 11 13 27 53 53 128 10 3 22 12 20 8 223 107 1-2-40-107 4-1 16 9 145 68 15-40 25-79 5-10 24-69 15-33 16-26 10-10 11-6-279-133-8 3-14 13-12 18-11 22-29 74-28 87-2 2-247-118z"/>
<path fill="#00a6ff" d="M10 113l30 14 11 13 23 44 54 129 274 130 2-1-43-115 3-1 172 82 36-109 5-10 24-69 12-27 19-32 10-10 11-6-279-133-8 3-14 13-12 18-11 22-29 74-28 87-2 2-247-118z"/>
<path fill="#00bfff" d="M10 113l30 14 11 13 23 44 51 122 20 8 254 122 1-4-45-120 2-1 183 87 32-99 5-10 24-69 12-27 19-32 10-10 11-6-279-133-8 3-14 13-12 18-11 22-29 74-28 87-2 2-247-118z"/>
<path fill="#00d9ff" d="M10 113l30 14 11 13 23 44 49 117 24 10 248 119 2 0-1-8-44-115 4-1 185 88 31-95 5-10 24-69 12-27 19-32 10-10 11-6-279-133-8 3-14 13-12 18-11 22-29 74-28 87-2 2-247-118z"/>
<path fill="#00f2ff" d="M10 113l30 14 11 13 23 44 45 109 39 17 236 113-4-18-9-25-37-90 4 0 147 71 47 22 3 0 27-84 5-10 24-69 12-27 19-32 10-10 11-6-279-133-8 3-14 13-12 18-11 22-29 74-28 87-2 2-247-118z"/>
<path fill="#0dfff2" d="M10 113l30 14 11 13 23 44 42 101 20 8 255 122-2-11-12-34-6-11-20-52-17-35 1-1 213 102 42-124 23-56 19-32 10-10 11-6-279-133-8 3-14 13-12 18-11 22-29 74-28 87-2 2-247-118z"/>
<path fill="#26ffd9" d="M10 113l30 14 11 13 23 44 39 93 275 130-11-36-10-21-16-42-21-42-10-12 1-2 231 110 38-113 23-56 19-32 10-10 11-6-279-133-8 3-14 13-12 18-11 22-29 74-28 87-2 2-247-118z"/>
<path fill="#40ffbf" d="M300 241l3-1 4 3-2 1zM275 229l2-1 6 2 18 10-6 0zM10 113l30 14 11 13 23 44 24 60 14 29 3 0 270 129 0-7-9-26-6-11-14-38-15-33-14-23-12-14-9-6 1-1 18 7 228 109 37-110 23-56 19-32 10-10 11-6-279-133-8 3-14 13-12 18-11 22-29 74-27 82 3 4-4 0-2 3-247-118z"/>
<path fill="#59ffa6" d="M10 113l30 14 11 13 23 44 33 80 276 130-7-24-35-82-16-26-11-12-42-21-2 2-247-118zM369 13l-17 15-12 18-11 22-29 74-24 73 280 133 34-99 23-56 19-32 10-10 11-6-156-75-20-8-22-12-20-8-22-12-20-8-16-9z"/>
<path fill="#73ff8c" d="M10 113l30 14 11 13 23 44 24 60 6 11 276 131-4-15-29-70-21-37-14-15-40-20-2 2-247-118zM369 13l-17 15-12 18-11 22-29 74-20 62 280 133 30-88 23-56 19-32 10-10 11-6-156-75-20-8-22-12-20-8-22-12-20-8-16-9z"/>
<path fill="#8cff73" d="M10 113l30 14 11 13 23 44 27 65 274 130 1-1-1-8-34-81-14-23-14-16-40-20-3 1-247-118zM369 13l-17 15-12 18-11 22-29 74-18 55 280 133 28-81 23-56 19-32 10-10 11-6-156-75-20-8-22-12-20-8-22-12-20-8-16-9z"/>
<path fill="#a6ff59" d="M10 113l30 14 11 13 23 44 24 59 6 1 16 9 254 120-13-38-15-35-14-26-18-23-16-9-58-25-217-104zM369 13l-17 15-12 18-11 22-29 74-15 47 16 9 20 8 22 12 20 8 22 12 20 8 22 12 20 8 22 12 20 8 76 37 25-74 23-56 19-32 10-10 11-6-156-75-20-8-22-12-20-8-22-12-20-8-16-9z"/>
<path fill="#bfff40" d="M10 113l30 14 11 13 23 44 20 50 20 8 231 111 26 11-16-43-15-33-15-24-13-14-289-137zM366 15l-14 13-12 18-11 22-29 74-12 36 280 133 33-91 15-33 16-26 10-10 11-6-156-75-20-8-22-12-20-8-22-12-20-8-16-9-5-1z"/>
<path fill="#d9ff26" d="M10 113l30 14 11 13 23 44 17 42 29 12 247 118-13-37-16-34-11-18-15-17-289-137zM366 15l-14 13-12 18-11 22-29 74-8 26 5 1 275 131 29-80 15-33 16-26 10-10 11-6-156-75-20-8-22-12-20-8-22-12-20-8-16-9-5-1z"/>
<path fill="#f2ff0d" d="M10 113l30 14 11 13 23 44 16 38 29 12 244 117-3-16-19-44-15-25-13-15-293-139zM366 15l-14 13-12 18-11 22-36 96 280 133 28-77 15-33 16-26 10-10 11-6-156-75-20-8-22-12-20-8-22-12-20-8-16-9-5-1z"/>
<path fill="#fff200" d="M10 113l30 14 5 5 14 22 27 59 275 130-6-20-19-41-15-22-13-12-285-135zM362 18l-10 10-12 18-11 22-29 74-3 12 254 121 27 11 23-66 15-33 16-26 10-10 11-6-156-75-20-8-22-12-20-8-22-12-20-8-16-9-5-1z"/>
<path fill="#ffd900" d="M10 113l30 14 5 5 14 22 15 30 8 21 33 14 243 116-10-28-9-19-12-20-16-18-291-138zM362 18l-10 10-12 18-11 22-29 75 125 58 136 66 20 8 20-55 15-33 16-26 10-10 11-6-156-75-20-8-22-12-20-8-22-12-20-8-16-9-5-1z"/>
<path fill="#ffbf00" d="M10 113l30 14 5 5 14 22 20 43 275 130 0-4-19-42-15-22-11-10-289-137zM362 18l-10 10-12 18-15 31-20 55 280 133 16-45 15-33 16-26 10-10 11-6-156-75-20-8-22-12-20-8-22-12-20-8-16-9-5-1z"/>
<path fill="#ffa600" d="M10 113l30 14 5 5 14 22 19 39 12 4 261 125-5-18-12-24-15-22-10-9-289-137zM362 18l-10 10-12 18-15 31-19 52 280 133 15-42 23-47 8-12 10-10 11-6-156-75-20-8-22-12-20-8-22-12-20-8-16-9-5-1z"/>
<path fill="#ff8c00" d="M10 113l30 14 5 5 14 22 15 31 37 16 237 113-3-11-10-21-11-17-14-15-290-138zM352 28l-12 18-11 22-20 51 5 1 254 122 22 9 11-31 23-47 8-12 10-10 10-5 0-2-172-82-3 0-39-20-3 0-22-12-20-8-16-9-8 0z"/>
<path fill="#ff7300" d="M10 113l30 14 5 5 14 22 11 23 37 16 22 12 20 8 22 12 20 8 22 12 20 8 112 54-3-10-14-26-8-11-12-11-288-137zM352 28l-12 18-11 22-15 37 0 4 276 131 4 0 19-47 19-32 10-10 11-6-156-75-20-8-22-12-20-8-22-12-20-8-16-9-8 0z"/>
<path fill="#ff5900" d="M10 113l30 14 11 13 16 30 16 6 258 123-3-10-11-19-8-11-11-10-288-137zM352 28l-12 18-23 52 279 133 2-1 15-37 19-32 10-10 11-6-156-75-20-8-22-12-20-8-22-12-20-8-16-9-8 0z"/>
<path fill="#ff4000" d="M10 113l30 14 11 13 13 23 22 9 251 120-3-10-16-24-9-8-289-138zM321 89l278 132 2 0 15-34 16-26 10-10 11-6-279-133-8 3-14 13-12 18z"/>
<path fill="#ff2600" d="M10 113l30 14 11 13 8 15 274 130 0-3-10-17-16-16-287-137zM325 77l1 3 278 132 12-25 16-26 10-10 11-6-279-133-8 3-14 13-12 18z"/>
<path fill="#ff0d00" d="M10 113l30 14 11 13 5 9 273 129-8-15-13-13-53-27-235-111zM329 70l280 134 7-17 16-26 10-10 11-6-279-133-8 3-14 13-12 18z"/>
<path fill="#f20000" d="M10 113l30 14 13 16 20 8 251 120-2-6-10-12-37-18-6-5-246-117zM333 60l1 2 278 132 20-33 10-10 11-6-279-133-8 3-14 13z"/>
<path fill="#d90000" d="M10 113l30 14 8 9 271 128-3-6-9-8-36-17-2-3-246-117zM337 52l280 134 15-25 10-10 11-6-279-133-8 3-14 13z"/>
<path fill="#bf0000" d="M10 113l30 14 6 6 18 7 223 107 7 1 19 9-7-7-34-16-3-4-249-118zM342 43l1 2 256 121 22 12 11-17 10-10 11-6-279-133-5 1-7 5-10 10z"/>
<path fill="#a60000" d="M10 113l271 130 11 4 6 0-23-11-8-7-220-105-27-12zM349 33l5 4 274 130 14-16 11-6-156-75-20-8-22-12-20-8-22-12-20-8-16-9-5-1-6 3-14 13z"/>
<path fill="#8c0000" d="M10 113l106 49 172 83 5 0-21-10-5-6-220-105-27-12zM356 24l278 133 19-12-156-75-20-8-22-12-20-8-22-12-20-8-16-9-8 0z"/>
</g>
<g class="ax">
<path d="M819.7 1279.4L897.5 1316.4"/>
<path d="M897.5 1316.4L998.5 1288.3"/>
<path d="M819.7 1279.4L819.7 1199.2"/>
<path d="M998.5 1288.3L998.5 1208.1"/>
<path d="M819.7 1199.2L897.5 1236.2"/>
<path d="M897.5 1236.2L998.5 1208.1"/>
<path d="M897.5 1316.4L897.5 1236.2"/>
<path d="M858.6 1297.9L862.1 1296.9"/>
<path d="M948 1302.4L945.2 1301.1"/>
<path d="M897.5 1316.4L894.6 1317.2"/>
<path d="M897.5 1316.4L900.2 1317.7"/>
<path d="M819.7 1279.4L816.8 1280.2"/>
<path d="M998.5 1288.3L1001.2 1289.6"/>
<path d="M819.7 1239.3L817.3 1240"/>
<path d="M819.7 1199.2L817.3 1199.9"/>
</g>
<g class="tk"><text x="817.1" y="1282.4" text-anchor="end">0</text><text x="816.6" y="1242.5" text-anchor="end">0.5</text><text x="816" y="1201.9" text-anchor="end">1</text><text x="816.8" y="1291.2" text-anchor="end">90</text><text x="852.2" y="1309.9" text-anchor="middle">0</text><text x="892.3" y="1327.8" text-anchor="end">-90</text><text x="901.5" y="1328.2">-45</text><text x="953.6" y="1314.3" text-anchor="middle">0</text><text x="1002" y="1300.3">45</text><text x="887.6" y="1319.1" text-anchor="end">Orientation Angle</text><text x="921.2" y="1324.2">Ellipticity Angle</text></g>
</g>
</svg></body></html>
